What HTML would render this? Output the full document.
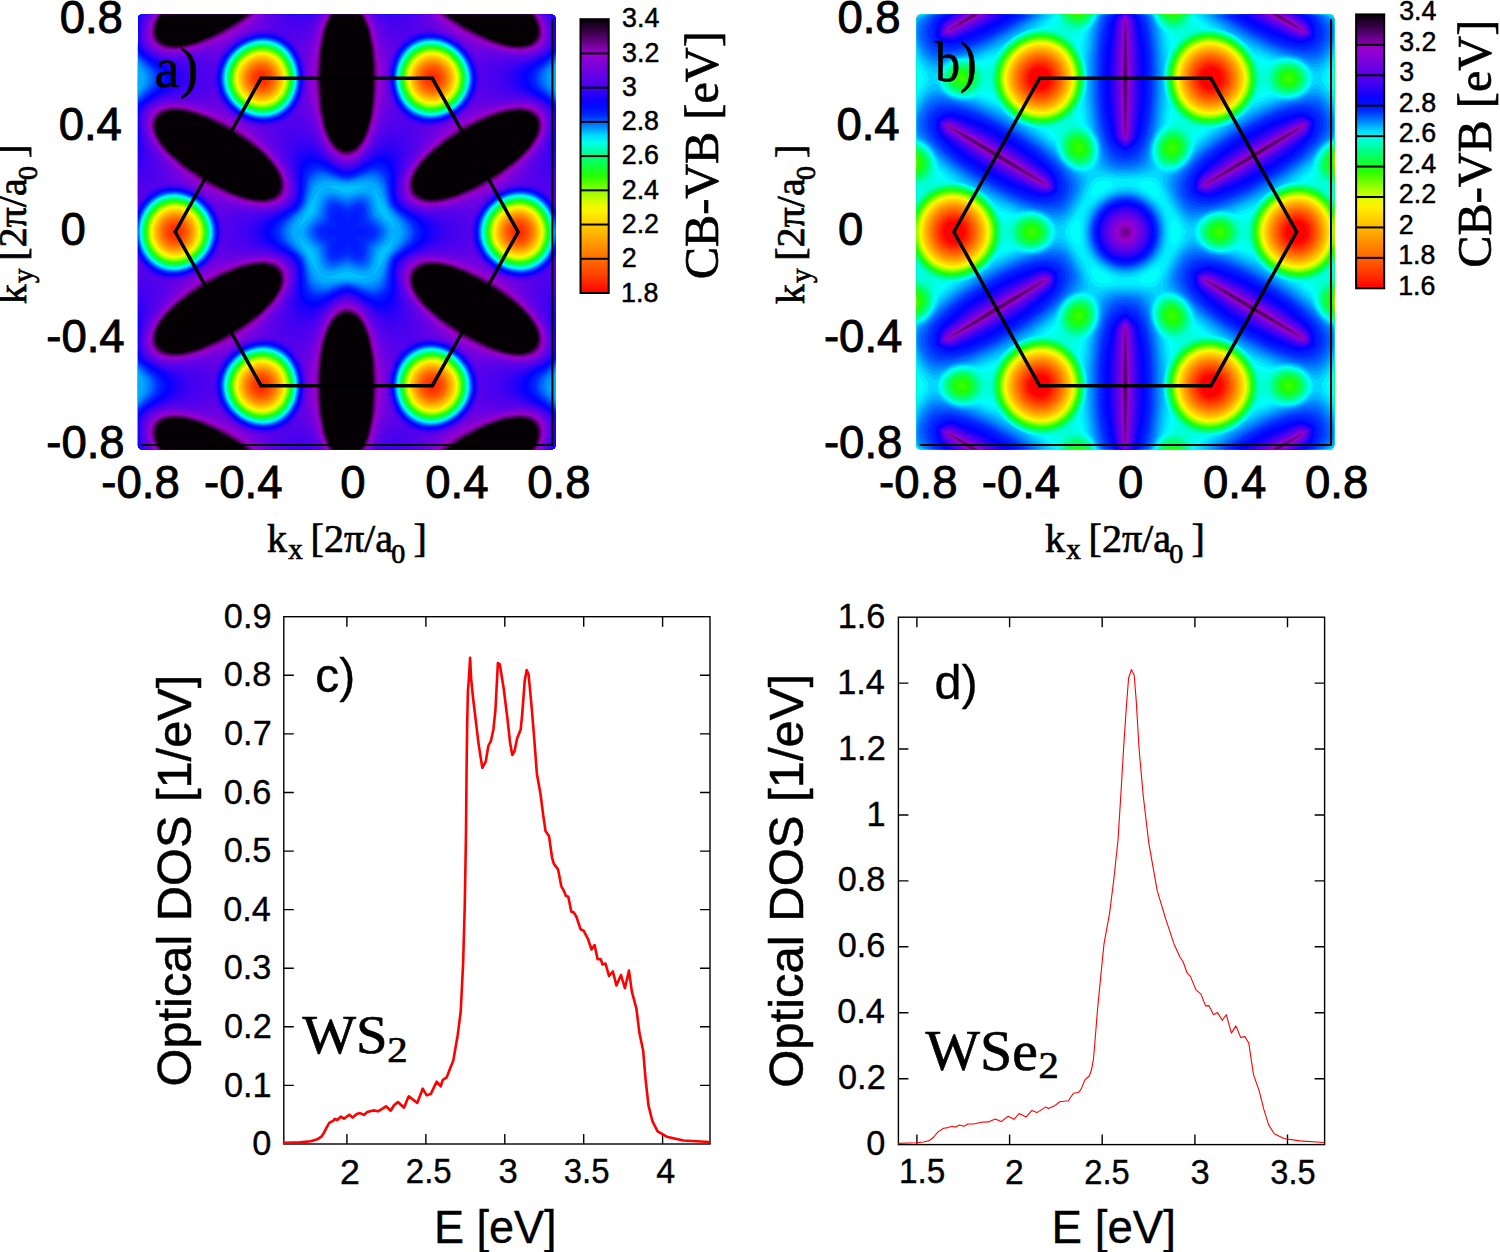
<!DOCTYPE html>
<html><head><meta charset="utf-8"><title>figure</title>
<style>
html,body{margin:0;padding:0;background:#fff;overflow:hidden}
svg{display:block}
.sa{font-family:"Liberation Sans", sans-serif;stroke:#000;stroke-width:0.9px}
.sb{font-family:"Liberation Sans", sans-serif;stroke:#000;stroke-width:0.35px}
.sc{font-family:"Liberation Sans", sans-serif;stroke:#000;stroke-width:0.5px}
.se{font-family:"Liberation Serif", serif;stroke:#000;stroke-width:0.7px}
</style></head><body>
<svg width="1500" height="1252" viewBox="0 0 1500 1252">
<rect width="1500" height="1252" fill="#fff"/>
<clipPath id="ca"><rect x="137.8" y="14.4" width="417.8" height="435.2" rx="4.5"/></clipPath>
<g clip-path="url(#ca)"><g transform="scale(0.5)" fill-rule="evenodd">
<rect x="276" y="29" width="836" height="870" fill="#ff0000"/>
<path fill="#ff0d00" d="M1112 900l-837-1 1-871 836 1 0 871z"/>
<path fill="#ff1600" d="M1112 900l-837-1 1-871 836 1 0 871z"/>
<path fill="#ff1f00" d="M1112 900l-837-1 1-871 836 1 0 871z"/>
<path fill="#ff2800" d="M1112 900l-837-1 1-871 836 1 0 871z"/>
<path fill="#ff3100" d="M1112 900l-837-1 1-871 836 1 0 871zM526 163l3-6-1-5-4-3-6 2-3 4 1 6 6 3 4-1zM869 163l3-4-1-6-3-3-6 0-4 5 1 6 5 3 5-1zM354 471l3-4 0-6-3-4-6 0-4 4 0 6 4 4 6 0zM1039 471l4-4 0-6-3-4-6 0-4 4-1 6 5 4 5 0zM524 779l4-4 1-6-3-4-6-1-4 4-1 5 3 4 6 2zM866 779l4-2 2-6-2-5-6-2-5 3-1 6 4 5 4 1z"/>
<path fill="#ff3a00" d="M1112 900l-837-1 1-871 836 1 0 871zM527 167l4-4 2-4-1-8-6-5-8 0-6 6 0 9 6 6 4 1 5-1zM870 167l6-7-2-9-6-6-8 1-6 7 0 6 1 4 7 5 8-1zM355 475l6-6 0-8-5-7-8-1-4 2-3 4-1 8 2 4 4 3 9 1zM1040 475l6-6 1-8-5-7-8-1-5 2-3 4-1 8 3 4 4 4 8 0zM524 783l8-6 1-8-5-8-8-1-7 5-2 4 0 6 5 6 8 2zM867 783l7-4 2-4 0-6-4-7-8-2-4 1-4 4-2 8 4 8 9 2z"/>
<path fill="#ff4100" d="M1112 900l-837-1 1-871 836 1 0 871zM525 171l5-2 4-4 2-6 0-6-6-9-10-2-6 3-4 4-2 10 2 4 4 5 6 3 5 0zM868 171l8-6 3-6-1-6-2-6-4-3-10-2-5 3-4 4-2 6 0 6 7 8 10 2zM357 477l7-8 0-11-4-5-4-3-6-1-5 2-5 4-3 4 0 6 1 6 8 7 6 1 5-2zM1043 477l4-4 3-5 0-5-2-6-3-4-5-3-10 1-7 8-1 6 2 6 8 7 6 0 5-1zM528 785l4-3 3-5 0-10-3-6-4-3-10 0-6 3-3 4-1 6 1 6 3 4 5 4 5 1 6-1zM870 785l6-4 2-4 1-6-1-6-4-4-4-3-10 0-5 3-3 6 0 10 4 5 4 3 6 1 4-1z"/>
<path fill="#ff4800" d="M1112 900l-837-1 1-871 836 1 0 871zM527 173l5-3 4-5 2-6 0-8-4-6-4-4-6-1-6 0-6 3-4 5-2 7 0 6 3 6 5 4 6 2 7 0zM870 173l6-4 4-5 1-7-1-6-3-6-5-4-6-1-6 0-6 4-4 5-1 6 1 8 3 6 5 3 6 2 6-1zM353 481l6-2 5-5 2-5 1-8-3-6-4-5-6-3-6 0-6 3-4 4-3 7-1 6 3 6 5 5 6 3 5 0zM1039 481l5-2 6-5 2-7 0-6-2-6-4-5-6-3-6 0-6 3-6 5-2 6 0 6 6 10 6 3 7 1zM529 787l5-4 4-6 0-6-1-6-3-6-6-4-6-1-6 2-5 3-4 6-1 8 1 6 3 4 6 4 6 1 7-1zM872 787l5-4 3-6 1-6-1-7-4-5-6-4-6-1-6 2-4 3-4 6-2 8 2 6 4 5 6 4 6 0 6-1z"/>
<path fill="#ff4f00" d="M1112 900l-837-1 1-871 836 1 0 871zM528 175l6-4 5-6 1-6 0-8-3-6-5-5-6-2-8 0-6 3-6 6-2 6 0 8 4 8 6 5 8 2 6-1zM870 175l7-4 5-6 1-6-1-8-3-6-5-5-6-2-8 0-6 3-5 6-3 8 1 8 4 6 5 4 8 3 6-1zM354 483l6-2 6-6 3-6 0-8-2-6-5-6-6-3-8-1-6 2-6 6-3 6-1 8 3 8 5 4 7 4 7 0zM1040 483l6-2 6-6 2-6 0-8-2-6-4-6-6-3-8-1-6 2-7 6-3 6 0 8 3 8 5 5 7 3 7 0zM530 789l5-4 4-6 1-6-1-8-3-7-6-4-6-2-8 2-6 3-5 6-2 8 2 8 5 7 6 3 8 2 6-2zM872 789l6-4 4-6 1-8-1-8-4-5-6-4-8-2-6 2-6 4-4 6-2 7 2 8 4 6 6 4 8 2 6-2z"/>
<path fill="#ff5600" d="M1112 900l-837-1 1-871 836 1 0 871zM528 177l7-4 5-6 2-8 0-8-4-8-5-4-7-3-8 0-7 3-6 6-3 8 0 8 3 8 7 6 8 2 8 0zM870 177l8-4 5-6 2-8-1-8-2-6-6-6-8-3-8 0-8 4-5 7-2 8 0 8 5 8 6 4 8 3 6-1zM354 485l8-3 5-5 3-8 1-8-3-8-6-6-6-3-8-1-8 3-5 5-4 8-1 8 3 8 5 6 8 4 8 0zM1040 485l8-3 4-5 4-8 0-8-3-8-5-6-6-3-8-1-8 3-6 5-4 8 0 8 3 8 5 6 8 4 8 0zM530 791l6-4 4-6 2-8-1-8-3-7-6-5-8-3-8 1-8 6-5 6-1 8 1 8 5 7 6 5 8 2 8-2zM873 791l7-5 4-7 1-8-1-8-4-6-6-5-8-2-8 2-6 3-6 8-2 8 2 8 4 7 7 5 9 2 7-2z"/>
<path fill="#ff5d00" d="M1112 900l-837-1 1-871 836 1 0 871zM528 179l8-4 5-6 3-8-1-10-3-8-6-6-8-3-8 0-8 4-6 6-4 9 0 8 3 8 7 6 8 4 10 0zM870 179l8-4 6-6 3-8-1-10-4-8-6-6-8-3-8 0-8 4-6 7-3 8 1 10 3 8 7 5 8 3 8 0zM352 487l8-2 7-6 5-8 1-8-2-8-5-8-8-5-8-1-8 2-8 6-4 8-1 8 1 8 6 8 8 5 8 1zM1038 487l8-2 7-6 4-8 1-8-2-10-5-6-7-5-8-1-8 2-8 6-5 8-1 8 2 8 6 8 8 5 8 1zM530 793l8-5 4-7 2-8-2-10-4-8-6-4-8-2-8 1-8 4-6 7-2 8 1 10 5 8 8 6 8 1 8-1zM873 793l7-5 5-7 2-8-1-9-4-7-8-6-8-2-8 1-8 5-5 6-2 8 1 10 4 8 8 5 8 2 9-1z"/>
<path fill="#ff6400" d="M1112 900l-837-1 1-871 836 1 0 871zM526 181l10-4 5-6 4-8 0-10-3-10-6-6-8-4-8-1-9 3-7 6-5 10 0 10 3 8 7 8 9 4 8 0zM868 181l10-4 6-6 4-8 0-10-2-8-7-8-8-4-9-1-8 3-8 7-4 9 0 10 3 10 6 6 9 4 8 0zM359 487l9-6 5-8 1-10-1-8-6-8-7-6-8-2-9 2-7 4-7 8-2 10 2 10 5 8 8 6 8 2 9-2zM1045 487l7-4 6-8 2-10-2-10-5-8-7-6-8-2-10 2-8 6-6 8-2 8 2 10 6 8 8 6 8 2 9-2zM530 795l8-5 5-7 2-8 0-10-4-8-7-7-8-3-10 1-8 4-6 7-4 10 1 10 5 8 8 6 8 3 10-1zM872 795l8-4 6-8 2-8 0-10-4-8-8-7-8-3-10 1-8 4-6 8-3 9 1 10 4 8 8 6 8 3 10-1z"/>
<path fill="#ff6b00" d="M1112 899l-837 0 1-871 836 1 0 870zM532 181l8-6 5-8 2-10-2-10-4-8-8-6-9-3-10 2-8 5-7 8-2 10 1 10 6 9 8 6 10 3 10-2zM874 181l9-6 5-8 2-10-2-10-5-8-8-6-9-3-10 2-8 5-6 9-2 11 2 10 5 8 8 6 9 2 10-2zM358 489l8-4 7-8 3-10-1-10-5-10-8-6-8-3-10 1-10 6-6 8-3 10 2 10 5 8 8 7 10 2 8-1zM1044 489l8-4 6-8 3-10-1-10-4-10-8-6-8-3-10 1-8 4-8 8-3 10 1 10 5 10 7 6 10 3 10-1zM528 797l10-5 6-7 3-10-1-10-4-10-6-6-8-3-10 0-10 4-7 7-4 10 0 10 5 10 6 6 10 4 10 0zM871 797l9-5 6-7 4-8 0-11-4-9-8-8-8-3-10 0-8 3-8 8-4 10 0 10 4 10 8 7 10 3 9 0z"/>
<path fill="#ff7100" d="M1112 899l-837 0 1-871 836 1 0 870zM531 183l9-6 6-8 2-10 0-10-4-9-8-7-10-4-10 1-10 5-7 8-4 10 1 12 6 9 8 7 10 3 11-1zM873 183l9-5 7-9 3-10-2-10-4-10-8-7-10-3-10 1-10 5-6 8-4 10 1 12 5 8 8 8 10 3 11-1zM357 491l9-4 7-8 4-10 0-10-4-10-7-8-10-4-10 0-10 4-8 8-3 10 0 12 4 10 9 7 10 3 9 0zM1043 491l9-4 7-8 3-10 0-10-4-10-6-8-10-4-10 0-10 4-8 8-4 10 0 10 4 10 8 8 10 4 11 0zM526 799l10-4 7-6 5-10 0-10-2-10-6-8-10-6-10-1-10 3-9 8-5 10-1 10 4 10 7 8 10 5 10 1zM868 799l10-3 8-7 5-10 0-10-2-10-7-9-10-5-10-1-10 3-8 8-5 10-1 10 3 10 7 8 10 5 10 1z"/>
<path fill="#ff7800" d="M1112 899l-837 0 1-871 836 1 0 870zM529 185l11-6 6-8 4-10-1-12-5-10-8-8-10-3-10 0-10 5-8 8-4 10 1 12 4 10 9 8 10 4 11 0zM871 185l9-4 8-8 4-10 0-12-4-10-7-8-9-5-12 0-10 4-8 8-5 11 1 12 4 10 8 8 10 4 11 0zM354 493l11-4 8-8 5-10 1-10-3-10-8-10-10-5-10-1-10 3-9 7-5 10-1 12 3 10 7 10 11 5 10 1zM1040 493l10-3 8-7 5-10 1-12-3-10-7-10-10-5-10-1-11 4-9 8-5 10-1 10 4 11 7 9 11 5 10 1zM532 799l9-6 7-10 2-10-2-12-6-10-8-6-10-3-10 2-10 6-7 9-3 10 1 12 6 10 9 6 12 3 10-1zM874 799l10-6 6-8 3-10-1-12-6-10-8-7-10-3-12 1-10 6-6 9-3 10 1 12 6 10 8 6 10 3 12-1z"/>
<path fill="#ff7f00" d="M1112 899l-837 0 1-871 836 1 0 870zM525 187l12-4 9-8 4-10 1-12-3-11-8-9-8-5-12-2-10 3-10 8-6 10-1 12 3 12 8 9 10 6 11 1zM867 187l12-4 9-7 5-11 1-12-4-12-7-8-9-5-12-2-10 3-10 8-5 10-1 12 3 12 7 9 10 6 11 1zM360 493l10-6 7-10 3-10-1-12-6-10-9-8-10-3-12 1-10 6-7 8-3 12 1 12 5 10 8 8 12 3 12-1zM1046 493l10-6 6-8 3-12-1-12-5-10-9-8-10-3-12 1-11 6-7 10-3 10 1 12 6 10 10 8 12 3 10-1zM530 801l10-5 7-9 4-12-1-12-5-10-9-8-10-4-10 1-10 4-9 9-4 12 0 12 5 10 10 9 10 3 12 0zM872 801l10-5 8-9 4-10 0-12-6-12-8-8-10-3-12 0-11 5-7 9-4 11 0 12 6 11 8 8 10 3 12 0z"/>
<path fill="#ff8600" d="M1112 899l-837 0 1-871 836 1 0 870zM532 187l10-6 7-10 3-12-1-12-5-11-9-7-11-4-12 1-10 5-9 10-4 12 1 12 6 11 10 8 12 4 12-1zM874 187l10-6 8-10 3-12-1-12-5-10-10-8-11-4-12 1-10 6-8 10-4 13 2 12 6 10 9 8 11 3 12-1zM357 495l11-5 9-9 4-12 0-12-5-11-10-9-10-4-12 0-10 4-9 10-4 12 0 12 5 11 8 9 12 4 11 0zM1044 495l10-5 8-9 4-12 0-12-5-12-9-8-10-4-12 0-12 6-7 8-5 12 0 12 6 12 8 8 12 4 12 0zM527 803l11-4 8-8 6-12 0-12-4-12-8-10-10-4-12-1-12 5-9 8-5 12 0 12 4 10 8 10 12 5 11 1zM869 803l11-4 10-9 5-11 0-12-3-11-8-9-12-6-12-1-12 5-8 8-5 12 0 12 4 12 7 8 12 5 11 1z"/>
<path fill="#ff8d00" d="M1112 899l-837 0 1-871 836 1 0 870zM529 189l11-5 9-9 4-12 0-14-5-12-9-8-11-5-12 0-12 6-9 9-4 12 0 12 5 12 10 10 12 4 11 0zM871 189l11-5 9-9 5-12 0-12-4-12-10-10-12-5-12 0-12 6-8 9-4 12 0 12 4 12 10 9 12 5 11 0zM353 497l13-4 9-8 6-12 1-12-3-12-8-10-11-6-12-2-12 4-10 8-6 12-1 12 3 12 8 10 10 6 13 2zM1040 497l12-4 9-8 6-12 1-12-4-12-7-10-11-7-12-1-12 4-10 8-6 12-2 12 4 12 8 10 12 7 12 1zM532 803l11-6 7-10 4-12-2-14-5-10-9-8-12-4-12 1-12 6-8 11-4 12 1 12 7 11 10 9 12 3 12-1zM874 803l11-6 8-10 4-12-1-12-6-12-10-8-12-4-12 1-10 5-9 10-4 12 1 14 6 12 10 8 12 3 12-1z"/>
<path fill="#ff9400" d="M1112 899l-837 0 1-871 836 1 0 870zM533 189l11-6 8-12 3-12-2-14-7-12-10-8-12-3-12 2-11 7-8 10-4 12 1 14 7 12 11 8 12 4 13-2zM875 189l11-6 8-10 4-12-1-14-7-12-9-8-13-4-12 1-12 6-8 11-4 12 1 14 7 12 10 8 12 4 13-2zM359 497l12-6 8-10 4-12 0-14-7-12-9-8-11-5-14 1-12 6-8 10-4 12 1 14 5 12 10 9 12 4 13-1zM1046 497l11-6 8-10 4-12-1-14-6-12-8-8-12-5-14 1-12 6-8 10-5 12 1 14 6 12 10 8 12 5 14-1zM530 805l12-6 8-10 4-12 0-14-6-12-8-9-12-4-12 0-12 5-10 10-5 12 1 14 6 13 9 9 13 4 12 0zM872 805l12-6 8-8 5-12 0-14-5-12-10-10-12-5-12 0-12 5-9 10-4 12 0 14 5 12 10 10 12 4 12 0z"/>
<path fill="#ff9b00" d="M1112 899l-837 0 1-871 836 1 0 870zM531 191l12-6 8-10 4-12 0-14-5-12-9-10-11-5-14 0-12 5-10 10-6 14 1 14 5 12 11 10 13 5 13-1zM873 191l12-6 9-10 5-12-1-14-5-12-9-10-12-5-14 0-12 5-10 10-5 14 1 14 6 13 9 9 13 5 13-1zM356 499l12-5 10-9 6-12 1-14-5-12-8-11-12-6-14-1-12 4-10 9-6 13-1 14 5 14 8 10 14 6 12 0zM1043 499l11-4 10-10 5-12 1-14-5-14-9-10-12-6-12 0-12 4-11 10-6 12-1 14 5 14 10 10 13 6 13 0zM534 805l12-8 7-10 3-14-2-14-6-11-10-8-12-4-14 2-12 7-8 10-4 14 2 14 7 12 11 8 14 4 12-2zM864 807l14-3 12-8 6-11 3-14-2-12-8-12-11-8-14-3-13 3-11 8-6 10-3 14 2 14 8 12 11 7 12 3z"/>
<path fill="#ffa100" d="M1112 899l-837 0 1-871 836 1 0 870zM527 193l13-5 10-9 6-12 1-14-3-13-9-11-11-7-14-2-14 4-11 9-7 14-1 14 4 14 9 10 14 7 13 1zM868 193l14-5 11-9 6-12 1-14-4-14-9-10-13-8-14-1-12 4-10 9-7 14-1 14 4 12 8 12 12 6 14 2zM361 499l11-6 10-12 4-12-1-14-6-12-10-10-13-5-14 1-13 6-9 12-4 14 1 14 7 13 10 8 14 4 13-1zM1047 499l13-7 7-11 4-14-1-14-6-12-10-9-12-4-14 1-13 6-9 11-5 13 1 14 7 14 11 9 14 4 13-1zM531 807l12-6 9-10 5-14-1-14-5-12-9-10-12-5-14 0-13 5-10 10-6 14 0 14 6 14 11 9 14 6 13-1zM873 807l12-6 10-10 5-12 0-14-6-14-10-10-12-5-14 0-13 5-9 10-6 14 0 14 6 13 10 10 14 6 13-1z"/>
<path fill="#ffa800" d="M1112 899l-837 0 1-871 836 1 0 870zM532 193l12-6 10-12 4-14-1-14-5-12-10-10-14-6-14 1-14 7-10 12-4 14 1 14 6 12 11 10 14 5 14-1zM874 193l14-7 9-11 4-14-1-14-6-13-10-9-14-6-14 1-12 6-10 11-5 14 1 16 6 12 10 10 14 5 14-1zM358 501l13-6 10-10 6-14-1-14-5-14-10-10-13-6-14 0-14 6-9 10-6 14 0 14 5 14 10 10 14 6 14 0zM1044 501l13-6 10-10 5-14 0-15-6-13-9-10-13-6-14 0-14 6-10 10-6 14 0 14 6 13 10 11 14 6 14 0zM527 809l13-4 11-10 6-14 1-14-4-14-8-10-12-7-14-2-14 4-11 9-7 12-2 16 4 14 10 12 12 6 15 2zM869 809l13-4 11-10 7-14 1-14-5-14-8-11-14-7-14-1-14 5-10 10-6 14-1 14 5 14 8 10 12 6 15 2z"/>
<path fill="#ffaf00" d="M1112 899l-837 0 1-871 836 1 0 870zM529 195l13-5 10-10 6-13 1-16-5-15-10-11-12-6-14-1-14 5-12 11-6 13-1 16 5 14 10 10 14 7 15 1zM870 195l14-5 11-11 7-14 0-14-5-14-9-11-14-7-14-1-14 5-11 10-6 14-1 16 6 15 10 11 12 5 14 1zM362 501l12-7 10-12 4-13-1-16-7-13-12-10-14-5-14 2-12 6-10 13-4 15 1 16 7 12 12 10 14 4 14-2zM1048 501l13-8 9-12 3-14-1-15-7-13-11-10-14-4-14 2-12 6-10 12-5 14 1 16 8 14 12 9 14 5 14-2zM532 809l14-7 8-11 5-14-1-16-6-13-10-10-14-5-14 1-14 7-10 11-5 15 1 14 6 14 12 10 14 5 14-1zM874 809l14-7 9-11 5-14-1-14-6-14-11-10-14-6-14 1-12 5-11 12-5 14 1 16 6 14 11 10 14 5 14-1z"/>
<path fill="#ffb600" d="M1112 899l-837 0 1-871 836 1 0 870zM533 195l13-7 9-11 5-14-1-16-6-14-11-11-14-5-14 1-15 7-10 12-5 14 1 16 7 14 12 10 14 5 15-1zM875 195l13-7 10-11 5-14-1-16-6-14-11-10-15-6-14 1-14 7-10 12-5 14 1 16 6 14 12 10 14 5 15-1zM358 503l14-6 11-12 6-14 0-14-6-14-11-12-14-6-14 0-14 5-11 11-6 16 0 16 6 14 11 11 14 5 14 0zM1045 503l15-7 9-11 5-14-1-16-5-14-10-10-14-6-14 0-14 6-11 10-6 14-1 16 6 14 12 12 14 6 15 0zM528 811l14-5 11-11 6-14 1-16-5-14-9-11-14-7-14-1-14 5-12 10-7 14-1 16 6 16 10 10 14 7 14 1zM870 811l14-5 12-11 6-14 1-14-4-14-10-12-13-8-16-1-14 5-11 10-7 14-1 16 5 14 10 12 14 7 14 1z"/>
<path fill="#ffbc00" d="M1112 899l-837 0 1-871 836 1 0 870zM530 197l14-6 10-10 6-14 1-16-5-16-10-11-14-7-14-1-16 6-12 11-7 14 0 16 6 16 11 11 14 6 16 1zM871 197l15-6 10-10 7-14 1-16-6-16-10-11-14-7-16-1-14 6-11 11-6 14-1 16 6 16 10 11 14 6 15 1zM352 505l15-4 13-10 8-12 2-16-4-16-8-12-14-9-16-3-14 4-13 10-8 14-2 16 5 16 8 12 14 8 14 2zM1039 505l15-4 12-10 7-12 2-16-3-16-8-13-12-8-16-3-15 4-13 9-9 13-2 16 3 16 10 13 14 8 15 3zM533 811l13-7 10-11 5-16-1-16-6-14-11-10-13-6-16 1-15 7-11 12-5 14 0 16 7 14 13 12 15 5 15-1zM875 811l13-7 10-11 6-14 0-16-6-14-12-12-14-6-16 1-14 6-11 13-5 16 1 16 7 14 12 10 14 5 15-1z"/>
<path fill="#ffc300" d="M1112 899l-837 0 1-871 836 1 0 870zM534 197l14-8 9-12 5-16-1-16-7-14-10-10-14-6-16 1-15 7-12 12-5 16 1 16 7 14 12 12 16 5 16-1zM875 197l15-8 10-12 5-16-1-16-7-14-13-11-14-5-16 1-14 7-10 13-5 17 1 16 8 14 12 11 14 4 15-1zM359 505l15-7 10-11 7-16-1-16-6-15-12-11-14-6-16 0-14 6-11 12-6 16 0 16 7 15 10 11 14 6 17 0zM1046 505l14-7 10-11 6-16-1-16-5-15-11-11-13-6-16 0-15 6-12 12-7 16 0 16 6 14 12 12 16 6 16 0zM529 813l15-6 10-10 7-16 1-16-6-16-10-12-14-6-14-1-16 6-12 11-7 14-1 16 5 16 11 12 16 7 15 1zM870 813l16-6 12-11 6-15 1-16-6-16-11-12-14-6-16-1-14 5-12 12-7 16 0 16 6 16 11 11 14 6 14 1z"/>
<path fill="#ffca00" d="M1112 899l-837 0 1-871 836 1 0 870zM530 199l15-6 11-12 6-16 0-16-5-16-11-12-14-6-16-1-16 7-12 12-7 14 0 16 6 16 11 12 16 7 16 1zM871 199l15-6 12-10 7-16 1-16-6-16-10-12-16-8-16-1-14 5-12 12-7 16-1 18 7 16 11 11 14 7 15 0zM352 507l16-4 14-11 8-15 2-16-4-16-10-13-14-8-16-3-16 5-12 9-8 15-2 17 4 16 10 14 13 8 15 2zM1040 507l16-5 12-10 8-15 1-16-4-16-9-13-14-9-14-2-16 4-14 10-9 16-2 16 4 16 11 14 14 8 16 2zM534 813l14-8 10-12 5-16-1-16-6-15-12-11-14-6-16 1-16 7-11 12-6 16 0 16 8 16 13 11 16 6 16-1zM875 813l15-8 10-10 6-16 0-16-6-15-12-12-16-7-16 0-16 8-10 12-6 16 1 18 7 14 12 12 16 5 15-1z"/>
<path fill="#ffd000" d="M1112 899l-837 0 1-871 836 1 0 870zM534 199l14-7 11-13 5-16-1-18-7-15-12-12-16-5-16 1-16 9-11 12-5 16 1 16 7 16 14 12 16 5 16-1zM875 199l16-8 11-13 5-15-1-18-8-16-12-10-16-6-16 1-14 7-12 14-5 16 1 18 8 15 12 11 16 5 15-1zM359 507l17-8 11-12 6-16-1-16-6-16-12-11-16-7-16 0-14 6-12 12-7 16 0 18 7 16 12 12 14 6 17 0zM1046 507l14-6 12-13 5-15 0-18-6-16-11-12-14-6-16 0-16 6-12 12-7 16-1 18 7 16 13 12 16 6 16 0zM529 815l15-5 12-12 7-15 1-18-6-16-10-13-14-7-16-1-16 5-14 12-7 16-1 16 6 17 11 13 17 7 15 1zM870 815l16-6 13-12 7-16 1-16-6-16-11-13-16-7-16-1-14 5-13 12-7 16-1 18 6 16 11 12 14 7 16 1z"/>
<path fill="#ffd700" d="M1112 899l-837 0 1-871 836 1 0 870zM530 201l16-6 11-12 7-16 0-18-5-16-11-13-16-7-16-1-16 7-13 12-8 16 0 16 5 16 13 14 17 7 16 1zM871 201l16-6 13-12 7-16 1-16-5-16-13-14-16-8-16-1-16 6-12 12-7 17 0 18 5 16 12 12 14 7 17 1zM352 509l16-4 14-10 10-16 2-16-4-18-10-14-14-9-18-3-16 4-14 12-8 15-2 17 4 16 10 15 14 8 16 3zM1039 509l16-4 13-10 8-14 3-18-4-18-9-14-14-9-16-3-16 4-15 10-9 15-3 17 4 18 10 14 15 9 17 3zM534 815l14-7 11-13 5-16 0-18-7-16-11-12-16-6-16 1-16 7-12 12-7 16 0 18 7 16 14 12 16 7 10 0 8-1zM875 815l15-7 12-13 6-16-1-18-7-16-14-12-16-6-16 1-15 7-11 13-6 17 1 18 7 16 13 12 17 5 15-1z"/>
<path fill="#ffde00" d="M1112 899l-837 0 1-871 836 1 0 870zM534 201l16-8 10-12 6-18-1-18-8-16-12-12-15-6-18 1-16 8-12 13-6 16 1 18 7 16 14 13 8 4 10 2 16-1zM875 201l17-8 11-14 6-16-1-18-8-16-12-11-16-7-18 1-16 8-11 13-6 18 1 18 8 16 13 12 17 5 15-1zM359 509l17-8 12-12 6-16 0-18-7-16-11-12-16-8-18 0-16 7-12 13-6 16-1 18 7 16 12 13 16 7 17 0zM1046 509l16-7 11-13 6-16 0-18-6-16-11-13-16-7-16 0-16 6-8 6-6 7-7 17 0 18 6 16 13 13 16 7 10 1 8-1zM529 817l16-6 13-12 7-16 0-18-5-18-11-12-15-8-16-1-16 5-14 12-9 16-1 18 6 17 12 14 16 8 17 1zM870 817l17-6 13-12 8-16 1-18-6-16-12-14-15-8-18-1-16 6-12 11-8 18-1 18 7 17 11 13 15 7 16 1z"/>
<path fill="#ffe400" d="M1112 899l-837 0 1-871 836 1 0 870zM530 203l16-6 12-12 7-16 1-18-5-18-11-14-16-8-16-1-18 6-14 13-8 16-1 18 6 18 13 13 16 8 18 1zM870 203l18-7 13-11 8-16 1-18-6-18-12-14-16-8-18-1-16 6-14 13-7 16-1 18 6 18 12 13 16 8 16 1zM363 509l15-8 12-14 6-18-2-18-8-16-14-12-16-5-18 1-15 8-12 14-5 18 2 18 8 17 12 11 8 3 10 3 17-2zM1050 509l15-8 11-14 5-18-2-18-7-16-12-11-16-6-18 1-17 8-12 14-6 18 2 18 8 16 15 12 18 6 16-2zM534 817l16-8 10-12 6-18 0-18-7-16-11-12-16-7-18 0-17 7-13 14-7 16 0 18 4 10 5 8 12 12 18 7 18-1zM875 817l16-8 13-14 6-16-1-18-7-16-14-13-16-7-18 1-16 8-12 13-6 18 1 18 7 16 6 7 8 6 16 6 17-1z"/>
<path fill="#ffeb00" d="M1112 899l-837 0 1-871 836 1 0 870zM534 203l16-8 12-14 5-18-1-18-6-16-12-13-16-6-18 0-17 7-7 6-7 8-7 18 1 18 7 16 6 8 8 6 18 7 18-1zM875 203l17-8 12-13 6-17 0-18-7-16-13-14-18-7-18 0-16 8-12 13-6 18 1 20 7 16 6 7 8 6 16 6 17-1zM358 511l18-7 13-13 4-8 3-10 0-18-6-16-14-14-16-8-18 0-16 7-13 13-7 18 0 18 6 16 12 14 16 8 10 1 8-1zM1046 511l16-7 12-13 7-18 0-18-6-16-12-14-15-7-18-1-18 7-13 13-5 8-3 10 0 18 7 17 12 13 18 8 18 0zM528 819l18-6 12-12 8-16 1-20-6-18-11-14-16-8-16-1-18 6-14 12-9 17-1 18 6 18 12 14 16 8 10 2 8 0zM869 819l18-6 14-12 8-16 2-18-6-18-11-14-16-9-18-2-17 5-14 12-8 16-2 20 6 18 11 14 16 8 17 2z"/>
<path fill="#fff200" d="M1112 899l-837 0 1-871 836 1 0 870zM529 205l17-6 13-12 8-16 1-20-5-18-11-15-16-8-18-2-18 6-15 13-5 8-4 10-1 18 6 18 13 14 16 8 10 2 9 0zM870 205l18-6 14-13 5-7 4-10 1-18-6-18-12-14-16-9-18-2-10 2-8 4-8 6-6 7-8 18-1 18 5 18 12 14 16 9 18 1zM362 511l16-8 13-14 6-18 0-18-8-16-13-14-18-7-18 0-10 4-8 5-12 14-5 18 1 20 8 17 14 13 16 5 18-1zM1050 511l16-9 11-13 5-18-1-20-7-17-6-7-8-6-16-5-18 1-17 8-7 7-6 8-7 17 0 10 2 10 9 17 14 12 18 6 18-1zM534 819l16-8 12-13 6-17-1-20-7-18-12-13-16-6-18 0-18 8-13 13-8 18 1 18 7 18 15 14 18 6 18 0zM874 819l18-8 12-12 7-18 0-18-7-18-12-13-8-5-10-3-18 0-10 3-8 4-12 14-7 18 0 20 8 18 13 12 16 6 18 0z"/>
<path fill="#fff900" d="M1112 899l-837 0 1-871 836 1 0 870zM534 205l16-8 13-14 6-18-1-20-8-18-12-13-16-6-18 0-18 8-8 7-6 7-5 9-3 10 1 18 8 18 7 8 8 6 18 6 18 0zM874 205l18-8 13-14 7-18 0-18-8-18-6-8-8-6-18-7-18 0-10 4-8 5-12 14-6 18 1 20 8 18 13 12 16 6 18 0zM358 513l18-7 13-13 9-18 0-18-6-18-6-8-8-7-18-8-18-1-10 3-8 5-12 12-8 18 0 20 6 18 13 14 17 7 18 1zM1045 513l17-7 7-5 6-8 8-18 0-20-7-18-12-14-16-7-18-1-18 7-14 13-9 18-1 18 7 18 13 14 8 5 10 4 10 1 9 0zM527 821l10-2 9-4 13-12 9-18 1-18-5-18-10-15-16-10-18-2-18 5-9 6-7 7-10 17-2 18 5 18 5 8 7 8 17 9 10 3 9 0zM867 821l19-5 8-6 8-7 5-8 4-10 2-18-6-18-11-15-16-9-10-3-10 0-10 2-8 4-14 12-9 17-1 19 5 19 11 14 16 10 17 2z"/>
<path fill="#f3fb00" d="M1112 899l-837 0 1-871 836 1 0 870zM527 207l10-2 9-4 14-12 8-16 2-20-5-20-11-15-16-10-18-2-10 2-10 4-16 13-8 16-3 10 0 10 5 18 6 8 7 8 17 9 10 3 9 0zM868 207l10-2 9-4 15-12 10-18 2-18-5-18-12-16-17-10-10-2-10-1-18 6-14 12-9 17-2 20 1 10 4 10 12 15 16 9 18 2zM362 513l17-8 13-14 7-18 1-10-2-10-8-18-14-14-18-7-18 1-10 3-8 5-12 14-5 10-2 10 1 20 8 18 14 13 8 4 10 2 18-1zM1050 513l16-8 12-14 4-10 2-10-1-20-8-18-13-13-8-3-10-3-18 1-17 8-14 14-7 18-1 10 1 10 8 18 7 8 9 6 18 7 10 0 10-1zM533 821l17-8 7-6 6-8 6-18 0-20-7-18-12-14-8-4-10-3-18 0-18 8-14 13-8 18-1 10 1 10 7 18 7 8 8 6 18 8 10 1 9-1zM874 821l18-8 14-14 7-18 0-18-7-18-13-14-17-8-10-2-10 1-10 3-8 4-13 14-7 18-1 20 7 18 6 8 8 7 8 4 10 3 18 0z"/>
<path fill="#e3fb00" d="M1112 899l-837 0 1-871 836 1 0 870zM533 207l9-3 9-5 12-14 5-10 3-10-1-20-8-18-12-14-8-4-10-3-18 0-18 8-9 7-7 8-7 18-1 10 1 10 8 18 6 8 9 6 18 8 10 1 9-1zM874 207l18-8 14-14 8-18 1-10-1-10-8-18-13-14-17-8-10-2-10 1-10 3-8 4-14 14-5 10-2 10 0 20 7 18 6 8 8 7 8 4 10 3 18 0zM356 515l18-6 8-6 8-8 8-16 2-10 0-10-5-18-5-8-8-9-9-5-9-4-10-2-10 0-18 6-14 13-5 9-4 10-1 20 6 18 12 16 8 5 10 4 18 1zM1044 515l18-6 8-7 6-7 8-18 1-20-2-10-5-10-12-14-16-9-18-1-18 6-9 6-8 8-9 18-2 10 1 10 2 10 5 9 13 15 9 5 10 4 18 1zM537 821l9-4 8-6 11-14 6-18-1-21-8-18-14-13-8-4-10-2-18 1-18 8-14 15-7 18-1 10 1 10 9 18 7 8 9 7 10 4 10 2 19-1zM877 821l10-4 9-6 12-14 6-18 1-10-2-10-9-18-14-13-18-7-10-1-10 2-16 7-8 8-6 8-4 10-2 10 1 20 8 18 7 7 8 6 18 6 10 1 9-2z"/>
<path fill="#d4fc00" d="M1112 899l-837 0 1-871 836 1 0 870zM537 207l17-9 12-15 6-20-2-20-8-18-6-8-8-6-18-6-18 1-18 8-15 15-5 10-2 10-1 10 2 10 3 10 6 8 6 8 10 7 10 4 10 2 19-1zM877 207l10-4 9-6 12-14 7-18 1-10-2-10-8-18-15-14-9-5-10-3-10-1-10 2-10 4-8 5-12 15-7 19 0 12 2 10 8 18 7 7 8 6 18 6 19-1zM361 515l11-4 8-5 14-15 7-18 0-10-1-10-8-18-14-15-18-7-10-1-10 1-10 3-8 5-13 14-5 10-3 10 1 20 3 10 5 10 6 7 8 7 8 4 10 3 19-1zM1049 515l17-8 12-14 5-10 2-10 0-20-7-19-6-8-8-6-8-5-10-3-18 1-10 3-9 5-9 8-6 7-8 19-1 10 2 10 7 18 7 8 9 7 10 5 10 3 19-1zM532 823l18-7 8-7 6-8 7-18 0-20-2-10-5-10-12-14-17-8-9-2-10 1-19 7-8 6-8 8-8 18-2 10 1 10 2 10 5 10 7 8 8 7 18 8 10 2 10-1zM872 823l10-3 10-5 14-14 8-18 2-10-1-10-7-19-14-15-18-8-10-2-10 1-10 3-8 4-14 14-5 10-3 10 0 20 2 10 5 10 13 14 8 4 10 4 18 0z"/>
<path fill="#c4fd00" d="M1112 899l-837 0 1-871 836 1 0 870zM532 209l10-3 9-5 13-14 8-19 0-21-3-10-4-10-13-14-17-8-19-1-19 7-8 6-8 8-6 10-3 10-1 20 3 10 5 10 7 8 8 7 18 8 10 2 10-1zM872 209l10-3 10-5 8-6 7-8 8-18 1-20-6-18-6-9-8-7-10-6-10-4-10-1-10 0-18 7-14 14-6 10-3 10-1 10 1 12 3 10 5 10 13 14 8 4 10 4 18 0zM354 517l20-6 16-13 9-17 3-10 0-10-1-10-4-10-5-9-8-8-18-10-10-3-10 0-10 2-10 4-14 12-10 18-2 10 0 12 5 20 5 8 8 8 8 6 9 4 9 2 10 0zM1043 517l9-2 9-4 15-13 9-17 2-10 0-12-6-20-11-16-16-9-10-3-10 0-10 2-10 4-16 13-7 9-4 10-2 20 2 10 4 10 13 16 18 9 10 3 11 0zM536 823l10-4 8-5 12-15 6-20-1-20-7-19-6-7-8-7-18-7-10-1-10 2-18 8-8 7-7 8-5 10-3 10 1 20 8 18 6 8 10 7 10 5 10 3 10 0 10-1zM876 823l11-4 9-6 13-14 4-10 3-10-1-20-9-18-14-14-10-5-10-3-10-1-10 2-10 4-8 5-12 14-5 10-2 10-1 12 2 10 8 18 14 14 18 7 10 0 10-1z"/>
<path fill="#b4fe00" d="M1112 899l-837 0 1-871 836 1 0 870zM536 209l10-4 8-5 12-15 7-20 0-12-1-10-8-19-14-14-18-7-10 0-10 1-10 3-10 6-8 8-7 8-4 10-3 10 1 20 3 10 6 9 8 8 8 6 10 5 10 3 10 0 10-1zM876 209l11-4 9-6 13-14 5-10 3-10-1-20-8-19-8-9-8-6-10-5-10-3-10 0-10 1-10 4-8 5-8 8-6 8-6 20-1 12 2 10 9 19 14 13 18 7 10 0 10-1zM360 517l19-8 15-15 5-9 3-10 0-20-3-10-5-10-14-15-10-6-10-3-10-1-10 1-10 3-8 5-8 7-6 7-8 20-1 10 1 12 3 10 5 10 6 8 8 6 8 5 10 3 10 1 10-1zM1048 517l10-3 8-5 8-7 6-8 7-19 1-12-1-10-7-19-6-8-8-7-8-5-10-3-10-1-10 1-10 3-10 6-8 6-7 9-6 10-3 10 1 20 3 10 6 10 14 14 10 5 10 3 10 1 10-1zM531 825l9-2 10-5 13-13 9-18 1-10 0-12-6-20-5-9-7-7-17-9-10-2-10 0-10 2-10 4-16 14-6 9-4 10-2 20 2 10 4 10 6 8 8 8 10 7 10 3 10 2 11 0zM871 825l19-7 16-13 6-10 4-10 1-20-2-10-5-10-6-9-8-7-18-9-20-2-10 2-10 5-14 13-9 19-2 10 1 12 6 20 6 8 7 8 9 5 10 4 19 1z"/>
<path fill="#a5fe00" d="M1112 899l-837 0 1-871 836 1 0 870zM531 211l9-2 10-5 14-13 5-10 4-10 1-22-6-20-6-9-7-7-17-9-10-2-10 0-10 2-10 5-10 6-7 8-10 18-2 10 0 12 2 10 5 10 6 8 8 8 10 7 10 3 10 2 11 0zM871 211l19-7 16-13 10-18 2-10 0-12-2-10-4-10-6-9-8-8-10-6-10-4-20-2-10 2-10 5-8 6-7 8-6 10-3 10-1 22 6 20 7 9 7 7 17 8 10 2 11 0zM363 517l11-4 9-6 14-16 4-10 3-10-2-20-8-19-7-7-9-7-10-5-10-3-20 1-10 3-8 5-8 8-6 8-5 10-2 12 1 22 4 10 5 10 15 13 10 4 10 2 19-1zM1052 517l10-4 8-6 7-8 5-8 6-20 0-12-1-10-4-10-5-9-14-13-18-7-20 1-10 3-10 6-14 15-6 10-2 10-1 12 1 10 4 10 6 9 8 9 8 6 10 5 10 2 12 1 10-2zM535 825l11-4 8-5 13-15 7-20-1-22-7-19-6-8-8-7-18-7-20 0-10 3-10 5-9 7-7 9-8 19-1 12 1 10 3 10 6 10 15 14 10 5 10 3 10 1 11-1zM875 825l19-8 8-7 7-9 6-10 2-10 0-20-3-10-6-10-14-15-10-5-10-3-20 0-18 7-8 7-7 9-8 20 0 22 3 10 5 10 7 8 8 7 18 7 10 1 11-1z"/>
<path fill="#95ff00" d="M1112 899l-837 0 1-871 836 1 0 870zM535 211l11-4 8-5 7-7 6-8 7-20 0-22-8-20-6-9-8-6-18-8-20 0-10 3-10 5-9 7-7 8-6 10-3 10-1 10 1 12 3 10 5 10 7 8 10 8 10 5 10 3 10 1 11-1zM875 211l19-8 9-8 7-8 5-10 3-10 0-20-3-10-5-10-6-8-10-8-18-9-12-1-10 1-18 7-8 7-7 9-5 10-4 12 1 22 3 10 5 10 7 8 8 7 18 7 10 1 11-1zM358 519l20-8 8-6 8-8 6-10 3-10 1-20-2-10-5-10-13-16-10-7-10-4-10-1-12 0-10 2-10 6-15 14-5 10-3 10-1 22 3 12 5 9 6 9 8 7 8 5 10 3 10 2 10-1zM1047 519l9-3 10-5 14-14 5-10 3-10 1-22-7-20-6-9-8-7-8-6-10-3-20-1-10 3-10 4-9 7-8 8-6 10-3 10-2 10 1 12 2 10 5 10 8 9 8 7 10 6 10 3 10 2 11-1zM529 827l10-2 9-4 8-6 8-8 9-18 2-22-5-21-6-9-7-8-8-6-9-5-10-2-10 0-20 5-10 7-8 7-11 18-3 10 0 12 1 10 5 11 6 9 8 9 10 6 10 5 10 2 11 0zM868 827l12-3 10-4 16-13 10-18 3-10 0-12-2-10-4-10-5-9-8-8-10-7-9-4-11-3-10 0-10 2-10 4-8 5-8 8-6 10-4 10-2 22 6 21 5 9 7 8 18 10 10 2 10 0z"/>
<path fill="#83ff00" d="M1112 899l-837 0 1-871 836 1 0 870zM528 213l11-2 9-4 9-6 7-8 6-10 4-10 2-22-2-12-4-10-12-16-8-6-10-4-20-3-12 3-10 4-10 6-8 8-6 9-4 10-3 11 0 10 2 12 5 10 6 9 8 8 10 6 10 5 10 2 10 0zM868 213l12-3 10-4 16-13 11-18 2-10 1-12-6-20-6-10-7-8-9-7-10-5-10-2-12-1-10 2-10 4-8 5-8 8-7 10-4 10-2 22 2 12 4 10 6 10 7 7 8 6 10 5 10 2 10 0zM362 519l12-4 9-6 9-8 5-8 5-10 3-10-1-20-3-10-5-10-7-8-9-8-10-5-10-3-12-1-10 1-18 8-8 7-7 9-5 10-3 12 1 22 8 20 8 9 8 6 10 5 10 3 10 0 10-1zM1051 519l10-4 9-6 8-8 5-8 7-20-1-22-3-10-6-10-6-9-8-6-10-5-10-3-20 1-10 3-10 6-9 7-7 10-5 10-3 10-1 12 2 10 3 10 6 10 8 8 10 8 10 4 10 3 10 0 11-1zM534 827l10-3 10-6 8-7 5-8 8-20 0-22-7-21-6-8-8-7-18-9-10-1-12 1-10 3-10 5-9 7-7 8-6 10-4 10-1 10 1 12 3 10 5 10 7 10 9 7 10 5 10 4 12 1 10-1zM874 827l20-8 9-8 7-8 5-10 4-10 1-10-1-12-3-10-6-10-6-9-9-7-19-9-12-1-10 1-10 3-10 5-8 8-6 8-5 9-3 12 0 22 7 20 7 8 8 7 10 6 10 3 20 0z"/>
<path fill="#71ff00" d="M1112 899l-837 0 1-871 836 1 0 870zM534 213l10-3 10-6 8-7 6-8 8-20 1-12-1-12-8-20-6-9-8-7-18-8-10-2-12 1-10 3-12 6-8 7-8 9-5 10-4 10-1 10 1 12 3 10 6 11 7 9 9 7 10 5 10 4 12 1 10-1zM874 213l20-8 10-8 6-8 6-10 3-10 2-10-1-12-3-10-5-11-8-9-8-7-10-6-10-3-12-2-10 1-10 3-10 6-8 7-7 9-5 10-3 12 0 22 8 20 7 9 8 7 10 5 9 3 11 1 10-1zM356 521l12-3 10-5 16-13 6-9 4-10 2-10 0-12-2-12-4-10-6-9-8-8-10-6-10-5-12-2-10 0-10 2-10 4-8 6-8 9-6 10-4 11-2 22 3 12 4 10 13 16 8 6 10 4 12 2 10 0zM1045 521l11-3 10-5 8-6 6-8 6-10 3-10 2-22-3-12-4-10-13-16-9-6-9-4-11-2-10 0-12 3-10 4-9 7-8 8-7 10-4 10-1 10 0 12 2 10 5 10 6 10 9 8 9 6 12 4 10 2 11 0zM538 827l10-4 8-5 8-8 6-9 4-10 2-12-1-22-3-10-6-10-6-8-8-7-10-5-10-2-20 0-10 4-10 5-8 7-9 10-5 10-3 12-1 12 2 10 4 10 6 10 8 9 9 7 11 5 10 2 12 1 10-2zM878 827l10-4 10-6 8-7 6-9 5-10 3-10 1-12-2-10-3-10-6-10-7-8-9-8-10-5-10-3-12-1-10 1-10 4-10 6-8 8-6 8-5 10-2 12-1 12 2 11 8 19 8 9 8 7 10 5 10 2 10 1 12-2z"/>
<path fill="#5fff00" d="M1112 899l-837 0 1-871 836 1 0 870zM538 213l10-4 9-6 13-16 4-10 3-12-1-22-3-10-5-11-8-9-8-6-18-8-10-1-12 2-10 3-11 6-9 8-7 8-5 10-4 12-1 12 2 10 4 12 6 10 7 8 10 7 10 5 12 3 12 1 10-2zM877 213l11-4 10-6 8-7 7-9 5-10 3-10 0-12-1-10-3-10-5-10-7-8-9-8-10-6-12-4-12-1-10 2-10 3-10 6-8 8-6 8-5 10-3 12-1 12 2 12 3 10 6 10 8 10 8 6 10 5 10 2 10 1 11-2zM361 521l11-4 10-5 8-7 8-9 5-11 3-10 1-12-1-10-3-10-5-11-8-9-8-7-10-5-10-4-12-1-10 1-10 3-10 5-8 7-8 9-5 10-3 12-1 12 1 12 8 20 8 9 8 7 10 5 10 3 10 1 11-1zM1050 521l10-4 10-6 8-7 6-9 7-20 1-12-2-12-8-20-6-9-8-7-10-5-10-3-20 0-12 4-10 5-9 7-7 9-6 11-3 10-1 10 1 12 3 10 6 11 7 9 9 7 10 5 12 4 12 1 10-1zM533 829l11-3 9-5 9-8 6-7 5-11 3-10 1-22-3-12-4-10-6-9-8-8-18-9-10-2-12 1-12 3-10 5-9 7-8 8-6 10-4 10-2 10 1 12 3 12 5 10 7 10 9 7 10 6 10 4 12 2 11-1zM872 829l12-3 10-5 10-8 7-8 5-10 4-10 1-10 0-12-3-10-4-10-8-10-8-8-10-6-10-4-12-2-10 1-10 2-10 5-8 6-8 10-9 20-2 12 1 12 3 12 4 10 7 8 8 8 10 6 10 3 10 2 10-1z"/>
<path fill="#4dff00" d="M1112 899l-837 0 1-871 836 1 0 870zM533 215l11-3 9-5 9-7 7-9 8-20 1-12 0-12-3-12-5-10-6-9-8-7-8-6-10-4-10-1-12 0-12 3-10 5-17 15-6 10-4 10-2 12 0 12 3 12 5 10 8 10 9 7 10 6 10 4 12 1 11 0zM872 215l12-3 10-5 10-8 7-8 6-10 3-10 2-10 0-12-3-12-5-10-14-16-10-7-12-4-12-2-10 0-10 3-10 4-8 6-8 9-6 11-4 10-1 12 0 12 3 12 4 10 6 8 8 9 10 6 10 4 12 2 10-1zM353 523l11-2 11-4 9-6 9-8 7-10 5-10 2-10 1-12-2-12-4-10-6-10-7-8-9-7-12-6-10-2-12-1-10 2-11 4-9 6-8 8-6 9-5 11-2 12-1 12 2 12 4 10 6 10 8 8 8 6 10 5 10 2 11 1zM1042 523l12-2 9-4 9-6 8-8 6-10 4-10 2-12 0-12-2-12-3-10-6-10-7-8-8-6-10-5-10-2-12-1-12 2-10 5-10 6-10 9-6 10-5 10-2 10 0 12 2 12 4 10 7 9 8 8 10 7 10 5 12 3 10 0zM537 829l11-4 8-5 8-8 6-9 5-10 3-12 0-12-1-12-3-10-6-11-8-9-8-6-18-8-10-1-12 2-10 3-11 6-9 8-7 8-6 10-4 12-1 12 2 10 4 12 5 10 7 8 10 8 10 5 12 3 12 1 11-1zM876 829l12-4 10-6 8-7 7-9 5-10 4-12 0-12-1-10-3-10-6-10-7-8-9-8-10-6-12-4-12-1-10 2-10 3-10 6-8 7-7 9-5 10-3 12-1 12 2 12 8 20 8 10 8 6 10 6 10 3 12 0 10-1z"/>
<path fill="#3cff00" d="M1112 899l-837 0 1-871 836 1 0 870zM537 215l11-4 8-5 8-7 7-10 4-10 3-12 1-12-1-12-4-12-6-10-6-9-8-6-10-5-10-3-10-1-12 1-12 4-10 6-9 7-8 10-5 10-3 12-1 12 1 10 4 12 6 10 7 8 10 8 10 5 12 3 12 1 11-1zM876 215l12-4 10-6 8-7 7-9 6-10 3-12 1-12-1-10-4-12-6-10-7-8-9-8-10-6-12-3-12-1-10 1-10 3-10 6-9 8-7 10-5 10-3 12 0 12 1 12 9 20 7 10 9 7 10 5 10 3 12 0 10-1zM359 523l11-3 10-5 10-8 8-9 6-10 3-11 2-10-1-12-3-12-5-10-8-10-8-7-10-6-12-4-12-2-10 1-10 3-10 5-8 6-8 10-6 10-3 12-1 12 0 12 4 12 4 10 8 10 8 7 10 5 10 4 10 1 11-1zM1048 523l10-3 10-5 9-8 7-9 5-9 3-12 1-12-1-12-3-12-5-10-6-9-8-7-8-5-10-4-10-2-12 1-12 3-10 5-10 7-8 9-6 10-4 11-2 11 1 12 3 12 5 10 8 10 9 8 10 5 12 4 12 2 10-1zM531 831l11-3 10-5 8-6 7-8 10-20 2-12 0-12-3-12-3-10-7-10-7-8-9-7-10-4-10-2-12 0-12 3-10 4-10 7-8 8-7 9-5 12-2 10 0 12 2 12 5 10 6 10 9 8 10 7 12 5 12 2 11 0zM870 831l12-3 10-4 10-7 8-8 6-10 4-10 3-12 0-12-3-12-5-10-7-10-8-8-10-7-10-4-10-2-12 0-12 3-10 4-8 6-8 9-6 10-4 11-2 12 0 12 3 12 4 10 6 10 8 8 9 6 10 4 10 2 12 0z"/>
<path fill="#2aff00" d="M1112 899l-837 0 1-871 836 1 0 870zM530 217l12-3 10-4 9-7 7-8 6-10 4-12 2-12-1-12-2-12-4-10-6-10-8-8-9-7-10-4-10-2-12 0-12 3-10 4-10 7-9 9-7 10-4 10-3 12 0 12 3 12 4 10 7 10 9 8 10 7 12 5 12 2 10 0zM869 217l13-3 10-4 10-7 8-8 7-10 4-10 3-12 0-12-3-12-4-10-7-10-8-9-10-7-11-4-11-3-12 0-12 3-10 4-8 6-8 9-6 9-5 12-2 12 0 12 2 12 5 11 6 10 8 8 9 7 11 4 10 2 11 0zM363 523l11-4 10-6 8-6 8-10 5-10 4-12 1-12-1-10-4-12-5-10-7-8-9-8-10-6-12-4-12-2-12 2-10 3-10 5-9 8-7 10-6 12-3 12 0 12 1 12 4 12 6 9 6 9 10 7 10 5 10 3 12 1 11-2zM1052 523l11-4 9-6 8-8 7-10 4-10 3-12 0-12-2-12-8-21-8-9-8-7-10-5-10-3-10-1-12 2-12 4-10 5-8 7-9 10-5 10-4 12-1 12 1 12 5 12 6 10 7 8 10 8 10 5 12 4 12 1 12-2zM536 831l10-3 10-6 8-7 7-10 5-10 3-12 1-12-1-12-4-12-5-10-6-9-8-7-10-6-10-3-10-1-12 1-12 3-10 5-10 8-8 10-6 10-4 11-1 12 1 12 4 12 5 10 7 8 10 8 10 6 12 4 12 1 12-1zM875 831l12-4 11-6 8-7 7-9 6-10 4-12 1-10-1-12-4-12-5-10-8-10-8-7-10-6-12-4-12-1-10 1-12 3-10 6-8 7-7 9-5 10-4 12-1 12 1 12 3 12 5 10 7 10 9 7 10 6 10 3 12 1 11-1z"/>
<path fill="#1dff06" d="M1112 899l-837 0 1-871 836 1 0 870zM535 217l11-3 10-6 8-7 7-10 5-10 4-12 1-12-1-12-4-12-4-10-8-10-8-8-10-5-10-4-10-1-12 1-12 4-10 5-10 7-8 9-6 11-4 11-2 12 1 12 3 12 6 10 8 10 10 8 10 6 12 4 12 1 11-1zM874 217l12-4 10-5 10-8 8-9 6-10 3-12 2-10-1-12-3-12-6-10-7-10-10-8-10-6-10-4-12-2-12 1-12 3-10 6-8 7-8 9-5 10-3 12-2 12 1 14 4 12 5 10 7 10 9 7 10 6 10 3 12 1 10-1zM357 525l11-3 12-5 10-8 8-8 6-10 4-10 2-12 0-12-3-12-4-10-7-10-8-8-10-7-12-5-12-2-12 0-12 3-10 5-8 6-8 9-6 11-4 12-2 12 1 12 2 12 4 10 7 10 8 8 10 6 10 4 12 2 11 0zM1046 525l12-3 10-5 8-6 8-10 5-10 4-12 2-12-1-12-3-12-4-10-6-10-8-8-9-6-10-4-10-2-12 0-12 3-12 5-10 7-8 9-7 10-4 10-3 12 1 12 2 12 6 12 7 10 9 8 11 6 12 5 12 1 10 0zM526 833l12-2 10-3 10-7 8-7 6-9 5-12 3-12 1-12-2-12-4-12-5-11-8-9-8-6-10-5-10-3-12-1-12 2-10 3-10 6-10 8-8 10-5 10-4 12-1 12 2 12 4 11 6 11 8 9 10 7 10 6 12 3 12 1zM865 833l13-2 10-4 11-6 9-8 8-10 5-10 3-12 1-12-2-12-4-10-5-10-9-10-11-8-10-5-10-3-12-1-12 2-10 3-10 6-8 8-7 10-5 10-3 12-1 12 1 12 4 12 5 10 8 9 8 7 10 6 12 3 11 1z"/>
<path fill="#19ff16" d="M1112 899l-837 0 1-871 836 1 0 870zM539 217l11-4 8-6 9-8 6-10 5-12 3-12 0-12-1-12-4-12-6-10-7-8-9-8-10-5-12-3-10-1-12 2-12 4-10 6-10 9-8 10-5 10-3 12-1 12 2 12 4 12 6 10 9 9 10 7 12 6 12 3 12 1 11-2zM878 217l12-5 10-6 8-7 8-10 5-10 4-12 1-12-2-12-4-12-6-10-8-9-10-8-10-5-12-4-12-1-12 2-10 3-10 6-9 8-7 11-5 11-3 12 0 14 1 12 4 12 6 10 7 8 10 8 10 4 12 3 12 1 10-2zM361 525l13-4 10-6 10-8 6-8 6-10 4-12 1-12-1-12-3-12-6-10-8-10-9-8-10-6-12-4-12-1-12 1-10 3-10 5-9 8-8 10-5 10-4 12-1 12 1 14 4 12 6 11 6 9 10 8 10 5 10 3 12 1 11-1zM1051 525l11-4 10-6 8-7 6-9 5-10 3-12 2-14-2-12-3-12-5-11-8-9-8-8-10-5-10-3-10-1-12 1-12 3-10 5-10 8-9 10-6 10-4 12-2 12 1 12 4 12 6 10 8 10 10 8 12 7 12 3 12 1 11-1zM534 833l12-4 10-5 8-7 8-10 5-10 3-12 1-12 0-12-3-12-5-10-7-10-8-8-10-6-10-4-10-2-12 1-12 3-12 6-10 7-8 9-6 10-5 12-2 12 1 12 3 12 5 10 8 10 10 9 10 6 12 4 12 2 12-1zM873 833l11-3 12-6 10-8 8-9 6-10 4-10 1-12 0-12-3-12-5-10-7-10-10-9-10-6-12-5-12-2-12 1-12 3-10 6-8 6-8 10-5 10-4 12-2 12 1 14 3 12 5 10 7 10 9 8 10 6 10 3 12 2 11-1z"/>
<path fill="#15ff27" d="M1112 899l-837 0 1-871 836 1 0 870zM534 219l10-3 10-5 10-8 7-8 5-10 4-12 2-12-1-14-6-22-7-10-8-9-10-6-10-4-12-2-12 0-12 3-12 6-10 7-8 9-7 10-4 12-2 12 0 12 3 12 6 12 7 10 9 8 12 7 12 4 12 2 12-1zM872 219l12-3 12-6 10-7 8-10 6-10 5-12 1-12 0-12-4-12-5-10-7-10-10-9-10-6-12-5-12-1-12 0-12 4-10 5-8 6-8 10-6 10-4 12-1 12 0 14 8 22 6 10 9 8 10 7 10 4 12 2 12-1zM354 527l12-2 12-5 10-7 8-8 8-10 5-12 3-12 0-12-2-12-5-12-7-10-8-9-10-7-12-5-12-3-12 0-12 3-10 4-10 7-8 8-6 10-5 12-2 12 0 12 1 12 5 12 7 12 7 8 11 7 10 4 10 3 12 0zM1043 527l13-3 10-4 10-7 7-8 6-10 5-12 2-12 0-12-2-12-4-12-6-11-8-9-10-7-10-4-10-3-12 0-12 2-12 5-11 7-9 9-8 11-4 10-3 12 0 12 2 12 5 12 7 10 9 9 10 7 12 5 12 3 11 0zM538 833l11-4 9-6 9-8 7-10 5-12 3-12 0-12-1-12-4-12-5-10-8-10-8-7-10-5-10-3-12-2-12 2-12 4-10 5-10 8-9 10-6 12-4 12-1 12 2 12 4 12 6 10 9 10 10 8 11 5 12 4 12 0 12-1zM877 833l11-4 12-7 8-7 8-10 6-10 3-12 1-12-1-12-4-12-6-10-7-10-10-8-10-5-12-4-12-2-12 1-12 4-10 6-9 8-7 10-6 12-2 11-1 13 1 12 3 12 7 12 8 10 8 6 10 5 12 4 12 0 11-1z"/>
<path fill="#11ff37" d="M1112 899l-837 0 1-870 836 0 0 870zM538 219l11-4 10-6 8-8 7-10 5-12 3-12 1-12-1-12-4-12-5-10-7-10-9-8-11-6-10-3-12-1-12 1-12 4-12 6-10 9-8 10-6 10-3 12-1 12 1 12 4 12 7 12 8 9 10 8 12 6 12 3 12 1 12-1zM876 219l12-4 12-7 9-7 8-10 5-10 4-12 1-12-1-12-4-12-5-10-8-10-9-8-12-7-12-4-12-1-12 1-12 4-10 5-9 8-7 10-6 12-3 12-1 14 1 12 4 12 5 10 8 10 9 8 11 5 10 3 12 1 12-1zM360 527l12-4 10-5 10-7 9-10 6-10 4-12 2-12-1-12-3-12-5-11-8-11-10-8-10-7-12-4-12-2-12 1-12 3-10 5-10 8-8 10-5 10-4 12-1 12 1 14 2 12 6 12 7 10 9 8 10 6 11 3 12 2 12-1zM1049 527l11-3 10-5 9-8 8-10 6-12 3-12 1-14-1-12-3-12-5-10-8-10-8-8-10-6-10-3-12-2-12 1-12 4-12 6-10 8-8 9-7 11-4 12-1 12 1 12 3 12 6 10 8 10 10 9 12 7 12 3 12 2 11-1zM532 835l12-3 10-5 10-8 7-8 6-10 4-12 2-12-1-14-2-12-5-12-7-10-7-8-9-6-12-5-10-2-12 0-12 2-12 6-11 7-9 9-7 11-5 12-2 12 0 12 3 12 5 11 8 11 8 8 12 7 12 5 12 2 12 0zM870 835l12-3 12-5 10-7 9-9 7-10 5-12 2-12 0-12-3-12-4-11-8-11-8-8-10-7-12-5-12-3-14 0-12 3-10 5-10 7-7 8-6 10-5 12-2 12 0 14 3 12 4 12 7 10 8 9 10 6 10 5 12 2 12 0z"/>
<path fill="#0dff48" d="M1112 899l-837 0 1-870 836 0 0 870zM531 221l13-3 10-5 10-7 7-9 6-10 4-12 2-12 0-14-2-12-5-12-6-11-8-8-10-7-10-4-12-3-12 0-12 3-12 5-11 7-9 9-7 11-6 12-2 12 0 12 3 12 5 12 7 10 10 10 10 6 12 5 12 3 13 0zM869 221l13-3 12-5 10-7 9-9 7-10 5-12 3-12 0-12-3-12-5-12-6-10-10-10-10-7-12-5-12-3-12 0-12 2-11 5-9 6-9 10-6 10-5 12-2 12-1 14 2 12 5 12 6 10 9 10 9 6 12 6 12 2 11 0zM363 527l12-4 11-6 10-9 8-10 5-11 4-12 1-12-2-12-4-12-6-12-8-9-10-8-12-6-12-4-12-1-12 2-12 4-10 6-9 8-7 10-5 12-3 12-1 14 1 12 4 12 6 12 8 9 10 8 10 5 12 3 12 1 11-2zM1053 527l11-4 10-6 8-8 7-10 5-12 3-12 1-14-2-12-3-12-6-10-7-10-10-8-10-6-10-3-12-1-12 2-12 4-12 6-10 8-8 10-6 12-4 12-1 12 1 12 4 12 7 12 9 9 10 8 12 6 12 4 12 1 13-2zM536 835l12-4 10-6 8-7 8-10 5-11 3-12 2-12-1-14-4-12-5-12-8-10-8-8-10-5-10-4-12-1-12 1-12 3-12 6-10 8-9 10-7 12-4 12-1 12 1 12 3 12 7 11 8 10 10 8 12 7 12 4 12 1 12-1zM875 835l13-4 11-6 9-8 9-10 5-10 4-12 2-12-1-12-3-12-7-12-8-10-9-8-12-7-12-4-12-1-12 1-12 4-10 5-9 8-8 10-6 12-3 12-1 14 1 12 4 12 6 12 8 10 8 7 10 5 12 4 12 1 11-1z"/>
<path fill="#0aff59" d="M1112 899l-837 0 1-870 836 0 0 870zM536 221l12-4 10-5 9-9 8-10 5-12 3-12 1-14-1-12-3-12-6-12-8-10-8-7-10-6-10-3-12-2-12 1-12 3-12 6-10 8-9 10-7 12-4 12-2 12 1 12 3 12 6 12 10 11 10 8 12 7 12 4 12 1 12-1zM875 221l13-4 11-6 10-8 8-10 7-12 4-12 1-12-1-12-4-12-6-12-8-10-10-8-12-7-12-3-12-2-12 1-12 4-10 5-9 8-8 10-6 12-3 12-2 12 1 14 3 12 6 12 7 10 9 8 10 6 12 4 12 1 13-1zM357 529l13-3 12-6 10-7 9-10 6-10 5-12 2-12 0-12-3-12-5-12-7-10-9-10-10-6-12-5-14-3-12 0-12 3-10 4-10 7-9 10-7 12-4 12-2 12 1 14 2 12 5 12 6 10 10 9 10 7 12 5 12 1 11 0zM1047 529l11-3 11-5 9-7 8-9 7-12 4-12 1-12 0-14-2-12-5-12-7-10-8-9-10-7-10-4-12-2-12 0-12 2-12 6-10 6-10 10-7 10-6 12-2 12 0 14 2 12 5 12 8 10 10 10 12 7 12 5 12 2 13 0zM527 837l13-2 10-4 10-6 8-8 7-10 6-12 3-12 0-14-1-14-4-12-6-10-8-10-9-8-10-5-12-3-12-1-12 2-12 4-12 7-10 9-9 11-5 12-3 12-1 12 2 12 4 12 6 10 10 10 10 8 12 6 12 3 13 1zM866 837l12-2 12-4 12-7 9-9 8-10 6-12 3-12 1-12-2-12-4-12-7-12-8-9-10-8-12-6-12-3-14-1-12 2-10 4-10 6-10 9-7 10-5 12-3 12-1 14 2 12 4 12 6 11 8 10 10 8 10 5 12 3 12 1z"/>
<path fill="#06ff69" d="M1112 899l-837 0 1-870 836 0 0 870zM540 221l12-5 10-6 8-9 7-10 5-12 3-14 0-14-2-12-4-12-6-10-7-10-10-8-10-5-12-3-12-1-12 2-12 4-12 7-10 9-8 10-6 11-4 12-1 14 2 12 4 12 7 12 9 10 11 8 12 6 12 3 14 1 12-2zM878 221l12-4 12-7 10-9 7-10 6-12 4-12 1-12-2-12-4-12-7-12-9-10-10-8-12-6-12-4-12-1-12 2-12 4-10 6-10 9-7 10-5 12-4 14 0 14 1 12 4 12 7 12 8 9 10 8 10 5 12 3 12 1 12-2zM362 529l12-4 11-6 10-8 9-10 6-12 4-12 1-12-1-12-3-12-6-12-8-10-10-8-11-7-12-4-14-2-12 1-12 3-10 6-10 8-8 11-6 12-3 12-2 12 2 14 3 12 5 12 8 10 9 8 10 6 12 4 12 1 14-1zM1052 529l12-4 10-6 8-8 8-10 5-12 3-12 1-14-1-12-3-12-6-12-7-10-8-8-10-6-12-4-12-1-12 1-12 3-12 6-12 9-8 10-7 12-4 12-2 12 1 12 4 12 6 12 10 12 10 8 12 6 12 4 14 1 12-1zM535 837l13-4 10-6 8-6 8-10 6-12 4-12 1-12-1-14-2-12-5-12-7-10-8-9-10-6-12-5-12-2-12 1-13 3-13 6-10 8-10 10-6 10-4 12-3 12 1 14 3 12 6 12 9 11 9 9 13 7 12 4 12 2 13-1zM873 837l11-3 12-5 10-8 10-10 6-10 5-12 2-12 0-14-3-12-6-12-7-10-11-10-10-7-12-4-14-3-12 1-12 3-10 5-10 8-8 9-7 12-3 12-2 14 1 14 2 12 6 12 7 10 10 9 10 6 12 4 12 2 11-1z"/>
<path fill="#02ff7a" d="M1112 899l-837 0 1-870 836 0 0 870zM534 223l12-3 12-6 8-7 8-10 6-12 4-12 2-12-1-14-2-12-5-13-8-11-8-8-10-7-12-5-12-1-12 0-12 3-13 6-11 8-10 10-6 10-5 12-2 12 0 14 3 12 6 12 8 11 10 9 12 8 12 4 14 3 12-1zM872 223l12-3 12-5 11-8 9-10 7-10 5-12 2-12 0-14-3-12-5-13-8-11-10-9-12-8-12-4-14-2-12 0-12 3-10 5-10 8-8 9-7 12-4 12-2 14 1 14 2 12 6 13 7 11 9 8 10 6 12 5 12 2 12-1zM354 531l14-3 12-5 10-7 10-9 7-10 6-12 3-12 0-14-2-12-5-12-8-12-9-10-10-7-12-5-12-3-14-1-12 2-12 5-10 7-8 9-8 11-4 12-3 12 0 14 2 14 4 12 7 11 8 9 10 8 12 5 12 3 12 0zM1044 531l12-2 12-5 10-8 8-8 7-11 4-12 3-12 0-14-2-14-5-12-5-10-9-10-9-7-12-6-12-3-12 0-14 3-12 5-10 6-11 10-7 10-6 12-3 12 0 14 3 14 5 12 7 10 9 10 11 7 12 5 14 4 12 0zM539 837l11-4 10-6 9-8 7-10 6-12 3-12 1-14-2-14-3-12-6-12-8-10-9-8-10-6-12-4-12-1-12 2-12 3-12 7-12 9-8 10-7 12-3 12-2 14 2 12 4 12 7 12 8 10 11 8 12 6 14 5 12 0 13-1zM877 837l13-5 12-6 10-9 8-10 6-12 3-12 1-12-1-12-4-12-6-12-9-10-10-9-12-6-12-4-14-2-12 2-12 4-10 6-10 9-8 10-5 12-3 14-1 14 1 12 4 12 6 12 8 10 10 8 10 5 12 4 12 0 13-1z"/>
<path fill="#00ff8b" d="M1112 899l-837 0 1-870 836 0 0 870zM538 223l12-4 12-7 9-9 6-10 6-12 3-14 1-14-2-12-4-12-6-12-8-10-9-8-10-6-12-3-12-1-12 1-12 4-12 6-12 9-8 10-7 12-4 12-1 12 1 14 4 14 7 11 9 11 10 8 13 6 12 4 14 1 12-1zM876 223l13-4 11-6 10-8 10-12 5-10 5-12 1-12-1-14-3-12-7-12-8-11-11-9-13-7-12-4-14-1-12 1-12 4-10 6-10 9-8 10-5 12-4 14-1 14 2 12 3 12 6 12 7 10 10 8 12 7 12 3 12 1 12-1zM359 531l13-4 12-5 11-9 9-10 7-12 4-12 2-12-1-14-3-12-7-12-8-11-10-9-12-7-12-4-14-2-12 1-12 3-12 7-9 8-8 10-6 12-4 12-1 14 1 14 3 12 5 12 7 10 10 9 10 6 12 4 12 2 13-1zM1050 531l12-4 10-5 10-8 8-10 6-12 3-13 2-12-1-14-3-14-5-11-8-11-8-8-10-7-12-4-12-2-12 1-14 3-12 6-12 9-8 9-7 11-5 12-2 12 0 14 4 14 6 12 8 10 11 10 13 7 12 4 14 2 12-1zM532 839l12-3 12-5 10-8 8-9 6-11 4-12 2-14 0-14-2-12-5-12-7-12-8-9-10-7-12-5-12-2-12 0-14 3-12 5-10 7-10 10-9 12-5 12-2 12 0 14 3 12 5 12 8 11 10 10 12 8 12 4 14 3 12 0zM870 839l14-3 12-6 10-7 10-9 7-11 5-12 3-12 0-14-3-12-5-12-7-12-10-10-12-7-12-5-14-3-12 0-12 3-12 5-10 8-8 9-7 12-5 12-2 12 1 14 2 14 5 12 8 12 8 8 10 7 12 5 12 2 12 0z"/>
<path fill="#00ff9e" d="M1112 899l-837 0 1-870 836 0 0 870zM532 225l12-3 12-5 10-8 8-9 6-11 5-12 2-14 0-14-3-14-4-12-6-10-10-10-10-8-11-4-11-3-14 0-14 3-12 6-10 6-10 10-9 12-5 12-3 12 0 14 3 14 5 12 7 10 10 10 12 8 14 5 14 3 12 0zM869 225l13-3 13-5 11-7 10-10 7-11 6-12 2-12 1-14-3-14-5-12-7-10-10-10-11-8-14-6-14-3-12 0-12 3-12 5-10 8-9 9-7 12-4 12-2 14 0 14 3 14 4 12 7 10 9 10 11 7 10 4 12 3 13 0zM363 531l13-4 12-7 10-9 8-10 7-12 3-12 2-14-2-12-3-12-7-13-10-11-10-8-12-6-12-4-14-2-12 2-12 3-12 7-10 10-7 10-6 12-3 14-1 14 2 14 4 12 6 12 8 10 10 8 11 5 12 4 12 1 13-2zM1054 531l12-5 10-6 9-9 7-10 6-12 3-14 0-14-1-12-3-12-6-12-8-10-9-9-10-5-12-4-12-2-14 2-14 4-12 7-11 9-8 10-7 12-4 12-1 12 1 14 5 14 7 11 9 11 11 8 12 7 14 4 14 1 12-2zM537 839l13-4 10-6 9-8 7-10 6-12 4-12 1-14-1-14-3-12-5-13-8-11-9-8-10-6-11-4-12-2-14 1-14 4-12 6-12 9-8 10-7 12-4 12-2 12 1 14 3 12 7 12 9 12 11 9 12 6 14 5 12 1 13-1zM875 839l13-4 12-6 10-8 9-10 7-12 4-12 2-12-1-14-3-12-6-12-8-11-11-9-11-7-14-5-14-2-12 1-12 3-11 6-10 8-8 10-6 12-4 14-2 14 2 14 3 12 6 13 8 10 9 9 11 6 12 4 12 1 13-1z"/>
<path fill="#00ffb1" d="M1112 899l-837 0 1-870 836 0 0 870zM537 225l13-4 10-6 10-9 8-10 6-13 3-12 1-14-1-14-3-12-6-12-7-10-9-10-10-6-12-4-12-2-14 1-14 4-12 6-12 9-9 10-7 12-4 12-2 12 1 14 4 14 6 12 9 11 10 9 12 6 14 5 14 2 13-1zM874 225l14-4 12-6 10-8 9-10 7-12 5-12 2-12-1-14-4-14-6-12-8-11-10-9-12-7-14-5-14-2-12 1-12 3-11 6-10 8-8 10-6 12-5 14-1 14 1 14 3 14 6 12 7 10 10 9 10 6 12 4 14 2 12-1zM357 533l13-3 12-6 11-7 10-10 8-12 5-12 2-12 0-14-3-14-6-12-7-11-10-10-12-8-12-4-14-3-14 0-12 3-12 6-10 8-8 9-7 12-5 14-1 14 0 14 3 14 6 12 6 10 10 9 10 7 12 4 12 2 13 0zM1048 533l12-3 12-6 10-8 7-9 7-12 4-12 2-14 0-14-3-14-5-12-6-10-10-10-10-7-12-5-12-2-12 0-14 3-12 5-12 8-10 10-8 12-5 12-2 12 0 14 3 14 5 12 9 12 10 9 12 8 14 5 14 2 12 0zM527 841l13-2 12-4 10-6 10-10 7-10 5-12 3-14 1-14-2-14-4-14-6-12-8-9-10-8-12-6-12-3-12-1-14 2-12 5-12 7-11 9-9 12-6 12-3 12-1 14 2 14 5 12 8 12 9 9 11 9 13 6 12 3 13 1zM865 841l13-2 14-5 12-7 10-9 8-11 6-12 4-12 1-14-2-14-5-12-7-12-9-10-12-9-12-6-12-3-14-1-12 2-12 4-11 7-9 8-8 12-5 12-4 14 0 14 2 14 3 12 7 12 8 10 9 8 12 6 12 3 13 1z"/>
<path fill="#00ffc3" d="M1112 899l-837 0 1-870 836 0 0 870zM541 225l13-5 10-7 8-8 8-12 5-12 3-14 1-14-2-14-5-14-6-12-8-9-10-8-10-5-12-4-12-1-14 2-12 4-13 7-11 9-9 11-6 12-5 14-1 14 2 12 5 14 7 12 9 10 12 9 12 6 14 4 14 1 13-2zM878 225l14-5 12-7 10-9 9-11 6-12 3-12 1-14-1-12-4-12-6-12-10-12-10-8-12-7-14-4-14-2-12 2-12 3-12 7-10 9-7 10-6 12-4 14-1 16 2 14 4 13 6 12 8 10 10 8 12 7 12 3 14 1 12-2zM361 533l15-5 12-6 10-9 9-10 7-12 4-12 1-12-1-14-4-14-6-12-8-11-12-9-12-7-14-5-14-1-12 1-12 4-12 6-10 10-8 10-5 12-4 14-1 14 1 14 4 14 6 12 8 10 9 8 12 6 12 4 12 1 13-1zM1052 533l12-4 12-7 10-9 7-10 5-12 4-14 1-14-1-14-4-12-5-12-8-10-9-9-10-6-12-5-12-1-14 1-14 4-12 6-11 8-9 10-8 12-5 14-1 12 0 14 4 14 7 12 9 11 10 9 12 7 14 4 14 2 14-1zM535 841l13-4 12-6 9-8 8-10 6-12 4-12 2-14-1-14-3-14-5-12-7-10-9-10-10-7-12-5-12-2-14 1-14 3-12 6-12 8-10 11-8 13-5 12-2 12 1 14 4 14 6 12 8 11 10 9 12 7 14 5 14 3 13-1zM873 841l13-4 12-5 12-9 9-10 8-12 4-12 2-12 0-14-4-14-5-12-8-11-10-9-12-8-14-5-14-3-12 1-12 3-12 5-10 8-9 11-7 12-4 14-2 14 1 14 3 14 5 12 7 10 10 9 10 7 12 5 14 2 13-1z"/>
<path fill="#00ffd6" d="M1112 899l-837 0 1-870 836 0 0 870zM535 227l13-4 12-6 9-8 8-10 7-12 4-14 2-14-1-14-4-14-5-12-7-10-9-10-10-7-12-4-12-2-14 0-14 4-12 5-12 9-10 10-8 13-5 12-2 12 0 14 3 14 6 12 9 12 11 10 12 7 14 5 14 2 13 0zM872 227l14-4 12-5 12-9 9-10 8-12 5-12 2-12 0-14-3-14-6-12-9-12-10-10-12-8-12-5-14-2-14 0-12 3-12 5-11 9-9 10-6 12-5 14-2 14 1 14 3 14 5 12 8 12 10 9 10 7 12 4 14 3 12-1zM353 535l13-2 14-6 13-8 10-10 8-12 6-12 3-12 0-14-3-14-5-12-8-12-9-10-12-8-13-6-12-3-14-1-12 2-12 5-11 7-10 10-7 11-6 13-2 14-1 14 2 14 5 14 7 12 9 10 10 7 12 6 12 3 13 0zM1044 535l14-3 12-5 10-7 8-9 8-12 5-12 2-14 1-14-3-14-4-14-7-12-8-9-10-8-12-6-12-2-14-1-14 3-13 5-12 8-11 10-8 12-6 12-3 12 0 14 2 14 5 12 8 12 10 10 12 8 14 7 14 3 12 0zM539 841l13-4 10-6 10-10 8-11 6-13 3-14 1-14-2-14-4-14-6-12-8-10-10-8-10-6-12-3-12-2-14 2-14 4-12 6-12 10-9 11-7 12-4 14-2 14 2 12 4 14 7 12 9 10 12 9 12 7 14 4 14 1 13-1zM877 841l13-4 12-7 11-9 9-10 6-12 5-14 1-12-1-14-4-14-7-12-8-10-12-10-12-7-14-4-14-2-12 2-12 3-12 7-10 9-8 10-6 12-3 14-2 16 2 14 4 14 6 12 9 11 10 8 12 6 12 4 12 0 13-1z"/>
<path fill="#00ffe8" d="M1112 899l-837 0 1-870 836 0 0 870zM539 227l13-4 10-6 10-9 8-11 5-12 4-14 1-16-1-14-4-14-6-12-8-10-9-9-12-6-12-4-12-1-14 1-14 4-12 7-12 9-9 11-7 12-5 14-1 12 1 14 4 14 7 12 10 12 10 8 14 8 14 4 14 1 13-1zM876 227l14-4 12-7 11-9 9-10 7-12 5-14 1-12-1-14-4-14-6-12-10-12-10-9-12-7-14-4-14-2-14 1-12 3-12 7-10 9-9 12-6 12-3 14-1 16 1 14 4 14 6 12 8 10 10 8 12 7 12 3 14 1 12-1zM359 535l14-4 13-6 10-8 10-10 7-12 5-12 3-14-1-14-3-14-6-12-9-12-10-10-12-7-14-5-14-3-14 1-12 3-12 6-10 8-9 11-7 12-4 14-2 14 1 16 4 14 5 12 8 11 10 9 12 7 12 4 12 2 13-1zM1051 535l11-3 12-6 10-9 8-10 7-12 4-14 1-14 0-14-3-14-5-12-8-12-10-10-10-6-12-5-12-2-14 1-14 3-12 6-12 8-11 11-7 12-5 12-3 14 0 14 4 14 6 12 8 12 12 10 12 7 14 6 14 2 15-1zM533 843l13-3 12-6 10-7 8-10 7-12 5-14 2-14 0-14-3-14-4-12-8-12-9-10-10-8-12-5-12-2-14 0-14 3-14 6-12 8-10 10-8 12-5 12-3 14 0 14 3 14 6 12 8 12 11 10 12 8 14 5 14 3 13 0zM870 843l14-3 12-5 12-8 10-10 8-12 6-12 3-14 0-14-3-14-5-12-9-12-10-10-11-8-13-6-14-3-14 0-12 2-12 5-11 8-10 10-7 12-5 14-2 14 0 14 2 14 5 12 7 12 9 10 10 7 12 6 14 3 14 0z"/>
<path fill="#00fffb" d="M1112 899l-837 0 1-870 836 0 0 870zM532 229l14-3 12-6 10-7 9-10 7-12 5-14 2-14 0-14-3-14-4-13-7-11-9-11-10-7-12-6-12-3-14 0-14 3-14 5-13 9-11 10-8 12-6 12-3 14 0 14 3 14 5 12 8 12 11 10 12 9 14 6 14 3 14 0zM869 229l13-3 14-5 12-8 10-10 9-12 5-12 3-14 1-14-3-14-5-12-8-12-10-11-12-8-14-7-14-3-14 0-14 3-12 6-11 8-9 10-7 12-5 14-2 14 0 14 3 14 5 13 6 11 10 10 10 8 12 5 14 3 13 0zM363 535l15-5 12-7 12-10 8-10 6-12 4-14 2-14-2-12-4-14-7-12-8-10-11-10-12-7-14-5-14-2-14 1-12 4-12 6-10 9-9 12-7 14-3 14-1 16 1 14 4 14 7 12 8 10 10 9 12 6 12 4 14 1 13-2zM1055 535l11-4 12-7 10-10 8-11 5-12 3-14 1-16-2-14-3-13-6-12-8-11-10-8-12-7-12-3-12-2-14 2-14 4-14 8-10 8-10 12-7 12-5 14-1 12 1 14 5 14 7 12 10 12 12 10 14 7 14 4 14 1 13-2zM538 843l12-4 12-6 10-9 8-11 6-12 4-14 1-14-1-16-4-14-6-12-7-10-9-9-12-7-12-5-12-1-14 1-14 4-12 5-12 9-10 11-8 12-5 14-2 14 1 14 4 14 6 12 10 12 11 10 13 7 14 4 14 2 14-1zM875 843l13-4 14-7 11-9 9-10 7-12 5-14 2-12-1-14-4-14-6-12-9-12-10-9-12-8-14-5-14-2-14 1-12 3-13 6-10 8-9 12-6 12-5 14-1 14 1 16 3 14 6 12 8 11 10 9 12 8 12 4 14 1 13-1z"/>
<path fill="#00eeff" d="M1112 899l-837 0 1-870 836 0 0 870zM538 229l12-4 12-6 10-9 8-11 6-12 4-14 2-14-1-16-4-14-5-12-8-12-10-9-12-7-12-4-12-2-14 1-14 4-14 7-12 9-10 11-7 12-5 12-2 14 1 14 4 14 7 14 9 12 11 9 14 8 14 4 14 2 14-1zM874 229l14-4 14-7 11-9 9-10 8-12 4-12 3-14-1-14-4-14-5-12-9-12-11-10-13-8-14-5-14-3-14 1-12 3-12 6-11 8-9 12-7 12-4 14-2 14 1 16 3 14 6 14 9 11 9 9 11 7 14 4 14 2 12-1zM357 537l13-3 14-6 12-9 10-10 8-12 5-12 3-14 0-14-3-14-6-14-9-12-10-10-12-8-14-5-14-3-14 0-14 3-12 6-10 8-10 11-6 12-5 14-2 14 0 16 4 14 5 12 7 12 10 10 11 7 12 5 14 2 13 0zM1048 537l12-3 12-5 10-8 10-11 6-11 5-14 3-14-1-16-2-14-5-14-7-10-9-11-12-8-12-5-12-2-14 0-14 3-14 6-12 8-11 11-8 12-5 12-3 14 0 14 3 14 6 14 8 12 11 10 13 8 14 6 14 2 14 0zM528 845l14-2 12-5 10-6 10-9 8-12 5-12 4-14 1-16-2-14-4-14-6-12-8-11-10-9-12-6-12-4-14-1-14 2-14 4-12 7-12 10-10 12-7 12-4 14-1 14 2 14 5 14 7 12 10 11 12 9 14 7 14 4 14 1zM864 845l14-2 14-5 13-7 11-10 10-12 6-12 4-14 1-14-2-14-5-12-7-12-10-12-11-9-14-7-14-4-14-1-14 2-12 4-12 8-9 9-9 12-5 12-3 14-1 16 2 14 4 14 6 12 9 10 10 9 12 6 12 4 14 1z"/>
<path fill="#00d7ff" d="M1112 899l-837 0 1-870 836 0 0 870zM541 229l13-5 12-7 10-10 6-10 6-14 4-14 0-16-1-14-5-14-6-12-8-11-10-9-12-6-12-4-14-1-14 2-14 5-12 6-12 10-10 12-7 12-4 14-2 14 2 14 4 14 9 14 10 11 11 9 15 7 14 4 14 1 13-2zM878 229l14-5 12-6 12-10 9-11 6-12 5-14 2-14-2-14-4-14-7-12-9-12-12-9-14-8-14-4-14-2-14 2-12 4-13 7-10 10-9 12-6 14-3 14-1 16 2 14 5 14 6 12 9 11 10 8 12 6 12 4 14 1 14-2zM361 537l15-5 12-6 12-9 10-11 7-13 4-12 2-14-1-14-3-14-6-12-10-12-11-10-14-9-14-4-14-2-14 1-12 3-13 7-10 8-9 12-7 14-4 14-1 14 1 16 4 14 7 13 8 11 10 9 12 7 12 4 14 1 13-1zM1053 537l13-4 12-7 10-9 8-11 6-13 3-14 2-16-2-14-3-14-6-13-8-11-10-9-12-7-12-4-12-1-14 1-14 4-14 7-12 9-10 10-7 12-5 14-2 14 0 14 4 14 7 14 10 12 11 9 14 8 14 4 14 2 15-1zM536 845l14-4 11-6 11-9 8-10 7-13 4-14 1-14 0-16-4-14-5-12-8-12-9-10-12-7-12-5-12-2-14 1-14 3-14 7-12 8-11 11-8 12-5 14-3 14 1 14 3 14 7 13 8 11 12 11 14 8 14 5 14 3 14-1zM872 845l14-4 14-6 12-9 10-10 8-12 5-13 2-14 0-14-3-14-7-14-9-12-10-10-14-8-14-5-14-3-14 1-14 4-12 6-10 8-9 11-6 12-5 14-2 14 1 16 3 14 6 14 8 11 10 10 12 7 12 5 14 2 12-1z"/>
<path fill="#00c1ff" d="M1112 899l-837 0 1-870 836 0 0 870zM536 231l12-3 12-6 11-9 9-10 7-14 4-14 2-14-1-16-3-14-6-14-7-12-10-10-12-7-12-5-12-1-14 0-14 4-14 6-12 8-11 11-8 12-6 14-2 14 0 14 3 14 7 14 9 12 12 11 14 8 14 5 14 2 14 0zM872 231l14-4 14-6 12-9 10-10 7-11 6-14 3-14 0-14-3-14-7-14-8-12-11-10-13-9-14-6-14-2-14 0-14 3-12 6-11 8-9 11-8 13-4 14-2 14 0 16 3 14 6 14 7 12 10 10 12 8 12 4 14 2 14 0zM353 539l15-3 14-6 12-7 11-10 9-12 6-14 4-14 0-14-3-14-5-14-8-12-10-11-12-8-14-7-14-3-16-1-14 3-12 5-11 8-10 10-7 12-6 14-2 14 0 16 2 14 5 14 7 12 10 11 10 8 12 5 14 4 13 0zM1045 539l15-3 12-5 11-8 9-10 7-12 5-12 3-14 0-16-2-14-4-14-7-13-10-11-10-9-12-5-12-3-14-1-14 2-14 5-14 9-12 10-9 12-6 14-4 14 0 14 2 14 6 14 8 12 11 11 12 9 14 6 14 3 15 1zM540 845l12-4 12-7 10-9 9-12 6-14 3-14 1-16-1-14-4-14-6-12-8-11-10-9-12-7-12-4-14-2-14 2-14 4-14 7-12 10-10 12-7 12-5 14-2 14 2 14 4 14 8 13 10 12 12 10 14 7 14 4 14 1 14-1zM877 845l13-4 14-8 12-9 9-11 7-12 5-14 1-14-1-14-4-14-6-12-10-12-11-10-14-8-14-5-14-2-14 1-14 5-12 6-10 9-9 12-7 14-3 14-1 16 1 14 4 14 6 14 9 11 10 9 12 6 12 4 14 1 15-1z"/>
<path fill="#00abff" d="M1112 899l-837 0 1-870 836 0 0 870zM540 231l14-5 12-7 10-10 7-10 6-14 4-14 1-16-1-14-4-14-7-14-8-11-10-9-12-7-12-4-14-1-14 1-14 4-14 7-12 10-10 11-8 13-5 14-1 14 1 14 4 14 7 14 10 12 12 9 14 8 14 5 16 1 14-1zM876 231l14-4 14-8 12-9 9-11 7-12 5-14 2-14-1-14-4-14-7-14-10-12-11-10-14-8-14-4-14-2-14 1-14 4-12 6-10 9-9 12-7 14-4 14-1 16 1 16 4 14 7 14 9 11 10 9 12 6 12 4 14 1 14-1zM726 557l9-2 11-6 8-8 6-9 11-23 15-24 4-11 0-17-2-9-32-58-8-9-9-6-5-2-16-2-24 1-28-1-18 4 16 1 22 8 8 1 8-1 24-9 10 0 6 2 9 12 5 28 4 9 22 21 7 10 0 12-2 6-6 8-17 14-6 8-5 28-4 10-9 9-8 1-10-1-18-7-10-2-10 2-20 7-8 1-8-1-6-4-6-9-6-28-3-8-24-24-4-6-1-6 0 9 5 13 29 50 11 12 9 4 10 2 64 0zM598 461l0-4 5-8 25-24 8-36 6-8 6-4-2-1-5 3-11 13-30 55-3 8 1 6zM359 539l15-4 12-6 14-10 9-10 8-12 5-14 3-14-1-14-3-14-7-14-9-12-10-10-13-8-14-6-16-3-14 1-14 3-12 6-11 9-9 12-8 14-4 14-1 14 1 16 3 14 6 14 8 12 11 10 12 7 12 4 14 2 13-1zM1052 539l12-4 12-6 12-10 8-10 7-14 4-14 1-14-1-16-3-14-6-14-8-12-9-8-11-8-12-4-14-3-14 1-14 3-15 7-13 10-10 10-9 14-5 14-2 14 1 14 3 14 7 14 10 12 11 10 14 8 14 5 16 2 14-1zM534 847l14-3 12-6 10-8 10-11 7-12 4-14 3-14 0-16-3-14-5-14-7-12-9-11-12-8-12-5-14-3-14 0-14 3-14 6-14 9-11 11-8 12-6 14-3 14 0 14 3 14 6 14 9 12 12 11 12 8 14 6 16 3 14 0zM869 847l15-3 14-6 12-8 11-11 9-12 6-14 3-14 0-14-3-14-6-14-8-12-12-12-12-8-14-6-16-3-14 0-14 3-12 6-11 8-9 10-8 14-5 14-2 14 0 16 3 14 5 14 8 12 9 10 12 8 12 5 14 3 13 0z"/>
<path fill="#0094ff" d="M1112 899l-837 0 1-100 9-14 4-14-3-13-10-15 0-558 10-15 3-13-3-13-10-15 0-100 836 0 0 99-10 15-4 14 4 13 10 15 0 558-10 15-4 13 3 14 11 15 0 99zM533 233l15-3 12-6 10-7 10-11 7-13 5-14 2-14 0-16-2-16-6-14-7-12-9-10-10-8-12-5-14-4-14 0-16 3-14 6-12 8-12 11-10 13-6 14-3 14 0 14 3 14 6 14 8 12 12 12 14 9 14 6 14 3 15 0zM869 233l15-3 14-6 13-9 10-10 9-12 6-14 4-14 0-14-3-14-6-14-7-12-12-12-12-9-14-6-16-4-14 0-14 3-12 5-12 8-10 11-7 12-6 14-3 16 0 16 3 16 6 14 7 12 10 10 12 8 12 5 14 3 13 0zM742 565l8-4 8-8 16-40 25-34 4-14-3-15-25-33-15-38-6-9-6-5-14-3-38 5-38-5-10 0-7 3-12 10-17 42-25 34-3 14 4 14 24 32 16 39 6 8 6 5 8 3 8 0 38-6 34 6 14-1zM730 543l-10 0-26-7-28 7-8 0-6-2-6-5-5-7-5-23-3-7-16-16-6-8-3-10 2-10 5-8 18-18 8-30 5-7 6-5 6-2 8 0 28 7 28-7 8 0 6 2 6 5 4 7 8 30 22 24 3 10-3 12-6 8-16 17-7 25-5 10-4 5-8 3zM363 539l15-5 14-8 11-9 10-12 7-12 4-14 2-14-1-14-5-14-7-14-9-11-12-10-14-8-14-5-16-2-14 2-14 4-12 7-10 9-9 12-6 14-4 14-1 16 1 16 4 14 7 14 10 12 10 8 12 7 14 4 14 1 13-2zM1056 539l14-5 11-7 10-10 8-12 6-14 3-14 1-16-2-14-4-14-7-14-8-11-10-9-12-7-12-3-14-2-14 2-14 4-14 7-12 9-10 12-9 14-4 14-2 14 1 14 4 14 8 14 10 12 12 10 14 7 16 5 16 2 14-2zM539 847l13-4 12-7 10-9 9-12 7-14 3-14 2-14-1-16-4-14-6-14-8-12-10-9-12-7-12-4-14-2-14 1-14 4-14 6-12 9-12 12-7 12-6 14-2 14 1 16 4 14 7 14 9 12 12 10 14 8 16 5 14 2 15-1zM875 847l15-5 14-7 12-9 9-11 8-12 5-14 2-14-1-14-3-14-7-14-10-12-11-11-14-8-14-5-16-2-14 1-14 4-12 6-10 9-10 12-7 14-3 14-2 16 1 16 4 14 7 14 8 11 10 9 12 7 12 4 14 2 15-1z"/>
<path fill="#007eff" d="M1112 899l-837 0 1-94 15-18 3-8 1-8-1-8-4-8-14-17 0-548 14-17 4-8 1-8-1-8-4-8-14-18 0-94 836 0 0 94-16 18-3 8-1 8 1 8 4 8 15 18 0 547-15 17-4 8-1 8 1 8 3 8 16 18 0 94zM539 233l13-4 12-7 11-9 9-12 6-14 4-14 1-16-1-16-4-14-6-14-8-12-10-9-12-7-12-4-14-2-14 1-16 5-14 7-12 9-11 12-8 12-5 14-2 14 1 16 4 14 7 14 10 12 12 10 14 8 14 5 16 2 15-1zM874 233l16-5 14-7 12-9 10-11 7-12 5-14 3-14-1-16-4-14-7-14-10-12-11-10-14-9-14-5-16-2-14 1-14 4-12 6-10 9-10 12-7 14-4 14-2 16 1 16 4 14 6 14 8 12 11 10 11 6 14 5 14 2 14-1zM744 571l9-4 7-7 6-12 7-25 4-10 23-26 6-10 3-12-3-14-7-10-22-26-14-40-5-10-8-6-8-2-10 0-38 8-38-8-10 0-8 2-8 6-6 9-10 31-5 12-22 24-6 10-4 12 4 14 6 10 23 26 14 41 5 9 7 5 8 3 10 0 40-8 36 8 14 0zM357 541l15-4 14-6 12-8 11-12 9-12 6-14 2-14 0-16-3-14-7-14-9-12-11-11-14-9-14-5-16-3-14 0-14 4-12 5-11 9-9 11-8 13-4 14-3 16 1 16 3 14 5 14 8 12 10 11 12 8 12 5 14 2 15 0zM1050 541l14-4 12-6 10-8 10-11 7-13 4-14 3-16-1-16-3-14-5-14-8-12-9-10-12-9-12-5-14-2-14 0-16 4-14 6-12 8-12 12-9 12-6 14-2 14 0 16 3 14 6 14 10 12 12 12 14 8 14 6 16 2 14 0zM732 537l-12 1-26-7-26 7-8 0-6-2-6-5-4-6-7-28-21-22-3-10 3-10 5-8 16-16 8-28 3-6 6-5 6-2 8 0 26 7 26-7 8 0 6 2 5 5 3 6 7 28 17 16 5 8 2 8-2 10-5 8-16 16-8 29-4 6-6 5zM530 849l14-2 12-5 12-8 10-10 7-11 6-14 4-16 0-16-2-16-4-14-7-13-10-11-10-9-12-6-14-3-14-1-16 3-14 5-14 9-12 10-9 12-7 14-3 14-1 14 3 16 5 14 8 12 11 12 13 9 14 6 16 4 14 1zM865 849l15-2 14-5 14-9 12-10 9-12 7-14 4-14 1-14-3-16-5-14-8-12-11-12-12-9-14-7-14-4-16-1-14 2-12 5-12 7-10 10-9 13-6 14-3 14-1 16 2 16 5 14 7 14 9 10 11 10 13 6 14 3 13 1z"/>
<path fill="#006aff" d="M1112 899l-837 0 1-90 18-20 5-10 1-8-1-8-4-8-19-21 0-540 19-21 4-8 1-8-1-8-4-8-19-22 0-90 836 0 0 90-21 22-3 8-2 8 2 8 4 8 20 21 0 540-20 21-4 8-2 8 2 8 4 10 20 20 0 90zM529 235l15-2 12-5 12-7 10-10 8-12 6-14 3-16 1-16-2-16-4-14-8-14-8-11-10-8-12-7-14-4-14-1-16 3-14 4-14 8-12 11-10 11-7 14-5 14-1 16 2 16 6 14 7 12 11 12 13 9 14 7 16 5 15 1zM864 235l16-3 14-4 14-9 12-10 9-12 8-14 4-14 1-14-3-16-5-14-8-14-10-11-14-10-14-7-14-4-16-1-14 2-14 6-11 7-10 10-8 12-6 14-4 16 0 16 2 16 4 14 8 14 9 11 10 8 12 6 14 4 14 1zM750 575l9-6 6-10 10-36 5-10 24-26 7-10 4-14-4-12-7-10-25-26-4-10-9-36-6-8-6-6-8-3-10 0-42 10-10-1-32-9-10 0-8 3-8 6-5 8-9 36-5 10-24 26-8 12-3 12 3 12 7 10 26 27 4 11 9 34 5 8 8 6 8 3 10 0 32-9 10-1 10 1 30 9 16-1zM361 541l15-4 14-8 12-9 10-11 8-12 5-14 2-14 0-16-4-14-7-14-10-13-12-11-14-8-14-5-16-2-14 1-14 3-12 7-10 8-10 12-7 14-5 16-2 16 2 16 4 16 6 14 9 12 11 9 12 7 14 4 14 1 13-1zM1055 541l13-4 12-7 10-9 8-12 7-14 4-14 1-16-1-16-3-14-7-14-8-12-11-10-12-8-12-4-14-1-14 1-16 4-14 7-12 9-11 12-9 14-5 14-2 14 1 16 5 14 7 14 10 12 14 11 14 8 14 4 16 2 15-1zM728 533l-10 1-24-8-26 8-6 0-6-2-4-4-4-7-7-26-17-16-4-6-2-8 1-8 6-8 16-16 6-26 4-6 5-5 6-2 6 0 26 8 24-8 12 2 6 4 3 7 7 26 20 22 3 8-2 10-5 7-16 15-7 28-5 7-6 3zM537 849l15-4 12-7 10-8 9-11 7-14 4-14 2-16-1-16-3-16-6-14-8-12-10-10-12-7-12-5-14-2-14 1-16 4-14 6-12 9-12 12-8 12-6 14-3 14 1 16 3 14 7 14 10 13 12 11 14 9 16 5 16 3 13-1zM873 849l15-4 14-7 12-8 10-11 8-12 6-14 3-14 0-16-3-14-6-14-9-12-12-12-13-9-16-6-16-3-14 1-14 3-12 6-12 9-9 11-7 13-5 15-2 16 0 16 4 16 6 14 7 12 10 10 12 7 14 6 14 2 15-1z"/>
<path fill="#0056ff" d="M1112 899l-836 0 0-87 23-23 5-9 1-9-1-8-6-10-22-22 0-534 22-22 6-10 1-8-1-9-5-9-23-23 0-87 836 0 0 87-24 23-4 8-2 10 2 9 5 9 23 22 0 534-23 22-5 9-2 9 1 10 5 8 24 23 0 87zM537 235l15-4 12-6 11-10 9-11 6-13 5-16 2-16-1-16-4-16-6-14-8-12-10-10-12-7-12-4-14-2-14 0-16 4-14 7-12 8-12 12-9 14-6 14-3 14 1 16 3 14 8 15 10 13 12 10 14 9 16 5 16 3 13-1zM872 235l16-4 14-7 13-9 11-12 9-14 5-14 2-14 0-14-4-14-6-14-9-12-13-12-14-9-14-6-16-2-14 0-14 3-14 7-11 9-9 11-8 15-4 14-2 16 1 16 3 16 6 14 8 12 10 10 12 7 14 6 14 2 14-1zM752 579l9-6 7-10 9-38 4-10 7-8 21-20 7-10 3-12-3-14-8-10-20-20-7-8-4-10-9-38-5-8-7-6-8-3-10 0-34 11-10 1-10-1-34-11-10 0-8 2-8 7-5 8-9 38-4 10-6 8-22 20-8 12-3 12 4 12 7 10 21 20 7 8 4 10 9 38 5 8 8 7 8 2 10 0 34-11 10-1 10 1 32 11 10 0 6-1zM353 543l17-3 14-6 13-9 11-10 9-12 7-14 4-14 0-16-3-16-6-14-8-12-12-12-13-10-14-6-16-4-16 0-14 3-12 5-12 9-10 11-8 13-5 15-3 16 0 16 3 16 5 14 8 12 10 11 12 9 12 5 14 3 13 0zM1047 543l15-3 12-5 12-9 10-11 8-14 4-14 3-14 0-16-3-16-5-14-7-14-10-10-10-8-14-7-14-3-14 0-16 3-14 6-14 9-12 11-9 13-7 14-3 14 0 16 3 14 5 14 10 14 11 10 13 10 15 6 16 4 15 0zM726 529l-10 0-22-7-24 7-6 1-6-3-5-4-3-6-5-24-15-14-6-8-1-8 1-6 4-6 17-16 6-26 4-6 5-3 11-1 23 7 22-7 6-1 6 2 4 3 4 6 6 26 16 15 5 7 1 6-1 8-5 7-16 15-6 27-4 6-6 3zM542 849l14-5 12-7 10-10 8-12 6-14 4-16 1-16-2-16-4-14-7-14-8-11-10-9-12-7-14-4-14-2-14 2-16 5-14 7-12 9-11 12-8 14-5 14-2 14 2 16 4 14 8 15 11 13 12 10 15 7 16 5 16 2 14-2zM877 849l15-5 14-7 12-10 10-12 8-14 5-14 2-14-2-14-4-14-7-14-9-12-13-11-14-8-16-6-16-2-14 2-14 4-12 7-12 10-9 12-6 14-4 16-1 16 1 16 4 14 7 14 9 12 11 9 12 7 14 4 14 2 15-2z"/>
<path fill="#0042ff" d="M1112 899l-836 0 0-84 27-26 5-8 1-10-2-10-5-8-26-25 0-252 3 15 5 14 8 12 9 10 11 8 12 5 14 3 14 1 14-2 14-5 14-8 12-10 9-12 8-14 5-14 1-14-1-14-4-14-7-14-10-12-11-10-14-9-14-5-16-3-14 1-14 3-12 5-11 8-9 10-8 12-5 14-3 15 0-252 26-25 5-8 2-10-1-10-5-8-27-26 0-84 836 0 0 84-28 26-5 8-2 10 2 10 5 8 28 25 0 256-3-15-5-14-8-14-8-10-12-9-12-6-14-3-14-1-16 3-14 5-14 9-12 10-10 12-7 14-4 14-1 14 1 14 5 14 7 14 10 12 13 10 14 8 14 5 16 2 14-1 14-4 12-6 10-8 9-10 7-14 5-14 3-15 0 256-27 25-5 8-3 10 2 10 5 8 28 26 0 84zM542 235l14-5 12-7 10-10 9-12 6-14 4-16 1-16-2-16-4-14-6-14-9-12-11-10-12-7-14-4-14-1-14 1-16 5-14 7-14 11-10 12-8 14-5 14-2 14 2 16 5 16 8 13 11 13 12 10 15 7 16 5 16 2 14-2zM877 235l15-5 14-7 12-10 11-12 8-14 5-14 1-14-1-16-4-14-8-14-9-12-13-11-14-8-16-5-16-2-14 1-14 4-12 7-12 10-9 12-6 14-5 16-1 18 2 16 4 14 7 14 8 12 12 10 12 6 14 4 14 2 15-2zM754 583l10-6 6-10 8-40 5-12 7-8 23-20 8-12 3-12-4-12-8-10-22-20-7-8-5-12-4-26-4-14-5-8-7-6-8-3-10 0-36 13-10 1-12-2-34-12-10 0-8 2-8 7-6 10-7 38-5 12-7 8-23 20-8 12-3 12 4 12 7 10 24 21 7 9 4 10 7 38 6 10 6 6 10 3 10 0 34-12 12-2 12 2 32 11 8 1 8-1zM722 525l-8-1-20-7-22 8-6 0-6-2-6-9-4-23-16-14-5-6-2-8 2-6 5-6 15-12 2-6 3-20 4-6 4-3 10-1 22 8 22-8 10 1 4 3 3 6 5 25 15 13 5 6 2 7-2 7-5 6-15 12-2 6-4 22-4 6-6 2zM536 851l14-4 13-6 11-8 9-12 8-14 4-14 3-16-1-16-3-16-6-14-7-12-9-10-12-9-12-5-14-3-16 0-16 4-14 6-14 9-12 12-9 12-6 14-3 14 0 16 3 16 7 14 8 12 13 12 13 8 16 7 16 3 16 0zM870 851l16-4 14-6 14-9 11-11 8-12 7-14 3-14 0-16-3-16-6-14-9-12-11-12-14-9-14-6-16-4-16 0-14 3-14 6-12 9-10 11-7 14-5 14-3 16 1 16 2 16 6 14 8 13 10 11 12 8 14 6 14 2 14 0z"/>
<path fill="#002eff" d="M1112 899l-836 0 0-82 30-26 6-10 2-10-3-10-5-8-30-27 0-245 3 14 6 14 9 12 10 9 12 8 12 4 12 3 14-1 16-3 14-5 12-8 12-10 8-11 8-14 5-14 1-14-1-14-4-14-7-14-10-12-11-10-13-9-14-5-14-3-14-1-14 3-12 4-12 8-10 9-8 12-7 14-3 14 0-245 31-27 4-8 3-10-2-10-7-10-29-26 0-82 836 0 0 81-30 27-7 10-2 10 2 10 5 8 32 28 0 246-4-14-6-14-8-12-9-10-11-8-12-5-14-3-14 0-16 4-14 5-14 9-11 10-10 12-7 14-4 14-1 14 1 14 5 14 7 14 10 11 12 10 12 8 14 5 16 3 14 1 14-3 12-5 11-8 10-10 7-12 6-14 4-14 0 246-31 28-5 8-3 10 2 10 6 10 31 27 0 81zM536 237l14-3 13-7 11-8 10-12 7-14 5-16 2-16 0-16-4-16-5-14-8-12-9-11-12-8-12-5-14-3-16 0-16 4-14 6-14 9-13 12-9 14-6 14-3 14 0 16 4 16 6 14 9 12 12 12 14 8 16 7 16 3 16 0zM870 237l16-4 14-6 14-9 12-12 9-13 6-14 3-14 0-16-4-16-6-14-9-12-11-12-14-9-14-6-16-4-16 0-14 3-14 6-12 9-10 11-8 14-5 14-2 16 0 18 3 16 5 14 9 13 10 11 12 8 12 5 14 3 16 0zM756 587l9-6 7-10 3-12 5-30 4-12 8-9 25-21 7-10 4-12-3-12-9-12-24-21-8-9-5-12-7-40-5-10-7-6-8-3-10 1-36 13-12 2-12-2-36-13-10-1-8 3-8 6-5 10-8 40-4 12-7 9-25 21-9 12-3 12 3 12 8 10 26 21 7 9 4 12 7 40 6 10 6 6 10 3 10-1 36-13 12-2 12 2 34 13 8 1 8-1zM722 520l-10-1-18-8-20 9-10-1-4-3-3-5-3-24-16-12-4-6-1-6 2-6 19-16 3-24 7-8 10-1 20 9 20-9 10 1 6 8 3 24 15 12 5 6 1 6-2 7-19 15-3 24-4 6-4 3zM541 851l15-5 12-7 10-10 9-12 6-14 4-16 2-16-2-16-4-16-7-14-8-12-10-9-12-7-14-5-14-1-14 1-16 4-14 7-14 10-11 12-9 14-5 14-2 14 0 16 5 16 7 14 11 13 13 11 15 8 16 5 16 2 15-1zM875 851l17-5 14-8 12-9 11-12 8-14 5-14 2-14-1-16-4-14-7-14-10-13-13-11-13-8-16-6-16-2-16 1-14 4-13 7-11 10-9 12-7 14-4 16-2 18 2 16 4 14 6 14 8 12 12 10 12 7 14 5 14 1 15-1z"/>
<path fill="#0022ff" d="M1112 899l-836 0 0-79 34-29 6-10 2-10-3-10-5-8-34-30 0-238 4 14 6 12 8 11 10 9 12 8 12 4 14 3 14-1 16-4 14-6 13-8 11-10 9-12 6-12 4-14 2-14-1-14-4-14-7-14-9-12-12-10-12-8-14-6-14-4-14-1-14 2-12 4-12 7-10 9-9 11-7 14-4 14 0-238 33-28 7-10 2-10-2-10-7-10-33-29 0-79 836 0 0 79-34 29-7 10-2 10 2 10 7 10 34 28 0 240-4-14-6-13-8-11-10-10-12-8-12-4-14-3-14 1-16 3-14 6-13 9-11 10-10 12-7 14-4 14-1 14 1 14 5 14 6 12 10 12 12 11 12 8 14 6 16 3 14 1 14-3 12-4 12-8 10-10 7-10 7-14 4-14 0 240-35 30-6 8-2 10 2 10 6 10 35 29 0 79zM541 237l15-5 12-7 11-10 8-12 7-14 4-16 1-16-1-16-4-16-6-14-9-12-10-10-11-7-14-5-14-2-16 1-16 4-16 8-14 11-10 11-9 15-5 14-2 14 1 16 4 16 8 14 11 13 13 11 15 8 16 5 16 2 15-1zM875 237l17-5 14-7 12-10 11-12 9-14 5-14 2-14-1-16-4-16-8-14-9-12-13-12-14-8-16-6-16-2-16 1-14 4-13 7-11 10-10 12-6 14-5 16-1 16 1 18 4 16 7 14 8 12 12 10 12 7 14 5 14 1 15-1zM757 591l10-6 7-10 3-14 4-32 5-12 8-9 26-21 8-10 4-12-3-12-9-12-26-21-8-10-5-11-7-44-5-10-7-6-10-3-10 2-36 14-12 3-12-3-38-15-10 0-8 2-8 6-5 10-7 44-5 12-7 8-27 22-10 12-2 12 3 12 8 10 28 22 8 9 4 13 7 42 5 10 7 6 9 2 10 0 38-15 12-3 12 3 34 14 10 2 7-1zM720 513l-9 0-17-10-18 10-9 0-3-3-3-5 1-18-2-4-14-9-5-5-2-6 3-6 18-12 2-22 2-5 4-3 8 0 18 10 18-10 8 0 4 4 1 4 1 22 16 9 4 5 2 6-3 6-16 10-3 4-1 20-1 4-4 4zM534 853l14-3 14-6 12-9 9-10 8-14 5-14 3-16 0-18-3-16-5-14-7-14-10-11-12-9-12-6-14-3-16 0-16 3-14 6-14 8-13 12-11 14-6 14-4 14 0 16 3 16 6 14 9 14 12 12 14 9 16 7 16 4 16 0zM867 853l15-3 16-6 14-9 13-12 10-14 6-14 4-14 0-16-3-16-7-14-9-14-12-12-14-9-14-6-16-4-16 0-14 3-14 6-12 9-10 11-8 14-5 14-3 16 0 16 2 16 6 16 8 13 10 11 12 9 12 6 14 3 15 0z"/>
<path fill="#0019ff" d="M1112 899l-836 0 0-77 38-31 6-10 2-10-2-10-8-10-36-30 0-233 5 15 6 12 9 10 10 9 12 7 12 4 14 2 14-1 14-4 14-6 14-9 11-10 9-12 6-12 4-14 2-14-1-14-4-14-7-14-10-12-11-10-13-9-14-6-14-4-14-1-14 2-12 4-12 7-10 9-9 10-6 12-5 15 0-233 37-30 7-10 2-10-2-10-7-10-37-31 0-77 836 0 0 76-38 32-7 10-2 10 2 10 7 10 38 31 0 233-5-14-6-12-9-12-10-9-12-7-12-4-14-2-14 1-14 4-14 6-14 9-11 10-10 12-7 14-4 14-1 14 1 14 5 14 6 12 9 12 12 10 14 9 14 6 14 4 14 1 14-2 12-4 12-7 10-9 9-12 6-12 5-14 0 233-38 31-7 10-2 10 2 10 6 10 39 32 0 76zM534 239l14-3 14-6 12-9 9-10 8-14 6-14 3-16 0-18-3-16-5-16-8-14-9-10-11-9-14-6-14-3-14-1-16 3-16 6-16 10-12 11-11 15-6 14-4 16 0 14 3 16 6 14 10 14 12 12 14 9 16 7 16 4 16 0zM867 239l15-3 16-6 14-9 13-12 11-14 6-14 3-14 1-16-3-16-6-14-10-14-11-12-14-10-16-7-16-3-16-1-14 3-14 6-12 8-10 11-8 14-6 15-3 16 0 18 3 16 5 16 9 14 9 10 11 8 14 7 14 3 15 0zM757 595l11-5 8-12 3-13 4-34 4-12 9-10 28-22 9-10 3-12-3-12-9-12-28-22-9-10-5-12-5-44-5-11-8-7-10-2-10 1-38 16-12 3-14-3-36-16-10-1-10 2-8 7-6 11-5 42-4 12-7 10-29 22-9 10-5 12 0 8 2 6 9 12 29 22 9 10 5 14 5 42 5 10 7 7 10 3 10-1 40-16 12-3 12 3 36 15 15 2zM716 501l-4 2-4-2-14-14-14 14-6 2-3-2-2-8 5-14 0-4-17-4-6-6 1-4 6-4 16-4-5-18 3-9 4-1 4 2 14 14 14-14 4-2 4 2 1 8-4 18 17 4 5 4 1 4-6 6-17 4-1 2 5 16-1 8zM540 853l14-4 12-7 11-9 9-12 7-14 5-16 2-16-1-18-4-16-6-14-8-12-11-12-12-7-12-5-14-2-16 1-16 4-16 7-14 10-12 12-9 14-6 16-2 14 1 16 4 16 7 14 11 14 14 11 14 8 16 6 16 2 16-1zM874 853l16-5 14-6 14-11 11-12 9-14 5-14 3-16-1-14-4-16-7-14-10-14-12-10-14-9-16-6-16-3-16 1-14 3-14 7-12 10-10 13-7 14-4 16-2 16 1 18 4 16 6 14 8 12 12 11 12 7 14 5 14 2 16-1z"/>
<path fill="#0010ff" d="M1112 899l-836 0 0-74 8-8 34-26 6-10 2-10-2-10-8-10-32-24-8-9 0-227 5 14 7 12 10 12 10 8 12 6 12 3 14 1 14-1 14-4 14-6 13-9 11-10 9-12 6-12 4-14 2-14-1-14-4-14-7-14-9-12-11-10-13-9-14-6-14-4-14-1-14 1-12 3-12 6-10 8-10 12-7 12-5 14 0-227 8-8 33-25 7-10 2-10-2-10-7-10-33-26-8-8 0-74 836 0 0 74-8 8-34 26-7 10-2 10 2 10 7 10 34 25 8 9 0 227-6-15-7-12-9-11-10-8-12-7-12-3-14-1-14 1-14 3-14 7-14 9-11 10-9 12-7 14-4 14-1 14 1 14 5 14 6 12 9 12 11 10 14 9 14 7 14 3 14 1 14-1 12-3 12-7 10-8 9-11 7-12 6-15 0 227-10 10-32 24-7 10-2 10 2 10 6 10 34 26 9 8 0 74zM540 239l16-5 12-7 11-10 9-12 7-14 4-16 2-16-1-18-4-16-6-14-10-14-10-10-12-7-12-5-14-2-16 1-16 4-16 7-14 10-12 12-9 14-6 14-3 16 0 16 5 16 6 14 11 14 14 12 16 9 16 6 16 2 16-1zM873 239l17-5 15-7 13-10 12-12 9-14 5-14 3-14-1-16-4-16-6-14-10-14-12-11-16-10-16-6-16-3-16 1-14 3-14 7-11 9-10 12-8 14-5 16-2 18 1 18 4 16 5 14 10 14 10 10 12 7 14 6 16 2 15-1zM758 599l12-5 8-12 3-13 3-36 4-12 8-10 30-22 9-10 5-12 0-8-2-6-10-12-30-22-9-10-5-14-5-46-5-11-8-7-10-2-10 1-38 18-14 3-14-3-38-17-10-2-10 2-8 7-6 11-5 46-4 12-8 10-30 22-9 10-5 12 0 8 2 6 10 12 31 23 9 11 4 14 5 44 5 10 7 7 10 3 10-1 40-18 14-3 14 3 36 17 14 2zM531 855l15-2 14-6 12-8 10-10 9-14 5-14 4-16 1-18-2-16-5-16-7-14-10-12-11-10-12-6-14-4-16-1-16 2-16 6-16 9-12 11-11 13-8 16-4 14-1 16 2 16 6 14 8 14 12 12 14 11 16 7 16 5 17 1zM863 855l17-3 16-5 14-8 14-12 11-14 7-14 4-16 1-14-2-16-6-14-8-14-11-13-14-10-16-8-16-5-16-1-14 2-14 5-14 8-10 10-9 14-6 14-4 16-1 18 2 16 4 16 8 14 10 13 12 10 12 6 14 4 15 1z"/>
<path fill="#0007ff" d="M1112 899l-836 0 0-71 10-11 36-26 7-10 2-10-3-10-7-10-35-25-10-11 0-221 5 13 7 12 10 11 10 8 12 6 12 3 14 1 14-1 14-4 14-6 14-9 11-11 9-12 6-12 4-14 2-14-1-14-4-14-6-12-9-13-12-11-12-9-14-7-14-4-14-1-14 1-14 3-12 6-10 8-10 11-7 12-5 13 0-221 10-11 35-25 7-10 3-10-3-10-7-10-35-26-10-11 0-71 836 0 0 70-10 11-37 27-7 10-2 10 3 10 7 10 36 26 10 11 0 221-6-14-7-12-9-11-10-7-12-7-14-3-14-1-14 1-14 4-14 7-13 9-11 11-9 11-7 14-4 14-1 14 2 14 4 14 6 12 9 12 12 11 12 8 14 7 16 4 14 1 14-1 12-3 12-7 10-7 9-11 7-12 6-14 0 221-10 11-29 20-9 8-5 8-3 10 2 10 7 10 37 27 10 11 0 70zM531 241l15-2 14-6 13-8 11-12 8-13 6-15 3-16 0-18-2-16-5-16-7-14-10-12-11-10-12-6-14-4-16-1-16 3-16 5-16 9-14 12-11 14-7 14-4 16-1 16 3 16 6 16 10 14 11 12 15 10 16 7 16 4 15 1zM864 241l16-3 16-5 16-10 12-10 11-14 7-14 5-16 1-16-3-16-6-16-9-14-12-12-14-10-16-8-16-4-16-1-14 2-14 6-12 7-12 12-8 13-6 15-4 16-1 18 3 18 5 16 7 14 10 11 12 10 12 6 14 4 16 1zM759 603l7-2 6-3 8-12 3-13 2-38 5-14 9-10 28-20 11-10 4-6 3-8-1-8-2-6-10-12-32-23-11-11-4-14-4-46-4-10-7-8-10-4-10 1-12 5-30 15-14 3-14-3-40-19-10-2-10 2-8 7-6 11-2 14-2 32-4 14-9 12-32 22-10 10-5 12 0 8 3 6 9 12 34 23 9 11 5 14 4 48 4 10 8 7 10 3 10-1 42-20 14-3 14 3 36 18 15 3zM540 855l14-4 14-8 10-8 10-13 7-15 5-16 2-16-1-18-4-16-6-14-9-14-10-11-12-7-14-6-14-2-16 1-16 4-16 7-14 10-12 12-10 14-6 14-3 16 0 16 4 16 7 14 10 14 14 12 16 10 16 6 18 3 16-1zM872 855l16-4 16-8 14-9 12-13 9-14 6-14 3-16-1-16-4-16-7-14-10-14-12-11-16-10-16-6-16-3-16 1-14 3-14 7-12 10-10 11-8 16-5 16-2 16 1 18 3 16 7 16 9 14 11 10 12 7 14 6 14 2 16-1z"/>
<path fill="#0200ff" d="M1112 899l-836 0 0-67 10-13 40-28 7-10 2-10-2-10-6-8-10-8-30-20-6-6-5-8 0-214 6 14 8 12 9 10 11 7 12 6 12 2 14 1 14-1 14-5 14-6 14-10 10-10 9-12 6-12 4-14 2-14-1-14-4-14-7-14-9-12-12-12-12-8-14-6-14-5-14-1-14 1-12 2-12 6-10 7-10 10-8 12-6 14 0-214 5-8 7-6 37-26 8-10 2-10-2-10-7-10-38-27-8-7-4-6 0-68 836 0-1 68-4 6-7 7-39 27-7 10-2 10 2 10 5 8 10 8 33 22 10 13 0 214-6-13-8-12-9-10-11-9-12-5-12-3-14-1-14 1-14 4-14 7-14 10-11 10-9 12-7 14-4 14-1 14 2 14 4 14 6 12 9 12 11 10 14 10 14 7 14 4 14 1 14-1 12-3 12-5 10-7 10-11 8-12 6-14 0 214-10 13-33 22-9 8-6 8-2 10 2 10 7 10 39 27 11 13 1 68zM540 241l14-4 14-7 12-11 9-12 8-16 4-16 1-16-1-18-4-16-7-16-8-12-10-11-12-7-14-6-14-2-16 1-16 4-16 7-14 10-14 14-9 14-6 14-3 16 1 16 4 16 8 16 11 14 12 10 16 10 16 6 18 3 16-1zM872 241l16-4 16-8 14-9 12-13 10-14 6-16 3-14-1-16-4-16-8-16-10-14-12-11-16-10-16-6-16-2-16 0-14 3-14 7-12 9-11 14-8 16-5 16-2 16 1 18 4 16 7 16 9 14 10 10 13 8 14 5 14 2 16-1zM763 607l7-2 5-4 7-12 3-14 1-38 4-14 11-12 30-20 12-10 4-6 2-8 0-8-2-6-11-12-33-22-12-12-5-16-3-48-3-10-8-9-10-3-12 2-40 20-16 5-16-4-30-17-12-5-10-1-10 3-8 7-4 11-3 47-4 16-11 12-30 20-12 10-4 6-2 8 0 8 2 6 10 12 34 22 12 13 4 15 4 49 4 11 8 7 10 3 10-1 12-5 30-17 16-4 16 5 38 20 15 2zM544 855l16-6 12-7 10-10 9-13 7-16 3-16 1-18-2-18-4-16-7-14-9-12-12-10-12-7-14-5-14-1-16 2-16 5-16 8-14 10-12 14-9 14-5 14-2 16 1 16 5 16 9 16 11 13 14 11 16 9 18 5 16 2 16-2zM877 855l15-5 16-8 14-11 11-12 8-14 6-16 2-14-1-16-5-16-7-14-11-14-13-11-16-10-16-5-18-3-16 1-14 4-14 8-12 11-9 13-7 16-4 16-2 18 2 18 5 16 6 14 9 12 12 11 14 7 14 4 16 2 15-2z"/>
<path fill="#0d00fc" d="M1112 899l-836 0 0-63 2-5 4-6 8-7 41-27 7-10 2-10-2-10-6-8-10-8-35-22-7-8-4-8 0-207 6 13 8 11 10 10 10 7 12 6 14 3 14 0 14-2 14-4 14-7 12-9 11-11 9-12 6-12 4-14 2-14-1-14-4-14-6-12-9-13-11-11-13-10-14-7-14-4-14-2-14 0-14 3-12 6-10 7-10 10-8 11-6 13 0-207 4-8 8-8 34-22 10-8 6-8 2-10-2-10-7-10-41-27-12-13-2-5 0-63 836 0 0 62-3 6-11 13-42 27-7 10-2 10 2 10 6 8 9 8 36 22 7 8 5 10 0 207-6-14-8-12-10-10-10-7-12-5-14-4-14 0-14 2-14 4-14 7-14 10-10 10-9 12-7 14-4 14-1 14 2 14 4 14 7 14 9 12 11 10 14 9 14 7 14 4 14 1 14-1 12-3 12-5 10-7 10-10 8-12 6-14 0 207-5 10-7 8-35 22-10 8-6 8-2 10 2 10 7 10 42 27 11 13 3 6 0 62zM545 241l15-5 12-8 11-11 9-14 7-16 3-16 1-18-2-18-5-16-7-14-9-12-10-10-12-6-14-5-16-2-16 2-16 5-16 8-14 10-13 14-8 14-6 16-2 16 1 16 5 16 9 16 12 13 14 11 16 9 18 5 18 2 15-2zM877 241l17-6 15-8 15-12 10-12 9-14 5-16 2-16-1-14-5-16-8-14-11-14-13-11-16-9-16-6-18-3-16 2-14 4-14 7-12 11-10 13-7 16-4 16-1 18 1 18 4 16 8 16 9 12 12 11 14 8 14 4 16 1 15-2zM768 611l10-6 7-12 2-14 1-38 4-17 5-7 7-6 32-20 12-10 4-6 2-8 0-8-2-6-11-12-37-24-12-12-4-16-2-51-5-11-7-8-10-2-12 2-42 23-16 4-16-4-44-24-10-1-10 2-8 8-5 12-2 48-3 16-6 8-6 6-35 22-9 8-5 6-2 8 0 8 2 6 11 12 36 23 12 13 5 16 2 52 5 10 8 8 10 2 10-1 44-24 16-4 16 4 40 23 10 2 8 0zM539 857l15-4 14-7 11-9 9-12 8-14 5-16 2-18-1-18-3-16-6-16-9-14-10-12-12-8-14-5-14-3-16 1-16 3-16 7-16 11-13 12-10 14-7 16-3 16 0 16 4 16 8 16 11 14 13 12 17 10 16 6 18 3 15-1zM871 857l17-4 16-8 15-10 12-12 9-14 6-14 4-16-1-16-3-16-8-16-10-14-12-11-16-11-16-6-18-3-16 0-16 4-14 7-12 10-10 12-7 14-5 16-2 18 0 18 4 16 6 16 9 14 11 11 12 8 14 5 16 3 15-1z"/>
<path fill="#1700fa" d="M1112 899l-836 0 0-56 4-12 12-12 33-20 11-8 8-10 2-10-3-10-6-8-10-8-37-22-10-10-4-10 0-201 6 13 8 12 10 9 12 8 12 4 12 3 14 0 14-2 14-4 14-7 14-11 10-10 9-12 6-12 4-14 2-14-1-12-4-14-6-14-8-12-12-12-12-9-14-8-14-4-14-3-14 0-14 3-12 4-12 8-9 9-9 12-6 13 0-201 5-10 7-8 39-24 10-8 6-8 3-10-3-10-7-10-42-26-8-7-6-7-4-12 0-56 836 0 0 53-5 15-5 7-8 7-43 26-8 10-2 10 3 10 5 8 11 8 38 23 8 9 4 10 2 6 0 196-6-13-8-11-10-10-10-7-12-6-14-3-14 0-14 2-14 4-14 7-14 10-11 11-9 12-7 14-4 14-1 14 1 12 4 14 7 14 9 12 11 11 14 10 14 7 14 4 14 2 14 0 14-3 12-6 10-7 10-10 7-10 7-14-1 202-4 10-9 9-38 23-10 8-6 8-3 10 2 10 8 10 44 28 7 6 6 7 4 14 0 53zM540 243l14-4 14-7 12-10 10-13 7-14 5-16 2-18-1-18-4-18-6-16-9-14-10-10-12-8-14-5-14-2-16 0-18 4-16 8-16 11-13 12-9 14-7 16-3 16 0 16 5 16 8 16 10 14 14 12 15 9 18 7 18 3 16-1zM871 243l17-4 16-8 15-10 12-12 10-14 7-16 3-16-1-16-4-16-7-16-11-14-12-11-16-10-16-7-18-3-16 0-16 4-14 7-12 9-10 13-8 14-5 18-2 18 1 18 3 16 7 16 8 14 12 11 12 8 14 5 16 3 15-1zM774 615l9-8 5-12 1-52 4-18 5-7 8-7 34-20 13-10 4-6 3-8-1-8-2-6-11-12-38-23-8-6-6-7-3-8-2-10-1-54-4-12-8-7-10-2-10 1-12 6-32 20-10 4-8 1-8-1-10-4-44-25-10-2-10 2-8 7-5 12-2 12 1 40-4 18-6 8-7 6-37 22-10 8-4 6-3 8 0 8 3 6 10 12 40 23 12 13 4 8 2 10 1 54 3 10 8 8 10 3 12-2 44-25 10-4 8-1 8 1 10 4 42 25 10 2 10-1zM545 857l15-5 12-8 10-9 10-14 7-16 4-16 1-18-2-18-4-16-6-15-10-13-10-10-12-8-14-5-16-2-16 2-18 5-16 8-14 10-13 14-9 14-6 16-2 16 1 16 5 16 9 16 11 14 16 12 16 8 18 6 16 2 17-2zM876 857l18-6 15-8 15-12 11-12 8-14 6-16 2-14-1-16-5-16-8-16-12-14-13-11-16-9-16-6-18-3-16 1-14 4-14 8-12 10-10 14-7 16-5 18-1 18 2 18 4 16 7 16 10 12 12 11 14 8 14 4 14 1 16-2z"/>
<path fill="#2200f8" d="M1108 899l-830 0-2-46 2-12 4-10 5-6 9-7 35-19 11-8 8-10 2-10-3-10-6-8-11-8-40-23-10-9-4-10-2-18 2-38-2-17 0-126 6 13 8 11 10 9 10 7 12 5 14 3 14 0 14-2 14-5 14-6 12-9 12-11 9-12 7-14 4-14 2-14-1-14-4-14-7-14-8-12-11-10-13-10-14-8-14-4-14-3-14 0-14 3-12 4-10 6-11 10-9 12-6 13 0-126 2-15-2-40 2-18 5-10 9-9 41-23 10-8 6-8 3-10-2-10-8-10-12-8-34-19-8-6-6-7-4-8-2-12 2-48 831 0 2 46-2 12-3 9-6 7-8 7-47 27-8 10-2 10 2 10 6 8 11 8 42 23 8 9 5 10 2 18-2 42 3 14 0 125-6-12-8-11-10-10-12-8-12-4-14-3-14 0-14 3-14 4-14 7-12 9-12 12-9 12-7 14-4 14-1 14 1 14 5 14 7 14 9 12 11 10 14 10 14 7 14 4 14 2 14 0 14-3 12-5 10-7 10-10 7-10 7-13 0 125-3 14 2 42-2 18-5 10-8 9-41 23-11 8-6 8-3 10 2 10 8 10 11 8 36 19 8 7 6 7 3 9 2 14-2 44-1 0zM546 243l14-5 14-9 10-10 9-14 7-16 4-18 1-18-2-18-5-16-8-16-9-12-11-10-12-7-14-4-16-2-16 2-18 6-16 8-14 11-13 14-8 14-6 16-2 16 1 16 5 16 9 16 12 14 15 12 17 8 18 6 18 2 16-2zM876 243l18-6 15-8 15-11 11-13 9-14 6-16 2-16-1-16-5-16-9-16-11-14-14-11-16-9-18-6-18-3-16 2-14 4-14 8-12 11-10 14-7 16-4 18-1 18 2 18 4 16 8 16 8 12 12 10 14 8 14 4 16 2 16-2zM775 621l11-7 5-13 1-14-2-42 2-12 3-8 7-8 7-6 37-20 13-10 4-6 3-8-1-8-2-6-11-12-42-23-9-7-5-7-4-9-2-12 1-54-4-12-7-8-10-3-12 3-44 27-10 5-10 1-10-1-10-5-44-27-12-3-10 3-8 8-5 12 1 54-1 12-3 8-6 8-8 6-40 22-10 8-4 6-3 8 0 8 2 6 7 8 8 6 42 23 12 13 3 8 1 12 0 55 4 11 8 8 10 3 12-3 44-27 10-5 10-1 10 1 10 5 42 27 10 3 9-1zM540 859l16-4 14-8 11-10 9-12 8-16 5-16 2-18-1-18-4-16-6-16-8-14-10-11-12-8-14-6-16-3-16 1-18 4-16 7-16 11-13 13-10 14-7 16-3 16 0 16 4 16 8 16 10 14 15 13 16 10 18 6 18 3 16 0zM870 859l18-5 16-7 15-10 12-12 10-14 7-16 4-16 0-16-4-16-8-16-10-14-13-12-15-10-16-7-18-4-18 0-16 3-14 7-12 10-10 12-8 15-6 18-2 18 1 18 4 18 6 16 9 13 10 11 12 8 14 6 16 2 16 0z"/>
<path fill="#2c00f6" d="M1106 899l-825 0-3-44 1-12 4-10 6-8 11-8 37-18 12-8 8-10 2-10-3-10-6-8-12-8-28-14-15-8-11-10-4-10-2-20 3-46-1-12-4-9 0-109 7 14 8 10 11 9 10 6 12 5 14 2 14 0 14-3 14-4 14-8 13-9 12-12 8-12 7-14 4-14 1-12-1-14-4-14-7-14-9-12-12-12-12-9-14-8-14-4-14-3-14 0-14 2-12 5-10 6-11 9-9 12-6 12 0-109 4-9 1-10-3-48 2-20 6-11 10-9 52-28 9-10 2-10-2-10-8-10-13-8-36-18-10-7-6-7-5-10-1-12 3-46 825 0 3 44-1 14-4 9-6 7-10 8-41 20-9 6-8 10-2 10 2 10 9 10 53 28 10 9 5 11 2 20-3 48 2 11 4 8 0 110-7-13-8-10-9-9-12-8-12-5-14-2-14 0-14 3-14 4-14 7-13 10-13 12-8 12-7 14-4 14-1 14 1 12 4 14 7 14 8 12 12 11 12 9 14 8 16 5 14 3 14 0 14-3 12-4 10-6 10-9 9-12 7-13 0 110-5 9-1 12 3 46-2 20-5 11-10 9-14 8-29 14-12 8-7 8-2 10 2 10 8 10 12 8 38 18 10 8 6 8 4 10 1 12-3 44zM541 245l15-4 14-7 12-11 9-12 8-16 5-18 2-18-1-18-4-16-6-16-9-14-10-11-12-8-14-6-16-3-16 1-18 4-16 8-16 10-13 13-10 14-8 18-3 16 0 16 4 16 8 16 11 14 15 13 16 10 18 6 18 4 17-1zM870 245l18-4 18-9 14-10 13-13 10-14 7-16 3-16 0-16-4-16-8-16-11-14-14-13-16-10-16-7-18-3-18 0-14 3-14 7-12 9-11 14-9 16-5 18-2 18 1 18 4 18 6 16 9 14 11 10 12 9 16 6 16 2 14-1zM780 627l10-7 5-13 0-14-3-44 1-12 3-10 6-8 10-8 44-22 10-8 5-6 2-8 0-8-3-6-4-6-8-6-48-25-13-13-4-10-1-12 3-58-4-12-7-8-10-3-12 2-12 7-34 24-12 6-10 2-10-2-12-6-36-25-10-6-12-2-10 3-8 8-4 12 3 56-1 12-3 10-6 8-10 8-43 22-11 8-4 6-3 8 0 8 2 6 5 6 7 6 46 23 9 7 7 8 4 10 1 12-3 58 4 12 8 8 10 3 12-2 10-6 36-25 12-6 10-2 10 2 11 6 45 30 10 3 10-1zM546 859l14-5 14-8 11-11 9-14 7-16 4-18 1-18-2-18-5-18-7-14-8-12-12-11-12-7-14-5-16-2-16 2-18 5-16 8-14 10-14 14-9 14-7 16-2 16 1 18 5 18 8 14 12 14 16 13 16 8 18 6 18 3 18-2zM875 859l17-5 16-8 15-11 13-14 8-14 7-16 2-16-1-16-4-16-9-16-11-14-16-13-16-9-18-6-18-3-16 2-14 4-14 7-12 11-9 13-8 16-4 18-2 20 2 18 4 16 7 16 10 13 12 11 14 8 14 4 16 2 15-2z"/>
<path fill="#3600f3" d="M1102 899l-818 0-5-42 2-14 4-10 7-8 12-9 51-23 10-10 3-12-3-10-9-10-10-6-30-13-16-8-12-9-6-12-3-10 0-14 6-52-3-14-6-9 0-95 7 14 8 10 11 9 10 6 12 4 14 2 14 0 14-3 14-4 14-8 14-10 10-10 9-12 7-14 5-14 1-14-1-14-4-14-7-14-8-12-12-12-12-9-14-8-14-5-14-3-14 0-14 2-12 4-12 6-10 9-10 12-6 12 0-95 7-9 2-14-6-52 0-14 2-10 7-11 12-10 16-8 31-13 10-6 8-10 3-10-4-12-10-10-50-23-11-7-7-8-5-10-2-14 1-18 4-26 819 0 4 26 1 18-2 14-4 9-8 9-10 6-52 24-10 10-3 12 3 10 8 10 10 6 32 13 16 8 12 10 5 11 2 10 1 14-6 52 2 14 8 10 0 95-7-13-9-12-10-8-12-7-12-4-14-2-14 0-14 3-14 5-14 8-13 9-12 12-8 12-7 14-4 14-1 14 1 14 4 14 8 14 9 12 11 11 14 10 14 7 14 4 14 3 14 0 14-2 12-5 10-6 10-8 9-12 7-13 0 95-8 10-2 14 6 52-1 14-2 10-5 11-12 10-57 27-9 10-3 10 3 12 10 10 52 24 11 8 7 8 5 12 1 14-5 40-1 0zM547 245l15-5 12-8 11-11 10-14 6-16 4-18 1-20-2-18-4-16-7-16-9-13-12-11-12-7-14-4-16-2-16 2-18 5-18 9-15 11-13 14-10 16-5 16-3 16 2 16 5 16 9 16 12 14 16 13 18 9 18 6 18 2 17-2zM876 245l18-6 16-8 14-11 12-13 10-16 6-16 2-16-1-16-5-16-9-16-11-14-16-13-18-10-18-6-18-2-16 2-14 4-14 8-12 12-10 15-7 16-4 18-1 20 2 18 5 16 7 16 10 12 12 11 14 8 14 4 16 1 16-2zM784 635l6-3 4-5 5-14 0-12-6-50 1-14 4-10 6-8 12-9 44-19 13-8 5-6 3-8 1-8-3-8-7-8-9-6-35-15-14-8-10-7-6-8-4-10-1-14 6-48 0-14-4-12-7-8-12-3-12 4-46 34-12 6-12 3-12-3-12-6-36-28-12-7-12-3-10 3-8 8-4 12 0 14 6 48-2 14-3 10-6 8-11 8-44 20-13 8-6 6-4 8 0 8 3 8 6 8 9 6 35 14 16 9 9 7 6 8 3 10 2 14-6 50 0 12 4 12 8 8 10 3 12-3 12-7 36-28 12-6 12-3 12 3 12 6 46 34 10 4 10-1zM542 861l14-4 14-7 12-10 10-13 7-14 5-18 2-18 0-20-4-18-7-16-8-14-11-12-12-8-14-5-14-3-16 1-18 4-18 7-16 11-14 13-10 14-7 16-4 18 0 16 4 16 8 16 12 16 15 13 16 9 18 7 18 3 18 0zM869 861l19-5 16-7 16-11 14-13 9-14 8-16 3-16 0-16-4-16-7-16-11-15-14-13-16-10-18-8-18-3-18 0-16 3-14 8-12 10-10 12-7 14-6 18-3 18 1 20 4 18 6 16 9 14 10 12 14 9 14 5 16 3 15-1z"/>
<path fill="#4100f1" d="M1100 899l-309 0-7-2-10 2-106 0-55 0-9-2-8 2-310 0-4-24-1-18 1-14 6-11 9-9 13-8 44-16 12-6 9-10 4-12-3-10-9-10-11-6-36-13-16-7-13-10-7-11-3-11 0-16 8-48 1-14-1-8-3-8-4-5-6-3 0-79 7 13 9 10 10 8 12 7 12 4 14 1 14 0 14-3 16-6 14-8 12-9 11-12 10-14 6-12 3-14 2-12-2-14-4-14-5-12-10-14-11-12-12-9-14-8-16-6-14-3-14 0-14 1-12 4-12 7-10 8-10 12-6 11 0-79 6-3 4-5 3-8 1-8-1-14-8-48 0-16 3-11 7-11 13-10 16-7 37-13 10-6 9-10 3-10-4-12-10-10-12-6-43-16-14-8-8-9-6-11-1-14 1-18 4-24 309 0 9 2 10-2 56 0 103 0 11 2 8-2 308 0 5 24 1 18-1 14-6 12-8 8-13 8-44 16-12 6-10 10-4 12 3 10 8 10 11 6 36 12 18 9 12 9 8 12 2 12 0 14-9 48-1 14 2 8 3 8 5 5 6 3 0 80-7-12-9-12-10-8-12-7-12-4-14-1-14 0-14 3-16 6-14 8-12 9-12 12-9 12-7 14-4 14-1 14 2 14 4 14 7 14 9 12 13 12 12 8 14 8 14 5 14 3 14 0 14-1 12-4 12-7 10-8 9-12 7-12 0 80-6 3-5 5-3 8-2 8 1 14 9 48 0 16-3 12-7 10-14 10-18 9-33 11-11 6-9 10-3 10 3 12 10 10 12 6 45 16 12 8 10 9 5 11 1 16-2 22-4 18zM544 247l16-5 12-6 12-11 10-14 7-16 5-18 1-18-1-20-4-18-7-16-9-14-10-10-12-8-14-5-16-3-16 1-18 5-18 8-16 11-14 13-11 16-7 16-3 16 1 16 5 18 8 16 11 14 16 13 18 11 18 6 18 3 18-1zM870 247l18-5 18-8 16-11 12-12 11-16 7-16 4-16-1-16-5-18-8-16-11-14-15-14-16-9-18-7-18-4-18 1-16 4-14 7-12 11-10 13-8 16-5 18-1 18 1 20 4 18 6 16 9 14 12 12 12 8 14 5 16 2 16-1zM789 645l7-4 4-4 4-14 0-14-9-52 0-16 4-12 8-10 13-9 18-8 32-11 13-8 6-6 3-8 1-8-3-8-7-8-10-6-37-14-18-8-12-8-6-8-4-12-1-16 2-18 7-34 1-14-4-14-8-8-11-3-12 4-12 8-38 33-14 8-12 2-12-2-14-8-40-35-10-6-12-4-12 3-8 9-4 13 1 14 9 50-1 16-3 13-7 9-13 9-18 8-32 11-14 8-6 6-3 8-1 8 3 8 6 8 10 6 41 15 16 7 10 8 7 8 4 12 1 16-2 18-7 34-1 14 4 13 8 9 12 3 12-4 10-6 40-35 14-8 12-2 12 2 14 8 48 40 12 5 9-1zM548 861l14-5 14-9 12-12 8-14 7-16 3-18 1-20-2-18-4-16-8-16-8-12-11-11-14-8-14-4-16-2-16 2-18 5-18 9-15 11-13 14-9 14-7 16-3 18 1 16 6 18 9 16 13 14 16 13 18 9 18 6 18 2 18-2zM875 861l17-5 18-9 14-11 13-13 9-14 7-16 3-18-1-16-6-18-9-16-12-14-14-12-18-10-18-6-18-3-18 1-14 5-14 8-12 11-10 14-7 18-4 18-2 20 2 18 5 18 7 14 9 14 12 10 14 8 14 4 16 2 17-2z"/>
<path fill="#4900ef" d="M1098 899l-289 0-7-10-6-3-6-1-14 3-14 11-137 0-13-10-14-4-12 4-8 10-289 0-6-24-1-18 2-14 6-12 10-8 16-9 46-13 15-6 11-10 3-6 1-8-4-12-10-10-14-6-34-9-20-8-15-9-9-12-4-14 1-18 3-18 10-36 1-16-2-10-4-8-7-6-8-1 0-64 7 13 9 10 10 8 12 7 14 3 12 2 14-1 16-4 16-6 14-8 12-10 10-11 9-12 7-14 4-14 1-12-1-12-3-14-7-14-10-14-12-12-12-10-14-8-14-5-16-4-14-1-14 2-12 3-10 5-12 10-9 10-7 13 0-64 8-1 7-6 4-8 2-10-1-16-10-34-3-20-1-18 4-14 10-12 14-9 20-8 35-9 13-6 11-10 3-12-1-8-4-6-11-10-12-5-48-14-16-9-10-8-6-12-2-14 2-20 5-22 289 0 8 10 12 4 14-4 13-10 136 0 15 11 14 3 6-1 6-3 7-10 289 0 5 22 2 20-2 14-6 12-9 8-16 9-48 14-13 5-12 10-3 6-1 8 3 12 10 10 13 6 35 9 20 7 15 10 10 12 3 14 0 18-3 18-10 36-2 16 2 10 5 8 7 6 9 1 0 65-7-12-9-12-10-8-10-6-12-4-16-2-14 1-16 4-16 6-14 8-12 10-11 11-9 12-7 14-4 14-1 14 1 12 4 14 6 12 9 14 12 11 12 10 14 8 16 6 16 4 14 1 12-2 14-4 12-6 10-8 8-10 8-14 0 65-8 1-8 6-5 8-2 10 2 16 10 36 3 18 0 18-3 14-9 12-16 10-18 7-35 9-14 6-10 10-4 12 1 8 3 6 11 10 15 6 47 13 14 8 10 9 7 12 2 14-2 20-5 22zM538 249l16-3 14-6 12-9 10-12 9-16 5-16 4-20 0-18-3-20-5-16-8-16-10-13-12-10-14-6-14-3-16-1-18 3-18 7-18 10-16 13-11 14-10 18-5 16 0 16 2 16 8 18 11 16 15 14 16 10 20 9 18 4 18 1zM863 249l19-4 18-7 18-11 14-12 12-16 8-16 5-16 0-16-3-16-7-16-11-16-14-14-16-11-18-8-18-5-20-1-16 3-14 6-12 9-12 13-7 14-7 18-3 18 0 20 2 18 6 18 8 16 11 12 12 10 14 6 14 4 17 0zM796 657l7-4 5-6 4-16-2-14-10-36-3-20 0-18 4-14 9-11 16-9 18-7 36-10 15-7 7-8 4-8 0-8-3-8-6-8-11-7-44-12-20-9-12-7-8-10-5-13 0-18 3-20 10-38 2-14-4-14-3-6-5-4-12-3-14 5-12 9-26 27-13 12-15 9-14 3-14-3-16-9-14-12-26-28-10-8-14-5-12 2-6 5-4 6-3 14 2 14 9 36 4 20 0 18-4 14-8 10-16 10-18 7-38 10-13 7-8 8-4 8 0 8 2 8 7 8 12 7 44 13 20 8 12 8 8 9 4 15 0 18-4 20-9 36-2 14 4 16 9 9 12 2 14-5 10-8 25-26 16-14 15-9 14-3 14 3 16 10 14 13 24 25 10 8 12 5 12 0zM545 863l17-5 12-7 10-10 10-14 8-18 5-18 1-18-1-20-4-18-7-16-9-14-11-11-12-8-14-5-16-2-16 1-20 5-18 9-16 11-14 14-11 16-6 16-3 16 0 16 5 16 10 18 11 14 16 13 18 10 18 7 20 3 17-1zM870 863l18-5 18-8 16-11 14-14 11-16 7-16 3-16 0-16-5-16-9-18-12-14-15-14-18-10-18-7-18-3-18 1-16 4-12 6-12 11-11 14-7 16-5 18-2 20 1 20 4 18 6 16 10 14 12 13 12 7 14 5 16 2 16-1z"/>
<path fill="#4f00ed" d="M1094 899l-274 0-2-12-4-8-8-7-10-1-10 2-10 5-8 7-12 14-125 0-11-14-10-8-10-5-10-1-9 2-7 5-5 9-3 12-275 0-6-22-1-20 2-14 7-12 11-9 18-8 20-6 32-5 16-6 8-5 6-7 3-6 1-8-2-8-3-6-6-6-7-6-13-4-39-7-20-6-20-11-10-12-4-16 1-20 5-22 14-38 2-18-2-12-7-10-9-5-12 0 0-47 7 12 9 10 10 8 12 6 12 4 14 1 16-1 14-4 14-5 14-8 12-9 12-12 9-12 8-14 4-14 2-14-1-12-4-14-7-14-9-14-12-12-12-10-14-8-14-6-14-3-16-2-16 1-12 4-12 6-10 8-9 10-7 12 0-47 12 0 9-5 7-10 2-12-2-18-14-38-5-22-1-20 4-16 10-12 20-11 20-6 38-6 14-5 8-6 5-6 3-6 2-8-1-8-3-6-6-6-8-6-14-5-36-7-18-5-16-7-12-9-8-11-2-16 1-20 6-22 275 0 3 12 5 9 8 6 8 1 10-1 10-5 10-8 11-14 125 0 10 12 10 9 10 5 10 2 10-2 8-6 4-8 2-12 275 0 6 22 2 20-3 16-6 11-12 9-16 7-20 6-34 5-15 6-9 6-5 6-3 6-1 8 1 8 4 6 5 6 9 6 12 4 40 7 20 6 19 11 10 12 4 16-1 20-6 22-13 38-2 18 3 13 6 9 10 5 12 0 0 48-8-13-8-10-8-7-12-7-12-3-16-2-16 1-14 4-16 6-14 8-13 10-12 12-8 12-8 16-4 14-1 12 1 12 5 16 6 12 11 14 12 12 13 9 14 8 14 5 14 4 16 1 14-1 12-4 12-6 10-8 8-10 8-13 0 48-12 0-10 5-6 9-3 13 2 18 14 40 5 20 1 20-4 16-10 12-19 11-20 6-40 7-14 5-12 11-4 6-1 8 1 8 4 7 6 7 8 5 15 5 33 5 20 6 16 7 12 10 7 12 2 16-3 24-4 16-2 0zM549 249l15-5 12-7 11-12 9-14 7-16 5-20 1-20-2-20-4-18-6-14-11-16-10-11-14-8-14-4-16-1-16 1-18 5-18 9-16 11-14 14-12 16-7 18-3 16 1 16 6 18 9 16 14 16 16 13 18 10 20 6 20 2 17-1zM872 249l18-5 18-9 16-11 13-13 10-14 8-16 4-18-1-16-4-16-9-18-13-16-16-14-18-10-20-7-20-3-18 1-14 4-14 8-12 12-10 15-7 18-4 18-1 20 1 18 5 18 6 16 10 14 12 12 12 7 16 5 16 1 16-1zM805 671l6-4 5-6 4-10 0-10-2-16-13-36-6-22-1-20 4-16 10-12 18-11 22-6 39-7 17-7 8-7 5-10 1-10-3-8-8-10-13-8-50-10-22-7-15-9-8-10-5-16 1-20 5-22 14-38 2-16-2-16-4-7-6-5-6-3-8 0-16 6-12 10-25 31-15 16-16 10-16 4-16-4-16-10-16-16-24-30-12-11-16-6-8 0-6 2-6 5-4 7-4 17 3 16 14 38 5 22 1 20-5 16-11 12-17 9-20 6-40 7-16 7-8 7-6 10-1 10 2 8 8 10 14 8 49 9 24 8 13 9 9 10 5 16-1 20-5 22-14 38-3 16 4 17 4 7 6 5 6 2 8 0 16-6 12-11 24-30 16-16 16-10 16-4 16 4 16 10 15 16 25 31 10 9 14 6 8 1 7-1zM541 865l15-3 14-6 12-10 10-13 9-16 5-18 3-20 0-20-4-20-6-16-9-16-10-12-12-9-14-6-14-2-16 0-20 4-18 7-16 10-16 14-11 14-10 18-4 16-1 18 5 18 8 16 12 16 15 13 18 12 18 7 18 4 19 0zM864 865l18-4 18-7 18-11 14-12 13-16 9-18 4-16 1-16-4-18-8-16-12-16-15-14-18-11-18-8-20-4-18 0-16 3-14 7-12 10-10 13-8 16-6 18-2 18 0 20 4 20 6 18 9 16 11 11 10 8 14 6 16 3 16 0z"/>
<path fill="#5500ea" d="M424 149l-4-8-6-6-16-10-14-4-36-3-18-3-20-7-14-9-8-12-3-16 2-20 7-22 264 0 0 20 2 8 5 8-25-4-20 1-22 6-20 10-18 13-15 16-10 16-9 25-2 1zM700 331l-8 1-10-3-10-5-10-7-17-18-27-40-12-11-14-7-17 0 16-18 10-18 7-24 2-24-2-24-7-24-11-20-14-16 18-2 14-7 12-13 15-22 117 0 16 23 12 12 14 7 16 2-13 16-11 20-7 22-2 24 2 24 6 22 10 20 14 18-1 2-8 0-8 2-14 8-10 10-23 34-13 16-16 13-16 7zM962 150l-7-21-10-18-16-18-19-15-20-10-22-6-20-1-26 4 5-8 2-8 0-20 264 0 7 24 2 20-4 16-8 10-14 10-20 6-52 6-15 4-17 10-10 15zM448 458l-6-19-11-20-15-18-20-15-20-10-24-6-22-1-23 4 5-7 3-9 0-20-5-16-18-42-7-28 0-14 4-12 5-8 10-8 14-7 16-5 50-5 14-4 16-9 7-8 3-7 2 1 3 12 6 14 10 16 15 16 18 12 20 10 20 5 20 2 24-4 3 1-5 8-3 8 1 20 4 14 19 44 6 28 0 14-3 11-6 9-10 8-14 6-16 5-49 5-16 4-15 10-10 15zM940 456l-2 0-4-7-7-8-15-9-14-3-48-5-16-5-15-6-9-8-6-8-4-12-1-14 7-28 19-44 5-16-1-18-2-8-5-8 4-1 22 4 20-1 20-5 22-11 19-14 16-18 10-18 7-21 11 15 17 10 14 3 50 5 16 5 13 7 10 8 5 8 3 12 0 14-6 28-19 44-4 14 0 20 3 10 5 6-24-4-20 1-20 4-22 10-20 15-15 16-12 20-7 21zM810 241l-2 0 3 0-1 0zM566 248l0-1 0 1zM822 248l-1-1 1 1zM276 408l0-31 10 3 10 0 0 1-10 11-10 16zM1112 409l-9-14-12-14 1-2 10 1 10-3 0 32zM424 764l-4-7-6-8-16-9-14-4-50-5-16-5-14-7-10-8-5-8-4-12 0-14 7-28 18-40 5-16 1-18-3-10-5-8 2-2 22 4 22-1 22-6 20-10 18-13 16-18 10-18 8-23 9 15 8 6 9 4 14 4 52 6 16 5 14 7 9 8 5 8 3 12 0 14-6 28-19 42-4 14-1 18 3 10 4 8 0 2-22-5-22 1-22 6-20 10-19 14-15 16-11 18-7 22-2 1zM962 764l-7-21-11-18-16-18-18-14-20-10-20-5-20-2-26 4-2-1 5-8 2-8 0-18-4-14-20-46-6-28 1-14 3-10 7-10 10-8 14-6 16-5 48-5 14-3 15-9 7-7 4-8 2 0 8 25 12 18 15 16 19 13 22 10 20 4 20 1 24-4-4 6-4 10 0 20 4 14 19 44 6 28 0 14-3 12-6 9-10 8-14 7-16 4-48 5-14 3-17 10-11 15zM280 549l-4 2 0-31 9 15 11 12 0 1-16 1zM1112 551l-10-3-10 0-1-1 11-12 10-16 0 32zM298 549l-2 0 2 0zM1090 549l1 0-1 0zM308 556l-1-1 2 0-1 1zM752 899l-118 0-14-22-12-13-14-7-17-2 13-16 11-20 7-22 2-24-2-24-6-22-9-18-16-20 1-2 8 1 8-2 16-9 10-11 21-31 13-16 16-14 16-8 8-1 8 1 18 10 20 20 26 37 10 12 16 9 8 2 10 0 0 2-15 18-10 20-6 22-2 24 2 24 7 22 11 20 13 16 0 1-8-1-8 2-14 7-12 12-16 23zM566 681l-2 0 2 0zM822 681l-1 0 1-1 1 1-1 0zM576 687l1 0-1 0zM812 687l-2 0 2 0zM1092 899l-263 0 0-20-3-10-5-6 25 4 20-1 22-6 22-10 18-13 16-18 10-18 8-23 10 15 16 10 16 4 36 3 18 3 18 6 14 10 8 12 4 16-3 24-6 18-1 0zM556 899l-262 0-8-28 0-22 2-8 5-8 7-6 10-7 26-8 46-5 17-4 16-10 5-6 4-8 2 1 8 25 11 16 14 16 19 13 20 10 22 6 22 0 24-3-8 14-1 10 0 12-1 0z"/>
<path fill="#5b00e8" d="M428 130l-12-8-14-4-50-2-20-2-18-6-13-7-10-12-4-16 1-20 8-24 254 0-3 14-1 16-20 1-16 3-16 6-16 8-15 10-13 12-22 31zM702 329l-10 1-10-2-10-5-10-8-18-20-30-51-10-9-12-8 8-18 6-16 4-18 1-18-1-18-4-18-5-16-9-18 14-10 8-8 24-40 111 0 23 38 8 8 15 12-14 34-4 18-1 18 1 18 4 18 14 34-13 9-10 10-27 45-14 18-15 13-14 7zM960 129l-25-32-13-12-14-9-16-8-14-5-16-3-22-1 0-16-3-14 254 0 8 24 1 20-4 16-10 12-14 8-16 5-20 2-50 2-14 4-12 7zM448 435l-4 1-13-19-14-16-23-18-28-12-16-3-20-1-4-2 0-14-3-14-27-52-6-16-3-14 0-16 3-12 6-10 10-8 16-7 18-4 64-3 12-4 12-7 23 31 13 12 14 9 16 9 16 5 37 5-1 14 4 14 25 50 8 22 3 24-1 10-4 8-11 13-22 10-24 4-50 1-15 4-11 6zM944 435l-2 2-14-8-14-4-50-1-24-4-22-10-8-7-5-6-3-8-1-10 2-22 10-26 23-46 4-16 0-14 38-5 16-6 16-8 14-10 12-11 10-12 12-18 2-1 11 7 13 4 64 3 18 4 14 7 10 8 7 10 3 12 0 14-3 16-6 16-27 54-3 14 0 12-3 2-20 1-16 3-14 5-16 8-15 11-13 12-11 14-9 14zM276 404l0-14 4 3-4 11zM1112 405l-6-12 6-3 0 15zM428 744l-13-7-15-4-50-2-24-4-22-10-12-12-4-8-1-10 2-22 8-24 26-50 3-14 0-14 38-6 16-5 16-8 14-10 12-11 11-14 11-17 2 0 12 7 12 3 64 3 18 5 15 7 10 8 6 10 3 12-1 16-3 14-6 16-26 52-3 14 0 14-37 5-16 5-16 9-14 9-13 12-23 31zM960 744l-2-1-12-18-10-12-12-11-14-10-16-8-16-6-38-5 0-14-3-14-27-54-6-16-3-14 0-14 3-12 6-10 10-8 16-7 18-5 64-3 12-4 12-7 23 32 13 11 14 10 16 8 16 5 37 6 0 14 3 14 25 48 9 26 2 22-1 10-4 8-5 7-8 6-20 9-24 4-52 2-14 4-12 7zM1112 538l-6-3 6-12 0 15zM276 538l0-14 5 11-5 3zM748 899l-110 0-24-40-10-10-12-6 15-38 3-18 1-16-1-16-3-18-6-16-9-20 14-9 10-11 25-42 15-20 16-14 16-6 10-1 10 3 10 6 9 8 18 22 27 45 10 10 13 9-10 22-5 14-3 16-1 18 1 18 3 18 15 36-11 6-10 10-25 40-1 0zM550 899l-254 0-8-26-1-22 3-10 7-10 9-7 12-6 28-6 56-2 14-4 12-8 22 31 13 12 15 10 16 8 14 5 16 4 22 1 1 16 3 14zM1090 899l-253 0 3-12 0-16 2-2 20-1 16-3 16-6 16-8 14-10 11-10 25-32 12 7 14 4 50 2 20 2 16 5 14 8 6 6 5 8 3 16-3 24-6 18-1 0z"/>
<path fill="#6100e6" d="M432 118l-12-4-14-1-46 1-20-1-18-3-16-8-12-11-6-16 2-22 8-24 246 0-5 12-4 16-31 7-26 11-24 18-22 25zM702 327l-10 1-12-3-11-6-11-10-18-24-24-48-16-18 9-34 3-28-3-30-10-32 11-11 8-11 22-44 107 0 23 45 8 11 10 10-10 32-3 30 3 30 9 32-9 9-8 11-24 46-12 18-16 16-16 8zM958 117l-2 1-2-1-14-16-12-12-20-14-24-11-32-7-4-16-5-12 246 0 8 22 2 22-5 16-4 6-8 7-16 7-18 4-20 1-46-1-12 1-12 3zM442 426l-24-26-22-17-24-11-32-7-3-2-6-22-31-52-7-16-4-14-1-16 2-12 6-11 10-9 16-7 18-4 20-1 46 1 13-1 13-4 23 26 23 17 26 11 31 8 3 12 4 12 29 48 9 22 4 14 1 12-2 10-3 10-6 7-8 6-12 6-12 3-24 3-52-2-12 2-12 4zM946 426l-12-4-12-2-52 2-24-2-12-4-12-5-8-6-7-8-4-10-1-10 1-12 3-14 11-24 27-46 5-12 3-12 32-8 26-12 22-16 24-26 12 4 14 2 46-2 20 1 18 4 14 6 10 9 6 10 3 14-2 16-4 16-6 14-31 52-6 22-3 2-31 7-26 12-22 17-22 25zM432 733l-12-4-12-1-54 1-24-2-14-5-10-5-8-6-6-8-3-10-1-10 1-12 4-14 9-22 28-46 5-12 2-12 35-9 24-11 21-16 25-27 12 4 14 2 46-2 20 1 18 4 14 7 10 8 6 11 3 14-2 16-4 14-7 16-30 52-7 22-33 8-24 11-23 17-23 26zM956 733l-25-26-21-16-24-12-35-8-6-22-30-52-7-14-4-16-2-16 3-14 7-12 10-8 14-6 18-4 20-1 46 2 14-2 12-4 22 25 22 17 26 12 34 9 2 12 5 12 27 46 10 22 4 14 1 12-1 10-4 10-5 8-8 6-9 5-14 4-26 3-52-1-12 1-12 4zM746 899l-106 0-22-44-8-11-11-11 10-32 3-30-3-28-9-34 16-18 25-48 12-18 17-16 10-6 8-3 10 0 12 4 10 7 11 10 15 22 24 46 17 22-9 30-3 30 3 30 10 32-16 18-25 48-1 0zM544 899l-246 0-9-26 0-22 3-10 7-10 11-7 14-6 28-4 56 1 24-5 22 25 22 16 26 13 32 7 1 2 3 12 6 14zM1088 899l-245 0 5-12 3-14 3-2 30-7 26-12 23-17 23-25 12 4 12 1 48-1 20 1 18 4 16 7 12 13 5 16 0 12-3 12-6 18-2 2z"/>
<path fill="#6700e4" d="M378 111l-26 2-22-3-18-6-13-9-7-12-3-16 3-18 8-20 239 0-13 26-30 10-20 10-19 14-21 20-24-1-34 3zM704 325l-12 2-12-3-12-8-12-11-13-20-23-51-15-23 6-30 2-24-2-24-6-30 15-24 22-50 102 0 24 51 14 23-7 32-1 22 1 22 7 32-12 18-22 48-11 20-16 18-17 10zM1054 111l-26 1-56-4-20 1-22-20-18-13-20-10-31-11-13-26 239 0 6 14 4 16 0 14-3 12-6 10-8 6-12 6-14 4zM536 419l-24 1-52-5-22 2-24-22-18-13-20-10-29-9-12-24-31-46-10-22-4-16 0-14 2-12 6-9 8-7 10-6 24-6 24 0 50 4 22-1 22 21 18 13 20 10 28 9 13 24 35 54 8 18 3 18-2 18-8 14-15 10-22 6zM886 419l-30 0-14-2-12-4-10-5-8-7-5-8-3-10 1-20 8-24 10-18 27-40 12-23 30-10 20-11 17-12 23-21 22 1 50-4 22 0 24 6 16 10 8 10 3 12 0 14-4 16-10 24-31 46-12 24-28 9-20 10-19 13-23 22-24-2-40 4zM366 727l-30-1-12-2-12-5-8-5-7-7-5-8-2-10 1-20 7-22 10-18 29-42 10-22 29-9 20-10 18-13 24-22 22 2 50-5 22 1 24 5 16 11 8 10 3 12 0 14-4 16-10 22-32 48-12 24-27 8-22 11-18 13-22 21-24-1-46 4zM1046 727l-22 0-50-4-22 1-23-21-19-14-20-9-28-9-12-24-31-46-11-22-4-16 0-14 2-12 6-10 8-7 10-5 24-6 22-1 52 5 22-2 23 22 19 13 20 10 28 9 10 22 37 56 8 20 2 18-2 18-9 13-8 5-10 5-22 5zM744 899l-102 0-22-50-15-24 6-28 2-24-2-24-6-32 13-19 21-47 11-20 10-12 9-8 9-6 10-3 10 0 12 4 12 8 10 11 13 20 23 50 14 24-6 28-2 24 1 22 7 32-12 19-21 47-5 8zM538 899l-238 0-9-26-2-12 1-10 5-12 7-8 12-8 16-5 24-3 58 5 24-1 22 21 20 14 20 9 28 10 13 26-1 0zM1086 899l-238 0 13-26 29-10 20-9 18-13 24-22 24 1 58-5 20 2 16 5 13 7 9 10 5 12 0 16-5 20-5 12-1 0z"/>
<path fill="#6d00e1" d="M352 111l-18-2-16-4-12-6-10-10-4-12-1-14 3-16 7-18 234 0-17 26-42 19-36 28-22 1-46 6-20 2zM696 325l-10-1-12-5-10-8-11-12-13-22-20-53-11-21 5-46-5-46 35-82 99 0 25 61 10 21-4 26-1 20 5 46-10 20-20 50-12 22-9 12-11 10-10 6-10 2zM1038 111l-20-1-46-7-26-2-19-16-15-11-43-19-17-26 233 0 7 16 4 16 0 14-4 12-9 10-11 7-16 5-18 2zM538 417l-28 1-52-7-24-2-36-27-16-9-27-10-12-20-33-45-14-25-4-16-1-14 2-12 6-10 9-8 10-5 12-4 14-1 24 0 50 7 22 1 22 19 16 10 16 8 22 9 51 72 10 20 4 18 1 10-2 10-7 14-15 10-20 6zM886 417l-32 1-14-3-12-4-10-6-6-7-5-9-2-10 2-20 9-24 10-16 45-62 23-9 16-8 38-29 22-1 50-7 22-1 14 2 12 3 10 5 8 7 7 10 3 12-1 16-4 16-14 26-33 44-13 20-25 10-16 9-36 27-24 2-44 6zM366 725l-30 0-12-3-12-5-10-6-6-8-4-8-1-10 2-20 10-24 12-18 30-40 11-18 24-10 16-8 38-28 24-2 50-7 20 0 14 2 12 3 10 5 8 7 7 10 3 12-1 16-5 16-14 26-33 44-12 20-23 9-16 8-16 11-22 18-24 1-50 7zM1050 725l-26 0-54-7-22-1-38-29-16-8-24-9-13-20-32-44-14-26-5-16-1-14 2-12 6-10 9-8 10-5 12-4 14-2 22 0 50 7 24 2 24 19 14 10 16 8 23 9 13 20 39 54 8 18 5 18 0 10-2 10-8 14-14 10-22 6zM742 899l-98 0-35-82 5-44-4-49 10-20 19-49 12-22 9-12 9-8 9-6 10-3 12 0 12 4 11 9 10 12 14 24 21 52 10 20-5 46 5 47-10 20-19 49-6 12-1 0zM534 899l-233 0-9-26-1-12 1-10 5-12 9-10 12-6 16-4 28-1 54 7 24 1 36 28 16 8 25 11 17 26zM1084 899l-231 0 16-26 27-11 16-8 15-11 19-16 90-10 18 2 16 4 13 8 8 10 4 12 1 16-6 20-4 10-2 0z"/>
<path fill="#7300df" d="M360 109l-20 0-18-4-14-7-10-9-5-12-1-14 3-16 8-18 228 0-23 28-30 15-32 22-86 15zM700 323l-12 0-12-5-13-9-11-14-14-28-25-72 2-38-2-40 23-66 10-22 95 0 10 22 23 68-2 38 2 38-21 62-12 28-12 18-15 14-14 6zM1046 109l-30-1-74-14-32-22-31-15-23-28 228 0 7 16 3 14 0 14-3 12-7 10-10 7-12 4-16 3zM542 415l-16 2-20-1-78-14-32-23-31-14-47-59-18-27-6-16-2-16 2-14 6-11 12-10 18-6 22-2 26 2 68 13 30 21 33 17 54 68 10 18 6 18 1 20-2 8-4 8-12 11-20 7zM888 415l-32 1-14-2-12-4-10-6-7-7-5-10-2-10 3-22 11-24 14-20 44-54 32-16 34-23 68-12 26-2 26 3 12 6 8 6 7 10 4 14-2 16-5 16-7 14-11 16-46 58-34 17-30 22-72 13zM368 723l-30 1-12-3-12-4-9-6-7-8-5-10-1-10 4-22 11-24 15-21 41-51 35-18 32-21 66-12 28-3 14 1 14 4 10 4 8 7 7 10 3 14-1 16-5 16-17 28-48 60-33 17-30 21-78 14zM1054 723l-16 1-18-1-78-14-30-21-34-17-47-58-11-16-7-14-5-16-2-14 3-14 6-10 13-10 18-6 22-2 26 3 66 12 30 22 33 17 54 68 11 20 6 18 0 18-2 8-4 8-6 6-8 5-20 7zM740 899l-94 0-10-22-23-66 2-40-2-38 21-62 12-28 12-18 14-13 16-7 12 0 12 5 12 9 10 14 15 28 25 72-2 38 2 40-25 70-8 18-1 0zM530 899l-227 0-9-24-2-12 1-10 4-12 9-10 14-7 16-4 16-1 18 1 74 13 32 22 31 16 23 28zM1084 899l-228 0 23-28 31-15 32-22 68-13 28-2 16 1 16 5 12 7 8 9 4 12 0 14-3 16-7 16z"/>
<path fill="#7900dc" d="M366 107l-20 1-18-2-16-7-10-8-7-12-2-14 4-18 8-18 222 0-28 30-23 12-24 16-56 14-30 6zM702 321l-14 0-12-4-12-10-12-14-7-14-8-20-21-72 1-30-1-31 19-65 13-32 91 0 13 32 19 66-1 30 1 30-22 76-10 22-11 17-12 12-14 7zM1052 107l-18 1-22-3-74-17-26-17-24-12-28-30 222 0 7 14 4 14 0 12-2 12-5 9-8 8-12 6-14 3zM534 415l-18 0-22-3-70-16-52-31-48-54-21-30-7-16-3-16 2-14 6-12 13-10 16-6 20-2 24 2 76 18 26 17 24 13 38 41 20 25 13 22 7 20 0 20-2 8-5 8-7 6-8 4-22 6zM874 415l-28-1-12-4-11-5-7-7-6-9-2-10 0-10 5-20 13-24 20-25 41-45 25-13 26-17 72-17 24-3 20 1 18 6 12 9 6 10 3 14-1 16-7 18-8 14-13 18-49 54-27 15-24 15-58 15-32 5zM372 721l-32 1-14-2-12-5-9-6-7-8-4-10-1-10 5-22 12-24 20-25 42-47 28-15 22-15 74-18 24-2 20 1 18 6 12 8 6 11 3 14-2 16-6 18-9 14-12 17-50 55-24 13-26 17-78 18zM1056 721l-18 2-22-2-76-17-53-31-49-54-14-18-8-14-6-16-2-16 1-12 6-12 12-10 17-6 20-2 26 2 74 18 26 16 25 14 39 42 17 22 13 20 7 18 2 20-2 10-3 7-12 12-20 7zM738 899l-91 0-13-32-18-65 1-31-1-30 22-76 10-22 12-18 14-13 14-5 12 0 12 4 12 10 10 14 9 16 8 20 20 70 0 62-21 70-10 24-1 2-1 0zM526 899l-222 0-9-24-2-12 1-10 4-10 6-8 8-6 12-5 26-4 34 4 68 17 22 15 27 15 26 28-1 0zM1082 899l-222 0 26-28 28-16 22-14 68-17 34-4 18 2 14 4 11 7 8 10 4 12 0 14-4 16-7 14z"/>
<path fill="#7f00d9" d="M370 105l-22 2-18-2-16-6-11-8-7-12-1-14 3-18 8-18 218 0-34 32-32 19-48 16-40 9zM704 319l-14 1-12-4-13-9-11-14-10-18-8-22-17-68-1-10 0-36 2-14 15-60 14-36 89 0 14 38 15 58 2 12 0 42-8 36-11 38-9 26-11 18-12 14-14 8zM1056 105l-20 2-26-3-40-10-38-13-36-20-33-32 218 0 6 12 4 14 1 12-2 12-5 10-7 7-10 6-12 3zM540 413l-16 1-20-2-52-12-36-12-36-21-48-49-15-17-12-18-7-16-3-16 1-14 6-12 11-10 15-6 20-2 22 1 34 8 46 14 8 3 33 20 31 29 28 30 14 21 11 22 3 20-1 10-4 8-5 7-8 6-20 7zM880 413l-28 0-12-2-12-5-8-6-6-7-4-10-1-10 4-22 13-24 22-27 36-36 15-13 33-19 30-10 40-11 26-4 22 0 18 5 14 9 7 10 3 14-2 16-5 16-8 14-14 18-45 48-14 12-34 20-48 15-42 9zM360 721l-28-1-12-3-10-6-7-6-5-8-3-10 0-10 6-22 13-24 24-28 36-36 10-8 34-20 34-11 40-10 26-4 20 1 18 5 12 9 7 10 3 14-2 16-7 18-10 16-13 17-46 48-11 9-37 21-54 16-38 7zM1050 721l-16 0-18-1-56-14-30-11-35-20-21-20-28-30-16-18-11-18-7-16-3-16 1-14 7-12 11-9 16-6 20-2 22 2 34 8 46 14 40 23 32 30 28 31 15 23 9 20 2 12 0 10-2 8-4 8-6 6-8 6-10 3-12 3zM738 899l-89 0-15-38-15-64 0-50 10-44 12-40 10-22 11-16 12-11 14-6 14 1 12 5 11 11 10 14 10 20 7 22 16 66 1 44-2 14-16 62-13 32zM524 899l-218 0-10-24-1-12 1-10 3-10 7-8 8-6 10-4 12-3 14-1 32 4 48 13 30 11 30 18 34 32zM1080 899l-217 0 34-32 33-20 28-9 36-10 24-5 20-2 18 2 14 4 10 7 8 9 4 12 0 14-5 18-6 12-1 0z"/>
<path fill="#8500d7" d="M360 105l-20 0-16-3-12-6-10-9-5-12-1-14 4-16 7-16 214 0-33 29-28 18-24 9-32 11-24 6-20 3zM698 319l-12-1-12-5-11-10-10-14-9-18-7-22-14-60-3-34 4-36 12-54 14-36 86 0 14 36 13 56 3 28-1 30-7 38-11 42-10 24-11 18-14 13-14 5zM1048 105l-22 0-24-5-32-8-32-12-18-8-16-10-38-33 213 0 7 14 4 14 1 12-3 12-6 10-8 6-12 5-14 3zM526 413l-18-1-20-4-52-16-32-14-28-20-44-42-15-17-11-18-7-16-3-16 2-14 6-11 12-9 18-6 20-1 26 3 38 11 38 14 22 12 22 16 32 31 23 26 14 22 7 22 1 10-2 10-3 8-6 7-8 6-10 4-22 3zM864 413l-24-3-10-4-8-6-7-7-3-8-2-10 1-10 7-22 14-21 22-26 32-30 24-19 22-11 36-14 38-10 26-4 20 1 18 5 12 9 6 10 3 14-2 16-7 16-9 16-15 18-44 43-25 19-31 15-56 17-22 5-16 1zM366 719l-28 1-12-3-10-4-8-5-7-7-3-8-2-10 3-20 11-24 20-25 30-30 26-22 22-14 28-12 44-14 30-6 24 0 20 4 14 10 6 11 3 12-2 14-4 14-9 16-12 16-36 38-30 25-26 15-46 17-46 11zM1054 719l-14 1-18-1-48-11-48-18-30-19-22-20-24-23-17-19-12-18-8-18-3-16 2-14 6-11 12-10 16-5 20-2 22 3 34 8 40 14 24 11 20 14 30 27 27 29 16 22 9 20 3 20-2 10-3 8-12 11-20 7zM736 899l-86 0-14-36-13-60-3-28 2-28 8-44 11-36 10-24 10-16 13-12 14-6 12 0 12 5 10 9 11 14 8 16 8 22 14 60 3 38-3 36-14 60-8 22-5 8zM520 899l-213 0-10-24-1-10 0-10 3-8 5-8 8-7 10-5 12-3 12-1 32 3 50 14 36 14 28 19 29 26-1 0zM1078 899l-212 0 36-31 16-11 16-7 26-10 34-10 26-6 20-1 16 1 14 5 10 6 7 10 4 12-1 14-5 18-5 10-2 0z"/>
<path fill="#8c00d4" d="M366 103l-20 1-18-2-14-6-10-9-6-12-1-14 4-16 8-16 210 0-33 27-30 18-46 18-44 11zM700 317l-12 0-12-5-10-8-11-13-8-16-8-22-12-54-4-40 3-40 12-56 14-34 83 0 13 34 11 48 4 32 0 30-5 34-9 42-10 28-11 20-14 14-14 6zM1054 103l-20 1-22-3-30-7-34-12-22-10-16-10-20-14-22-19 210 0 7 14 4 12 1 12-2 10-5 10-7 7-10 6-12 3zM536 411l-16 1-18-2-24-6-26-8-42-18-34-23-22-19-22-22-15-17-10-16-7-16-3-16 2-14 6-10 13-10 16-5 20-1 24 3 34 10 38 14 26 14 22 16 30 27 22 24 15 22 9 20 1 20-2 8-4 8-13 10-20 6zM876 411l-26 0-20-7-8-5-5-6-4-8-2-10 3-20 11-22 19-24 28-28 28-23 26-16 32-14 36-12 28-6 24-1 20 4 14 10 7 10 3 12-1 14-5 14-8 14-11 16-33 35-32 26-30 18-52 20-42 9zM356 719l-24-1-12-4-8-4-6-6-5-7-3-8-1-10 4-20 12-22 19-23 28-27 26-22 24-15 32-14 38-13 28-5 24-1 20 4 8 4 7 6 6 10 3 12-2 14-5 16-8 14-12 16-37 37-32 26-30 16-50 18-24 6-20 3zM1046 719l-18 0-18-3-48-14-40-18-32-22-42-39-16-18-11-16-7-16-3-16 2-14 5-10 13-10 17-6 20-1 24 4 36 10 36 13 24 13 24 17 30 27 24 26 15 23 7 20 2 10-1 10-3 8-4 7-14 10-22 5zM734 899l-83 0-13-34-11-54-4-32 1-30 7-40 10-38 9-24 12-19 14-12 14-6 12 1 10 5 10 9 10 14 8 16 8 22 12 56 4 38-4 40-5 30-8 30-9 22-3 6-1 0zM518 899l-209 0-10-24-2-10 1-10 2-8 6-8 8-7 10-5 24-3 30 3 44 13 38 16 30 18 28 25zM1078 899l-210 0 36-29 16-10 20-10 26-10 32-10 22-5 20-1 16 1 12 4 10 6 8 10 3 12 0 14-5 16-6 12z"/>
<path fill="#9200d1" d="M356 103l-18 0-14-4-12-6-8-8-5-12 0-14 3-14 8-16 206 0-34 27-34 20-50 18-22 6-20 3zM702 315l-12 1-10-3-12-8-10-12-9-16-7-18-12-50-4-44 2-44 11-54 6-20 8-18 81 0 13 32 9 44 5 34 0 32-4 36-8 38-9 26-11 22-13 15-14 7zM1046 103l-20-1-22-4-28-8-26-10-22-10-18-11-40-30 207 0 7 14 4 14 0 12-2 10-6 10-8 7-12 5-14 2zM542 409l-16 2-18-2-20-4-24-7-48-20-18-10-20-14-42-38-16-17-11-16-7-16-4-16 1-12 6-12 12-10 17-6 20-1 24 4 30 8 36 14 24 12 26 17 28 24 24 24 16 22 9 20 3 20-1 8-3 8-10 11-18 7zM882 409l-26 1-12-1-10-4-8-5-6-5-5-8-2-8 0-10 1-10 9-20 15-22 26-26 30-26 26-17 28-14 38-14 32-8 26-2 20 4 8 4 8 6 6 9 2 10 0 12-4 14-6 14-10 14-30 33-36 30-32 19-46 19-42 11zM364 717l-26 0-20-5-8-5-6-6-4-8-2-8 3-20 10-22 17-23 24-24 28-24 28-18 30-15 38-13 30-7 26-1 20 4 14 10 6 9 2 12-1 12-4 14-7 14-10 14-30 32-36 30-32 19-46 18-26 8-18 3zM1054 717l-16 1-18-2-22-4-24-8-26-10-22-10-36-24-42-38-15-17-10-16-8-16-3-16 2-12 6-12 12-9 18-6 20 0 24 3 30 9 36 14 26 14 26 18 28 24 23 25 16 22 7 18 3 18-2 8-3 8-5 6-7 5-18 7zM734 899l-81 0-8-18-6-18-10-48-3-32 0-32 6-42 8-34 10-26 11-18 15-14 14-5 12 1 10 4 10 9 9 13 8 16 7 20 11 48 4 44-2 42-11 52-7 24-7 14zM516 899l-206 0-10-22-2-12 1-10 3-8 5-8 8-6 9-4 12-3 12-1 28 3 40 11 40 17 30 18 30 25zM1076 899l-205 0 37-29 38-20 52-19 24-5 18-1 14 1 14 4 10 7 7 10 3 12 0 12-6 18-5 10-1 0z"/>
<path fill="#9800ce" d="M364 101l-20 1-16-2-14-7-9-8-4-10-2-14 4-16 8-16 203 0-32 25-34 20-46 18-38 9zM698 315l-12-1-10-4-10-9-10-12-8-16-5-16-11-48-4-46 2-46 10-52 7-20 7-16 79 0 12 30 10 46 4 36 0 34-4 36-9 38-9 28-11 18-13 14-15 6zM1054 101l-18 1-20-2-24-6-30-11-26-11-22-13-20-13-21-17 203 0 6 12 4 12 2 12-2 10-4 10-6 6-10 6-12 4zM536 409l-16 0-18-2-22-5-24-8-24-10-24-12-38-26-38-35-14-16-10-16-7-16-2-14 2-12 5-10 12-10 18-5 22-1 24 5 32 9 34 15 26 14 28 20 26 22 21 23 14 20 8 20 2 18-2 8-4 8-6 6-7 5-18 5zM874 409l-24 0-19-6-7-6-6-6-3-8-1-8 3-20 9-20 17-22 23-23 30-24 28-18 32-16 34-12 30-7 24-2 20 4 8 4 7 6 6 10 2 10 0 12-4 14-8 14-10 14-31 33-36 28-34 20-50 20-22 6-18 3zM354 717l-22-2-18-7-6-5-6-8-3-16 4-18 11-22 18-22 26-25 26-20 28-18 34-16 34-12 28-6 24-1 20 4 13 10 6 10 2 10-1 14-5 14-8 14-11 16-34 33-36 28-38 20-48 18-20 5-18 2zM1044 717l-16-1-18-3-22-5-28-11-40-19-40-28-37-35-13-16-9-16-6-14-1-14 2-12 6-10 12-9 18-5 22 0 26 5 36 12 32 14 28 16 26 20 26 24 19 21 14 22 6 18-1 18-7 14-7 6-8 4-20 4zM732 899l-78 0-13-34-10-48-3-34 0-34 5-36 8-36 9-26 12-19 14-14 14-5 12 1 10 5 10 8 8 12 8 16 7 18 10 48 4 46-3 46-5 32-6 24-8 22-4 8-1 0zM514 899l-203 0-6-12-4-12-2-10 1-10 3-8 5-7 8-6 8-4 12-3 12-1 28 3 38 11 40 17 30 18 30 24zM1076 899l-203 0 39-29 38-20 50-18 20-4 20-2 16 2 12 4 10 6 6 9 3 12 0 12-4 14-7 14z"/>
<path fill="#9600c5" d="M356 101l-16 0-14-3-12-6-9-9-4-12 0-12 3-14 8-16 200 0-36 27-36 20-48 18-36 7zM702 313l-12 1-10-3-10-7-10-11-8-14-7-18-10-44-6-50 2-46 10-54 6-20 8-18 77 0 12 32 9 38 4 36 0 36-3 34-7 38-8 26-11 22-12 14-14 8zM1046 101l-18 0-18-3-26-8-26-10-44-23-39-28 199 0 8 14 4 14 0 12-2 10-6 9-8 6-10 4-14 3zM542 407l-16 2-18-2-18-3-26-8-48-22-24-14-20-15-38-34-14-16-11-16-6-14-3-14 2-14 6-10 12-9 16-5 20-1 24 4 32 10 32 13 30 17 26 18 26 22 20 21 15 20 8 18 3 18-1 8-3 8-10 11-16 7zM882 407l-26 1-20-4-8-5-6-6-7-14 1-18 8-20 15-22 23-23 28-24 30-20 32-16 36-14 30-8 24-2 22 4 14 9 6 10 2 10 0 12-4 12-5 12-10 14-27 30-36 29-36 22-46 20-40 11zM364 715l-24 1-20-6-8-5-6-6-5-14 1-18 8-20 16-22 24-24 28-23 30-20 32-16 36-14 28-7 26-1 20 4 14 9 6 9 2 11-1 12-3 12-6 12-9 14-29 31-38 30-36 22-44 18-24 7-18 4zM1052 715l-16 1-18-2-20-5-24-8-44-19-20-12-22-16-22-18-18-18-14-15-10-16-7-16-2-14 1-12 6-10 12-10 16-5 20 0 26 4 32 10 32 14 28 15 26 18 26 22 22 23 14 21 8 18 2 18-1 8-4 8-11 10-18 6zM732 899l-77 0-13-32-9-46-4-38 1-34 5-38 7-34 9-24 11-20 14-13 14-6 10 1 10 4 10 8 9 12 7 14 7 18 10 46 4 48-2 48-10 52-7 20-6 14zM512 899l-200 0-6-12-4-12-2-10 1-10 3-8 6-7 8-6 8-4 22-3 26 3 36 10 38 16 34 20 30 23zM1074 899l-199 0 37-27 42-22 24-10 26-8 20-4 16-1 16 2 12 4 10 7 5 9 3 12-1 12-5 16-6 10z"/>
<path fill="#8b00b6" d="M364 99l-18 1-16-2-13-5-9-9-6-11 0-14 3-14 8-16 197 0-34 25-36 20-40 16-36 9zM696 313l-10-1-10-5-10-8-8-12-8-14-6-18-10-46-3-48 2-46 9-50 7-20 7-16 75 0 12 30 9 46 4 38-1 36-4 38-7 32-9 28-11 18-14 13-14 5zM1054 99l-16 1-20-2-24-6-24-8-26-12-24-13-24-15-20-15 197 0 7 12 4 12 1 12-1 10-4 8-6 7-10 6-10 3zM536 407l-16 1-18-3-22-5-22-8-46-22-42-28-37-33-14-16-9-14-6-14-3-14 2-12 5-10 12-10 16-5 22-1 24 5 32 10 32 14 28 16 28 19 26 22 20 22 14 20 7 18 2 18-5 14-12 10-18 6zM874 407l-22 0-18-5-7-5-6-6-4-8-1-8 2-18 9-20 15-20 24-23 30-24 28-19 32-16 36-14 30-7 22-1 20 4 14 10 5 10 2 10-1 12-4 12-7 14-10 14-29 30-38 29-38 22-44 18-22 6-18 3zM354 715l-22-2-16-6-6-5-5-7-3-8 0-10 4-18 11-20 17-21 24-22 28-22 30-19 32-15 34-12 28-7 22 0 18 4 8 4 6 6 5 10 2 10-1 12-5 14-8 14-10 14-29 29-40 30-40 22-46 18-20 5-18 2zM1046 715l-18-1-18-3-20-5-26-10-44-22-40-28-36-33-13-16-8-14-6-14-1-12 1-12 6-10 13-10 16-4 22 0 26 5 30 10 34 15 28 17 30 21 26 23 18 21 12 20 7 18 0 16-3 8-4 6-6 5-8 5-18 4zM730 899l-74 0-13-32-8-42-4-38 0-34 4-36 8-38 8-24 11-20 14-14 14-6 10 1 10 4 10 8 9 13 7 14 7 18 9 46 4 50-3 50-10 50-8 22-4 8-1 0zM510 899l-197 0-10-22-1-10 0-10 3-8 5-8 14-9 22-4 26 2 34 10 38 16 34 19 32 24zM1074 899l-197 0 41-29 40-21 44-16 20-4 18-1 14 1 12 4 10 7 6 9 3 10 0 12-4 14-7 14z"/>
<path fill="#8000a7" d="M358 99l-18 0-14-3-12-7-7-8-4-12 0-12 4-14 7-14 195 0-35 25-40 21-42 17-34 7zM700 311l-12 0-10-4-10-8-8-10-8-14-6-16-10-44-4-50 3-52 8-48 6-18 8-18 73 0 6 14 6 18 8 38 4 36 0 36-3 38-6 34-8 26-10 20-13 15-14 7zM1048 99l-16 0-20-3-44-14-26-12-22-12-42-29 194 0 7 12 4 12 1 12-1 10-4 8-8 8-11 5-12 3zM542 405l-14 2-18-1-20-4-24-8-48-22-44-28-38-33-14-16-10-14-6-14-3-14 1-14 5-10 13-10 16-5 20 0 22 4 30 10 32 13 30 17 28 19 24 20 21 22 13 18 9 18 3 18-3 14-9 11-16 7zM882 405l-24 2-20-5-14-9-4-6-3-8 1-18 8-20 14-20 22-22 30-25 30-20 32-17 34-13 30-8 24-2 20 4 8 3 6 6 5 8 3 10 0 12-4 12-6 12-9 14-25 27-34 27-40 25-44 20-40 11zM364 713l-24 1-19-5-12-10-5-8-1-8 2-18 8-18 15-21 22-22 30-24 30-20 32-16 36-14 28-7 24-2 20 5 12 9 5 8 3 10-1 12-3 12-7 14-9 12-26 28-36 28-40 24-46 20-38 10zM1052 713l-16 1-18-2-20-5-22-7-48-23-44-29-37-33-12-14-10-16-6-14-2-12 1-12 5-10 12-10 17-5 20 0 24 4 30 10 32 14 32 18 28 20 24 20 20 21 13 20 8 18 1 16-5 14-5 6-6 5-16 5zM730 899l-73 0-12-30-9-40-3-36-1-38 4-40 6-32 9-26 11-20 14-15 14-6 10 1 10 4 10 8 8 12 7 14 6 16 10 44 4 50-3 50-9 50-6 20-7 14zM508 899l-194 0-10-22-1-10 0-10 7-14 7-6 9-5 22-3 26 3 34 10 36 15 36 21 28 21zM1072 899l-193 0 39-27 42-22 44-16 20-4 16-1 14 1 12 4 9 7 6 8 3 12-1 12-5 16-6 10z"/>
<path fill="#750098" d="M366 97l-18 1-16-1-14-6-9-8-4-10-1-14 3-14 8-16 192 0-35 25-36 19-36 15-34 9zM702 309l-10 2-10-3-10-6-10-11-7-12-7-16-10-42-5-52 2-52 4-26 5-26 7-20 7-16 71 0 11 28 9 38 4 36 0 38-2 36-6 34-8 28-10 20-11 14-14 8zM1054 97l-16 1-18-1-20-5-24-8-24-11-26-13-22-14-24-17 191 0 7 12 4 12 1 10-1 10-3 8-7 8-8 5-10 3zM536 405l-16 1-18-3-22-5-22-8-46-23-44-29-35-31-13-16-9-14-6-14-2-12 2-12 5-10 12-9 18-5 20 0 24 5 30 10 34 16 30 17 28 20 24 21 19 21 12 18 7 18 1 16-6 14-11 9-16 5zM876 405l-22 0-18-5-12-10-4-7-2-8 2-18 8-18 16-21 22-22 28-22 32-21 34-17 32-13 28-7 24-1 18 4 8 4 6 5 5 9 2 10-1 12-3 12-7 12-10 14-26 27-38 29-42 25-42 18-20 6-18 3zM358 713l-22-1-16-5-11-10-4-8-1-8 2-18 9-18 15-20 24-23 28-22 32-20 32-17 34-13 26-6 24-2 18 4 8 4 6 6 5 9 2 10-1 12-4 12-8 14-8 12-28 28-38 29-42 24-44 18-20 6-18 3zM1046 713l-16 0-18-3-22-6-22-8-46-24-44-30-34-31-11-14-8-14-6-14-1-12 1-10 5-10 12-9 18-5 22 0 24 5 30 10 34 16 30 18 28 20 24 21 18 20 11 18 7 18 1 16-6 14-13 10-18 4zM728 899l-70 0-7-14-6-18-8-42-3-36 0-38 3-34 6-34 10-28 9-18 14-14 14-5 10 0 10 4 10 9 8 12 13 30 9 46 3 50-2 52-5 26-5 24-8 20-4 8-1 0zM506 899l-191 0-10-22-1-10 0-10 3-8 4-6 7-6 8-4 20-3 26 2 34 10 36 16 36 20 28 21zM1072 899l-192 0 40-27 42-22 40-15 18-4 18-1 14 1 12 3 10 7 6 8 3 10 0 12-4 14-7 14z"/>
<path fill="#6a0089" d="M360 97l-18 0-14-3-11-5-8-8-4-12 0-12 4-14 7-14 189 0-35 24-38 21-40 16-32 7zM700 309l-10 0-10-3-10-7-8-11-8-13-6-16-9-42-5-52 3-54 8-46 6-20 8-16 69 0 12 30 9 40 3 38 0 36-3 38-6 32-8 26-10 20-11 13-14 7zM1048 97l-14 0-18-2-20-5-22-8-46-22-47-31 189 0 7 12 4 12 1 12-1 10-5 8-6 6-10 5-12 3zM530 405l-16-1-18-3-20-5-24-10-48-25-42-29-31-29-12-14-8-14-5-14-2-12 2-10 6-10 12-9 18-4 20 0 26 6 32 12 30 14 30 18 30 22 22 19 17 20 12 18 6 18 0 16-3 8-4 6-12 8-18 4zM868 405l-20-1-16-7-6-6-4-6-3-14 3-18 10-18 16-20 22-21 28-22 32-20 32-16 32-12 26-7 24-1 18 4 13 9 6 10 1 10-1 12-4 12-7 12-10 14-28 27-40 30-42 24-46 18-18 5-18 2zM366 711l-24 1-18-4-13-9-3-6-3-8 1-18 7-18 15-20 22-23 28-22 34-22 32-17 34-13 30-8 22-1 18 4 8 5 5 5 5 8 2 10-1 12-4 12-15 24-26 27-36 28-40 24-44 19-36 10zM1054 711l-14 1-16-1-18-3-24-8-48-22-46-30-36-31-13-14-10-14-7-14-3-14 1-12 4-10 12-10 16-5 20-1 24 5 30 10 30 13 30 17 28 19 26 22 18 18 13 18 9 18 2 18-4 14-9 10-15 6zM728 899l-69 0-13-30-8-40-3-38 0-38 3-38 6-32 9-26 11-20 12-12 14-6 10 0 10 4 10 9 7 11 7 14 7 18 8 40 3 50-2 52-4 26-5 24-6 18-7 14zM504 899l-188 0-10-22-2-10 1-10 3-8 5-6 7-6 8-3 20-4 26 3 30 9 36 16 38 22 27 19-1 0zM1070 899l-188 0 40-27 42-22 40-14 18-4 16-2 14 2 12 3 10 7 6 9 2 12-1 12-5 14-6 10z"/>
<path fill="#5f007a" d="M368 95l-18 2-16-2-12-4-10-9-6-11 0-12 3-14 8-16 187 0-34 23-36 20-34 14-32 9zM702 307l-10 1-10-2-10-7-8-9-7-11-7-16-10-42-4-56 2-56 8-46 6-18 8-16 67 0 12 28 8 36 4 36 0 38-2 36-5 32-7 28-10 22-12 14-13 8zM1054 95l-14 2-18-2-18-3-24-8-26-12-24-12-47-31 186 0 11 22 1 10 0 10-3 8-6 7-8 6-10 3zM538 403l-16 1-18-2-20-5-22-8-48-23-46-31-34-30-12-14-9-14-6-14-2-12 2-10 4-10 13-10 16-4 20 0 24 5 30 10 30 14 30 17 30 21 24 20 17 19 13 18 7 16 2 16-4 14-10 10-15 6zM880 403l-22 1-18-4-13-9-4-6-3-8 1-16 8-20 14-20 21-21 28-22 34-22 34-18 30-12 28-8 24-2 18 4 14 9 5 8 2 10 0 10-3 12-15 24-25 27-36 28-42 25-42 19-38 11zM360 711l-22 0-16-5-7-5-5-6-5-14 3-18 9-18 15-20 20-19 28-22 34-22 32-17 34-13 26-7 24-1 18 4 12 9 5 8 2 10 0 10-4 12-6 12-10 14-25 26-38 29-44 26-42 18-20 6-18 3zM1048 711l-14 1-18-3-20-5-22-8-48-24-46-31-32-29-12-13-9-14-5-14-2-12 1-12 5-9 12-9 16-5 20 0 26 6 30 10 32 16 34 20 26 19 24 20 17 20 12 18 5 16 1 16-5 12-12 10-16 4zM726 899l-66 0-7-14-6-18-8-40-3-36 0-40 3-34 6-34 8-24 10-20 13-13 14-6 10 0 10 5 9 8 7 10 8 16 6 18 8 42 3 54-3 52-9 46-8 20-4 8-1 0zM502 899l-185 0-10-22-2-10 1-10 3-8 5-6 14-9 20-3 26 3 32 10 32 14 38 22 27 19-1 0zM1070 899l-187 0 41-27 42-22 40-14 32-5 14 1 12 4 9 7 5 8 3 10 0 12-5 14-6 12z"/>
<path fill="#54006b" d="M364 95l-18 1-14-2-12-5-8-8-5-12 0-12 4-14 7-14 184 0-36 25-38 20-34 14-30 7zM698 307l-10 0-10-4-8-7-9-11-7-14-6-16-8-40-4-52 3-56 8-44 6-18 8-16 65 0 7 14 6 16 8 40 3 36 0 38-3 38-5 30-8 26-10 20-12 14-14 6zM1050 95l-14 1-18-2-18-4-22-8-46-22-48-31 185 0 6 12 4 12 2 10-2 10-4 8-5 6-8 5-12 3zM532 403l-16 0-18-3-42-14-48-25-44-30-31-28-12-14-8-14-5-12-2-12 2-10 5-10 13-10 16-4 20 1 26 6 28 10 32 15 34 21 28 20 22 19 17 20 11 18 6 16-1 16-5 11-12 9-16 4zM874 403l-22 0-16-6-11-10-4-14 2-18 9-18 14-18 22-21 28-22 32-20 34-18 32-13 28-7 22-1 18 5 12 8 5 9 2 10-1 10-4 12-15 24-27 28-40 29-44 26-40 16-18 6-18 3zM352 711l-20-2-14-7-9-11-3-16 4-16 10-18 16-19 22-20 30-23 32-19 32-16 30-12 26-6 22-1 18 4 12 9 5 9 1 10-1 12-4 12-9 14-9 12-27 26-40 29-46 26-42 16-20 5-16 2zM1040 711l-16-1-20-4-42-16-48-26-40-29-30-28-11-14-7-12-4-12-2-12 2-10 5-8 11-9 18-5 22 1 26 6 32 12 32 16 32 20 28 20 22 20 15 19 11 18 4 16-1 16-7 11-14 8-18 3zM726 899l-65 0-7-12-6-18-8-40-3-36 0-40 3-38 5-30 8-26 11-20 12-12 14-6 10 0 10 5 8 7 8 10 7 14 5 16 9 42 3 54-3 56-8 44-7 18-6 12zM502 899l-184 0-10-20-2-10 1-10 2-8 4-6 7-6 8-4 20-3 24 2 32 10 32 14 36 20 30 21zM1068 899l-183 0 41-27 42-22 40-14 30-4 14 1 12 4 9 8 5 8 2 10-1 12-5 14-5 10-1 0z"/>
<path fill="#49005c" d="M358 95l-14 0-14-3-11-5-8-8-3-10 0-12 4-14 7-14 182 0-37 25-38 20-36 14-32 7zM702 305l-10 1-10-2-10-7-8-10-7-12-7-16-9-42-4-56 3-56 8-44 7-18 7-14 63 0 12 26 8 38 4 36 0 38-2 38-4 30-8 28-9 20-11 14-13 8zM1046 95l-14 0-18-3-38-12-46-23-44-28 182 0 6 12 5 12 1 10-2 10-4 8-6 6-10 5-12 3zM538 401l-14 2-18-2-20-5-20-7-48-23-46-30-34-29-13-14-9-14-6-14-3-12 1-10 4-10 12-10 16-4 20-1 24 5 30 11 30 14 30 18 30 20 22 19 17 18 13 18 7 16 2 16-3 12-10 11-14 5zM882 401l-22 2-18-4-13-8-4-6-3-8 0-16 8-20 15-20 19-19 28-22 34-22 34-18 30-12 28-8 24-2 18 4 13 9 5 8 1 8 0 10-3 12-14 24-24 25-36 28-42 25-40 19-38 11zM364 709l-22 1-16-4-12-9-4-6-2-8 1-16 7-18 14-20 20-19 28-23 30-19 34-19 32-13 28-8 24-3 18 3 14 9 5 8 2 8 0 10-3 12-5 12-8 12-25 26-40 31-44 26-40 18-36 9zM1050 709l-14 1-18-2-18-4-22-8-46-23-48-31-34-29-12-14-9-14-6-14-2-12 2-10 5-10 12-9 16-4 20 0 24 5 28 10 30 15 32 18 28 20 22 18 18 19 13 18 7 16 2 16-5 14-11 9-14 5zM724 899l-63 0-7-14-5-16-9-42-2-38 0-40 3-34 5-32 8-24 10-18 12-13 14-6 10 0 10 5 8 7 8 11 7 14 5 16 8 42 4 56-4 54-4 24-5 22-8 20-4 6-1 0zM500 899l-181 0-10-22-2-10 1-8 3-8 4-6 7-6 8-3 20-3 24 3 28 8 32 14 36 20 30 21zM1068 899l-182 0 42-27 42-22 36-13 18-3 14-1 14 1 12 4 8 7 5 8 3 10-1 12-4 12-7 12z"/>
<path fill="#3e004e" d="M368 93l-18 1-14-1-12-4-10-8-5-10-1-14 4-14 8-14 180 0-34 22-38 21-32 13-28 8zM698 305l-10 0-10-5-8-6-8-11-7-14-6-18-8-40-3-54 3-54 8-42 6-18 8-14 61 0 13 28 8 42 3 36 0 40-2 34-5 32-8 26-9 18-12 14-14 6zM1052 93l-14 1-16-1-18-4-22-7-46-22-49-31 180 0 10 22 2 10-1 10-4 8-5 6-7 5-10 3zM536 401l-14 1-18-2-18-4-22-8-48-24-46-30-32-28-12-13-9-14-7-14-2-12 1-10 5-10 10-9 16-5 20 0 24 5 28 10 30 14 34 20 28 19 22 18 17 18 12 18 8 16 1 16-3 12-10 10-15 6zM878 401l-22 1-16-5-11-8-4-6-2-8 1-16 7-18 15-20 20-19 28-22 34-22 34-18 30-12 26-7 22-2 18 3 8 4 6 5 5 8 2 8-1 10-3 12-6 12-8 12-25 26-38 29-44 26-40 17-36 10zM360 709l-20 0-16-5-7-5-5-6-4-14 2-16 9-18 15-19 20-19 28-21 34-22 34-18 30-12 26-6 22-2 18 4 12 9 5 8 2 10-1 10-4 12-15 24-25 25-40 30-46 26-42 18-32 7zM1046 709l-14 0-18-2-40-14-50-25-44-30-31-27-10-12-9-14-5-12-3-12 1-10 5-10 12-10 16-5 20 1 24 5 28 10 32 16 34 20 26 18 22 19 17 18 12 18 6 16 1 16-5 12-11 10-16 4zM724 899l-62 0-7-14-6-18-8-42-3-36 1-40 2-32 6-32 8-26 10-18 11-12 14-6 10 0 8 4 10 8 7 10 12 28 8 40 4 54-3 56-3 24-6 24-7 18-6 10zM498 899l-178 0-11-22-1-10 1-8 3-8 4-6 6-5 8-3 18-3 24 2 28 8 32 14 40 22 27 19-1 0zM1066 899l-178 0 42-27 42-22 36-12 30-5 14 2 10 3 9 7 5 8 3 10-1 12-6 16-5 8-1 0z"/>
<path fill="#340041" d="M362 93l-16 1-14-3-10-4-8-8-4-10-1-12 4-14 8-14 177 0-34 23-38 20-34 14-30 7zM702 303l-10 2-10-3-8-6-9-9-8-14-6-16-8-38-4-54 2-58 8-44 6-18 8-16 60 0 8 14 6 16 7 38 3 34 1 40-3 36-4 30-7 24-8 20-12 15-12 7zM1048 93l-14 1-16-2-38-12-46-22-46-29 178 0 10 22 2 10-1 10-4 8-5 6-8 5-12 3zM530 401l-14 0-18-3-20-6-22-8-46-24-44-30-30-27-12-14-8-12-5-12-2-12 1-10 5-10 11-9 18-4 20 0 24 6 26 9 30 15 34 20 30 21 22 19 15 17 12 18 6 16 0 16-6 12-11 8-16 4zM872 401l-20-1-15-5-10-10-4-14 3-16 9-18 14-18 21-20 28-21 32-20 34-18 30-12 26-7 22-2 18 4 12 9 4 9 2 10-1 10-4 12-16 24-25 24-38 28-46 27-42 18-34 7zM368 707l-22 2-18-4-12-9-7-13 1-16 6-16 14-20 20-20 28-22 34-22 36-19 30-12 26-7 22-2 18 3 13 9 5 8 2 8-1 10-3 12-13 22-23 24-34 27-46 28-42 19-34 10zM1052 707l-14 2-16-2-18-4-22-7-46-22-50-32-34-29-20-26-6-14-3-12 1-10 5-10 11-9 16-5 20 1 22 4 28 10 28 13 32 19 30 20 22 18 17 17 13 18 8 16 2 16-3 12-9 10-14 6zM724 899l-61 0-7-14-6-16-8-40-3-36 0-40 3-36 5-30 8-26 9-18 12-13 14-6 10 0 8 4 8 7 8 10 7 14 6 16 8 40 3 56-3 56-8 42-6 16-7 14zM498 899l-178 0-10-22-1-10 1-8 6-12 6-6 8-4 20-3 24 3 28 9 32 14 36 20 28 19zM1066 899l-177 0 39-25 42-22 38-14 30-4 14 2 10 3 8 6 5 8 3 10-1 12-5 14-6 10z"/>
<path fill="#290033" d="M356 93l-14 0-12-3-9-5-8-8-3-10 0-12 4-12 8-14 175 0-39 25-38 20-36 14-28 5zM700 303l-10 0-10-3-8-7-8-10-7-12-6-16-8-40-3-54 2-58 9-44 6-16 7-14 59 0 6 12 6 16 9 42 3 34 0 40-2 34-5 30-7 26-9 20-12 14-12 6zM1042 93l-14 0-16-3-36-12-44-22-42-27 175 0 7 12 4 12 1 10-2 10-5 8-7 6-9 4-12 2zM538 399l-14 2-16-2-18-4-22-7-46-22-52-34-32-28-12-13-9-14-5-12-2-12 1-10 5-10 12-9 16-4 20 1 22 5 26 9 30 15 34 20 26 17 22 18 17 18 12 16 7 16 3 16-3 12-9 10-13 6zM882 399l-22 1-18-4-12-9-6-12 1-16 8-18 13-18 20-20 28-22 34-21 34-19 32-13 26-6 22-2 18 4 11 9 4 8 2 8-1 10-3 12-14 22-23 24-38 29-44 26-40 18-32 9zM364 707l-22 0-16-4-12-10-4-12 1-14 7-18 14-19 20-19 26-21 34-22 34-18 32-14 26-7 22-1 18 3 12 8 5 8 2 8-1 10-3 12-6 12-9 12-24 25-34 26-48 28-40 18-34 9zM1048 707l-14 1-18-2-38-12-48-25-48-31-32-29-11-12-9-14-4-12-2-12 1-10 5-8 12-9 16-4 20 0 24 6 26 10 30 14 34 20 28 20 22 18 17 19 11 16 6 16 1 14-4 12-11 10-14 4zM722 899l-58 0-7-14-6-16-9-44-2-36 0-42 3-34 5-30 8-24 10-18 12-11 14-6 10 2 8 4 8 7 8 12 11 28 8 42 2 56-3 54-4 22-5 22-8 18-5 8zM496 899l-175 0-10-22-1-10 0-8 4-8 4-5 14-8 18-3 24 3 28 8 30 14 36 20 29 19-1 0zM1064 899l-174 0 42-27 40-20 36-13 30-4 12 1 12 4 8 7 5 8 2 10-1 12-7 16-3 6-2 0z"/>
<path fill="#1e0026" d="M368 91l-18 1-14-1-12-5-8-7-5-10 0-12 4-14 7-14 174 0-32 21-36 20-32 13-28 8zM702 301l-10 2-10-3-8-6-9-9-6-12-7-16-8-38-4-54 3-60 8-44 6-18 8-14 57 0 6 12 7 16 8 38 3 36 0 38-1 34-5 32-7 26-8 18-11 15-12 7zM1050 91l-14 1-16-1-20-5-18-6-42-21-49-30 174 0 10 22 1 10 0 8-4 8-5 6-7 5-10 3zM534 399l-14 1-16-2-18-4-22-8-48-25-48-31-31-27-10-12-9-14-5-12-2-12 1-10 4-8 10-9 16-5 20 0 22 5 28 10 28 14 34 19 30 21 22 18 16 17 11 16 7 16 2 16-4 12-10 9-14 5zM878 399l-20 1-16-5-12-8-3-6-2-8 2-16 8-18 14-18 19-19 26-20 36-23 32-17 30-12 26-7 22-2 18 3 12 9 4 8 2 8 0 10-4 12-15 24-23 23-34 26-48 28-40 18-34 9zM358 707l-20-1-14-5-10-10-4-14 3-16 10-18 13-16 20-19 26-20 36-22 34-18 30-12 24-6 22-2 16 4 12 9 4 8 2 10-1 10-4 12-17 24-24 24-38 27-48 28-40 16-32 7zM1044 707l-14 0-18-3-40-14-50-26-44-30-30-27-17-24-5-12-1-12 1-10 5-8 13-9 16-4 20 1 24 6 28 11 28 14 36 22 26 18 20 17 16 18 12 18 6 16 0 14-6 12-11 8-15 4zM722 899l-57 0-8-14-6-18-8-44-2-36 0-40 3-36 5-28 8-24 10-18 13-12 12-4 10 2 8 4 8 8 8 12 11 30 7 40 2 56-3 54-8 40-6 16-7 12zM494 899l-172 0-10-22-2-10 1-8 7-12 14-9 18-2 24 2 26 8 32 14 32 18 32 21-2 0zM1064 899l-173 0 43-27 40-20 34-12 28-4 12 0 12 4 9 7 5 8 2 10-1 12-6 14-5 8z"/>
<path fill="#140018" d="M362 91l-16 1-12-3-11-4-7-8-4-10 0-12 3-12 8-14 172 0-35 23-38 20-34 13-26 6zM700 301l-10 1-8-3-9-6-8-10-7-12-6-16-8-40-3-58 3-58 9-42 6-16 7-12 55 0 8 14 6 16 8 40 2 36 0 42-2 34-4 28-7 22-9 20-11 14-12 6zM1046 91l-14 1-16-2-36-12-42-20-46-29 172 0 7 12 3 10 2 10-2 10-4 8-6 6-8 4-10 2zM528 399l-16 0-16-3-38-14-46-24-46-31-30-26-17-24-6-12-2-12 2-10 4-8 11-9 16-4 20 0 24 6 26 10 32 16 34 20 28 20 20 17 16 18 11 16 5 16 1 14-6 12-11 8-16 4zM872 399l-20-1-14-6-9-9-4-14 4-16 8-16 14-18 21-19 30-22 32-20 30-16 30-12 24-7 22-2 18 4 12 9 4 7 1 10-1 10-4 12-16 24-24 24-38 27-48 28-40 16-32 7zM368 705l-22 1-16-3-12-9-4-5-2-8 1-16 7-16 13-18 19-19 26-20 34-22 34-19 32-13 26-7 22-2 18 4 11 8 5 8 1 8 0 10-4 12-14 22-23 23-34 26-46 28-40 18-32 9zM1052 705l-12 2-16-1-18-4-20-7-46-21-50-32-34-28-12-13-10-14-6-12-2-12 0-10 4-10 12-10 14-4 20 0 22 5 26 9 26 13 32 18 30 19 22 18 18 18 12 16 9 16 3 16-3 12-8 10-13 6zM720 899l-54 0-9-16-6-18-8-44-2-38 1-42 3-32 5-28 9-24 9-16 12-11 12-4 10 2 8 4 8 7 7 12 12 30 6 38 3 58-4 54-4 24-5 20-8 18-4 6-1 0zM494 899l-171 0-10-20-2-10 1-8 3-8 4-6 13-8 18-3 22 3 26 7 32 14 36 20 28 19zM1064 899l-172 0 44-27 38-20 34-12 28-4 14 2 10 3 8 6 5 8 2 10 0 10-4 12-7 12z"/>
<path fill="#040004" d="M358 91l-14 0-12-3-10-5-7-8-3-10 1-10 3-12 8-14 170 0-40 25-38 20-32 12-26 5zM696 301l-10-1-8-4-8-8-7-9-11-26-7-40-3-58 3-56 8-40 6-16 8-14 53 0 8 14 7 18 8 44 2 34 0 44-3 32-5 30-8 24-9 16-12 12-12 4zM1042 91l-13 0-17-3-32-10-40-20-47-29 170 0 7 12 4 11 1 9-2 10-4 8-7 6-9 4-11 2zM536 397l-14 1-16-1-16-4-22-7-48-24-50-32-31-27-12-14-8-12-5-12-2-12 1-10 5-8 10-8 16-5 18 1 24 5 26 9 26 13 34 20 30 20 20 16 16 17 12 16 8 16 2 16-3 12-9 9-12 5zM882 397l-22 1-16-3-11-8-6-12 0-14 7-18 13-18 19-19 28-22 32-21 32-17 32-14 26-8 22-2 18 3 12 8 5 8 2 8-1 10-4 12-13 22-22 22-35 27-46 28-40 18-32 9zM364 705l-20 1-16-5-11-8-3-6-2-8 2-16 8-16 14-18 18-18 28-21 32-21 32-17 32-14 24-6 22-3 18 4 12 8 5 8 1 8 0 10-3 10-6 12-9 12-22 23-38 28-48 28-40 18-30 7zM1048 705l-14 1-18-2-38-12-50-26-46-31-30-26-18-24-6-12-2-12 1-10 4-8 11-9 16-4 20 0 24 6 26 10 28 13 34 20 28 20 20 16 17 18 11 16 7 16 2 14-4 12-9 9-14 5zM720 899l-54 0-7-14-6-16-9-42-2-40 0-44 3-30 4-26 8-24 9-18 12-13 6-3 8-2 10 1 8 5 8 7 7 11 11 30 7 38 2 58-3 52-4 24-5 20-7 16-6 10zM492 899l-168 0-10-21-1-17 5-12 6-5 8-4 18-3 24 3 28 8 30 14 32 18 29 19-1 0zM1062 899l-168 0 42-27 40-20 34-12 26-3 12 1 12 4 8 6 4 7 3 10-1 11-6 15-5 8-1 0z"/>
</g></g>
<polygon points="518.1,232.0 432.4,78.3 261.0,78.3 175.3,232.0 261.0,385.7 432.4,385.7" fill="none" stroke="#000" stroke-width="3.4" stroke-linejoin="miter"/>
<path d="M552.4 19.0V445.0H141.0" fill="none" stroke="#000" stroke-width="2"/>
<clipPath id="cb"><rect x="916.4" y="14.4" width="417.8" height="435.2" rx="4.5"/></clipPath>
<g clip-path="url(#cb)"><g transform="scale(0.5)" fill-rule="evenodd">
<rect x="1833" y="29" width="836" height="870" fill="#ff0000"/>
<path fill="#ff0d00" d="M2669 900l-837-1 1-871 837 1-1 871zM2088 177l7-5 4-7 1-8-1-9-5-7-7-5-8-1-8 1-7 5-5 8-1 8 1 8 6 8 6 4 8 2 9-2zM2430 177l7-5 5-7 1-8-1-8-5-8-6-4-8-2-8 1-8 5-4 6-2 10 1 8 5 7 6 5 8 2 9-2zM1915 485l6-4 6-7 2-9-1-8-5-8-6-5-8-2-8 1-7 4-5 7-2 9 1 8 4 8 7 5 8 2 8-1zM2601 485l6-4 6-8 2-8-2-8-4-8-6-5-8-2-8 1-8 5-5 7-2 8 1 8 5 8 7 5 8 2 8-1zM2085 793l7-4 5-6 3-8 0-8-3-8-6-6-8-3-8 0-8 4-6 6-3 9 1 8 3 8 7 6 8 2 8 0zM2427 793l8-4 5-6 3-8 0-8-4-8-6-6-8-3-8 0-8 4-6 7-2 8 0 8 4 8 6 5 8 3 8 0z"/>
<path fill="#ff1600" d="M2669 899l-837 0 1-871 836 1 0 870zM2083 181l10-4 6-6 3-8 1-10-4-10-6-6-7-4-9-1-9 3-7 6-5 10 0 10 3 8 7 8 9 4 8 0zM2426 181l9-4 6-6 4-8 1-10-3-8-7-8-8-4-9-1-8 3-8 7-4 9 0 10 4 10 5 6 9 4 9 0zM1916 487l9-6 5-8 2-10-2-8-5-8-8-6-8-2-9 2-7 4-6 8-3 10 2 10 5 8 8 6 8 2 9-2zM2603 487l6-4 6-8 2-10-2-10-5-8-7-6-8-2-10 2-8 6-6 8-1 8 1 10 6 8 8 6 8 2 10-2zM2087 795l8-5 5-7 3-8-1-10-4-8-7-7-8-3-10 1-8 4-6 7-4 10 1 10 5 8 8 6 8 3 10-1zM2429 795l8-4 6-8 3-8-1-10-4-9-8-6-8-3-10 1-8 4-6 8-3 9 1 10 4 8 8 6 8 3 10-1z"/>
<path fill="#ff1f00" d="M2669 899l-837 0 1-871 836 1 0 870zM2085 183l10-5 6-7 4-10 0-10-4-10-6-6-10-5-10 0-10 4-8 9-4 10 1 10 4 10 7 6 10 4 10 0zM2428 183l9-4 7-8 4-10 0-10-5-10-6-6-10-5-10 0-10 5-6 6-4 10 0 12 4 10 8 7 8 3 11 0zM1910 491l11-4 7-6 5-10 1-10-4-10-6-8-9-5-10-1-10 3-7 7-5 10-1 10 3 10 6 8 10 5 9 1zM2597 491l10-4 7-6 4-10 1-10-3-10-6-8-9-5-10-1-10 4-8 6-5 10-1 10 3 10 7 8 10 5 10 1zM2088 797l9-6 6-8 2-10-1-10-5-9-8-7-10-2-10 1-10 7-6 8-2 10 2 10 6 9 8 6 10 2 9-1zM2430 797l10-6 6-8 2-10-1-10-5-8-7-7-10-3-10 0-10 6-6 8-3 10 1 10 4 8 8 8 10 3 11-1z"/>
<path fill="#ff2800" d="M2669 899l-837 0 1-871 836 1 0 870zM2086 185l11-6 7-8 3-10-1-12-4-10-9-8-10-3-10 0-10 5-7 8-4 10 0 12 4 10 9 8 10 4 11 0zM2428 185l11-5 8-9 3-10-1-12-5-10-9-8-10-3-10 0-9 5-8 8-3 10 0 12 4 10 8 8 10 4 11 0zM1912 493l10-4 9-8 4-10 1-10-3-10-8-10-10-5-10-1-10 3-8 7-6 10-1 12 3 10 7 10 11 5 11 1zM2598 493l9-3 8-7 5-10 1-12-4-12-6-8-10-5-10-1-11 4-9 8-5 10-1 10 4 11 7 9 11 5 11 1zM2089 799l9-6 7-10 2-10-2-12-6-10-8-6-10-3-10 2-10 6-7 9-3 10 1 12 6 10 9 6 12 4 10-2zM2431 799l10-6 6-8 3-10-1-12-5-10-9-7-10-3-12 1-10 6-6 9-3 10 1 12 6 10 8 6 12 4 10-2z"/>
<path fill="#ff3100" d="M2669 899l-837 0 1-871 836 1 0 870zM2087 187l10-5 8-9 4-12-1-12-5-12-8-7-10-4-12 0-10 5-10 10-4 10 1 12 5 12 8 8 12 4 12 0zM2429 187l10-5 9-9 4-12-1-12-4-10-10-9-10-4-12 0-10 5-9 10-4 12 1 12 6 12 8 7 10 3 12 0zM1912 495l11-4 9-8 5-12 1-12-5-12-8-8-10-5-12-1-10 4-9 8-5 12-1 12 4 12 7 8 12 5 11 1zM2598 495l11-4 8-8 6-12 0-12-4-12-8-8-10-5-10-1-12 4-9 8-5 10-2 12 4 12 8 9 12 6 11 1zM2090 801l9-6 7-10 3-12-2-12-5-10-9-8-10-3-12 2-10 5-8 10-4 12 1 12 7 11 10 8 12 3 11-2zM2432 801l10-6 7-10 3-12-1-11-6-11-10-8-10-3-12 2-10 5-8 10-3 12 1 12 6 10 10 9 12 3 11-2z"/>
<path fill="#ff3a00" d="M2669 899l-837 0 1-871 836 1 0 870zM2087 189l12-6 8-10 4-12-1-12-5-12-8-8-12-5-12 0-12 6-9 9-4 12 0 12 5 12 10 10 12 4 12 0zM2429 189l12-6 8-9 5-11-1-14-5-12-9-8-12-5-12 0-12 6-8 9-4 12 0 14 6 12 8 8 12 4 12 0zM1911 497l12-4 10-9 6-11 1-12-4-12-8-10-11-7-12-1-12 4-10 8-6 12-1 12 3 12 8 10 12 7 12 1zM2598 497l11-4 9-8 6-12 1-12-3-12-8-10-11-7-12-1-12 4-10 8-6 11-2 13 4 12 8 10 12 7 13 1zM2090 803l10-6 7-10 4-12-2-14-5-10-9-9-12-3-12 1-12 6-8 10-4 13 1 12 7 12 10 8 12 3 13-1zM2432 803l11-7 7-9 4-12-1-12-6-12-9-8-13-4-12 1-10 5-9 10-3 12 1 14 6 12 9 8 12 3 13-1z"/>
<path fill="#ff4100" d="M2669 899l-837 0 1-871 836 1 0 870zM2086 191l11-4 10-10 5-12 0-14-5-14-8-9-12-6-12 0-13 5-11 10-5 12 0 14 5 12 10 11 12 5 13 0zM2428 191l13-6 8-8 6-12 0-14-4-13-10-10-12-5-14-1-12 6-9 9-5 12 0 14 4 12 10 10 12 6 13 0zM1910 499l13-4 10-8 7-12 2-14-5-14-8-10-12-6-12-2-12 4-11 8-6 12-2 14 4 14 8 10 11 6 13 2zM2597 499l12-4 10-8 6-11 2-13-3-14-7-10-12-8-12-2-14 4-11 8-7 12-1 14 4 14 8 10 11 6 14 2zM2090 805l11-7 8-10 4-13-2-14-6-12-9-8-13-4-12 1-12 6-9 11-4 12 1 14 6 12 10 9 14 4 13-1zM2431 805l12-6 8-10 4-12 0-14-6-12-10-10-12-4-14 1-12 6-8 10-4 13 1 14 5 12 10 9 12 4 14-1z"/>
<path fill="#ff4800" d="M2669 899l-837 0 1-871 836 1 0 870zM2085 193l12-4 10-10 6-14 1-14-5-14-8-10-12-6-14-1-13 5-11 10-6 12-1 14 5 14 8 10 14 7 14 1zM2427 193l14-6 10-9 6-13 0-14-4-12-10-12-12-6-14-1-12 4-10 9-7 14-1 14 4 14 10 11 12 6 14 1zM1918 499l13-7 8-11 4-14-1-14-7-12-12-10-12-3-14 1-12 7-8 11-4 14 1 14 7 13 10 8 14 5 13-2zM2605 499l12-7 8-11 3-14-1-14-6-12-10-9-12-4-14 1-13 6-10 12-4 14 1 14 8 13 11 9 13 3 14-1zM2431 807l12-6 10-12 4-12 0-14-6-13-10-9-14-6-14 1-12 6-9 11-5 14 1 14 5 12 10 10 14 5 14-1zM2089 807l12-6 9-12 4-14-1-14-6-13-10-9-12-4-14 1-12 6-10 11-5 14 1 14 6 12 10 10 14 5 14-1z"/>
<path fill="#ff4f00" d="M2669 899l-837 0 1-871 836 1 0 870zM2082 195l14-4 11-9 7-13 2-14-3-14-8-12-12-8-14-3-14 4-13 9-7 12-3 16 4 14 9 12 13 8 14 2zM2423 195l14-4 12-8 8-13 2-15-3-14-9-13-12-7-16-3-14 4-11 9-7 14-2 14 4 14 8 12 12 8 14 2zM1917 501l14-7 9-11 5-14-1-14-7-14-10-10-14-5-14 1-13 6-10 12-5 14 1 16 7 13 10 9 14 5 14-1zM2604 501l13-7 9-11 4-14-1-16-6-12-11-10-13-5-14 1-14 7-10 11-4 14 0 14 7 14 11 10 14 5 15-1zM2088 809l13-6 10-12 5-14-1-14-6-14-10-10-12-5-14 0-14 6-11 11-5 14 0 14 6 14 10 10 14 6 15 0zM2429 809l14-6 10-10 6-14 0-14-6-14-10-11-14-6-14 0-13 5-10 10-6 14 0 16 5 14 10 10 14 6 14 0z"/>
<path fill="#ff5600" d="M2669 899l-837 0 1-871 836 1 0 870zM2091 195l12-7 10-12 4-15-1-16-7-14-10-9-14-5-14 1-15 7-10 12-5 14 1 16 7 14 12 10 14 5 16-1zM2432 195l13-7 10-11 5-14 0-16-7-14-12-11-14-5-16 1-13 7-9 12-5 16 1 16 8 14 10 8 14 5 15-1zM1916 503l13-6 12-12 5-14 0-16-7-14-10-10-14-6-16 0-14 7-10 11-5 14 0 16 6 14 11 11 14 5 15 0zM2603 503l14-7 9-11 5-14 0-16-6-14-10-11-14-5-14 0-15 6-11 12-6 14 1 16 6 14 11 10 14 6 16 0zM2086 811l15-6 10-10 5-14 1-16-5-14-9-11-13-7-15-1-14 5-12 10-7 14-1 16 6 16 10 11 14 6 15 1zM2428 811l15-6 10-10 7-14 0-16-5-14-11-12-13-6-16-1-14 6-11 11-5 14-1 16 5 14 11 12 13 5 15 1z"/>
<path fill="#ff5d00" d="M2669 899l-837 0 1-871 836 1 0 870zM2090 197l13-7 10-11 6-16-1-16-6-14-11-12-14-5-16 0-15 7-11 12-6 16 1 16 7 14 12 11 16 6 15-1zM2431 197l16-8 10-12 5-14-1-16-6-14-12-12-14-5-16 0-14 6-11 13-5 16 0 16 6 14 12 11 14 6 16-1zM1914 505l15-6 12-12 6-14 0-16-5-14-11-13-14-6-16-1-14 5-11 11-7 16 0 16 5 16 11 11 14 7 15 0zM2601 505l15-6 11-12 5-14 1-16-6-16-10-11-14-7-14 0-16 6-12 11-7 15 0 16 6 16 11 11 14 6 16 1zM2083 813l14-4 12-10 8-14 2-16-4-16-10-14-14-7-14-2-16 5-12 10-8 14-2 16 5 16 9 12 14 8 16 2zM2424 813l15-4 13-10 8-14 2-16-4-16-9-12-14-9-16-2-16 5-12 10-7 14-2 16 5 16 8 12 14 8 15 2z"/>
<path fill="#ff6400" d="M2669 899l-837 0 1-871 836 1 0 870zM2088 199l15-7 11-11 6-16 0-16-6-16-11-12-14-6-16-1-16 7-12 12-7 16 0 16 7 15 12 12 15 7 16 0zM2429 199l15-6 12-12 7-16 0-16-7-16-11-12-14-6-16-1-14 5-12 12-7 16 0 18 6 16 11 12 14 6 16 0zM1911 507l16-5 12-10 9-15 1-16-4-17-11-13-15-8-16-2-16 6-11 10-7 14-2 18 5 16 9 12 14 8 16 2zM2598 507l15-5 12-10 8-15 1-16-4-16-9-14-14-8-16-2-16 5-14 11-7 14-2 16 4 16 11 14 14 8 17 2zM2091 813l14-7 10-13 5-16-1-16-6-15-12-12-14-5-16 1-16 7-11 12-6 16 0 16 8 16 13 11 16 6 16-1zM2432 813l15-7 11-13 5-16-1-16-7-16-12-10-16-6-16 1-14 7-10 12-6 16 1 18 7 14 12 12 16 5 15-1z"/>
<path fill="#ff6b00" d="M2669 899l-837 0 1-871 836 1 0 870zM2084 201l17-6 12-10 7-16 2-16-5-18-10-13-14-8-16-2-16 5-14 11-9 15-2 18 5 16 11 14 15 8 17 2zM2425 201l16-5 14-11 8-14 2-18-5-16-11-15-16-8-16-2-16 6-12 10-8 15-1 18 5 18 10 12 14 8 16 2zM1918 507l16-8 11-13 6-15-1-18-8-16-13-11-16-6-16 1-16 8-10 13-6 17 2 17 8 17 12 10 16 5 15-1zM2606 507l15-8 9-12 6-16-1-18-6-14-12-13-16-6-16 1-16 7-12 13-6 16 1 18 7 16 14 12 16 5 17-1zM2089 815l16-7 11-13 5-16 0-18-7-16-11-11-16-6-16 0-16 7-12 13-6 15 0 18 7 16 13 12 16 6 16 0zM2430 815l17-8 11-12 7-16-1-16-6-16-12-12-17-7-16 0-16 7-11 12-6 16 0 18 7 16 12 12 16 6 15 0z"/>
<path fill="#ff7100" d="M2669 899l-837 0 1-871 836 1 0 870zM2092 201l15-8 10-12 6-18-1-18-7-16-13-12-15-6-18 1-16 8-12 14-6 17 1 18 9 16 14 12 16 5 17-1zM2433 201l16-8 12-14 5-16-1-18-8-16-12-11-16-7-18 1-16 8-11 13-6 18 2 18 7 16 13 12 17 5 16-1zM1916 509l17-8 12-12 7-16-1-18-6-16-12-12-16-8-18 0-16 7-12 13-6 16 0 18 6 16 12 13 16 7 17 0zM2604 509l15-7 12-13 6-16-1-18-6-16-11-13-16-7-16 0-16 6-8 6-6 7-7 17 0 18 7 17 13 13 17 6 17 0zM2087 817l16-6 12-12 7-16 1-18-6-18-11-12-15-8-16-1-16 5-14 12-9 16-1 18 6 17 12 14 16 8 18 1zM2427 817l17-6 13-12 8-16 1-18-5-16-13-14-15-8-18-1-16 6-12 11-8 18 0 18 6 17 11 13 15 7 16 1z"/>
<path fill="#ff7800" d="M2669 899l-837 0 1-871 836 1 0 870zM2090 203l15-7 12-13 7-18 0-18-7-17-12-13-16-7-18 0-16 7-14 14-7 16 0 18 3 9 4 9 14 13 16 7 10 1 9-1zM2430 203l17-7 13-13 7-16 0-18-6-17-12-13-8-5-10-4-18 0-16 7-7 6-6 8-7 18 1 18 7 17 12 12 16 7 17 0zM1913 511l17-6 14-12 8-16 1-18-5-18-13-14-16-9-18-1-16 6-13 12-8 16-1 20 6 18 12 14 16 7 16 1zM2601 511l16-6 13-12 7-16 1-20-6-18-11-13-14-7-18-2-17 6-14 12-9 16-1 18 5 18 12 14 8 5 10 4 18 1zM2093 817l15-8 11-14 5-18-1-18-7-16-13-12-16-6-18 1-16 7-13 14-6 18 1 18 8 17 14 12 18 6 18-1zM2434 817l15-8 13-14 5-16 0-18-8-17-14-13-16-6-18 0-16 8-12 14-6 18 1 20 8 16 13 12 9 4 9 1 17-1z"/>
<path fill="#ff7f00" d="M2669 899l-837 0 1-871 836 1 0 870zM2086 205l17-6 13-12 8-18 1-18-5-18-11-15-16-8-18-2-18 6-15 13-5 8-4 10-1 18 7 18 12 14 16 8 10 2 9 0zM2427 205l18-6 14-13 9-17 1-18-6-18-12-14-16-9-18-2-10 2-8 4-8 6-6 7-8 18-1 18 5 18 12 14 16 9 18 1zM1919 511l16-8 13-14 7-18-1-18-4-10-5-8-14-13-18-6-18 1-16 8-11 14-6 18 1 20 8 17 14 13 16 5 18-1zM2607 511l16-9 11-13 6-18-2-20-7-17-6-7-8-6-16-5-18 1-17 8-13 14-6 18 0 18 4 10 5 8 7 7 8 6 18 6 18-1zM2091 819l16-8 12-13 6-17 0-20-8-18-12-13-16-6-18 0-18 8-13 13-7 18 0 18 8 18 14 13 18 7 18 0zM2431 819l18-8 12-12 7-18 1-18-8-18-12-13-8-5-10-3-18 0-10 3-7 4-13 14-7 18 0 18 7 18 6 8 8 6 16 6 18 0z"/>
<path fill="#ff8600" d="M2669 899l-837 0 1-871 836 1 0 870zM2093 205l16-9 12-14 6-19-2-20-8-18-14-12-16-6-18 1-18 9-13 14-7 18 0 10 1 10 9 17 14 13 18 7 10 0 10-1zM2433 205l17-8 13-14 7-18 1-10-2-10-8-18-14-13-18-7-18 1-10 3-8 5-12 15-6 18 1 20 7 18 14 13 8 4 10 2 18-1zM1917 513l18-8 13-14 8-18 0-18-8-18-13-14-18-8-18 0-16 6-8 6-6 8-8 18 0 20 2 10 5 10 13 13 8 4 10 3 18 0zM2605 513l8-3 9-5 12-14 6-18 0-20-7-18-12-13-8-4-10-3-18 0-18 8-14 14-7 18 0 18 7 18 14 14 18 8 10 1 10-1zM2088 821l17-7 13-13 8-18 1-18-6-19-12-14-16-9-18-1-18 6-8 5-8 8-8 16-2 10 0 10 6 18 6 9 7 7 9 5 10 4 19 1zM2428 821l9-2 10-5 14-13 8-18 1-18-6-18-13-15-8-5-10-4-18-1-10 2-8 4-13 13-8 18-1 20 6 18 12 15 16 8 10 1 9 0z"/>
<path fill="#ff8d00" d="M2669 899l-837 0 1-871 836 1 0 870zM2090 207l9-3 9-5 13-14 6-18 0-20-6-18-6-8-8-7-8-5-10-3-18 0-18 8-9 7-6 8-8 18-1 10 1 10 8 18 7 8 8 6 18 8 19 0zM2430 207l19-8 14-14 8-18 0-18-6-18-6-8-8-8-18-8-10-2-10 1-10 3-8 4-13 14-5 10-3 10 0 20 7 18 6 8 8 7 16 7 19 0zM1913 515l18-6 9-6 7-8 8-16 2-10 0-10-5-18-5-8-8-8-9-6-9-4-10-2-10 0-18 6-14 13-9 19-1 20 6 18 6 9 6 7 8 5 10 4 18 1zM2601 515l18-7 14-13 8-18 1-20-2-10-5-10-12-14-16-9-18-1-18 6-9 6-8 8-9 18-1 10 0 10 2 10 5 9 13 15 17 8 10 2 10 0zM2094 821l9-4 8-6 11-14 6-18-1-20-8-18-14-14-8-4-10-2-18 1-18 8-14 15-7 18-1 10 2 10 8 18 7 8 9 6 10 5 10 2 19-1zM2434 821l17-8 8-8 6-8 6-18 1-10-2-10-9-18-14-13-18-7-10-1-10 2-16 8-8 7-5 8-5 10-2 10 2 20 8 18 14 13 8 4 10 2 19-1z"/>
<path fill="#ff9400" d="M2669 899l-837 0 1-871 836 1 0 870zM2086 209l9-2 9-4 8-6 7-7 5-9 4-10 1-20-5-18-11-16-16-10-10-3-10 0-10 2-10 4-16 13-6 8-4 10-3 10 0 10 2 10 4 10 13 16 18 10 10 2 11 0zM2426 209l19-6 16-13 9-17 3-10 0-10-2-10-4-10-12-16-8-6-10-4-10-3-10 0-18 5-8 6-8 8-9 18-2 20 5 20 12 16 8 6 9 4 9 2 11 0zM1919 515l18-8 8-8 6-8 7-18 1-10-1-10-8-18-7-8-8-7-10-5-10-3-10 0-10 1-10 4-8 5-13 15-6 20 1 20 8 18 6 8 8 6 8 4 10 3 10 0 10-1zM2607 515l10-4 8-5 12-15 6-20-1-20-8-18-6-8-8-6-17-7-10 0-10 1-18 8-8 7-7 9-5 10-2 10-1 10 2 10 9 18 7 8 9 6 10 5 10 2 18-1zM2091 823l10-4 8-4 12-14 5-10 3-10-1-20-2-10-5-10-6-7-8-7-8-4-10-3-18 0-10 3-10 5-14 15-8 18 0 20 3 10 5 9 14 15 10 5 10 3 10 1 10-1zM2431 823l10-3 10-6 14-15 7-18 1-10-1-10-8-18-6-8-9-8-18-7-10-1-10 1-10 3-8 5-8 7-6 8-4 10-3 10 1 20 3 10 5 9 6 8 8 6 8 4 10 3 18 0z"/>
<path fill="#ff9b00" d="M2669 899l-837 0 1-871 836 1 0 870zM2093 209l10-4 8-5 12-15 7-20 1-12-2-10-8-19-14-14-18-7-10 0-10 1-10 4-9 5-9 8-6 8-5 10-3 10 1 20 9 18 8 9 8 6 10 5 10 3 10 0 10-1zM2433 209l18-8 8-7 7-9 7-18 0-20-3-10-5-10-14-15-10-5-10-3-10-1-10 1-10 3-8 5-8 7-6 8-5 10-3 10 0 12 1 10 3 10 5 10 7 8 8 6 8 4 10 3 10 0 10-1zM1916 517l11-3 9-5 7-6 8-9 5-9 3-10 0-20-6-18-6-8-9-8-9-6-10-3-20-1-10 3-10 5-14 14-5 10-3 10 0 20 7 20 7 9 7 7 9 5 10 3 19 0zM2604 517l11-4 8-4 13-14 5-10 3-10 0-20-7-20-12-14-8-6-10-3-10-2-10 1-10 3-10 4-9 7-7 8-5 10-4 10 0 20 3 10 5 10 7 9 8 6 10 6 10 3 19 0zM2087 825l18-6 8-6 7-8 9-19 1-21-6-20-5-9-7-7-17-9-10-2-10 0-10 2-10 5-16 13-6 9-4 10-2 20 2 10 4 10 14 16 18 10 12 2 10 0zM2427 825l10-2 10-5 8-5 8-9 6-9 4-10 1-20-2-10-5-10-6-9-8-7-18-9-20-2-10 2-10 5-8 6-6 7-9 19-1 10 0 12 6 20 6 8 8 8 16 8 10 2 10 0z"/>
<path fill="#ffa100" d="M2669 899l-837 0 1-871 836 1 0 870zM2089 211l10-3 10-5 13-14 6-10 3-10 0-22-7-20-13-15-8-5-10-4-20-1-10 3-10 4-8 6-8 9-6 9-4 10-1 10 0 12 3 10 5 10 7 9 8 7 10 6 10 3 10 1 10 0zM2429 211l20-8 9-6 7-8 6-10 3-10 1-20-2-10-5-10-7-9-8-7-18-9-12-2-10 0-18 7-8 6-7 8-6 10-3 10-1 22 2 10 5 10 6 9 8 8 8 5 10 3 10 2 10-1zM1911 519l10-2 10-4 16-12 6-8 5-10 3-10 0-12-1-10-4-10-6-10-7-8-18-11-10-2-12-1-10 2-10 4-9 6-7 8-9 18-2 10-1 12 6 20 12 17 8 6 10 5 20 2zM2599 519l10-2 10-4 8-6 8-8 9-18 2-10 0-12-6-20-11-17-8-6-10-4-10-3-10 0-10 2-10 4-10 6-8 8-10 18-3 10 0 12 2 10 4 10 13 16 10 7 10 4 10 3 10 0zM2093 825l18-9 8-7 5-8 7-20-1-22-3-10-5-10-14-14-9-5-10-3-20 1-10 3-10 6-8 7-7 9-5 10-3 10 1 20 3 10 6 10 15 14 10 6 10 2 12 1 10-1zM2433 825l10-3 10-6 14-15 5-10 3-10 1-12-2-10-3-10-6-10-16-14-10-5-10-3-20 1-10 3-8 5-8 8-6 9-7 20 1 22 3 10 6 10 6 8 8 6 9 4 10 3 10 0 10-1z"/>
<path fill="#ffa800" d="M2669 899l-837 0 1-871 836 1 0 870zM2095 211l10-4 8-6 8-8 5-8 4-10 3-12-2-22-4-10-6-10-14-13-10-5-10-2-20 1-10 4-10 6-8 8-7 9-5 10-2 10 0 12 1 10 4 10 6 10 8 8 9 6 10 5 10 2 12 1 10-2zM2435 211l10-4 10-6 14-16 5-10 2-10-1-20-3-10-5-10-7-8-9-7-10-6-10-3-12-1-10 2-10 3-9 6-7 6-7 10-5 10-2 12 1 22 3 10 6 10 7 8 9 7 10 4 10 2 20-1zM1918 519l19-8 10-8 6-8 5-10 3-10 2-12-2-10-3-10-5-10-7-8-9-8-10-5-10-3-20 0-10 3-10 5-8 7-6 8-8 21 0 22 3 10 5 11 6 8 8 7 10 5 10 3 10 1 11-1zM2607 519l18-9 8-7 6-8 7-20 0-22-7-20-6-8-8-7-8-5-10-4-10-1-12 1-10 3-10 5-10 8-7 8-5 10-3 10-1 10 1 12 3 10 6 11 8 9 8 6 10 5 10 3 12 1 10-1zM2090 827l9-3 10-5 14-14 5-10 3-10 1-22-6-20-5-8-8-8-8-6-10-4-10-2-12 1-10 2-10 5-10 7-8 9-6 10-3 10-1 20 3 12 5 9 6 9 9 8 10 6 11 3 10 2 11-1zM2430 827l11-3 10-6 9-7 7-8 5-10 4-10 0-20-3-10-4-10-6-8-9-8-9-6-10-4-12-2-10 1-10 2-9 5-8 6-7 8-6 10-3 12-1 22 3 12 5 10 6 8 8 7 8 5 10 3 10 2 11-1z"/>
<path fill="#ffaf00" d="M2669 899l-837 0 1-871 836 1 0 870zM2092 213l9-3 10-6 8-7 6-8 8-20 1-12-1-12-8-20-6-9-8-7-18-8-10-2-12 1-10 3-12 6-8 7-8 9-5 10-3 10-2 10 1 12 3 10 6 11 7 9 9 7 10 5 10 4 12 1 11-1zM2431 213l20-8 10-8 7-8 5-10 4-10 1-10-1-12-3-10-5-11-8-9-8-7-10-6-10-3-12-2-10 1-10 3-10 5-8 7-7 10-5 10-3 12 0 22 8 20 7 9 8 7 10 5 10 3 20 0zM1914 521l11-3 10-5 9-6 8-8 6-10 4-10 2-10-1-12-3-12-5-10-6-9-8-7-10-7-10-3-11-2-11 0-10 3-10 4-8 7-7 8-6 10-3 10-2 12 1 12 2 12 5 9 6 9 8 8 8 5 10 4 10 1 11 0zM2603 521l10-3 10-5 8-6 7-8 5-10 4-10 1-22-3-12-4-10-13-16-8-6-10-4-11-2-10 0-12 3-10 4-9 7-8 8-6 10-4 10-2 10 0 12 3 12 5 10 7 10 8 7 10 6 10 3 10 2 12 0zM2082 829l11-2 10-3 16-12 7-9 4-10 4-22-1-12-3-10-11-18-8-7-10-6-10-3-10-1-12 1-10 4-10 5-8 7-8 9-6 11-3 10-1 12 2 12 3 10 6 10 7 8 10 7 10 5 10 3 11 1zM2421 829l12-2 10-3 10-6 9-7 12-18 3-10 1-12-2-12-3-10-6-10-6-8-10-8-10-5-10-3-12-1-10 1-10 4-8 4-9 8-7 10-4 9-3 11-1 12 2 12 3 10 5 10 6 8 8 7 10 5 10 3 10 1z"/>
<path fill="#ffb600" d="M2669 899l-837 0 1-871 836 1 0 870zM2087 215l10-2 10-5 8-5 8-9 6-9 4-11 2-11 0-12-2-12-4-10-6-10-8-8-8-6-10-5-10-2-12 0-12 3-10 4-10 7-8 9-7 10-4 10-2 10 0 12 3 12 5 10 7 10 8 7 10 7 10 4 10 2 12 0zM2426 215l11-2 12-6 9-6 8-8 7-10 4-10 2-10 0-12-3-12-4-10-7-10-8-8-10-6-10-5-10-2-12 0-10 2-10 5-9 6-8 8-6 10-4 10-2 12 0 12 3 12 4 10 6 10 7 8 9 6 10 4 10 2 11 0zM1920 521l11-4 10-6 15-16 5-10 3-10 1-12-1-10-3-10-6-11-8-9-8-7-10-6-12-4-12-1-10 2-10 3-10 6-8 7-7 10-5 10-3 12 0 12 2 12 3 10 6 11 8 9 8 6 10 5 10 2 10 0 11-1zM2609 521l10-4 9-6 14-16 4-10 3-12 0-12-1-12-9-20-8-10-8-6-10-5-10-2-20 1-12 4-10 6-8 7-7 9-6 10-3 12-1 12 2 10 3 10 6 10 8 9 10 8 10 5 12 3 12 0 10-1zM2092 829l11-4 10-6 8-7 6-9 5-10 3-12-1-22-4-12-5-10-14-15-18-8-10-1-12 1-12 3-10 6-8 6-8 9-6 11-3 10-2 10 1 12 3 10 5 11 7 9 9 8 10 6 12 4 12 1 11-1zM2432 829l11-4 10-5 8-7 8-9 6-11 3-10 1-10-1-12-4-12-5-10-7-8-9-8-10-5-10-4-12-1-10 1-10 3-10 5-8 7-8 10-5 10-3 12 0 22 3 12 5 10 8 9 8 7 10 5 10 3 10 1 11-1z"/>
<path fill="#ffbc00" d="M2669 899l-837 0 1-871 836 1 0 870zM2094 215l9-3 10-6 8-8 7-9 4-10 3-12 1-12-1-12-4-12-5-10-7-8-8-7-10-5-10-3-10-1-12 1-12 4-10 6-8 7-9 10-5 10-3 12-1 12 1 10 4 12 6 10 7 8 10 8 10 5 12 3 12 1 11-1zM2433 215l12-4 10-6 8-7 7-9 6-10 3-12 1-12-1-10-4-12-6-10-6-8-10-8-10-6-12-3-12-1-10 1-10 3-10 6-9 8-7 10-4 10-3 12-1 12 1 12 9 20 8 10 8 6 10 6 10 2 12 1 10-1zM1916 523l11-3 10-5 10-8 8-9 6-10 4-11 1-10-1-12-3-12-5-10-8-10-8-7-10-6-12-4-12-2-10 1-10 3-10 5-10 8-6 8-5 10-4 12-1 12 1 12 3 12 5 10 7 10 8 7 10 5 10 4 10 1 11-1zM2605 523l10-3 10-5 8-7 7-9 9-20 1-12 0-12-3-12-4-10-6-9-8-8-10-6-10-4-10-2-12 1-12 3-10 5-10 7-8 9-6 10-4 11-2 11 1 12 3 12 5 10 8 10 9 8 10 5 12 4 12 2 10-1zM2087 831l12-3 10-5 8-6 7-8 10-20 2-12 0-12-2-12-4-10-6-10-8-8-9-7-10-4-10-2-12 0-12 3-10 4-10 7-8 8-6 9-6 12-2 10 0 12 3 12 4 10 7 10 8 8 10 7 12 5 12 2 10 0zM2426 831l11-2 12-5 10-7 8-8 6-10 5-10 2-10 0-12-2-12-4-10-7-10-8-9-10-7-10-4-12-3-12 0-12 3-9 4-9 6-8 9-6 10-4 11-2 12 0 12 3 12 4 10 6 10 8 8 9 6 10 4 10 2 11 0z"/>
<path fill="#ffc300" d="M2669 899l-837 0 1-871 836 1 0 870zM2089 217l12-3 10-5 8-7 8-9 5-10 4-12 1-12 0-12-3-12-5-10-6-10-8-8-10-6-10-4-10-1-12 0-12 3-12 6-8 6-9 10-6 10-5 12-1 10 0 12 3 12 5 10 8 10 9 8 10 6 12 5 12 1 10 0zM2428 217l13-3 10-5 10-7 8-9 6-10 4-10 2-12 0-12-3-12-5-10-7-10-9-8-9-6-11-5-12-2-12 0-10 2-10 5-10 8-7 8-6 10-4 12-2 12 0 12 3 12 5 12 7 9 8 8 10 6 10 4 10 1 11 0zM1908 525l11-2 12-4 11-6 9-8 7-10 5-10 3-10 1-12-1-12-4-10-5-10-8-10-10-8-10-5-12-4-12-1-12 2-10 3-8 5-9 8-7 9-5 11-3 12-1 12 1 12 3 12 5 10 8 9 8 7 10 6 12 3 11 1zM2597 525l12-2 10-3 10-7 8-7 6-9 5-12 3-12 0-12-4-22-6-11-8-9-8-7-10-5-10-3-12-1-12 2-11 4-10 6-9 8-8 10-5 10-3 12-1 12 2 12 4 10 5 10 9 10 11 7 10 5 12 3 10 1zM2094 831l11-4 10-6 8-8 6-9 5-11 3-12 0-12-1-12-4-12-5-10-7-8-9-8-10-5-10-3-10 0-12 1-12 4-10 5-9 8-8 10-6 10-3 12-1 12 1 10 4 12 6 11 8 9 10 8 10 5 12 3 12 1 11-1zM2433 831l12-4 10-6 8-6 8-10 5-10 4-12 1-10-1-12-3-12-6-10-8-10-8-7-10-6-12-4-12-1-12 1-10 3-11 6-8 8-7 9-5 11-3 12-1 12 1 12 4 12 5 10 7 8 8 8 10 5 12 3 12 1 10-1z"/>
<path fill="#ffca00" d="M2669 899l-837 0 1-871 836 1 0 870zM2095 217l11-4 9-6 8-8 7-10 5-10 3-12 0-12-1-13-9-21-7-10-8-7-10-5-10-3-12-1-12 1-12 4-10 5-10 8-8 10-5 10-4 12-1 12 1 12 4 12 6 10 8 10 10 8 11 5 12 4 12 1 12-2zM2434 217l12-4 10-6 9-8 8-10 5-10 4-12 0-12-1-10-3-12-6-10-8-10-9-8-10-5-12-4-12-1-12 1-10 3-11 6-9 8-7 10-6 12-3 12 0 12 1 12 4 12 5 10 8 9 8 7 10 5 12 4 12 0 11-1zM1918 525l11-4 10-5 10-8 8-9 6-10 4-12 1-10 0-12-4-12-5-10-7-10-9-9-10-6-12-4-12-2-12 1-10 2-11 6-9 7-7 9-6 10-4 12-1 12 0 14 3 12 5 10 7 10 9 8 10 6 11 4 13 1 11-1zM2607 525l10-3 10-6 8-7 8-10 6-12 3-12 1-12-2-12-3-12-5-10-8-10-8-7-10-6-10-3-10-1-12 1-12 3-10 5-10 8-9 10-5 10-5 12-1 12 1 12 3 12 6 10 8 10 10 8 10 6 12 4 12 1 12-1zM2089 833l12-3 10-5 8-6 8-10 6-10 4-12 1-12 0-12-3-12-5-12-7-10-8-8-10-6-10-4-10-1-12 0-12 3-12 6-10 7-8 9-6 10-4 11-2 11 0 12 3 12 5 10 6 10 10 9 10 6 12 5 12 2 12 0zM2429 833l12-3 10-5 10-7 8-9 7-10 4-12 2-10 0-12-3-12-4-11-7-9-9-10-10-6-12-5-12-2-12 0-12 3-10 5-9 7-7 8-6 10-4 12-2 12 0 14 3 12 4 10 7 10 8 8 10 6 10 4 12 2 12 0z"/>
<path fill="#ffd000" d="M2669 899l-837 0 1-871 836 1 0 870zM2091 219l12-4 10-5 8-7 8-10 5-10 4-12 1-12 0-12-3-12-5-12-6-9-8-8-10-6-10-4-12-2-12 0-12 3-12 6-10 7-8 9-7 10-4 12-2 12 0 12 3 12 6 12 8 10 8 8 12 7 12 4 12 2 12-1zM2430 219l13-4 10-5 10-7 9-10 6-10 4-12 2-12-1-12-4-12-4-10-8-11-10-8-10-6-12-5-12-1-12 0-12 4-10 5-8 6-8 10-6 10-3 12-2 12 0 14 3 12 6 12 7 10 9 8 10 6 10 3 12 2 11-1zM1912 527l11-2 12-5 10-7 10-9 7-11 4-10 3-12 0-12-2-12-5-12-7-10-8-9-10-7-12-5-12-3-12 0-12 2-10 5-10 7-8 8-6 10-5 12-2 12 0 14 2 12 5 12 6 10 8 8 10 7 10 5 12 2 11 0zM2601 527l12-3 10-4 10-7 7-8 6-10 5-12 2-12 0-12-1-12-5-12-6-11-8-9-10-7-10-4-10-3-12 0-12 2-12 5-10 6-9 9-8 10-5 12-3 12 0 12 2 12 5 12 7 10 9 9 10 7 12 5 12 3 12 0zM2095 833l11-4 10-6 8-8 7-10 5-12 3-12 0-12-1-12-4-12-5-10-8-10-8-7-10-5-10-3-12-2-12 2-12 3-10 6-10 8-9 10-6 12-3 12-1 12 1 12 4 12 6 10 9 10 10 8 11 5 12 4 12 0 12-1zM2434 833l12-4 11-7 9-7 8-10 5-10 3-12 2-12-2-12-4-12-5-10-8-10-10-8-10-5-12-4-12-2-12 1-12 4-10 6-9 8-7 10-5 10-3 12-1 14 1 12 3 12 7 12 8 10 8 6 10 5 12 4 12 0 11-1z"/>
<path fill="#ffd700" d="M2669 899l-837 0 1-871 836 1 0 870zM2096 219l11-4 10-7 9-9 7-10 5-12 2-12 0-12-1-12-4-12-5-10-9-10-8-7-10-6-12-3-12-1-12 2-12 4-11 7-10 8-7 10-6 12-4 12 0 12 1 12 4 12 7 11 8 9 10 8 12 6 12 3 12 1 13-2zM2435 219l12-4 10-6 10-9 8-10 5-11 4-12 1-12-2-12-4-12-6-11-8-9-10-8-12-6-12-4-12-1-12 2-12 4-10 6-9 9-7 10-5 12-3 12 0 14 2 12 4 12 5 10 8 10 9 7 10 5 12 3 12 1 12-2zM1919 527l12-4 11-6 10-8 8-10 5-10 4-12 1-12-1-12-3-12-5-10-8-10-10-9-12-7-12-4-12-1-12 1-12 4-10 5-8 7-8 10-6 12-3 12-2 12 2 14 3 12 6 12 8 10 8 7 10 5 12 4 12 1 12-1zM2608 527l11-4 10-5 8-7 8-11 5-11 4-12 1-14-2-12-3-12-5-11-7-9-9-9-10-5-10-4-12-1-12 1-12 3-12 6-10 8-8 9-7 12-4 12-1 12 1 12 3 12 6 12 9 10 9 8 12 6 12 4 12 1 13-1zM2091 835l12-3 10-6 9-7 8-10 5-10 4-12 1-12 0-14-3-12-6-12-6-10-8-7-10-7-10-4-12-2-12 1-12 3-12 5-10 8-9 9-6 10-5 12-2 12 0 14 3 12 6 12 8 10 9 8 12 7 12 4 12 2 12-1zM2430 835l11-3 12-6 10-7 9-10 6-10 5-12 2-12-1-12-3-12-6-12-7-10-9-8-12-8-12-4-12-2-12 1-12 3-10 5-8 7-9 10-6 12-4 12-1 12 1 14 7 22 7 10 9 9 10 6 12 4 12 2 11-1z"/>
<path fill="#ffde00" d="M2669 899l-837 0 1-871 836 1 0 870zM2092 221l13-4 10-6 8-7 8-10 6-11 3-12 2-12-1-14-3-12-6-12-7-10-9-8-10-6-11-4-12-2-12 1-12 3-12 6-10 8-9 10-7 12-4 12-2 12 1 12 4 12 6 12 7 10 10 8 12 7 12 4 12 2 13-1zM2431 221l12-3 12-7 10-7 8-9 7-12 4-12 2-12-1-12-3-12-6-12-8-10-9-9-12-7-12-4-12-2-12 1-12 3-11 6-9 7-8 10-6 12-4 13-1 12 1 14 3 12 5 12 8 10 9 8 10 6 11 3 12 2 12-1zM1913 529l12-3 12-5 10-7 10-9 6-10 6-13 2-13 0-12-3-12-5-12-7-10-9-9-10-7-12-5-14-3-12 0-12 3-10 4-10 8-8 9-7 12-4 12-2 12 0 14 2 12 5 12 7 10 9 9 10 7 10 4 12 2 12 0zM2603 529l12-3 10-5 10-7 8-9 6-10 4-12 2-12 0-14-2-12-4-12-6-10-9-10-11-8-10-4-12-2-12 0-12 3-12 5-10 6-10 10-7 10-5 12-3 12 0 14 3 12 5 12 7 10 10 10 12 7 11 5 13 2 12 0zM2096 835l11-4 10-6 10-10 6-10 5-12 3-12 0-14-1-12-4-12-6-10-8-10-9-8-10-5-12-3-12-1-12 2-12 4-12 7-9 8-8 10-6 12-4 12-1 12 2 12 4 12 7 12 9 10 10 8 12 6 12 3 12 1 13-2zM2435 835l12-4 10-6 10-8 8-10 6-12 4-12 1-12-2-12-3-12-7-12-9-10-10-8-12-7-12-3-12-1-12 2-12 4-10 6-10 9-6 9-6 13-3 12 0 14 1 12 4 12 6 12 8 9 10 8 10 5 12 3 12 1 12-2z"/>
<path fill="#ffe400" d="M2669 899l-837 0 1-871 836 1 0 870zM2085 223l12-2 12-5 10-6 8-8 7-11 5-12 3-12 0-14-1-12-4-13-6-11-8-10-10-8-10-5-12-3-12-1-14 2-12 5-10 6-10 9-8 10-6 11-4 14-1 12 3 14 4 11 6 11 10 10 10 8 12 6 14 3 12 1zM2423 223l14-2 12-5 11-7 9-8 8-10 6-12 3-12 1-14-2-12-5-12-7-12-8-9-10-8-12-6-12-3-14-1-12 2-12 5-10 6-8 8-8 12-5 12-3 12 0 14 2 13 4 12 6 11 8 10 10 7 10 5 12 3 12 1zM1920 529l12-4 11-6 10-9 8-9 7-12 3-12 2-12-1-12-4-12-6-12-8-10-9-8-12-7-12-5-14-1-12 1-12 3-12 7-9 8-7 10-6 12-4 14-1 14 2 12 3 12 7 12 8 10 9 8 10 5 12 3 12 1 13-1zM2609 529l12-4 10-6 9-8 7-10 5-12 4-14 1-14-2-12-3-12-7-12-8-10-8-7-10-6-12-3-12-1-12 1-12 4-12 6-10 8-8 10-7 12-4 12-1 12 1 14 4 12 6 12 9 10 10 8 12 6 12 4 14 1 12-1zM2092 837l13-4 10-5 10-9 7-10 6-12 3-12 2-12-2-14-3-12-5-12-8-10-8-8-10-6-12-4-12-2-12 1-12 3-12 6-11 8-9 10-6 10-4 12-2 12 0 14 3 12 6 12 9 11 10 9 12 7 12 4 12 2 13-1zM2431 837l12-3 12-6 10-8 8-9 8-12 4-12 2-12-1-12-3-12-5-12-7-10-11-10-11-7-12-5-14-2-12 1-12 3-10 5-10 8-8 9-7 12-3 12-2 14 1 14 2 12 6 12 7 10 10 9 10 6 12 4 12 2 12-1z"/>
<path fill="#ffeb00" d="M2669 899l-837 0 1-871 836 1 0 870zM2094 223l11-4 11-6 9-8 8-10 6-12 3-12 2-12-1-14-3-12-6-12-7-11-10-9-10-6-12-4-12-2-12 1-12 3-12 6-11 8-9 10-7 12-5 12-2 12 1 14 4 14 6 12 9 10 10 9 12 6 12 4 14 2 13-1zM2432 223l13-4 12-6 10-8 8-10 7-12 4-12 2-12-1-14-4-12-6-12-8-11-10-8-12-7-12-4-14-2-12 1-12 4-10 5-10 8-8 10-6 12-4 14-1 12 1 14 3 14 6 12 8 10 9 8 10 6 12 4 12 1 13-1zM1914 531l13-3 12-6 11-7 9-10 7-10 5-12 2-12 0-14-2-12-5-12-7-10-10-10-12-8-12-5-14-3-12 0-12 2-12 6-10 7-8 10-7 11-4 12-2 14 0 14 2 12 5 12 8 12 8 8 10 7 12 5 12 2 13 0zM2604 531l13-3 10-5 10-8 8-9 6-11 4-12 3-14-1-14-3-14-5-12-7-10-9-10-10-6-12-5-12-1-12 0-12 3-12 5-11 8-10 10-7 12-5 12-2 12 0 14 3 12 6 12 8 11 10 9 12 8 12 4 12 2 13 0zM2084 839l13-2 11-4 10-6 9-9 8-11 5-12 3-12 1-14-2-14-4-12-7-12-8-10-10-8-10-5-12-3-12-1-14 2-12 5-12 7-10 9-8 10-6 12-3 12-1 14 2 12 4 12 8 12 9 10 11 8 12 6 12 3 13 1zM2422 839l13-2 12-4 12-7 11-9 7-10 6-12 4-12 1-14-2-14-5-12-7-12-9-9-10-8-12-6-12-3-14-1-12 2-12 4-10 7-9 8-7 11-6 13-3 12 0 14 1 12 4 12 6 12 8 10 9 8 11 5 12 4 13 1z"/>
<path fill="#fff200" d="M2669 899l-837 0 1-871 836 1 0 870zM2087 225l12-2 12-5 10-7 9-10 7-11 5-13 2-12 0-14-2-14-4-12-7-12-8-9-10-7-12-6-12-3-12 0-14 3-12 5-12 7-10 10-7 10-6 12-3 12-1 14 3 14 5 12 8 12 9 9 12 8 12 6 14 3 12 0zM2425 225l14-3 12-5 12-7 9-9 8-12 6-12 2-12 1-14-3-14-5-12-7-10-10-10-11-8-12-5-12-3-14-1-12 2-12 5-10 7-9 9-7 11-5 13-3 14 0 14 2 14 5 12 7 11 8 9 10 8 12 5 12 3 12 0zM1920 531l13-4 12-7 10-9 8-10 7-12 3-12 2-14-2-12-3-12-7-13-10-11-10-8-12-6-12-4-14-1-12 1-12 4-11 6-9 8-8 11-6 13-3 12-2 14 2 14 3 12 6 12 8 10 10 9 12 6 12 4 12 0 13-1zM2610 531l13-5 10-6 9-9 7-10 6-12 3-14 1-14-2-12-3-12-6-12-8-10-9-8-10-6-12-4-12-1-14 1-12 3-13 7-11 9-9 11-6 12-4 12-2 12 2 14 4 14 7 11 9 11 11 8 12 7 14 4 12 0 13-1zM2093 839l13-4 11-6 9-8 8-10 5-12 4-12 2-14-1-14-4-12-5-13-8-11-9-8-10-6-11-4-12-2-14 1-14 4-12 6-12 9-8 10-7 12-4 12-2 12 1 14 4 12 6 12 9 12 11 9 12 6 12 4 14 2 12-1zM2432 839l13-4 12-6 10-8 9-10 7-12 4-12 2-12-1-14-3-12-6-12-8-11-10-9-12-7-14-5-12-2-14 1-12 3-12 7-10 9-8 10-6 12-3 12-1 14 1 14 3 12 6 12 8 11 9 9 11 6 12 4 12 1 13-1z"/>
<path fill="#fff900" d="M2669 899l-837 0 1-871 836 1 0 870zM2094 225l13-4 10-6 10-9 8-10 6-13 3-12 2-14-2-14-3-13-6-13-8-10-9-8-11-7-12-4-12-1-14 1-14 5-12 6-12 10-8 10-7 12-3 12-2 12 1 14 5 14 6 11 9 11 11 9 12 7 14 4 12 1 13-1zM2433 225l12-4 12-6 12-9 9-11 7-12 3-12 2-12-1-14-3-12-7-12-8-11-10-9-12-7-14-5-14-2-12 1-12 3-12 7-10 8-8 11-6 12-4 14-1 14 1 14 4 13 6 12 8 11 9 8 11 6 12 4 12 1 14-1zM1915 533l14-4 12-5 12-9 9-10 7-12 5-12 2-12-1-14-3-14-6-12-9-12-10-8-12-8-12-4-14-2-12 0-12 3-12 6-10 7-8 10-7 12-5 14-1 14 0 14 4 14 5 12 7 10 9 9 10 7 12 4 12 2 14 0zM2606 533l11-3 12-6 10-8 8-9 6-12 5-14 2-14-1-14-3-12-5-13-8-11-8-9-10-6-12-5-12-2-14 0-14 4-12 5-12 9-9 10-8 12-4 12-2 12 0 14 4 14 5 12 8 10 10 10 12 7 14 5 14 2 13 0zM2086 841l13-2 12-5 10-7 10-10 7-12 5-12 2-12 0-14-2-14-4-12-6-12-9-10-10-8-11-5-12-3-14-1-14 3-12 4-12 8-11 10-8 12-5 12-3 12-1 14 3 14 5 12 8 11 10 10 12 9 12 5 12 2 13 1zM2424 841l13-2 14-6 12-7 9-9 9-12 5-12 3-12 1-14-3-14-5-12-7-12-10-10-12-8-12-6-12-2-14-1-12 2-12 5-12 8-8 9-7 11-5 13-3 13 0 14 2 14 4 12 7 12 9 10 11 8 10 4 12 3 13 1z"/>
<path fill="#f3fb00" d="M2669 899l-837 0 1-871 836 1 0 870zM2088 227l13-3 12-5 11-8 9-10 7-12 4-12 2-14 0-14-3-14-4-12-7-12-9-10-10-7-12-5-12-3-14 0-14 3-12 5-12 8-10 10-8 12-6 13-2 12-1 14 3 14 5 12 9 12 10 10 12 8 12 5 14 3 13 0zM2426 227l13-3 14-5 11-8 11-10 8-12 5-12 3-12 0-14-3-14-5-12-8-12-10-10-12-8-12-6-14-3-14 0-12 3-12 5-10 7-10 11-7 11-5 14-2 14 0 14 3 14 5 12 7 12 9 9 10 7 12 5 12 3 13 0zM1921 533l12-4 12-7 11-9 9-11 6-11 5-14 1-14-2-12-4-14-6-11-9-11-11-9-12-7-14-4-14-2-12 2-12 3-12 7-10 9-8 11-6 12-3 14-2 14 2 14 4 14 6 12 9 11 10 8 12 7 12 3 12 1 14-2zM2611 533l12-4 10-6 10-10 7-10 6-12 4-14 1-14-2-14-4-14-6-12-8-10-9-8-11-7-12-3-12-2-14 2-14 4-12 6-12 10-8 10-7 12-4 14-2 12 2 14 4 14 7 12 8 10 12 10 12 6 14 4 14 2 14-2zM2094 841l13-4 10-6 10-8 8-10 6-12 4-14 2-14-1-14-4-14-6-12-7-11-10-9-10-6-12-4-12-2-14 1-14 4-12 6-12 9-9 10-7 12-5 14-2 12 1 14 4 14 7 12 9 11 10 9 12 7 14 4 14 2 13-1zM2432 841l13-4 12-6 12-9 9-11 7-12 4-12 2-12-1-14-4-14-6-12-9-12-10-9-12-7-14-4-12-2-14 1-12 3-12 6-10 9-9 11-6 12-4 14-1 14 1 14 4 14 5 12 8 10 10 9 12 7 12 4 12 1 13-1z"/>
<path fill="#e3fb00" d="M2669 899l-837 0 1-870 836 0 0 870zM2095 227l13-4 11-7 10-9 8-11 6-13 4-14 0-14-1-14-3-12-6-12-8-11-10-9-12-7-12-4-12-1-14 1-14 4-12 7-12 9-9 11-7 12-4 14-2 12 1 14 4 14 7 12 10 12 10 8 12 7 14 4 14 2 14-1zM2433 227l14-4 12-7 11-9 9-10 7-12 5-14 1-12-1-14-4-14-6-12-10-12-10-9-12-7-14-4-14-2-14 1-12 4-12 6-10 9-8 11-6 13-4 14-1 14 1 14 4 14 6 12 8 11 10 9 12 6 12 4 12 1 14-1zM1916 535l13-4 14-6 10-8 10-10 7-12 5-12 3-14-1-14-3-14-6-12-9-12-10-10-12-7-14-5-12-2-14 0-12 3-12 5-10 8-10 11-7 13-5 14-1 14 0 14 3 14 6 12 8 12 10 10 10 6 12 5 14 2 13-1zM2606 535l13-3 12-7 10-8 8-10 7-12 4-14 2-14-1-14-3-14-6-12-7-12-10-9-10-7-12-4-12-2-14 0-14 3-12 6-12 8-10 11-8 12-5 12-2 14 0 14 3 14 6 12 9 12 11 10 12 7 14 5 14 3 13-1zM2088 843l13-3 12-5 10-7 9-9 7-12 6-14 2-14 0-14-2-14-4-12-7-12-9-10-10-8-12-6-12-3-14 0-14 3-12 4-13 8-11 10-8 12-6 12-3 14-1 14 3 14 5 12 8 12 10 10 12 9 12 5 14 3 15 1zM2425 843l14-3 14-5 12-8 10-10 8-12 6-12 2-12 1-14-3-14-4-12-8-12-10-11-12-9-12-5-14-4-14 0-12 2-12 4-10 7-10 10-8 12-6 14-3 14 0 14 2 14 5 14 7 12 9 10 10 7 12 6 12 3 14 0z"/>
<path fill="#d4fc00" d="M2669 899l-836 0 0-870 836 0 0 870zM2089 229l14-3 12-6 10-7 9-10 7-12 5-14 2-14 0-14-2-14-5-13-7-11-9-11-10-7-14-6-12-3-14 0-14 3-14 6-11 8-11 10-8 12-5 12-3 14-1 14 3 14 6 14 9 12 10 10 12 8 13 5 14 3 14 0zM2427 229l14-3 12-5 12-8 10-10 9-12 5-12 4-14 0-14-3-14-5-13-8-12-10-10-12-9-14-6-14-3-14 0-14 3-12 6-11 8-9 10-7 12-5 14-2 14 0 14 3 14 5 13 6 11 10 10 10 8 12 5 14 3 14 0zM1921 535l14-5 12-7 10-8 10-12 6-12 5-14 1-14-1-12-5-14-6-12-10-12-12-10-12-6-14-4-14-2-14 2-12 4-12 7-10 9-8 12-6 12-3 14-1 16 1 14 5 14 6 12 8 10 10 9 12 6 12 4 14 1 14-2zM2612 535l11-4 12-7 10-10 8-11 6-14 3-14 1-14-2-14-5-14-6-12-9-12-10-8-12-6-12-3-12-1-14 2-14 5-12 6-10 9-10 12-7 12-4 14-2 14 2 14 5 14 7 12 9 10 12 10 12 6 14 4 14 2 15-2zM2095 843l12-4 12-6 10-9 8-11 6-12 4-14 1-14-1-16-4-14-5-12-8-10-9-9-12-7-12-5-12-1-14 1-14 3-12 6-12 9-10 11-8 12-5 14-2 14 1 14 4 14 6 12 10 12 11 10 13 7 14 4 14 2 14-1zM2432 843l15-5 12-6 12-9 8-10 7-12 5-14 2-12-1-14-4-14-6-12-9-12-10-10-12-7-14-5-14-2-14 1-12 3-12 6-10 8-10 12-6 12-5 14-1 14 1 16 3 14 6 12 8 11 10 9 12 8 12 4 14 1 13-1z"/>
<path fill="#c4fd00" d="M2669 899l-836 0 0-870 836 0 0 870zM2096 229l13-4 12-7 10-10 8-11 5-12 4-14 1-16-1-14-4-14-6-12-9-12-9-8-11-6-12-4-14-2-14 1-14 4-13 7-11 9-10 11-7 12-5 14-2 14 1 14 4 14 7 12 9 12 12 10 13 7 14 5 14 1 15-1zM2433 229l14-4 14-8 10-8 10-11 7-13 4-12 2-14-1-14-4-14-6-12-9-12-12-10-13-8-14-4-14-2-14 1-14 4-12 7-10 9-8 11-6 12-4 14-1 14 1 16 4 14 6 13 8 11 10 9 12 7 12 4 14 1 14-1zM1916 537l15-4 12-6 12-9 10-11 8-12 4-12 3-14-1-14-3-14-7-14-9-12-11-10-12-7-14-5-14-3-14 1-14 4-12 6-9 8-9 10-7 14-5 14-1 14 1 16 3 14 5 12 8 11 10 10 12 7 12 5 14 2 13-1zM2607 537l14-4 11-6 11-9 8-10 6-11 4-14 2-14 0-16-3-14-6-14-7-10-10-11-12-7-12-5-12-2-14 1-14 3-14 7-12 8-10 11-8 13-5 12-3 14 1 14 3 14 7 14 9 12 11 10 13 7 14 5 14 3 14-1zM2089 845l14-3 11-5 11-8 9-10 7-12 6-14 2-14 0-14-2-14-5-14-7-12-9-10-11-9-12-5-12-3-14 0-14 2-14 6-14 9-10 10-9 12-5 12-3 14-1 14 3 14 6 14 8 12 10 10 11 8 14 6 14 3 16 1zM2426 845l13-3 14-5 12-8 12-11 8-12 6-13 3-14 0-14-3-14-6-14-8-12-10-10-12-8-14-6-14-3-14 0-14 3-12 5-12 9-8 9-8 13-4 12-3 16 0 14 3 14 5 14 7 12 9 10 11 8 12 5 14 3 13 0z"/>
<path fill="#b4fe00" d="M2669 899l-836 0 0-870 836 0 0 870zM2090 231l13-3 12-5 11-8 9-10 7-12 5-14 3-14 0-16-2-14-6-14-7-13-10-11-10-7-13-5-13-3-14 0-14 3-14 6-12 8-11 10-8 12-6 14-4 14 0 14 3 14 6 14 8 12 12 11 12 8 14 6 14 3 15 0zM2427 231l14-3 14-6 12-8 10-10 8-11 6-14 4-14 0-14-3-14-5-14-8-12-10-10-12-9-14-6-14-3-16-1-14 3-12 5-12 9-9 10-7 12-5 14-3 14 0 16 3 14 5 14 8 12 10 11 12 8 12 5 12 2 14 0zM1921 537l14-5 12-6 12-10 9-11 7-12 4-14 2-14-1-14-5-14-6-13-10-12-12-10-14-7-14-4-14-2-14 2-12 4-12 6-11 10-8 12-7 14-3 14-1 16 1 14 5 15 7 13 9 11 10 8 12 6 12 4 14 1 14-2zM2612 537l13-5 12-7 10-10 7-10 6-14 4-14 0-16-1-14-4-14-7-12-9-12-10-9-12-6-12-4-14-1-14 2-14 5-13 7-12 10-9 11-7 13-4 14-2 14 2 14 5 14 8 14 10 11 11 9 13 6 14 4 14 2 15-2zM2096 845l13-4 12-7 10-9 8-11 6-13 4-14 1-14-1-16-4-14-6-14-8-11-10-9-12-7-12-4-14-1-14 1-14 4-13 7-11 8-11 12-7 12-5 14-2 14 1 14 4 14 7 14 10 12 11 9 14 8 14 4 14 2 15-1zM2433 845l14-4 14-8 12-10 9-10 7-12 4-14 2-14-1-14-4-14-7-13-9-11-12-10-13-8-14-4-14-2-14 1-14 4-12 7-10 9-8 11-7 14-4 14-1 16 1 14 4 14 7 13 8 11 10 9 12 7 12 4 14 1 14-1z"/>
<path fill="#a5fe00" d="M2669 899l-836 0 0-870 836 0 0 870zM2096 231l13-4 12-7 10-9 9-12 7-14 3-14 1-16-1-14-4-14-7-14-8-11-10-9-12-7-12-4-14-1-14 1-14 4-14 7-12 10-10 11-7 13-5 14-2 14 1 14 4 14 8 14 9 12 12 9 14 8 14 5 16 1 13-1zM2433 231l14-4 14-8 12-9 9-11 7-12 5-14 2-14-1-14-4-14-7-14-10-12-11-10-14-8-14-4-14-2-14 1-14 4-12 7-10 8-9 12-7 14-4 14-1 14 1 16 4 14 6 14 9 12 11 9 12 7 12 4 14 1 14-1zM1916 539l15-4 13-6 13-10 9-10 8-12 5-14 3-14-1-14-3-14-7-14-8-12-12-11-12-7-15-6-15-3-14 1-14 4-12 6-10 8-10 12-7 14-5 14-1 14 1 16 3 14 6 14 9 12 10 10 12 7 12 4 14 2 13-1zM2608 539l13-4 12-6 10-8 10-12 6-12 4-14 2-14 0-16-3-14-6-14-8-12-10-10-11-8-12-4-14-3-14 1-14 3-14 7-12 8-12 12-7 12-6 14-3 14 1 14 3 14 7 14 9 12 12 11 14 9 14 5 14 2 15-1zM2089 847l14-3 12-5 11-8 9-10 8-12 5-14 3-14 0-16-2-14-5-14-7-13-10-11-10-8-12-5-14-4-14 0-14 2-14 6-14 9-11 10-9 12-6 14-3 14-1 14 3 14 5 14 8 12 12 12 12 8 14 6 16 4 14 0zM2426 847l15-3 14-6 12-8 11-11 9-12 6-14 3-14 0-14-3-14-6-14-8-12-10-11-12-8-14-6-14-4-16 0-14 3-12 5-12 8-10 11-7 12-5 14-3 14 0 16 3 14 5 14 7 12 10 11 11 9 13 5 14 3 13 0z"/>
<path fill="#95ff00" d="M2669 899l-836 0 0-870 836 0 0 870zM2091 233l14-3 12-6 12-9 8-10 8-13 5-15 2-14 0-16-3-14-5-14-8-12-9-10-12-9-12-5-14-3-14 0-14 3-14 6-13 8-11 11-9 13-7 14-3 14 0 14 3 14 6 14 8 12 12 12 14 9 14 6 14 3 16 0zM2427 233l14-3 14-6 14-9 10-10 8-12 7-14 3-14 0-16-3-14-6-14-9-13-12-11-12-8-14-6-16-3-14 0-14 3-12 6-12 9-9 11-8 14-5 14-2 14 1 16 2 14 6 14 7 12 10 10 12 8 12 5 14 3 14 0zM1921 539l14-5 14-7 11-10 10-12 7-12 4-14 2-14-1-14-4-14-8-14-10-12-11-10-14-7-14-5-16-2-14 2-14 4-12 7-10 9-9 12-6 14-4 14-1 16 1 16 4 14 7 14 10 12 10 8 12 7 14 4 14 1 14-2zM2613 539l14-5 11-7 10-10 8-12 6-14 4-16 0-16-2-14-4-14-6-12-9-11-11-9-11-7-14-4-14-1-14 2-14 4-14 8-12 10-10 12-7 14-5 14-1 14 2 14 4 14 8 14 11 12 12 9 14 7 14 4 16 2 14-2zM2096 847l13-4 12-7 11-9 9-12 6-14 4-14 1-16-1-15-4-15-6-12-9-12-11-10-12-7-12-4-14-1-14 1-14 4-14 7-13 10-10 12-8 14-4 14-2 14 1 14 5 14 7 14 10 12 12 9 14 8 14 4 14 2 15-1zM2433 847l14-4 14-7 12-10 10-11 8-14 4-14 2-14-1-14-4-14-7-14-10-12-12-10-14-8-14-4-14-2-14 1-14 4-12 6-10 9-10 12-6 13-4 15-2 16 1 16 4 14 7 14 8 11 10 9 12 7 14 5 14 1 14-1z"/>
<path fill="#83ff00" d="M2669 899l-836 0 0-870 836 0 0 870zM2097 233l14-5 12-7 10-9 8-11 7-14 4-14 1-16-1-16-4-14-7-14-8-12-10-9-12-7-14-5-14-1-14 1-14 4-14 7-13 10-10 12-9 14-4 14-2 14 1 14 5 16 8 14 10 12 12 10 14 7 14 5 16 1 14-1zM2433 233l14-4 14-7 12-9 10-12 9-14 4-14 2-14-1-14-4-14-7-14-9-12-12-11-14-8-14-5-16-2-14 1-14 4-12 6-10 9-10 12-7 14-4 14-2 16 1 16 4 14 6 14 8 12 12 11 12 6 14 5 14 1 14-1zM1916 541l15-4 13-6 13-9 10-11 8-12 6-14 3-14-1-16-3-14-6-14-9-13-12-11-14-9-14-5-16-3-14 1-14 3-12 6-12 10-9 11-7 13-5 15-2 16 1 16 4 16 6 13 8 12 10 10 12 7 12 4 14 3 15-1zM2608 541l13-4 13-6 11-9 9-11 7-14 4-14 2-14 0-16-4-16-6-14-8-12-10-10-12-8-12-4-14-3-14 1-14 3-15 7-13 9-11 11-8 12-6 14-2 14 0 16 3 14 6 14 10 13 12 11 14 9 14 5 16 3 15-1zM2090 849l13-3 13-5 11-8 10-11 8-13 5-14 3-14 0-16-3-16-5-14-7-12-9-11-12-9-12-6-14-3-14 0-16 3-14 6-13 8-11 10-9 12-7 14-3 14-1 16 3 16 6 14 9 12 11 12 13 8 14 6 16 4 15 0zM2426 849l15-3 14-6 14-9 10-10 9-12 6-14 4-14 0-16-3-14-6-14-8-13-11-11-13-9-14-6-14-4-16 0-14 3-14 6-11 8-10 10-7 12-6 16-3 14 0 16 3 16 5 14 7 12 10 10 12 9 12 6 14 3 15 0z"/>
<path fill="#71ff00" d="M2669 899l-836 0 0-870 836 0 0 870zM2091 235l14-3 14-7 11-8 9-11 7-13 5-14 3-16 0-16-4-16-5-14-8-13-10-10-12-8-12-5-14-3-14 0-16 4-14 6-14 9-10 10-10 14-6 14-3 14 0 16 4 14 6 14 9 13 12 12 14 8 14 6 16 3 14 0zM2427 235l16-4 14-6 12-8 12-12 9-12 6-14 3-14 0-16-4-16-6-14-9-12-11-11-14-9-14-6-16-3-14 0-14 3-13 6-11 8-10 12-8 13-5 15-3 16 1 16 3 16 6 14 7 12 10 10 11 8 14 6 14 2 14 0zM1921 541l14-5 14-7 12-10 10-12 8-14 4-14 2-14-1-14-4-14-8-14-9-12-12-11-14-8-16-5-16-2-14 2-14 4-12 7-11 9-9 13-6 13-5 16-1 16 2 16 3 14 7 14 9 12 11 10 12 6 14 4 16 2 14-2zM2613 541l14-5 12-7 10-10 8-12 7-14 3-16 1-16-2-16-4-14-7-14-10-12-10-8-12-7-14-4-14-1-14 2-14 4-14 8-13 10-10 12-8 14-4 14-2 14 2 16 4 14 8 14 10 12 13 10 14 8 16 4 16 2 14-2zM2097 849l14-5 12-7 11-10 9-12 6-14 4-14 1-16-1-16-4-14-7-14-9-12-10-10-12-6-14-5-14-1-14 1-14 4-14 7-13 10-11 12-8 14-5 14-2 14 1 16 4 14 8 14 10 12 12 10 14 8 16 5 16 2 14-1zM2433 849l16-5 13-7 13-10 10-12 7-12 5-14 2-14-1-16-4-14-7-14-10-13-12-10-14-8-14-5-16-2-14 1-14 4-12 6-11 9-10 12-7 14-4 16-2 16 1 16 5 16 6 12 8 12 12 11 12 6 14 5 14 1 14-1z"/>
<path fill="#5fff00" d="M2669 899l-836 0 0-423 3 15 6 14 7 12 10 10 10 7 12 6 14 3 14 1 14-3 14-4 14-8 12-10 9-12 8-14 4-14 2-14-1-14-4-14-7-14-10-12-11-10-13-8-15-6-14-2-14 0-14 3-12 5-12 8-9 10-8 12-6 14-3 15 0-423 836 0 0 427-3-15-5-14-8-14-9-10-11-9-12-6-14-3-14-1-16 3-14 5-14 8-12 11-9 12-8 14-4 14-1 14 2 14 4 14 8 14 10 12 12 10 14 8 14 5 14 2 14-1 14-3 12-6 12-9 10-12 6-12 5-14 3-15 0 427zM2097 235l14-4 12-7 10-9 10-13 6-13 5-16 1-16-1-16-5-16-6-14-10-12-10-10-12-6-14-5-14-1-14 1-14 4-14 7-13 10-11 12-9 14-5 14-2 14 1 16 5 16 7 14 10 12 13 11 14 7 16 6 16 1 14-1zM2433 235l16-5 14-7 12-10 10-11 8-13 5-14 2-14-1-16-3-14-7-14-10-13-13-11-13-8-16-6-16-2-14 1-14 4-14 7-11 10-9 12-7 14-4 16-2 16 2 16 4 16 7 13 9 13 11 9 12 7 14 4 14 1 14-1zM2090 851l15-3 12-6 12-8 10-11 8-14 5-14 3-14 0-16-3-16-5-14-6-12-10-12-12-9-12-6-14-4-16 0-16 3-14 5-14 9-12 12-9 12-7 14-3 14-1 16 3 16 6 14 10 14 11 11 14 9 14 6 16 4 15 0zM2426 851l15-3 14-6 14-9 12-11 9-13 6-14 4-14 0-16-3-16-6-14-9-12-11-12-14-9-14-6-14-4-16 0-14 2-14 6-12 9-10 10-8 14-5 14-3 16 0 16 2 16 6 15 8 13 10 11 12 9 12 5 14 3 15 0z"/>
<path fill="#4dff00" d="M2669 899l-836 0 0-417 4 14 6 13 8 11 10 10 12 8 12 4 14 3 14-1 14-3 14-5 12-8 12-10 9-11 7-14 5-14 1-14-1-14-4-14-7-14-10-12-11-10-13-9-14-5-14-3-14-1-14 3-12 4-12 8-10 10-8 11-6 13-4 14 0-417 836 0 0 419-4-15-6-13-8-12-10-10-12-7-12-5-14-3-14 1-14 3-14 5-14 9-11 10-9 12-8 14-4 14-1 14 2 14 4 14 8 14 9 11 12 11 12 7 14 5 16 3 14 0 14-3 12-5 11-7 10-10 8-12 6-14 3-13 0 419zM2091 237l14-3 14-6 12-9 10-12 8-14 4-14 3-16-1-16-3-16-5-14-8-13-10-11-12-9-12-5-14-3-16 0-16 4-14 6-14 9-12 12-10 14-6 14-3 14 0 16 4 16 7 14 8 12 12 12 14 9 16 6 16 3 14 0zM2427 237l16-4 14-6 14-9 11-11 10-14 6-14 3-14 0-16-4-16-6-14-8-12-13-12-13-9-14-6-16-4-16 0-14 3-14 6-12 9-9 11-9 14-5 14-2 16 0 16 3 16 6 16 8 13 10 11 11 8 13 5 14 3 16 0zM2097 851l14-4 13-8 11-10 9-12 6-14 5-16 1-16-2-16-3-14-7-14-8-12-11-11-12-7-14-5-14-1-16 1-16 5-14 7-14 11-10 12-8 14-5 14-2 14 1 16 5 16 8 14 10 12 13 11 14 7 16 5 16 2 14-1zM2433 851l14-4 14-7 12-9 12-13 8-13 6-14 2-14-1-16-4-16-7-14-10-14-12-10-14-8-16-6-16-2-14 1-14 3-14 8-12 10-8 11-7 13-5 16-2 16 2 18 4 16 6 14 9 12 11 10 12 7 14 5 14 1 16-1z"/>
<path fill="#3cff00" d="M2669 899l-836 0 0-413 5 15 6 12 9 11 10 9 12 7 12 4 14 2 14-1 14-3 14-6 13-9 11-10 9-12 6-12 5-14 1-14-1-14-4-14-7-14-9-12-11-10-13-9-14-6-14-3-14-1-14 2-12 4-12 7-10 9-9 11-6 12-5 15 0-413 836 0 0 415-4-14-7-13-9-12-10-9-12-7-12-5-14-2-14 1-14 3-14 6-14 9-10 10-10 12-7 14-4 14-1 14 2 14 4 14 6 12 10 12 12 11 12 8 14 6 14 3 14 1 14-2 12-5 12-7 10-8 8-11 7-14 5-15 0 415zM2098 237l15-5 12-7 11-10 8-12 7-14 4-16 2-18-2-16-4-14-6-14-9-12-11-11-12-7-14-4-14-2-16 1-16 5-14 7-14 11-10 11-9 15-5 14-2 14 1 16 5 16 7 14 11 13 12 11 14 8 16 5 16 2 17-1zM2433 237l16-5 14-7 13-10 11-12 8-14 5-14 2-14-1-16-4-16-7-14-11-14-12-10-14-8-16-6-16-2-16 1-14 4-13 7-11 10-9 12-7 14-5 16-2 16 2 18 4 16 7 14 8 12 12 10 12 7 14 5 14 1 16-1zM2090 853l15-3 14-6 12-9 9-10 8-14 5-14 3-16 0-18-2-16-6-14-7-13-10-12-12-9-12-5-14-4-16 0-16 3-15 6-13 8-13 12-10 14-7 14-3 14-1 16 3 16 6 14 9 14 12 12 14 9 16 7 16 4 15 0zM2425 853l16-3 16-7 14-9 11-11 10-14 6-14 4-14 0-16-3-16-6-14-10-14-12-12-14-9-14-6-16-4-16 0-14 3-14 6-12 9-10 11-8 14-6 16-2 16 0 16 3 16 5 14 8 13 10 11 12 9 12 5 14 4 16 0z"/>
<path fill="#2aff00" d="M2669 899l-836 0 0-289 4-7-2-4-2-2 0-107 5 13 7 13 9 11 11 8 12 7 12 3 14 2 14-1 14-4 14-6 12-8 11-11 9-12 6-12 5-14 1-14-1-14-4-14-7-14-8-11-12-11-12-9-14-6-14-4-14-1-14 2-12 3-12 7-10 8-10 11-7 13-5 13 0-107 3-2 1-4-4-7 0-289 836 0 0 289-4 7 1 4 3 2 0 109-6-15-6-12-10-12-10-8-12-6-12-4-14-2-14 1-14 4-14 6-13 9-11 10-9 12-7 14-4 14-1 14 2 14 4 14 6 12 9 12 10 10 14 9 14 6 14 4 14 1 14-2 12-4 12-6 10-8 10-12 7-12 5-15 0 109-3 2-1 4 1 4 3 3 0 289zM2092 239l15-4 14-6 12-10 9-10 8-14 5-16 3-16-1-16-3-16-6-16-9-14-9-10-12-8-13-6-14-3-16 0-16 4-16 6-14 10-11 11-10 14-6 14-4 16 0 16 4 16 6 14 10 14 13 12 14 9 16 6 16 3 15 0zM2426 239l17-4 14-6 14-9 12-11 10-14 6-14 4-16 0-16-4-16-6-14-10-14-12-12-14-9-14-6-16-4-16 0-14 3-14 6-12 8-11 12-8 14-5 15-3 17 0 16 3 16 5 16 9 14 10 11 12 8 14 6 14 3 15 0zM1926 163l4-4 0-4-3-4-6 0-4 4 0 4 4 4 5 0zM2580 163l4-4 0-4-3-4-6 0-4 4 0 4 4 4 5 0zM2160 303l3-4 0-5-4-5-4 0-4 4 0 6 4 4 5 0zM2346 303l3-2 2-6-2-4-4-2-5 2-2 6 3 6 5 0zM2068 469l2-6-2-4-5-1-6 3-1 4 3 4 4 1 5-1zM2443 469l2-6-3-4-5-1-5 3-1 4 2 4 6 1 4-1zM2158 639l5-4 0-4-2-5-4-1-4 2-3 6 3 5 5 1zM2347 639l3-4 1-4-4-5-4-1-4 2-1 6 3 5 6 1zM2098 853l15-5 12-7 11-10 9-12 7-14 4-16 2-16-1-16-4-16-6-14-9-12-11-12-12-7-14-5-14-2-16 1-16 4-15 7-13 10-12 12-9 14-5 14-3 16 1 16 4 16 8 15 10 13 14 12 14 8 16 5 16 2 17-1zM2432 853l17-5 14-7 13-10 11-12 8-14 6-16 2-14-1-16-4-16-8-14-11-14-12-10-14-8-16-6-16-2-16 1-14 4-13 7-11 9-10 13-7 14-5 16-1 16 1 18 4 16 6 14 8 12 12 11 12 7 14 5 16 2 15-1zM1928 777l3-4-2-6-6-2-4 2-2 4 2 5 4 2 5-1zM2582 777l3-4-2-6-6-2-4 2-2 4 2 5 4 2 5-1z"/>
<path fill="#1dff06" d="M2669 899l-836 0 0-285 6-5 2-6-2-7-6-4 0-99 5 14 8 12 9 10 10 8 12 6 14 4 14 1 14-2 14-4 14-6 12-9 11-10 8-12 6-12 5-14 1-14-1-14-4-14-7-14-9-12-10-10-12-9-14-6-14-4-14-2-14 1-14 4-11 6-11 8-9 10-7 12-6 14 0-99 6-4 2-7-2-6-6-5 0-285 836 0 0 284-6 5-2 7 2 8 6 3 0 100-5-13-7-12-10-11-10-8-12-7-14-4-14-1-14 2-14 4-14 6-12 8-11 11-9 12-7 14-4 14-1 14 2 14 4 14 7 14 9 11 11 11 13 8 14 6 14 4 14 1 14-2 12-3 12-7 10-8 10-11 7-12 5-13 0 100-6 3-3 8 3 7 6 5 0 284zM2098 239l15-5 12-7 12-10 9-12 7-15 4-17 2-18-2-16-4-16-7-14-9-13-11-9-13-8-14-5-14-1-16 1-16 5-14 7-14 10-12 13-8 14-5 14-3 16 1 16 4 16 9 16 10 12 14 12 16 9 16 5 16 1 15-1zM2433 239l16-5 14-7 13-10 11-12 9-14 6-14 2-16-1-16-4-16-7-14-11-14-12-11-16-9-16-6-16-2-16 1-14 4-14 7-11 10-9 12-8 15-5 17-1 16 1 18 4 16 7 14 9 14 11 9 14 8 14 5 14 1 16-1zM1927 167l4-2 3-4 1-8-7-6-9 0-6 6 0 8 6 5 8 1zM2581 167l4-2 3-4 0-8-6-6-9 0-6 6 0 8 6 5 8 1zM2162 307l5-6 0-8-6-7-8-1-6 6 0 8 6 7 4 2 5-1zM2347 307l6-6 2-8-4-7-8-1-4 2-4 4-1 8 1 4 4 4 8 0zM2070 473l4-4 1-4-3-8-9-4-8 4-3 6 2 8 7 3 9-1zM2445 473l3-4 1-4-2-8-8-4-6 1-4 3-3 6 3 8 8 4 8-2zM2160 643l6-6 1-8-3-6-7-3-8 5-3 10 5 7 4 2 5-1zM2349 643l5-6 1-5-2-5-6-6-8 0-5 6 1 10 6 6 8 0zM2091 855l14-3 14-6 12-8 10-11 8-14 6-16 3-16 0-18-3-16-5-16-7-12-11-12-11-9-14-7-14-3-16 0-16 3-16 6-14 9-12 11-10 14-7 14-4 16-1 16 3 16 7 16 9 14 12 12 15 10 16 6 16 4 16 0zM2425 855l16-3 16-7 14-9 12-11 10-14 7-14 4-16 0-16-3-16-6-14-9-14-13-13-14-9-16-7-16-4-16 0-14 3-14 6-12 8-11 12-8 14-6 14-3 16 0 18 2 16 6 16 8 14 10 11 12 9 14 7 14 3 16 0zM2583 781l6-7 0-5-2-4-8-4-8 2-5 6 1 8 8 5 8-1zM1929 781l5-4 1-4-2-8-8-4-8 2-5 6 2 8 7 5 8-1z"/>
<path fill="#19ff16" d="M2669 899l-315 0-9-3-8 3-32 0-141 0-9-3-7 3-315 0 0-281 8-7 3-10-3-8-8-5 0-92 6 14 8 12 10 10 10 7 12 6 12 3 14 1 14-2 14-4 14-6 12-9 12-11 8-12 6-12 5-14 1-14-1-14-4-14-7-14-8-12-10-10-12-9-14-7-14-4-14-2-14 1-14 3-12 6-11 8-10 10-7 12-6 13 0-92 8-5 3-8-3-10-8-7 0-281 314 0 8 3 9-3 173 0 8 3 6-1 3-2 315 0 0 281-9 7-3 10 4 9 8 4 0 93-6-14-8-12-10-10-10-8-12-6-14-3-14-1-14 2-14 4-14 7-12 9-10 10-9 12-7 14-4 14-1 14 2 14 4 14 6 12 9 12 12 12 12 8 14 6 14 4 14 2 14-1 12-3 12-6 11-8 9-10 8-12 6-14 0 93-8 4-4 9 3 10 9 7 0 281zM2092 241l15-3 14-7 12-9 10-11 8-14 6-16 2-16 0-18-3-16-5-15-8-14-10-11-12-9-14-7-14-3-16 0-16 3-16 6-15 10-13 12-10 14-7 14-3 16-1 16 3 16 7 16 10 14 12 12 15 10 16 6 16 4 17 0zM2426 241l15-3 16-6 14-9 13-12 10-14 7-14 4-16 0-16-3-16-7-16-9-14-12-12-13-9-16-8-18-4-16 0-14 3-14 5-12 9-12 12-8 14-6 16-3 16 0 18 3 16 5 16 8 14 11 12 12 9 14 6 16 3 15 0zM1931 169l4-3 3-5 1-6-3-6-5-4-4-2-6 0-6 3-4 4-2 5 2 8 8 6 6 1 6-1zM2584 169l5-4 3-4 0-6-1-5-4-4-6-3-6 0-6 2-4 4-2 5 0 5 2 5 8 6 11-1zM2161 311l4-2 4-4 1-6 0-6-3-6-4-4-6-2-4 0-4 2-4 5-2 5 1 6 3 6 4 4 10 2zM2345 311l5-2 4-4 4-10-3-10-8-4-6 1-5 3-4 6-1 6 1 6 3 5 4 2 6 1zM2068 477l7-4 2-4 1-6-1-4-3-4-5-4-6-1-6 2-8 7 0 10 3 4 5 3 6 2 5-1zM2443 477l6-4 3-4 0-10-3-4-6-4-6-1-6 2-7 7-1 4 1 6 3 4 6 4 10 0zM2158 647l9-6 3-10-3-10-8-4-6 1-4 3-4 6-2 6 1 6 3 4 6 4 5 0zM2348 647l5-2 3-4 2-6-1-6-3-6-5-4-4-2-6 1-4 2-3 5-1 10 3 6 4 4 5 2 5 0zM2098 855l15-5 12-6 12-11 9-12 8-16 4-16 2-16-2-18-4-16-7-16-9-12-11-10-12-8-14-4-14-2-16 1-16 4-16 8-14 10-12 13-9 14-6 16-2 14 1 16 4 16 8 16 11 14 13 10 16 10 16 5 16 2 17-1zM2432 855l17-5 14-7 14-10 12-14 9-14 5-14 2-16-1-16-4-16-7-14-11-14-13-11-16-10-16-5-16-2-16 1-14 4-14 7-12 10-9 12-8 16-5 16-1 16 1 18 4 16 7 16 9 12 12 11 12 8 14 4 16 2 15-1zM1927 785l6-3 4-4 2-5-1-6-7-8-6-1-6 1-8 6-2 4 0 6 7 8 5 2 6 0zM2580 785l6-2 4-4 2-4 0-6-3-6-4-3-6-2-6 0-5 3-4 4-1 4 0 6 6 8 6 2 5 0z"/>
<path fill="#15ff27" d="M2669 899l-312 0-4-4-6-2-8 2-5 4-166 0-5-4-8-2-6 1-5 5-311 0 0-279 6-3 4-4 3-12-3-10-4-4-6-1 0-87 6 13 8 11 9 10 11 7 12 6 14 3 14 1 14-2 14-4 14-7 12-9 11-11 9-12 6-12 4-14 1-14-1-14-4-14-7-14-8-12-11-11-12-9-14-7-14-4-14-2-14 1-14 3-12 6-10 7-10 10-8 11-6 13 0-86 6-2 4-4 3-10-4-12-9-7 0-279 310 0 6 5 6 1 8-2 5-4 165 0 6 4 8 2 6-2 5-4 311 0 0 278-6 4-4 4-4 12 1 6 3 5 4 3 6 2 0 87-6-13-8-12-10-10-10-7-12-6-14-3-14-1-14 2-14 4-14 7-12 9-11 11-9 12-7 14-4 14-1 14 1 14 5 14 6 12 8 12 12 11 12 9 14 7 14 4 14 2 14-1 14-3 12-6 10-7 10-10 8-12 6-13 0 87-6 2-4 3-4 11 3 12 5 4 6 4 0 278zM2099 241l14-4 14-8 12-11 9-13 7-16 4-16 1-18-1-16-4-16-8-16-9-12-11-11-14-7-14-5-14-1-16 1-16 5-16 8-14 11-12 13-8 14-6 16-2 16 1 16 5 16 9 16 11 13 13 11 17 9 16 4 16 2 16-1zM2433 241l16-5 16-8 14-11 11-12 8-14 6-16 2-14-1-16-4-16-8-16-11-14-13-11-16-9-16-6-16-2-16 1-14 4-14 7-12 10-10 13-8 15-4 16-2 18 1 18 4 16 7 16 10 13 12 11 12 7 14 5 16 1 16-1zM1932 171l6-4 3-6 0-6-2-7-6-5-6-2-8 0-6 3-5 5-2 6 3 10 4 4 6 3 6 1 7-2zM2585 171l6-4 4-6 0-6-2-6-6-6-6-2-8 0-6 2-4 4-3 6 0 6 2 6 5 5 6 2 6 1 6-2zM2164 313l5-4 3-4 1-6-1-8-4-6-5-5-6-2-6 1-6 4-3 4-1 6 1 8 3 6 6 4 6 3 7-1zM2347 313l6-3 4-5 4-12-2-7-4-5-4-2-6-1-6 2-6 5-3 6-2 8 3 8 4 4 6 3 6-1zM2070 479l6-4 4-6 1-6-2-6-6-6-6-3-8 0-6 3-4 4-3 6 0 6 2 6 9 6 6 1 7-1zM2445 479l6-4 4-6 0-8-2-6-5-4-7-3-6 0-7 3-4 4-3 6 0 6 2 5 4 4 6 3 6 1 6-1zM2161 649l9-8 2-6 1-7-2-7-4-4-4-2-6-1-7 3-5 5-4 7 0 8 2 6 6 5 6 2 6-1zM2352 649l5-4 3-6 1-6-2-7-4-6-6-4-6-2-6 1-5 4-3 6-1 8 2 6 4 6 5 3 6 2 7-1zM2091 857l16-3 14-7 12-8 10-12 8-14 6-16 3-16 0-18-3-16-5-16-8-14-11-13-12-9-14-6-14-3-16 0-16 3-16 6-16 10-12 12-11 14-7 16-4 16 0 16 4 16 7 16 9 14 13 12 15 10 16 6 16 4 16 0zM2425 857l16-3 16-7 14-8 14-13 10-14 7-15 4-16 0-16-3-16-7-16-10-14-12-12-13-9-16-8-18-4-16 0-16 3-13 6-13 9-10 11-9 14-6 16-3 16 0 18 3 18 6 16 8 14 11 12 12 9 14 6 14 3 16 0zM1929 787l6-3 5-5 1-6-1-8-3-5-6-3-6-2-8 2-6 4-3 4-2 6 1 6 4 5 6 4 6 2 6-1zM2583 787l6-3 4-5 2-6-1-8-5-6-6-3-6-1-7 2-5 3-4 5-1 6 1 6 4 6 4 3 6 1 8 0z"/>
<path fill="#11ff37" d="M2669 899l-309 0-5-6-8-3-8 2-8 7-161 0-7-7-8-2-8 3-6 6-308 0 0-276 6-3 5-5 3-6 2-8-1-6-3-6-6-5-6-1 0-82 7 14 8 12 11 9 10 7 12 5 14 2 14 1 14-3 14-4 14-8 12-8 10-11 9-12 6-12 4-14 1-14-1-14-4-14-7-14-8-12-10-11-12-8-14-8-14-4-14-3-14 1-14 2-12 5-12 8-10 10-8 11-6 13 0-82 6-1 6-5 3-6 1-6-2-8-3-6-5-5-6-3 0-276 308 0 6 6 8 3 8-2 8-7 159 0 7 6 10 3 8-3 6-6 308 0 0 276-6 3-5 5-4 6-1 8 0 6 4 6 6 5 6 1 0 83-6-13-9-12-9-9-12-8-12-5-14-3-14-1-14 3-14 4-14 7-12 9-11 11-8 12-7 14-4 14-1 14 1 14 5 14 7 14 9 12 11 11 12 8 14 7 14 4 14 2 14-1 14-3 12-6 10-7 10-10 8-11 6-13 0 83-6 1-6 5-4 6 0 6 1 8 3 6 6 5 6 3 0 276zM2093 243l16-4 14-6 12-10 10-12 8-14 5-16 3-16 0-18-3-16-6-16-8-14-11-13-12-9-14-6-14-3-16 0-16 3-16 6-16 10-13 12-10 14-8 16-4 16 0 16 3 16 7 16 9 14 14 13 16 11 16 6 18 4 16 0zM2426 243l17-4 16-6 15-10 12-12 10-14 7-16 4-16 0-16-3-16-7-16-10-14-13-12-15-11-16-6-18-4-16 0-16 4-14 6-12 9-10 12-8 14-6 16-3 18 0 18 3 16 6 16 8 14 12 12 12 9 14 6 16 3 15 0zM1926 175l8-2 5-4 4-6 1-8-2-6-5-7-8-3-8-1-7 3-6 4-3 6-1 8 2 6 5 6 8 3 7 1zM2579 175l8-2 7-6 3-6 0-8-3-6-5-5-8-3-8 0-6 2-6 5-4 7 0 6 2 6 5 6 7 3 8 1zM2165 315l6-4 3-6 1-8-2-8-4-7-6-5-8-2-6 2-6 4-4 6-1 8 2 8 5 6 6 5 8 2 6-1zM2349 315l6-4 5-6 2-6 1-8-2-6-4-6-6-3-6-1-8 3-6 6-4 8-1 9 3 8 6 5 6 2 8-1zM2071 481l8-6 4-6 0-8-2-6-6-6-8-3-8 0-7 3-5 4-3 6-1 8 2 6 6 6 6 3 8 0 6-1zM2447 481l6-4 4-6 1-8-2-8-6-6-7-3-8 0-8 3-5 4-3 6-1 8 2 6 5 5 6 3 8 1 8-1zM2163 651l5-4 4-6 3-7 0-7-2-7-4-5-6-3-6 0-8 3-6 6-4 8-1 8 3 8 6 5 8 3 8-2zM2354 651l5-4 3-6 1-8-2-8-6-8-6-4-8-1-6 2-6 5-2 6-1 8 3 8 4 6 6 4 8 2 7-2zM2099 857l14-4 14-8 12-11 9-13 8-16 4-16 1-16-1-18-4-16-7-16-9-12-11-11-12-8-14-5-16-2-16 1-16 4-16 7-14 10-13 14-9 14-6 16-3 16 1 16 4 16 8 16 11 14 14 12 15 9 18 6 18 2 16-1zM2432 857l17-5 16-8 14-11 11-12 9-14 6-16 2-16-1-16-4-16-7-14-11-14-13-12-16-10-16-5-18-3-16 1-14 3-14 7-12 10-10 13-8 16-5 16-2 18 1 18 4 16 7 16 9 14 12 11 14 8 14 4 16 2 15-1zM1931 789l7-4 5-6 1-8-1-6-4-6-8-5-8-1-8 2-6 4-4 6-1 8 1 6 5 6 7 4 8 1 6-1zM2583 789l8-4 5-6 2-6-2-8-4-6-7-4-8-2-9 2-6 4-4 6-1 8 2 6 4 5 6 4 8 2 6-1z"/>
<path fill="#0dff48" d="M2669 899l-306 0-6-8-10-3-10 3-9 8-155 0-8-8-10-3-10 3-7 8-305 0 0-274 6-3 6-5 4-8 2-8-2-8-3-6-5-4-8-3 0-76 6 12 8 11 10 9 12 8 12 5 14 2 14 1 14-3 14-4 14-7 12-9 10-10 9-12 7-14 4-14 1-14-1-14-4-14-6-14-8-11-10-11-12-9-14-8-14-5-16-3-14 1-14 2-12 5-12 8-10 9-8 11-6 12 0-76 8-3 5-4 4-6 1-8-2-8-4-8-6-5-6-3 0-274 305 0 7 8 10 3 10-3 8-8 155 0 9 8 10 3 10-3 6-8 306 0 0 274-6 2-6 6-5 8-2 8 2 8 3 6 6 5 8 2 0 77-6-12-9-12-9-9-12-8-12-5-14-2-14-1-14 3-14 4-14 7-12 9-12 12-8 12-7 14-4 14-1 14 1 14 5 14 7 14 8 12 11 10 12 9 14 7 14 4 14 3 14-1 14-2 12-5 12-8 9-9 9-12 6-12 0 77-8 2-6 5-3 6-2 8 2 8 4 8 7 6 6 2 0 274zM2100 243l15-5 12-7 12-10 10-14 7-16 5-16 1-18-1-18-4-16-8-16-8-12-12-12-14-8-14-4-16-2-16 1-16 5-16 8-14 10-13 14-9 14-6 16-2 16 1 18 5 16 9 16 11 14 14 11 16 9 16 5 18 2 17-1zM2433 243l16-5 16-8 14-10 12-13 10-16 5-16 2-16-1-16-4-16-9-16-12-14-13-12-16-8-16-6-18-2-16 1-14 4-14 8-12 10-10 13-8 16-5 18-1 18 2 18 4 16 7 16 9 12 12 11 14 8 14 5 16 1 16-1zM1927 177l8-2 7-6 4-8 0-8-3-8-6-5-8-3-8-1-8 3-7 6-4 6 0 8 3 8 6 6 8 3 8 1zM2579 177l10-3 6-5 4-8 0-8-2-6-6-7-8-3-10 0-8 2-6 6-3 6-1 8 3 8 5 5 8 4 8 1zM2167 317l6-5 3-7 1-10-3-8-5-8-6-4-8-2-8 2-6 5-4 7-1 8 3 9 4 7 8 5 8 2 8-1zM2349 317l7-4 5-6 3-8 1-8-2-8-4-5-6-4-8-1-8 3-8 7-4 8-1 10 3 8 6 7 8 2 8-1zM2071 483l8-5 5-7 2-8-3-8-6-7-8-4-10 0-8 3-6 5-4 7 0 8 2 6 4 6 8 4 8 1 8-1zM2447 483l8-5 5-7 1-8-3-8-5-7-8-4-10 0-9 3-7 6-3 6 0 8 2 6 5 6 8 4 8 1 8-1zM2157 655l8-3 6-5 4-8 2-8-1-8-3-7-6-5-6-1-8 1-8 5-6 8-3 9 1 8 4 8 8 5 8 1zM2349 655l8-3 6-7 2-8-1-8-3-8-8-8-8-3-8 0-6 4-5 7-2 8 1 8 4 8 6 6 8 4 6 0zM2092 859l15-3 14-6 13-9 10-12 9-14 6-16 3-18 0-18-3-18-6-16-8-14-11-12-11-9-14-6-16-4-16 0-18 4-16 6-14 9-14 13-11 15-7 16-4 16 0 16 3 16 7 16 10 14 14 13 16 11 16 6 16 4 17 0zM2425 859l18-4 16-6 15-10 13-12 10-14 7-16 4-16 0-16-3-16-7-16-11-16-12-12-14-10-16-7-18-4-16 0-16 3-14 6-12 8-11 12-9 14-6 16-3 18-1 18 3 18 6 16 7 14 12 13 12 9 14 6 16 4 16 0zM1931 791l8-4 6-8 2-8-2-8-5-6-7-4-8-2-10 2-8 5-4 7-2 6 2 8 4 6 8 5 8 2 8-1zM2584 791l8-4 5-6 3-8-1-8-6-8-8-5-10-1-8 2-6 4-5 8-1 8 1 6 4 6 7 5 8 2 9-1z"/>
<path fill="#0aff59" d="M2669 899l-304 0-7-10-11-3-12 3-9 10-151 0-8-9-12-4-6 0-6 3-7 10-303 0 0-272 8-4 6-6 4-8 2-8-1-8-5-8-6-5-8-2 0-72 7 13 9 11 10 9 12 7 12 4 14 3 14-1 14-2 14-5 14-8 12-9 10-10 9-13 6-12 4-14 1-14-1-14-4-14-6-14-9-12-10-11-12-9-14-8-14-5-14-2-14-1-14 3-12 4-12 7-10 9-9 11-7 13 0-72 8-2 6-4 4-7 2-8-2-10-4-8-6-6-8-4 0-272 303 0 7 10 6 3 6 0 12-4 8-9 151 0 9 10 12 3 11-3 8-10 303 0 0 272-8 4-7 6-4 8-2 10 2 8 5 7 6 4 8 2 0 73-8-14-8-11-10-9-12-7-12-4-14-3-14 1-14 2-14 5-14 7-12 9-11 12-9 12-6 14-4 14-1 14 1 14 4 14 7 14 9 11 10 11 12 9 14 7 14 5 14 2 14 1 14-3 12-4 12-7 10-9 9-11 7-14 0 73-8 2-7 5-5 8-1 8 3 10 4 7 6 5 8 4 0 272zM2094 245l15-3 14-7 12-9 11-13 8-14 6-16 3-18 0-18-4-18-5-16-9-14-10-12-12-9-14-6-16-4-16 0-18 4-16 6-16 10-13 13-10 14-8 16-4 16 0 18 4 16 7 16 10 14 14 14 16 10 16 6 18 4 17 0zM2426 245l17-4 16-6 15-10 13-12 10-14 8-16 4-18 0-16-3-16-7-16-10-15-14-13-16-11-16-6-18-4-16 0-16 3-14 7-12 9-11 12-9 16-6 16-3 18 1 18 3 18 6 16 8 14 11 12 12 8 14 7 16 3 17 0zM1925 179l10-2 8-6 5-8 1-8-3-8-5-7-8-4-10-2-8 2-8 5-6 8-2 8 2 8 6 7 8 5 10 2zM2577 179l10-2 9-6 5-8 1-8-3-8-6-7-8-4-10-2-10 3-6 4-5 8-2 8 2 8 6 8 7 4 10 2zM2167 319l6-4 5-8 1-10-3-10-5-9-8-5-8-2-8 1-7 5-5 8-1 10 3 9 6 9 8 5 8 2 8-1zM2349 319l8-5 6-7 3-8 1-8-2-8-4-6-8-5-8-1-10 3-7 7-5 10-1 10 3 9 6 7 8 3 10-1zM2071 485l8-4 7-8 2-10-3-8-6-8-9-4-11-1-9 3-7 6-4 8-1 8 3 7 5 7 8 4 9 1 8-1zM2448 485l9-6 5-8 1-10-3-8-6-6-9-5-10 0-10 4-6 5-5 8 0 8 3 8 6 6 8 4 8 1 9-1zM2159 657l8-4 6-6 4-7 2-9-1-8-4-8-5-5-8-2-10 2-8 5-7 10-2 10 2 10 5 7 8 5 10 0zM2351 657l8-4 6-7 2-9-1-10-5-9-8-7-10-3-8 1-6 4-5 8-2 8 2 10 4 8 7 7 8 3 8 0zM2100 859l15-5 13-7 11-10 10-14 8-16 4-16 2-18-1-18-4-16-7-16-9-14-11-11-14-8-14-5-16-2-16 1-18 5-16 7-14 11-12 12-10 16-7 16-2 16 0 16 5 16 8 16 12 15 14 13 16 9 18 6 18 2 17-1zM2432 859l17-5 16-8 14-10 12-13 10-16 6-16 2-16 0-16-5-16-8-16-11-14-14-12-16-10-16-5-18-3-16 1-16 4-14 7-12 10-10 13-8 15-5 18-2 18 1 18 4 18 8 16 9 14 11 10 14 8 14 5 16 2 17-1zM1932 793l9-5 6-7 2-8-2-10-6-8-7-4-9-2-10 2-8 5-6 7-2 8 2 8 4 6 8 6 10 3 9-1zM2583 793l9-4 7-7 3-9-1-8-5-8-9-6-10-2-10 2-8 5-5 7-2 8 2 8 5 8 6 4 10 3 8-1z"/>
<path fill="#06ff69" d="M2669 899l-301 0-3-6-6-6-12-4-12 4-6 5-5 7-147 0-10-12-12-4-6 1-7 3-5 5-4 7-300 0 0-270 9-4 7-8 4-8 2-10-2-8-4-8-8-6-8-1 0-67 7 12 9 11 10 8 12 7 12 4 14 3 14-1 14-2 14-5 14-7 12-10 10-10 9-12 7-14 4-14 1-14-1-14-3-14-7-14-8-12-10-11-12-9-14-8-14-5-16-3-14-1-14 3-12 4-12 7-10 8-9 11-7 12 0-67 8-1 8-6 4-8 2-8-2-10-4-8-8-8-8-4 0-270 300 0 4 7 5 5 7 3 6 1 12-4 6-6 4-6 147 0 5 7 6 5 12 4 6-1 6-3 6-6 3-6 301 0 0 270-9 4-7 7-5 9-2 10 2 10 5 6 8 6 8 1 0 68-8-13-8-10-10-9-12-7-12-4-14-3-14 1-16 3-14 5-14 8-12 9-10 11-9 12-6 14-4 14-1 14 1 14 4 14 7 14 9 12 11 11 12 9 14 7 14 5 14 2 14 1 14-3 12-4 12-7 10-9 8-10 8-13 0 68-8 1-8 6-5 8-2 8 2 10 5 9 7 7 9 4 0 270zM2101 245l14-5 14-7 12-11 10-15 7-16 5-18 1-18-2-18-4-16-8-16-9-14-12-10-14-8-14-5-16-1-16 1-18 6-16 8-15 11-12 14-10 16-5 16-2 16 1 16 6 18 9 16 12 14 14 11 16 9 18 5 18 2 16-1zM2433 245l16-5 16-8 14-10 13-13 10-16 6-16 3-16-1-16-4-16-9-17-12-15-14-12-16-10-16-5-18-3-18 1-16 4-14 8-12 11-10 14-8 16-4 18-2 18 2 18 4 16 7 16 10 14 11 10 14 9 14 4 16 2 18-1zM1935 179l9-6 6-8 1-10-3-10-7-8-10-4-12 0-10 4-7 6-4 8-1 8 4 9 6 7 8 4 10 2 10-2zM2587 179l10-6 5-8 2-10-3-9-8-9-10-4-12 0-10 4-6 6-4 8-1 10 4 8 5 6 8 4 10 2 10-2zM2168 321l7-5 5-9 1-10-4-12-6-9-8-6-10-2-8 3-8 6-4 8-1 10 3 10 6 8 8 6 10 3 9-1zM2349 321l10-6 6-8 3-8 1-10-3-8-5-8-8-4-8 0-10 3-8 8-5 9-1 12 2 10 7 8 9 3 10-1zM2071 487l10-5 6-7 3-10-2-10-7-9-10-5-10-1-11 3-8 6-5 8-1 10 3 8 6 7 8 5 8 1 10-1zM2448 487l9-5 7-9 1-10-3-10-7-8-8-4-12-1-10 4-7 5-5 8-1 10 3 8 6 7 8 4 10 2 9-1zM2160 659l8-4 7-7 4-9 2-10-2-10-4-7-6-4-8-2-10 2-10 7-7 10-2 10 3 12 6 8 8 4 11 0zM2353 659l8-4 6-8 2-10-2-10-5-10-7-7-10-4-10 1-7 4-6 8-1 10 2 12 4 8 8 7 8 3 10 0zM2093 861l16-3 14-7 14-10 10-12 9-16 5-16 3-18 0-18-4-18-6-16-8-14-11-13-12-9-14-6-16-3-16 0-18 4-16 6-16 10-14 13-10 14-8 16-4 16 0 18 3 16 7 16 11 16 13 12 16 11 16 7 18 4 18 0zM2425 861l18-4 16-6 15-10 13-12 11-14 8-16 4-16 0-18-3-16-6-16-11-16-13-13-16-11-16-7-18-4-18 0-16 3-14 6-13 10-11 12-8 14-6 18-4 18 1 18 3 18 6 17 9 15 11 12 12 9 14 6 16 3 16 0zM1931 795l10-4 7-8 3-10-2-10-5-8-9-6-10-2-10 2-8 4-7 8-3 8 2 10 5 8 7 5 10 3 10 0zM2583 795l10-4 8-8 3-8-1-10-5-8-9-7-10-2-12 1-8 4-6 8-3 8 1 10 5 8 7 5 10 3 10 0z"/>
<path fill="#02ff7a" d="M2669 899l-299 0-4-8-5-6-6-3-8-1-8 2-6 3-6 6-5 7-143 0-5-8-7-6-6-3-8-1-8 2-6 4-5 6-3 6-298 0 0-268 10-5 7-7 5-10 2-10-2-10-5-8-7-5-10-2 0-63 7 12 9 10 10 9 12 7 12 4 14 2 14-1 16-3 14-5 14-8 12-9 10-10 8-12 7-14 4-14 2-14-2-14-3-14-7-14-8-12-11-12-12-9-14-8-14-5-16-3-14-1-14 2-12 4-12 7-10 9-9 10-7 12 0-63 10-2 7-5 5-8 2-10-2-10-5-10-9-8-8-4 0-268 298 0 3 6 5 6 6 4 8 2 8-1 8-4 6-6 4-7 143 0 5 7 6 6 6 3 8 2 8-1 6-3 5-6 4-8 299 0 0 268-10 5-7 7-6 10-1 10 1 10 5 8 8 5 10 2 0 64-8-13-8-10-10-9-12-6-12-5-14-2-14 1-16 3-14 5-14 7-12 10-12 12-8 12-6 14-4 14-1 14 1 14 4 14 7 14 9 12 10 10 12 10 14 7 14 5 16 3 14 1 14-2 12-5 12-6 10-9 8-10 8-13 0 64-10 2-8 5-5 8-1 10 1 10 5 10 8 7 10 5 0 268zM2095 247l16-4 14-6 12-10 11-12 8-16 6-16 3-18-1-20-3-18-6-16-9-14-11-13-12-9-14-6-16-3-16 0-18 4-16 6-16 10-14 13-12 16-7 16-4 16 0 18 4 18 8 16 11 15 14 13 15 10 17 6 18 4 18 0zM2426 247l17-4 18-7 16-11 13-12 10-14 7-16 4-18 0-16-4-18-7-16-11-16-14-12-15-10-17-7-18-4-18 0-16 4-14 6-12 9-12 14-8 15-6 17-2 18 0 20 4 18 6 16 8 14 12 13 12 8 14 6 16 3 17 0zM1935 181l10-6 6-8 2-12-3-10-7-8-10-5-12-1-12 4-8 7-5 9 0 10 3 7 6 7 10 6 10 1 10-1zM2586 181l11-6 6-8 3-10-3-12-8-8-10-5-12-1-12 4-8 7-5 9 0 10 3 8 6 7 9 5 11 1 9-1zM2168 323l8-6 5-8 1-12-3-12-6-10-8-6-10-3-10 2-8 6-5 9-2 10 3 12 7 10 9 6 10 3 9-1zM2349 323l8-4 8-9 4-9 2-10-2-10-6-8-6-5-10-2-10 3-10 8-7 12-1 12 3 12 7 8 10 3 10-1zM2070 489l11-5 8-9 3-10-2-10-7-9-10-6-12-2-12 3-8 6-6 8-1 8 1 10 5 8 9 6 10 3 11-1zM2447 489l10-5 8-9 3-10-2-10-5-8-10-7-12-2-12 3-10 6-5 8-2 8 1 10 6 8 9 6 11 3 10-1zM2160 661l9-5 7-7 5-10 1-10-1-10-5-8-7-6-8-1-12 3-10 8-6 10-3 12 3 11 7 9 9 4 11 0zM2354 661l9-5 6-9 2-10-2-12-6-10-10-8-10-3-10 1-8 6-4 8-2 10 2 12 6 10 8 7 10 4 9-1zM2101 861l16-5 14-9 11-10 10-14 7-16 5-18 1-18-2-18-4-16-7-16-9-14-12-12-14-8-14-5-16-1-16 1-18 5-16 7-15 11-13 14-11 16-6 16-2 16 1 18 5 18 9 16 11 14 15 12 16 9 18 6 18 2 18-1zM2432 861l19-6 16-8 14-10 13-14 9-16 6-16 3-16-1-16-5-16-8-16-11-15-16-13-16-10-16-5-18-3-18 1-16 4-14 8-12 10-10 14-8 15-5 18-2 18 2 20 4 18 7 16 10 13 12 12 14 8 14 4 16 2 17-1zM1930 797l11-4 8-8 4-10-1-10-5-10-8-6-10-3-12 1-10 4-8 8-3 8 0 10 5 9 8 7 10 4 11 0zM2581 797l12-4 8-7 4-9 0-10-4-10-8-7-12-4-12 1-10 4-6 6-5 10 0 10 5 9 7 7 11 4 10 0z"/>
<path fill="#00ff8b" d="M2669 899l-297 0-3-8-5-6-7-4-8-2-8 1-8 4-8 7-4 8-140 0-5-8-7-7-8-4-8-1-8 1-8 5-5 6-3 8-296 0 0-266 10-5 8-8 5-9 2-12-1-11-6-9-8-6-10-2 0-58 7 12 9 10 10 8 12 7 12 4 14 2 14-1 16-3 14-5 14-8 12-9 11-11 8-12 7-14 4-14 2-14-1-14-4-14-7-14-8-12-10-11-12-10-14-8-14-6-14-3-14-1-14 1-14 4-12 6-10 8-10 11-8 13 0-58 10-2 8-6 5-8 2-10-1-12-5-10-9-9-10-5 0-266 296 0 3 8 5 6 8 5 8 1 8-1 8-4 7-7 5-8 139 0 5 8 8 7 8 4 8 1 8-2 7-4 5-6 3-8 297 0 0 266-10 5-9 9-5 10-2 12 2 10 6 9 8 5 10 2 0 59-8-13-9-10-11-9-12-7-12-3-14-2-16 1-14 3-14 6-14 8-12 9-11 12-8 12-7 14-3 14-2 14 2 14 4 14 7 14 8 12 12 12 12 9 14 7 14 5 16 3 14 1 14-2 12-4 12-7 10-8 8-10 8-13 0 59-10 2-9 6-5 8-2 12 2 12 6 10 8 7 10 5 0 266zM2102 247l15-5 14-8 12-11 10-14 7-16 4-18 2-20-2-18-5-18-7-16-9-13-12-11-12-7-16-6-16-1-18 1-18 5-16 8-15 12-13 14-10 16-6 16-3 18 2 16 5 18 9 16 12 14 15 12 16 9 18 6 18 2 19-1zM2433 247l18-6 16-8 14-10 13-14 10-16 6-16 3-18-1-16-6-18-9-16-11-14-15-13-16-9-18-6-18-2-18 1-16 5-14 8-12 11-10 14-8 17-4 18-2 20 2 18 5 18 8 16 9 12 12 11 14 8 14 5 16 1 18-1zM1934 183l11-5 8-10 3-11-3-12-8-10-10-5-12-1-13 4-9 6-5 8-3 10 3 10 6 8 9 6 12 3 11-1zM2585 183l12-6 7-8 4-10-2-12-8-10-11-6-14-2-12 4-8 6-6 8-1 10 2 10 5 8 10 6 10 3 12-1zM2169 325l8-6 6-10 1-12-3-12-6-10-10-8-10-3-10 1-9 6-6 10-1 10 2 12 6 11 10 8 12 4 10-1zM2349 325l10-6 7-8 5-10 2-12-3-10-5-8-8-5-10-2-11 3-10 8-7 12-2 14 3 12 7 9 10 4 12-1zM2068 491l11-4 10-9 4-11-1-10-6-10-9-7-12-3-14 1-10 6-7 9-3 10 2 10 6 9 8 6 10 3 11 0zM2446 491l13-6 7-8 4-10-2-12-7-10-9-6-13-2-12 2-10 6-6 8-3 10 1 10 6 8 10 7 10 3 11 0zM2161 663l8-4 8-8 5-10 2-12-1-10-6-10-8-6-8-1-12 3-10 7-7 11-3 14 2 12 7 10 11 5 12-1zM2356 663l9-6 6-9 2-11-3-12-5-10-10-9-12-4-10 1-9 6-5 10-2 12 3 12 6 10 9 7 10 4 11-1zM2095 863l16-4 14-6 12-9 11-13 9-16 5-16 3-18 0-20-3-18-6-16-9-16-10-12-12-9-14-6-16-4-18 0-18 4-16 6-16 10-15 13-11 16-8 16-4 16 0 18 4 18 7 16 11 16 14 13 16 10 18 7 18 4 18 0zM2425 863l18-4 18-7 16-11 13-12 11-16 8-16 3-16 0-18-4-18-7-16-12-16-13-12-15-10-18-7-18-4-18 0-16 3-14 7-12 9-12 14-9 16-5 16-3 18 0 20 3 18 6 16 10 16 10 12 14 9 14 6 16 3 16 0zM1927 799l12-3 10-7 6-10 1-10-4-10-7-9-10-5-12-1-11 3-10 6-7 10-2 10 3 10 9 9 10 5 12 2zM2577 799l14-3 9-7 7-10 1-10-4-10-7-8-12-6-12-1-11 3-9 6-6 10-1 10 2 10 7 8 10 6 12 2z"/>
<path fill="#00ff9e" d="M2669 899l-295 0-3-9-6-7-8-5-8-1-10 1-8 5-8 8-4 8-137 0-5-10-7-6-9-5-8-1-8 1-9 5-5 6-4 10-294 0 0-264 10-5 9-9 7-12 1-12-1-10-7-10-9-6-10-2 0-54 8 13 10 11 10 7 12 6 14 4 14 1 14-1 14-3 14-6 14-8 12-9 10-11 9-12 6-14 4-14 2-14-1-14-4-14-7-14-8-12-11-12-12-10-14-8-14-6-14-3-14-1-14 1-14 4-12 6-10 7-10 11-8 13 0-54 10-2 10-6 6-10 1-10-2-12-6-12-9-9-10-5 0-264 294 0 3 8 6 8 7 4 10 2 10-2 8-4 6-6 5-10 137 0 6 10 6 6 8 5 10 1 8-1 8-5 6-7 3-9 295 0 0 264-10 5-10 9-6 12-2 12 2 12 6 8 10 7 10 1 0 54-8-12-10-11-10-8-12-6-12-3-14-2-14 1-16 3-14 6-15 8-12 10-11 12-8 12-7 14-4 14-1 14 2 14 4 14 7 14 8 12 11 11 12 10 14 7 14 6 14 3 14 1 14-1 14-4 12-6 10-8 10-11 8-12 0 54-10 1-10 7-6 9-2 11 2 12 6 12 10 9 10 5 0 264zM2097 249l16-4 14-7 12-9 11-14 9-16 5-18 3-18-1-20-4-18-7-18-9-14-11-12-14-10-14-5-16-2-16 0-18 4-18 8-16 11-13 12-11 16-8 16-3 16 0 18 4 18 7 16 12 16 14 13 16 10 18 7 20 4 18 0zM2427 249l18-4 18-8 16-11 13-13 11-16 7-16 4-16 0-18-4-16-9-18-12-16-13-12-17-11-18-7-18-3-18 0-16 4-14 7-13 10-11 14-9 16-5 18-2 18 0 20 4 18 7 18 9 14 12 12 14 9 14 5 16 2 16 0zM1933 185l12-5 9-9 4-12-2-12-6-10-11-7-14-2-14 3-10 6-7 10-2 10 2 10 7 9 10 7 12 2 10 0zM2583 185l14-6 8-8 4-10-1-12-6-10-11-8-14-3-14 2-10 6-7 9-3 10 2 12 6 8 10 8 10 2 12 0zM2169 327l9-6 6-10 2-12-3-14-8-12-10-8-12-3-10 2-10 7-5 10-1 12 3 12 7 11 10 8 12 4 10-1zM2348 327l11-6 8-8 5-10 3-12-2-10-5-10-9-7-10-2-12 2-11 9-7 12-3 14 2 14 7 9 10 5 13 0zM2065 493l14-4 10-8 5-10 1-12-5-10-9-9-12-4-14 0-12 4-8 7-5 10-1 12 4 10 8 8 12 5 12 1zM2444 493l13-4 9-8 5-10 1-12-4-10-9-9-12-4-14 0-12 4-10 9-5 10 0 10 5 10 8 8 12 5 13 1zM2161 665l10-5 8-9 4-10 3-12-2-12-5-9-8-6-10-2-12 3-12 9-8 13-2 14 2 12 8 10 12 5 12-1zM2357 665l10-7 6-9 2-12-4-14-8-12-10-8-12-3-10 2-9 7-5 10-1 12 3 13 7 11 9 8 12 3 10-1zM2102 863l15-5 14-8 12-11 10-14 7-16 5-18 2-18-2-20-4-18-7-16-10-14-11-11-14-9-14-4-16-2-18 1-18 5-18 8-16 12-13 14-10 16-6 16-3 16 1 18 6 18 8 16 13 15 15 13 17 9 18 6 20 2 17-1zM2432 863l19-6 16-8 14-10 13-14 11-16 6-16 3-16-1-18-5-18-9-16-12-16-14-12-16-9-18-6-20-3-18 1-16 4-14 8-12 11-10 14-8 18-5 18-2 20 2 18 5 18 7 16 10 14 11 10 14 9 14 4 18 2 17-1zM1937 799l12-7 7-11 2-12-4-12-9-9-12-5-14 0-12 4-9 8-6 10 0 10 3 10 8 8 10 5 12 2 12-1zM2587 799l12-7 8-9 3-12-3-11-8-10-12-6-14-1-14 3-8 7-6 10-2 12 4 10 6 8 10 5 12 2 12-1z"/>
<path fill="#00ffb1" d="M2669 899l-293 0-3-10-6-8-8-5-10-2-10 2-8 5-8 8-6 10-133 0-6-10-7-8-8-5-10-2-10 2-8 4-7 9-3 10-292 0 0-263 12-6 9-9 6-12 2-12-2-12-6-10-9-6-12-2 0-49 8 12 10 10 10 8 12 5 12 4 14 1 14-1 16-3 14-6 14-8 12-9 11-12 9-12 7-14 4-14 1-14-1-14-4-14-6-14-8-12-11-12-12-10-14-8-14-6-14-4-16-1-14 1-14 4-12 5-10 8-10 10-8 12 0-49 12-2 9-6 6-10 2-12-2-12-6-12-9-9-12-6 0-263 292 0 3 10 7 9 8 4 10 2 10-2 8-5 8-8 5-10 133 0 6 10 8 8 8 5 10 2 10-2 8-5 6-8 3-10 293 0 0 263-12 5-10 10-6 12-2 12 2 12 6 10 10 7 12 1 0 50-8-12-10-11-10-7-12-6-14-4-14-1-16 1-14 4-14 5-14 9-13 10-10 12-9 12-6 14-4 14-1 14 1 14 5 14 6 14 9 12 11 12 13 10 14 8 14 5 16 3 14 1 14-1 12-4 12-6 10-7 10-11 8-12 0 50-12 1-10 7-6 10-2 12 3 14 6 12 9 8 12 5 0 263zM2104 249l15-5 14-8 12-12 10-15 7-18 5-18 1-20-2-18-5-18-8-16-10-14-12-11-14-8-14-4-16-2-18 2-18 5-18 9-16 13-13 14-10 16-6 16-2 18 1 16 5 16 10 18 13 15 16 13 18 10 18 6 20 2 17-2zM2433 249l18-5 18-10 15-11 13-14 10-16 6-16 2-18-1-16-5-16-9-18-13-16-15-12-17-10-18-6-20-2-18 1-16 5-14 8-12 12-10 14-8 18-4 18-1 20 1 18 5 18 7 16 10 13 12 12 14 8 16 5 16 2 18-2zM1931 187l14-5 10-9 5-12 0-12-7-12-10-7-14-4-14 1-12 6-8 8-5 10 0 12 5 10 10 8 12 5 14 1zM2581 187l14-5 10-8 6-11 0-12-6-12-10-8-14-5-16 1-12 6-8 8-4 12 1 12 5 10 10 8 12 4 12 0zM2169 329l10-6 6-10 2-14-3-14-7-13-10-9-12-4-12 2-9 6-7 10-2 12 2 14 7 12 11 10 12 4 12 0zM2347 329l12-6 8-8 7-12 2-12-1-12-5-10-9-7-10-3-14 3-12 9-8 14-3 14 2 14 7 10 6 4 6 2 12 0zM2073 493l14-8 8-10 2-12-3-12-10-10-13-6-16-1-14 5-9 8-5 10 0 12 4 10 7 8 11 6 12 2 12-2zM2452 493l13-7 8-11 2-14-5-12-10-10-13-5-14 0-14 5-9 8-5 10-1 12 5 10 7 8 11 5 12 3 13-2zM2162 667l11-7 8-9 5-12 1-12-2-12-6-10-8-5-10-2-14 4-11 9-9 14-2 14 3 14 9 11 12 5 13-2zM2359 667l10-7 6-11 1-14-3-13-8-12-12-9-12-3-12 3-8 6-6 12-1 14 4 14 9 12 10 7 12 3 10-2zM2098 865l17-4 14-8 12-10 10-12 8-16 6-18 2-18 0-20-3-18-7-18-9-14-11-13-14-10-14-6-16-2-16 0-18 4-18 7-16 10-15 14-12 16-7 16-5 18 0 16 4 18 9 18 11 16 15 13 18 11 18 7 18 3 19 0zM2426 865l19-4 18-8 16-11 13-13 12-16 7-16 4-18 0-16-4-16-8-18-12-16-14-14-16-10-18-7-20-4-18 0-16 3-14 7-14 11-10 13-9 17-6 18-2 18 0 20 4 18 7 18 8 14 12 13 14 9 14 6 16 2 17 0zM1936 801l13-6 8-10 4-12-3-14-9-10-12-7-16-1-14 5-10 7-6 10-1 10 2 10 8 10 11 6 12 3 13-1zM2585 801l13-6 10-10 4-12-3-12-8-11-13-7-15-2-14 3-10 7-6 10-2 12 2 10 7 10 10 6 13 3 12-1z"/>
<path fill="#00ffc3" d="M2669 899l-291 0-3-12-6-8-8-5-10-3-10 2-10 5-9 9-6 12-130 0-7-12-8-8-10-6-10-2-10 2-9 6-6 8-3 12-290 0 0-261 12-6 10-9 7-14 2-14-2-12-7-11-10-7-12-1 0-44 8 12 10 10 12 8 12 5 14 4 14 0 14-1 14-4 14-6 14-8 12-9 11-12 9-14 7-14 3-14 2-12-2-14-3-14-7-14-10-14-10-12-12-9-14-8-14-6-16-4-14-1-14 1-14 3-10 5-12 8-10 10-8 12 0-44 12-1 10-7 6-9 3-14-2-14-7-14-10-9-12-6 0-261 290 0 3 12 6 8 9 6 10 2 10-2 10-6 8-8 7-12 130 0 6 12 9 9 10 5 10 2 10-3 8-5 7-10 2-10 291 0 0 261-12 5-10 10-8 14-2 14 3 14 7 10 10 6 12 1 0 45-8-12-10-11-10-7-12-6-14-3-14-1-14 1-16 4-14 5-14 9-12 9-11 12-10 14-6 14-4 14-1 14 1 14 4 14 7 14 8 12 12 12 12 9 14 9 14 5 14 4 16 1 14-1 14-3 12-6 10-7 10-11 8-12 0 45-12 1-10 6-7 10-3 14 2 14 8 14 10 10 12 5 0 261zM2100 251l15-4 14-7 13-11 11-14 9-18 5-18 2-18-1-20-4-18-8-18-9-15-12-13-12-8-16-5-16-3-16 1-18 4-18 8-17 11-14 14-12 16-8 18-3 18 0 16 5 18 9 18 13 16 15 13 18 10 18 7 20 3 17-1zM2427 251l20-5 16-7 16-11 14-13 12-16 7-16 4-18 0-18-4-18-8-16-12-16-16-14-17-11-18-7-20-3-18 0-16 4-16 8-12 11-10 13-9 17-5 18-2 20 1 20 4 18 7 18 10 15 12 12 12 8 16 6 16 2 16-1zM1939 187l14-8 9-12 1-14-4-12-10-10-16-6-16 0-14 6-9 8-5 10-1 12 4 10 9 9 12 7 14 2 12-2zM2588 187l13-7 9-11 3-14-3-12-11-11-14-6-16-1-16 6-9 8-6 12 0 12 5 10 8 8 12 6 12 2 13-2zM2169 331l10-6 8-12 2-14-4-16-8-14-10-8-14-4-12 1-10 8-6 11-2 14 3 14 8 12 11 10 12 4 12 0zM2346 331l11-5 11-9 7-12 3-14-1-14-6-10-8-7-10-3-14 2-12 8-10 14-4 16 2 16 7 12 11 6 13 0zM2072 495l15-8 9-10 3-14-3-12-11-12-14-6-16-1-14 5-10 8-6 10-1 12 3 10 7 10 11 6 14 3 13-1zM2451 495l14-7 10-11 3-14-4-12-9-11-14-7-16-1-15 5-10 8-6 10-2 12 3 10 9 10 11 6 14 3 12-1zM2156 671l11-4 10-8 7-12 4-14 0-14-5-12-8-7-10-4-14 2-13 9-10 12-5 16 1 16 7 12 12 7 13 1zM2356 671l11-5 8-11 3-14-2-14-7-14-12-11-14-5-12 1-10 6-6 11-2 14 2 14 8 14 10 9 12 5 11 0zM2105 865l16-5 12-8 12-11 11-16 7-18 4-18 2-20-3-20-5-18-7-16-11-15-12-11-14-7-14-4-16-2-18 2-18 5-18 9-16 12-13 15-10 16-7 16-3 18 2 16 5 18 10 18 14 16 15 12 17 9 20 6 20 3 18-2zM2433 865l18-6 18-9 15-11 13-14 10-16 7-16 3-16-1-18-6-18-8-16-13-16-16-14-18-10-18-6-20-3-18 2-16 4-14 8-12 12-11 15-8 18-4 18-1 20 2 20 4 18 8 16 10 14 12 12 14 8 16 4 16 2 18-2zM1935 803l14-6 10-10 4-12-2-14-8-12-12-7-16-3-16 4-12 8-7 10-2 12 2 10 8 10 11 7 12 3 14 0zM2583 803l15-6 11-10 4-12-2-14-9-12-13-7-16-3-14 3-11 7-7 10-3 12 2 12 7 10 10 7 12 3 14 0z"/>
<path fill="#00ffd6" d="M2669 899l-289 0-2-12-6-10-9-7-10-2-12 3-10 5-10 10-7 13-127 0-6-12-10-11-12-6-10-2-10 2-10 7-6 10-2 12-288 0 0-259 12-6 11-11 8-14 2-16-3-14-6-11-10-6-14-1 0-39 8 12 10 10 10 7 10 5 14 3 14 1 16-1 16-4 14-5 14-9 13-10 11-12 8-12 7-14 4-12 2-16-1-12-3-14-7-14-9-14-10-12-13-11-14-9-14-6-14-3-16-2-16 0-14 4-10 4-12 8-10 10-8 12 0-39 14-1 10-6 7-11 2-14-2-16-7-13-11-11-13-7 0-259 288 0 2 12 6 10 10 7 10 2 12-3 10-5 10-11 6-12 127 0 6 12 9 9 12 8 12 2 10-2 9-7 6-10 2-12 289 0 0 259-14 7-10 10-7 14-3 16 3 14 7 11 10 6 14 1 0 39-8-11-10-11-12-8-10-4-14-4-16 0-16 2-14 3-14 6-14 9-12 10-11 11-8 12-8 16-4 14-1 14 1 12 4 14 7 14 9 14 11 12 13 10 15 9 14 5 16 4 16 1 14-1 14-3 12-6 8-6 10-11 8-11 0 39-14 1-10 6-7 11-3 14 3 16 7 14 10 10 14 7 0 259zM2094 253l17-3 16-7 12-9 10-11 9-16 7-18 4-18 0-20-2-20-6-18-8-16-10-14-12-11-12-6-16-5-20-1-20 3-18 7-18 10-15 13-12 14-10 18-6 18-1 18 3 18 8 18 11 16 16 15 16 11 18 8 20 5 19 1zM2419 253l20-3 18-7 16-9 16-13 13-16 10-18 5-18 1-16-2-16-9-20-10-16-14-14-18-13-18-8-18-5-20-1-16 2-16 6-14 10-10 12-10 15-7 18-4 20 0 20 2 20 6 18 8 16 11 14 12 10 14 7 16 4 18 1zM1939 189l14-7 10-11 4-14-3-14-11-12-16-7-18-1-16 6-10 9-6 11-1 12 4 10 9 10 12 7 14 2 14-1zM2586 189l15-7 10-11 4-14-3-14-11-12-16-7-18-1-15 6-10 8-6 10-2 12 4 12 9 10 12 7 14 2 13-1zM2169 333l12-7 7-11 2-16-3-16-8-14-12-10-14-5-14 1-10 8-7 12-1 14 4 16 7 12 11 10 14 6 12 0zM2345 333l12-5 11-9 8-12 4-14 0-14-5-12-8-9-10-4-8 0-8 2-14 8-11 15-5 16 1 16 7 14 6 5 6 3 14 0zM2070 497l15-6 12-12 4-12-2-14-9-12-15-8-18-3-16 5-12 8-7 10-2 10 2 12 7 10 12 8 14 4 15 0zM2450 497l15-6 12-12 4-14-3-14-10-12-15-7-16-2-16 5-12 8-7 10-2 10 2 12 7 10 12 8 14 4 15 0zM2159 673l12-6 9-10 7-12 3-14-1-14-6-12-8-8-10-3-16 4-14 9-9 14-5 18 2 16 8 13 12 6 8 0 8-1zM2362 673l11-8 6-12 1-16-4-16-10-14-13-9-14-4-12 3-10 9-5 13 0 16 4 14 9 13 12 9 12 3 13-1zM2102 867l17-5 12-6 12-11 11-14 8-18 5-18 3-20-2-20-4-18-7-18-8-14-12-13-12-8-16-7-16-2-18 1-18 4-18 8-17 11-15 14-12 16-7 16-5 18 0 18 5 18 9 18 13 16 15 14 18 10 20 8 20 3 19-1zM2427 867l20-5 18-8 16-11 14-14 11-16 8-16 4-18 0-18-6-20-9-16-13-16-15-14-18-10-18-7-20-3-18 1-16 4-16 8-12 12-10 13-8 16-5 20-2 20 1 20 5 20 6 16 9 14 12 12 12 9 16 6 16 2 18-1zM1933 805l14-4 13-10 7-14-1-14-8-12-13-10-16-3-16 2-12 6-10 9-5 12 1 12 6 12 12 9 14 5 14 0zM2580 805l17-5 12-10 6-13-1-14-7-12-14-10-16-3-16 2-12 6-10 9-5 12 1 12 7 12 9 8 14 5 15 1z"/>
<path fill="#00ffe8" d="M2669 899l-286 0-4-22 8-10 22 2 20-1 20-6 18-8 18-13 15-16 10-16 9-21 12-3 16 14 14 6 12 2 12-1 14-6 11-9 7-12 0-12-4-10-8-10-12-7-12-3-14 0-12 3-12 7-12 10-12-2-8-18-11-18-14-16-17-13-18-9-20-6-20-1-24 2-8-9 3-16 0-12-2-12-5-11-7-9-10-8-11-5-10-2-12 4-8 7-6 12-1 16 4 16 8 14 15 12 19 8 3 10-1 4-12 18-8 18-6 20-1 18 1 22 6 22 8 18 13 18-3 12-1 2-16 5-10 7-10 11-6 13-124 0-5-10-7-10-12-9-18-7-5-12 13-20 8-18 6-20 2-22-3-22-5-20-9-18-12-18 3-12 20-8 14-12 9-14 4-16-2-16-6-12-9-8-12-3-10 2-10 5-10 8-7 10-5 12-2 12 3 26-7 8-26-1-18 1-20 6-18 9-16 12-15 15-12 20-7 18-12 3-14-12-10-6-12-3-14 0-14 3-11 7-8 10-4 10 1 12 6 12 12 9 14 6 14 1 14-3 13-7 13-12 12 3 7 19 11 18 15 16 17 12 20 10 20 5 18 1 23-2 8 10-3 22-286 0 0-257 10-5 8-6 7-8 6-10 4-20-3-24 8-9 24 2 20-2 20-6 20-10 16-13 13-14 10-16 9-20 12-3 12 11 12 7 14 3 14 0 14-5 10-7 7-10 3-12-2-12-7-10-11-9-14-5-14 0-14 3-12 7-12 11-12-3-9-20-10-16-15-16-16-12-20-10-20-5-20-2-22 3-7-8-1-2 3-24-4-20-6-10-7-8-8-6-10-5 0-257 286 0 3 22-8 10-23-2-18 1-20 5-20 10-16 12-15 16-12 18-7 19-12 3-14-12-12-7-14-3-14 1-14 6-12 9-6 12-1 12 4 10 8 10 11 7 14 3 14 0 12-3 9-5 15-13 12 3 8 20 11 18 15 15 16 12 18 9 20 6 18 1 26-1 7 8-3 18 0 10 2 12 5 10 7 10 10 8 10 5 10 2 12-3 10-8 5-12 1-16-4-16-8-14-14-12-20-8-3-10 1-4 13-18 8-18 5-20 2-20-2-22-6-20-7-16-14-22 3-10 20-9 12-9 7-10 5-10 123 0 7 13 10 11 10 7 17 7 3 12-13 18-8 18-6 22-1 22 2 20 5 20 8 16 13 20 0 2-3 10-21 9-13 11-8 14-4 16 1 16 5 12 9 7 12 4 10-2 10-4 9-7 8-10 6-12 2-12 0-12-2-16 7-8 26 1 18-1 20-6 18-9 16-12 14-15 11-16 9-22 12-2 14 12 10 5 12 3 14 0 14-4 10-6 9-10 3-10-1-12-6-12-11-9-14-6-12-1-12 2-14 6-16 14-12-3-9-21-10-16-16-16-17-13-18-8-20-6-18-1-24 2-8-10 4-22 286 0 0 257-10 4-8 6-8 9-6 10-4 20 3 24-1 2-7 8-23-3-20 2-20 6-20 10-16 12-14 15-11 18-7 18-12 3-13-11-11-7-14-3-14 0-14 5-12 9-7 10-2 12 3 12 8 10 10 7 14 5 14 0 14-3 12-7 12-11 12 3 7 18 11 18 15 16 17 12 18 9 20 6 20 2 22-3 8 8 1 4-3 12 0 12 5 20 6 10 7 7 8 6 10 4 0 257zM1833 403l0-33 8 3 4 12-12 18zM2669 404l-13-19 4-12 9-3 0 34zM1835 557l-2 1 0-33 12 18-4 12-6 2zM2669 558l-9-3-4-12 13-19 0 34z"/>
<path fill="#00fffb" d="M2669 899l-284 0 2-12 16-16 22-1 18-4 18-8 16-9 21-20 17-25 20-6 22 8 12 2 16-1 14-5 10-7 6-8 4-10 0-10-3-10-7-9-10-7-12-5-12-1-12 1-26 9-22-6-20-28-12-12-14-10-14-7-16-6-38-5-14-15-5-27-4-10-7-10-7-8-9-6-8-3-10-2-12 3-9 8-6 12-2 16 2 12 5 12 10 14 19 16 4 20-14 36-3 16-1 16 1 16 3 18 6 16 8 18-5 22-20 17-8 11-4 10-121 0-4-10-7-10-21-18-5-22 8-18 7-18 3-18 0-18-1-16-4-16-13-31 5-21 19-17 9-13 5-12 2-14-2-14-6-13-8-7-12-3-10 2-8 3-9 6-8 8-7 10-4 10-4 26-15 16-37 5-16 6-14 7-14 10-13 12-10 12-9 16-22 6-16-7-12-3-12 0-12 2-12 5-9 7-7 8-3 10 0 10 3 8 6 8 10 8 12 5 14 2 18-2 20-9 20 6 2 1 18 27 20 18 16 10 18 7 18 4 21 1 16 16 2 12-283 0 0-255 16-9 12-14 8-18 4-24 16-15 22-2 14-3 16-5 16-9 12-9 12-11 20-29 20-6 30 10 12 1 12-2 12-6 10-8 6-10 3-10-2-10-4-8-7-8-10-7-14-4-14-1-14 3-20 8-20-6-11-17-10-12-11-11-12-9-16-9-18-6-16-3-18 0-16-16-4-24-8-18-12-14-16-9 0-255 283 0-1 12-16 16-22 1-18 4-18 7-16 10-20 18-20 28-20 6-20-9-18-2-14 2-12 5-10 8-6 8-3 8 0 10 3 10 6 8 10 7 12 5 12 2 12 0 12-3 16-7 20 5 2 1 9 16 11 14 12 10 14 10 14 7 16 6 36 5 16 16 4 26 4 10 6 10 16 13 10 4 10 2 12-3 8-7 6-11 2-16-2-14-5-12-11-15-16-13-6-22 13-32 4-16 1-16 0-18-3-18-6-16-9-20 5-22 21-18 7-10 4-10 121 0 4 10 8 11 20 17 5 22-14 34-3 18-1 16 1 16 3 16 14 36-4 20-17 14-10 12-6 14-3 14 2 16 5 12 10 8 12 3 10-2 8-3 9-6 8-8 6-10 4-10 5-27 15-15 37-5 16-6 14-7 14-10 13-12 19-28 22-6 26 9 12 1 12-1 12-5 10-7 7-9 4-10-1-10-4-10-7-8-9-7-14-5-16-1-12 2-22 8-20-6-17-25-21-20-16-9-18-8-18-4-23-1-15-16-2-12 284 0 0 255-16 9-13 14-8 18-3 24-16 16-20 1-18 3-16 6-16 9-22 19-11 14-9 14-2 1-20 6-18-8-14-3-14 1-14 4-10 7-8 8-4 8-1 10 2 10 6 10 11 9 12 5 12 2 12-1 12-3 16-7 22 7 8 14 11 14 13 12 12 8 16 9 16 5 36 5 15 15 4 24 8 18 13 14 16 9 0 255zM2669 401l-2-4 2-8 0 12zM1833 400l0-10 1 7-1 3zM1833 538l0-10 1 5-1 5zM2669 539l-2-8 2-4 0 12z"/>
<path fill="#00eeff" d="M2663 899l-275 0 3-6 23-20 33-8 14-5 14-9 17-14 19-22 30-11 20 5 14 1 14-2 12-5 10-8 7-8 4-10 0-10-3-8-5-8-7-7-10-6-12-4-12-1-12 1-20 5-24-9-6-2-20-23-22-17-26-12-30-7-23-20-9-28-12-17-16-12-8-3-10-1-12 3-9 8-6 12-2 16 2 14 6 14 7 10 14 16 5 26 1 8-10 34-2 24 3 26 9 32-5 30-17 20-10 18-117 0-9-18-17-20-6-30 10-34 2-30-3-24-9-30 5-30 16-18 7-12 5-14 2-14-2-14-6-13-8-7-12-3-10 1-8 3-16 11-13 18-9 28-24 21-28 6-26 12-23 17-19 23-10 4-20 7-20-5-12-1-12 1-12 4-10 6-8 7-5 8-3 8 0 10 4 10 8 9 10 7 12 5 14 2 12-1 22-5 30 11 18 22 18 15 14 8 14 6 32 7 24 21 2 5-276 0-4-2 0-100 11-12 4-8 0-6-5-14-10-12 0-100 14-6 10-10 10-16 9-26 25-22 28-6 24-10 22-17 22-25 10-3 20-7 30 6 14-2 12-4 10-6 8-8 5-8 2-10-1-10-6-10-8-8-10-6-12-4-12-2-12 2-20 4-22-7-8-3-21-24-23-18-26-11-27-5-24-22-9-26-10-16-12-11-12-5 0-100 6-6 6-8 3-12-1-6-3-8-11-12 0-100 5-2 275 0-3 6-22 20-33 7-14 6-14 8-20 17-16 20-30 11-20-5-14-1-14 2-12 5-10 7-7 9-5 10 0 10 3 8 5 8 8 7 10 6 12 4 12 1 12-1 20-5 24 9 6 2 23 27 19 13 24 11 31 8 23 20 9 28 13 18 16 11 10 3 8 1 12-3 8-7 6-13 2-16-2-14-6-14-7-10-14-16-5-24-1-8 10-32 3-28-3-26-10-32 6-30 17-20 9-18 117 0 9 18 18 20 5 32-10 32-2 30 3 24 9 28 0 4-6 30-14 16-8 12-5 14-2 14 2 14 7 13 8 7 12 3 18-4 16-12 12-17 9-28 23-20 32-8 24-11 22-17 20-23 6-2 24-9 20 5 12 1 12-1 12-4 10-6 7-7 6-8 2-8 0-10-4-10-7-8-10-8-12-5-14-2-14 1-20 5-30-11-17-20-19-16-14-8-14-6-34-8-22-20-3-6 276 0 5 2 0 99-12 13-3 8-1 6 1 6 4 8 11 12 0 99-14 7-11 10-10 16-9 27-24 21-30 6-24 11-22 17-20 24-8 3-22 7-20-4-12-2-14 2-12 4-10 7-8 9-5 10-1 8 2 10 5 8 8 8 9 6 12 4 14 2 12-2 20-4 20 7 10 3 20 24 24 18 24 10 28 6 24 21 9 27 10 16 11 10 14 7 0 99-6 5-6 9-4 12 1 6 3 8 12 13 0 99-6 2zM2189 393l31-18 5-4 1-4-6-4-11-2-8 0-8 4-8 10-4 14 0 4 2 1 6-1zM2320 393l0-6-3-10-5-8-5-5-8-3-8 0-10 2-6 4 4 6 22 14 14 7 4 0 1-1zM2157 491l2-1 1-5 1-24-1-18-1-5-2-1-6 4-7 8-4 8-1 8 2 8 4 7 6 7 6 4zM2345 491l6-4 6-7 4-8 1-7-1-8-4-8-6-8-6-4-2 1-2 5-1 22 1 20 2 5 2 1zM2213 567l12-4 1-4-10-8-23-14-8-3-4 1 2 12 8 14 10 6 12 0zM2300 567l9-4 6-8 5-14 0-4-1-3-6 1-8 4-23 14-7 6 1 4 4 2 11 2 9 0z"/>
<path fill="#00d7ff" d="M2659 899l-266 0 32-26 26-8 22-11 15-11 19-19 38-15 22 3 12-1 12-2 12-5 11-9 8-10 4-10 0-8-4-8-5-8-9-8-9-6-20-5-14 0-18 2-14-4-28-13-20-19-20-14-18-8-24-7-30-26-14-28-12-16-16-10-18-4-10 2-8 6-7 12-3 14 1 16 3 14 7 12 13 20 6 40-6 28-1 18 1 26 7 28-4 26-3 16-14 20-7 16-115 0-6-15-15-21-6-42 6-30 1-26-1-16-6-28 6-40 19-30 4-14 1-12-2-16-6-14-7-7-12-3-10 2-10 3-16 11-12 16-12 26-31 26-23 7-18 8-20 13-22 22-26 10-14 5-20-3-14 1-18 5-17 12-6 8-4 10 0 10 4 10 9 10 10 7 12 5 12 2 34-2 38 15 19 19 15 11 22 11 25 8 32 26-267 0-8-4 0-83 21-29 4-12-5-12-20-28 0-83 12-6 12-10 10-15 11-24 31-26 28-9 16-8 19-13 19-19 28-12 12-4 22 2 12 0 20-6 10-6 9-9 6-10 2-8-2-10-6-10-8-8-11-7-20-6-12 0-22 2-12-4-28-12-18-18-20-14-18-8-24-7-32-27-12-25-10-15-12-10-12-6 0-83 20-28 5-12-4-12-21-29 0-83 9-4 266 0-31 26-28 8-22 12-14 11-18 18-38 15-34-2-12 2-12 5-12 9-8 10-3 10 0 8 4 10 6 8 16 12 21 5 12 1 20-3 12 4 30 13 20 20 20 13 16 7 24 8 32 26 13 28 13 16 16 10 18 4 10-2 8-6 6-12 3-14 0-16-4-14-7-12-13-20-6-40 6-28 2-18-2-24-6-30 3-26 3-16 15-21 7-15 114 0 7 16 14 20 7 42-7 30-1 26 2 18 5 26-5 40-20 30-4 14-1 14 2 16 6 12 8 7 12 3 18-4 16-10 13-16 13-28 31-26 23-7 18-8 20-14 20-20 30-12 12-4 18 2 14 0 20-5 16-12 6-8 5-10 0-8-4-10-8-10-11-9-12-5-12-2-12-1-22 3-38-15-20-19-14-11-20-10-28-9-32-26 266 0 10 4 0 82-22 30-4 12 5 12 21 29 0 82-12 6-12 10-11 15-11 25-33 27-23 6-18 9-19 13-21 20-26 11-14 5-20-3-12 0-20 6-12 7-8 8-6 10-2 8 2 8 5 10 9 10 10 6 20 7 14 0 20-3 14 5 26 11 21 20 19 13 16 8 27 9 31 25 11 25 11 15 12 10 12 6 0 82-21 29-5 12 4 12 22 30 0 82-10 4zM2306 575l5-2 6-6 23-50 30-44 2-8-3-10-27-40-10-18-13-33-8-9-12-2-34 4-16 1-46-5-12 2-8 8-15 36-8 16-28 40-3 10 3 8 27 40 9 16 15 36 8 8 12 2 34-4 18-1 51 5zM2253 555l-14-1-16-6-22-13-16-12-10-12-5-12-3-12-1-18 0-20 3-18 5-12 7-10 16-14 20-12 18-8 14-2 14 1 16 6 20 12 17 13 8 10 6 12 4 14 1 18 0 20-3 16-4 12-8 12-13 12-20 13-18 8-16 3z"/>
<path fill="#00c1ff" d="M1873 145l-4 1-4-2-8-7-13-14-11-18 0-70 12-6 255 0-33 26-34 15-32 24-48 21-28 0-20 4-16 10-16 16zM2271 351l-30 1-22-3-20-6-7-6 5-22 1-16-5-20-15-28-3-12-4-42 4-40-4-40 6-52 12-22 6-14 111 0 6 14 12 22 7 54-5 38 5 38-7 54-14 26-6 20-1 18 6 24-3 4-7 4-28 6zM2633 145l-4 0-17-16-15-9-20-5-28 0-48-21-32-24-35-15-33-26 255 0 13 6 0 69-20 29-10 9-6 3zM2117 453l-4-2-17-16-14-8-19-5-28 1-48-21-32-24-34-15-42-34-11-20-9-13-12-11-14-7 0-70 12-18 14-16 6-5 6-2 18 18 16 9 20 4 28 0 48 21 30 23 16 8 18 7 34 26 10 9 16 29 14 13 14 8 21 7 2 8-3 12-6 18-7 16-12 20-11 15-12 12-8 3zM2385 453l-8-3-10-10-12-15-11-18-8-16-8-20-3-14 2-8 22-7 14-8 13-13 17-30 8-7 36-27 18-7 16-8 30-23 48-21 28 0 20-4 15-9 17-17 6 0 8 6 14 16 12 19 0 69-14 7-12 11-10 13-10 20-43 34-33 15-14 9-16 14-50 22-28-1-20 5-16 9-18 17zM2261 549l-16 0-14-2-16-7-17-11-12-12-8-12-6-14-2-14-1-18 3-18 4-14 8-14 12-12 17-11 16-8 16-3 16 0 14 4 18 9 14 10 10 11 7 12 5 14 2 14 1 18-3 18-5 14-7 12-10 11-14 10-16 8-16 5zM1873 760l-6 0-10-8-13-15-11-17 0-70 14-7 12-11 8-11 12-22 43-34 31-14 14-9 18-15 14-7 36-15 28 1 18-4 16-9 18-18 6 1 8 6 19 23 16 30 10 28 2 10-1 6-3 2-23 7-14 9-13 14-15 27-42 33-18 7-16 8-30 23-38 17-12 4-32 0-18 6-14 9-14 15zM2635 760l-6 0-18-17-16-9-18-4-28 0-50-22-28-22-16-8-19-7-35-27-8-7-17-30-13-13-14-8-20-5-2-2-2-6 2-10 11-30 16-28 19-23 8-6 6-1 15 16 17 10 20 5 28-1 38 16 12 6 14 12 16 11 33 15 42 34 12 22 9 11 12 11 14 7 0 69-18 26-8 9-8 6zM2305 899l-110 0-6-14-12-20-6-52 4-40-1-18-3-18 1-18 5-40 15-26 5-18 1-20-6-24 5-5 8-4 28-5 34 0 30 5 8 4 4 5-5 22-1 18 5 18 15 28 3 12 5 44-5 38 1 18 4 20-7 56-12 20-6 14-1 0zM2099 899l-254 0-12-6 0-70 10-16 12-14 8-8 8-3 18 17 16 10 20 4 28 0 48 21 32 24 33 15 34 26-1 0zM2655 899l-254 0 34-26 34-15 32-24 48-21 28 0 20-5 14-8 16-16 4-2 8 4 8 7 12 16 10 15 0 69-14 6z"/>
<path fill="#00abff" d="M1877 135l-10 0-10-6-12-14-12-19 0-58 15-9 245 0-41 30-15 7-26 17-20 11-42 18-28 2-16 4-12 5-16 12zM2263 347l-24 0-16-2-13-4-8-6-3-6 1-24-2-16-5-14-11-24-7-62 1-76 6-52 15-32 107 0 16 34 6 54-1 42 1 22-2 36-5 34-11 24-5 14-2 16 1 26-5 6-8 5-12 3-14 2zM2635 135l-10 0-18-12-14-7-14-3-26-1-34-14-28-15-20-13-21-11-42-30 245 0 16 9 0 57-18 28-8 7-8 5zM2119 443l-8 0-18-13-14-6-16-3-24-2-42-18-66-38-24-17-26-21-23-32-11-10-14-8 0-57 10-17 10-13 12-9 10-2 18 13 12 6 16 4 28 1 50 22 14 8 18 13 21 11 33 23 22 18 14 23 12 13 12 8 19 11 4 8 0 10-4 12-5 14-12 21-9 13-9 9-10 5zM2389 443l-10-1-8-6-11-11-10-16-10-20-6-16-1-12 4-10 20-11 12-9 11-12 13-22 24-20 32-22 18-9 32-21 54-24 26-1 18-5 12-6 18-12 10 2 10 7 10 13 12 19 0 57-14 8-12 10-8 10-14 22-48 37-62 36-48 21-28 2-16 4-12 6-18 12zM2263 545l-16 1-14-2-16-7-14-9-13-11-8-12-6-14-3-14-1-18 3-16 4-14 8-14 12-12 14-10 16-7 14-4 16 1 14 3 14 6 14 10 10 9 8 12 6 14 3 14 1 16-2 16-4 14-7 14-11 12-12 9-14 8-16 5zM1877 750l-10 0-10-6-12-14-12-20 0-57 14-8 12-10 22-32 28-23 28-19 18-9 24-16 38-19 22-8 26-2 16-3 12-6 20-13 10 2 10 7 15 21 16 32 4 20-2 8-3 4-18 9-12 8-11 13-15 23-18 15-34 25-24 13-20 13-30 15-32 14-26 1-18 4-13 7-15 11zM2637 749l-10 2-20-14-12-5-16-4-26-1-40-17-22-12-18-12-26-14-26-18-26-21-22-32-14-12-21-10-4-10 1-14 6-18 14-26 12-15 12-10 10-1 20 13 12 6 16 3 26 2 18 7 38 18 24 16 21 11 29 19 28 23 22 32 12 10 14 8 0 57-16 25-8 9-8 5zM2303 899l-106 0-15-32-5-34-2-35 1-27-1-28 4-44 3-24 12-22 5-16 1-16-1-22 8-10 12-5 22-3 34 1 19 7 5 4 3 6-1 22 1 12 5 18 12 26 5 36 3 36-2 20 1 40-6 52-2 8-14 30-1 0zM2091 899l-243 0-15-9 0-58 12-19 10-12 10-7 10-2 18 13 12 5 16 4 28 2 42 18 64 37 38 28-2 0zM2653 899l-245 0 42-30 15-7 26-17 22-12 40-17 26-1 16-4 13-6 17-12 4-1 10 3 10 8 10 13 10 17 0 57-16 9z"/>
<path fill="#0094ff" d="M1875 129l-10-2-10-7-10-12-12-21 0-45 19-13 235 0-48 32-58 33-36 15-34 5-12 4-18 10-6 1zM2273 341l-16 2-24-1-14-4-9-5-7-10-3-34-13-34-7-60 0-78 6-58 13-30 104 0 12 30 5 40 2 44-1 54-4 44-2 14-14 34-4 36-8 10-16 6zM2627 129l-6-1-18-10-12-4-34-5-36-15-58-32-48-33 235 0 19 13 0 44-12 21-10 13-10 7-10 2zM2121 435l-12 1-28-13-14-4-24-2-36-16-34-17-40-25-26-18-26-21-22-29-10-9-16-10 0-45 18-30 12-10 6-2 8-1 30 14 14 3 22 3 16 6 38 17 46 27 32 21 32 26 22 29 27 21 4 6 2 8-3 18-13 26-13 18-12 8zM2395 435l-8 1-8-2-8-5-6-6-9-12-11-20-4-12-2-12 2-8 4-8 27-20 23-30 30-24 34-23 44-26 38-18 18-6 22-3 14-3 28-13 14 1 12 10 8 11 12 20 0 44-16 11-10 9-22 29-24 19-24 17-66 39-48 21-36 6-28 13zM2253 543l-14-1-14-4-16-9-12-9-9-11-7-14-5-14-1-14 1-16 3-14 7-14 9-12 12-11 14-8 14-5 14-2 14 1 14 4 14 8 14 11 9 12 7 12 3 12 2 16-1 16-3 14-6 14-9 12-12 11-14 8-14 5-14 2zM1879 743l-12 0-10-6-11-12-11-20-2-4 0-45 16-10 10-9 22-29 30-24 36-24 42-24 38-18 18-7 34-5 30-14 14 2 12 9 10 14 12 24 4 14 0 12-6 12-18 12-11 10-19 26-24 20-24 17-68 40-46 20-36 5-30 14zM2633 743l-12 0-18-10-14-5-32-4-38-16-30-16-40-24-28-20-26-21-22-29-28-21-5-10 0-12 4-14 13-24 10-14 12-9 14-2 28 14 14 3 22 2 18 7 38 18 44 25 34 23 30 24 22 29 10 9 16 11 0 44-18 29-8 8-10 5zM2301 899l-102 0-13-30-5-38-2-42 1-54 3-42 4-20 13-34 3-34 8-11 14-6 28-3 24 3 14 7 7 12 3 32 14 34 1 10 5 38 1 40-1 54-5 46-2 12-11 26-2 0zM2085 899l-234 0-18-13 0-45 12-21 10-12 12-8 12 0 26 12 14 4 25 3 39 16 62 35 41 29-1 0zM2649 899l-234 0 48-33 60-33 34-14 24-3 14-3 26-13 6-1 10 2 10 7 10 13 12 21 0 44-20 13z"/>
<path fill="#007eff" d="M1887 121l-6 1-10 0-12-5-12-14-14-26 0-26 7-10 15-12 225 0-47 31-56 31-38 16-28 5-24 9zM2269 337l-14 1-20 0-12-4-9-5-7-12-6-30-10-30-5-30-2-30-1-76 3-32 5-32 10-28 100 0 10 28 5 40 2 44-1 56-4 44-3 18-10 28-6 32-10 12-15 6zM2635 121l-16 1-28-10-29-5-23-9-54-28-36-22-28-19 225 0 15 12 6 8 2 4 0 21-6 13-10 18-8 10-10 6zM2119 429l-14 1-28-11-28-4-36-15-32-17-42-25-28-19-24-19-8-7-20-25-21-17-5-10 0-24 10-20 10-15 12-9 8-2 8 0 26 9 30 6 16 5 40 19 42 24 36 23 30 24 8 7 18 23 22 20 5 8 2 8 0 8-3 10-11 22-11 15-12 7zM2399 429l-16 0-8-4-6-5-8-10-10-17-4-12-2-10 2-10 5-10 22-20 21-25 30-24 32-22 48-28 38-18 20-8 32-6 24-9 16 1 12 8 10 14 10 21 2 5 0 20-6 11-22 19-20 25-24 19-24 17-68 41-50 22-32 6-24 9zM2263 539l-14 1-14-2-14-5-14-8-10-9-9-11-6-14-4-14-1-16 3-16 4-14 7-12 10-11 12-9 14-7 14-3 14-1 14 2 14 6 12 8 10 9 9 12 5 12 4 14 1 16-2 14-4 14-7 12-8 10-12 10-14 8-14 4zM1883 737l-14 0-12-7-12-16-12-24 0-23 3-6 25-23 20-25 30-24 34-23 46-27 38-18 20-8 32-5 24-10 16 2 12 8 9 13 10 20 4 12-1 12-7 14-21 18-20 25-24 20-26 18-68 40-48 21-32 6-26 10zM2631 737l-12 0-26-10-30-5-40-17-30-15-42-26-26-18-25-19-7-7-20-25-20-16-7-14-1-10 3-12 9-18 10-15 12-10 8-2 8 0 28 10 28 5 14 5 38 17 44 25 36 23 32 26 8 6 18 24 21 18 7 11 0 21-8 18-14 21-8 6-8 3zM2299 899l-99 0-9-26-6-40-2-42 1-58 4-44 3-20 11-30 5-28 4-8 6-6 14-6 16-1 20 1 12 3 8 5 8 13 5 29 10 30 5 30 2 30 1 80-7 60-10 28-2 0zM2079 899l-225 0-14-12-7-10 0-24 12-25 12-15 12-7 14 0 26 10 30 5 36 15 58 32 46 31zM2647 899l-225 0 53-35 56-30 32-13 28-5 26-10 8-1 12 3 11 9 13 19 8 18 0 21-2 4-5 8-15 12z"/>
<path fill="#006aff" d="M1881 117l-14-2-10-7-12-17-8-18 0-12 3-10 6-10 12-12 216 0-55 35-50 27-35 14-45 11-8 1zM2265 333l-29 0-9-3-8-5-10-16-14-48-4-28-3-30-1-78 6-58 3-16 7-22 95 0 8 24 6 40 2 42 0 60-4 46-4 22-16 50-4 8-6 6-15 6zM2623 117l-10-1-45-11-33-13-50-26-58-37 216 0 12 12 6 10 4 10-1 12-7 17-12 17-10 8-12 2zM2117 423l-18 1-44-11-36-14-30-16-40-23-28-18-24-18-20-18-14-17-15-14-10-16-2-10 2-12 7-14 9-14 12-10 15-3 8 1 56 15 32 14 36 19 46 29 32 23 18 16 31 34 7 10 3 10-1 16-10 20-10 14-12 6zM2405 423l-18 1-8-3-6-4-8-9-8-13-4-10-2-10 1-12 8-14 37-40 30-24 34-23 48-28 38-18 22-8 48-11 16 1 6 3 7 6 8 12 8 16 3 10-1 10-3 8-6 10-36 38-22 19-24 17-68 41-26 12-26 11-48 12zM2261 537l-14 1-14-3-12-4-13-8-11-10-7-10-6-14-4-14 0-16 2-14 5-14 7-12 11-11 12-9 12-5 14-3 14 0 14 2 12 6 12 8 10 10 8 12 5 12 3 14 0 14-2 14-5 14-7 12-9 10-11 8-12 6-14 4zM1889 731l-18 0-8-3-6-5-15-22-4-10-2-10 2-12 7-12 39-42 31-25 34-22 46-27 38-18 22-8 48-11 16 1 7 4 6 6 9 13 7 15 3 12-2 10-9 16-38 40-21 18-24 17-70 41-50 22-48 12zM2629 731l-16 0-44-11-40-16-32-17-40-23-26-18-23-17-17-16-14-16-16-16-9-16-1-10 2-12 8-16 8-12 12-9 16-2 48 11 16 5 34 15 38 21 42 26 32 25 16 13 32 35 6 10 3 10-1 16-11 22-11 13-12 5zM2297 899l-94 0-8-24-6-40-2-42 0-60 4-44 5-24 15-50 10-13 14-7 14-1 16 1 10 3 8 6 10 16 13 49 5 30 3 30 0 78-2 32-5 32-8 28-2 0zM2073 899l-215 0-11-10-7-12-3-10 0-10 9-22 13-17 12-6 18 0 46 12 40 16 54 30 44 29zM2643 899l-215 0 57-37 50-26 34-13 22-5 20-6 12-1 12 2 10 8 12 17 7 17 1 12-3 10-8 12-11 10z"/>
<path fill="#0056ff" d="M1891 111l-16 0-12-5-10-11-8-16-3-12 2-12 7-12 11-14 206 0-53 33-44 24-42 16-38 9zM2265 327l-12 2-14-1-10-4-8-5-6-10-6-13-11-39-4-28-3-28 0-76 4-54 5-24 5-18 91 0 7 28 6 36 2 42 0 58-4 44-6 32-12 35-10 16-6 4-8 3zM2625 111l-18-1-26-5-40-14-48-25-60-37 206 0 10 12 7 12 3 9 0 9-4 12-10 16-9 8-11 4zM2117 417l-12 2-18-2-28-7-32-12-26-12-32-18-36-22-26-19-34-30-18-20-10-16-3-10 1-10 4-12 9-14 11-10 16-3 16 1 40 11 32 13 32 17 46 27 32 23 34 30 19 23 10 18 0 14-5 14-10 16-12 8zM2413 417l-22 1-8-2-6-3-6-6-7-10-5-10-2-10 1-14 8-14 21-25 15-15 29-23 36-24 46-26 38-18 28-9 36-7 16 2 6 3 7 6 8 12 5 12 2 10-1 10-5 10-9 12-17 20-15 14-21 17-24 17-66 39-46 20-42 11zM2259 535l-14 0-14-3-12-5-12-8-10-10-7-10-5-12-3-14 0-14 2-14 5-12 7-12 9-10 12-9 12-6 14-3 14 0 12 2 12 5 12 8 10 9 8 12 5 12 3 14 0 14-2 14-5 14-7 11-10 11-10 7-12 5-14 4zM1897 725l-20 1-14-6-8-7-6-10-5-10-2-10 2-12 7-14 22-26 15-14 29-24 34-22 46-27 38-18 27-9 37-8 18 2 12 8 8 12 6 12 2 10-1 10-5 10-8 12-18 21-14 13-44 34-66 39-48 21-44 12zM2629 725l-12 1-14-1-30-8-34-12-28-14-34-19-32-20-26-19-32-29-19-21-9-16-3-10 1-10 5-12 9-14 12-9 16-3 14 2 42 11 32 13 32 17 46 28 32 23 27 24 20 22 9 12 5 12 0 14-7 18-10 13-12 7zM2295 899l-90 0-8-32-5-38-2-44 1-56 4-42 6-28 13-38 10-14 7-4 8-3 14-1 12 2 10 4 6 5 6 10 6 14 11 41 6 56 1 76-6 54-4 22-5 16-1 0zM2067 899l-206 0-9-12-7-12-2-8 0-10 8-20 12-15 14-5 22 1 36 9 40 17 48 26 44 29zM2639 899l-205 0 59-37 44-23 38-14 30-7 14-1 12 1 10 7 10 14 7 16 1 10-3 10-9 16-8 8z"/>
<path fill="#0042ff" d="M1901 105l-18 1-12-3-10-8-9-14-3-12 1-12 5-12 12-16 195 0-49 31-42 22-38 15-32 8zM2253 323l-12-1-8-3-8-6-6-8-12-28-9-40-4-50 0-72 5-46 10-40 83 0 6 22 5 26 4 42 1 60-3 40-5 36-9 32-10 21-6 7-6 4-16 4zM2623 105l-14 1-20-3-22-6-22-8-46-23-60-37 196 0 8 12 7 12 3 10-1 8-4 12-7 12-8 7-10 3zM2107 413l-16 0-20-4-24-7-24-9-26-13-34-20-30-19-24-17-20-17-17-16-11-14-9-14-3-10 0-10 4-12 6-11 11-9 15-4 24 3 30 8 30 12 32 17 46 27 32 23 22 19 18 19 13 18 6 14 0 14-7 16-10 11-14 5zM2411 413l-18 0-8-3-6-4-12-15-4-10 0-8 3-14 10-16 15-18 21-20 31-23 42-26 38-21 32-14 30-10 26-4 18 3 12 8 6 9 5 12 1 10-2 10-7 12-10 14-31 31-44 32-64 37-44 18-22 7-18 3zM2257 533l-14 0-12-3-12-5-11-8-9-9-7-11-5-12-3-14 0-14 2-12 5-12 8-13 9-9 11-8 12-5 14-3 14 0 12 3 12 6 10 7 10 10 6 10 5 12 3 14 0 14-2 12-5 12-7 12-9 10-11 7-12 6-14 3zM1907 719l-22 2-16-4-8-6-5-8-7-18 1-14 8-16 15-18 20-20 30-24 36-23 44-25 36-16 32-10 26-4 18 2 12 9 6 9 5 12 1 8-2 10-6 12-10 14-27 28-41 31-64 38-42 19-40 12zM2627 719l-14 2-20-2-24-7-26-9-52-27-36-22-28-19-36-32-14-16-9-14-5-12 0-10 3-12 7-11 10-9 16-4 24 2 28 8 30 11 30 16 44 26 32 21 22 18 20 20 14 18 8 16 2 14-6 16-9 12-11 6zM2291 899l-82 0-10-42-5-40-1-52 2-44 4-38 8-32 10-25 6-9 6-6 14-5 12-1 10 2 8 4 7 8 7 12 6 15 9 41 5 52 0 76-6 50-6 26-3 8-1 0zM2061 899l-195 0-9-12-6-12-2-10 0-8 8-19 6-7 6-5 16-4 24 2 32 9 34 15 44 24 42 27zM2635 899l-195 0 57-35 42-22 42-15 32-5 14 2 9 5 9 10 6 14 2 10-2 10-6 12-10 14z"/>
<path fill="#002eff" d="M1911 99l-18 2-14-2-10-6-9-10-5-14 1-12 6-14 10-14 184 0-47 29-36 19-32 14-30 8zM2261 315l-10 2-12-3-8-4-7-7-7-11-6-13-9-40-5-52 1-74 5-46 11-38 74 0 6 20 5 24 4 34 1 42 0 50-4 38-7 32-8 22-11 16-5 4-8 4zM2621 99l-14 2-16-2-20-5-22-8-44-21-60-36 184 0 14 22 3 10 0 8-4 14-5 6-6 6-10 4zM2105 407l-14 1-18-2-22-6-22-9-48-24-61-38-33-28-13-14-10-14-6-12-3-10 1-10 5-12 12-12 14-4 20 0 26 7 28 10 30 15 46 27 30 20 23 19 19 18 13 16 8 16 2 14-5 16-10 11-12 5zM2423 407l-20 1-16-5-6-4-7-8-5-16 2-14 9-16 14-18 21-20 30-22 42-27 36-20 32-14 30-9 22-3 18 3 12 9 5 7 4 12 0 10-3 10-14 22-28 28-40 29-60 36-40 18-38 11zM2255 531l-12 0-12-3-12-6-11-7-9-10-6-11-5-11-2-14 1-14 2-12 5-12 7-10 10-10 10-6 12-5 14-3 12 0 12 3 12 6 10 7 9 10 6 10 5 12 2 14 0 14-3 12-5 12-8 12-10 9-10 6-12 5-12 2zM1905 715l-20 0-14-5-12-13-4-16 3-14 8-16 16-18 21-20 30-22 42-26 36-20 30-13 30-9 22-3 18 3 12 9 5 7 4 12-1 10-3 10-6 12-9 12-29 28-41 29-60 35-42 19-36 9zM2617 715l-14 0-18-2-22-7-22-8-48-25-60-38-33-28-13-14-10-14-6-12-2-10 1-10 5-11 11-11 15-5 20 1 26 6 28 11 30 14 46 27 32 22 22 18 20 20 12 16 8 16 1 14-5 14-10 11-14 5zM2287 899l-74 0-7-24-6-30-3-40 0-56 2-38 5-34 8-30 11-20 12-12 14-3 10 1 8 3 8 6 6 9 6 12 6 16 8 40 3 50-1 72-6 46-6 22-4 10zM2055 899l-184 0-13-22-3-10 1-10 5-14 6-7 8-5 18-4 22 3 30 9 32 14 38 20 40 26zM2629 899l-183 0 53-33 40-20 38-14 30-5 14 2 10 4 10 11 4 9 1 10-2 12-7 14-8 10z"/>
<path fill="#0022ff" d="M1911 95l-14 1-12-2-10-4-10-9-3-14 1-12 4-12 10-14 173 0-45 28-34 18-30 12-30 8zM2251 311l-18-7-8-8-6-9-9-28-7-38-3-50 2-66 6-42 10-34 65 0 9 28 6 34 3 38 0 56-3 36-4 30-8 26-9 18-10 10-16 6zM2613 95l-12 1-14-2-42-13-40-20-54-32 173 0 8 10 5 12 3 10-1 10-2 9-6 6-8 6-10 3zM2097 403l-12 0-16-2-22-6-22-9-46-24-56-36-31-25-22-26-5-10-3-10 0-10 3-12 12-11 14-4 18 0 24 6 28 10 28 14 46 27 30 20 22 18 20 19 11 15 6 14 1 12-2 14-12 11-14 5zM2421 403l-20-1-14-7-9-8-2-18 3-14 10-16 18-20 21-18 32-22 47-28 30-15 28-11 26-7 18-1 14 4 14 12 3 20-6 18-17 22-29 26-39 27-56 32-38 16-34 9zM2255 529l-12-1-12-2-12-6-10-7-8-9-7-11-4-12-2-12 0-14 3-12 6-12 7-10 9-9 10-6 12-5 12-2 12 1 12 2 10 5 11 8 9 10 6 10 4 12 2 12 0 14-3 12-5 12-7 10-9 9-10 6-12 5-12 2zM1903 711l-18-2-14-8-7-6-2-20 4-14 10-16 19-20 21-18 31-22 46-27 30-15 28-11 26-7 18 0 14 4 14 12 2 20-2 10-5 10-20 24-27 24-40 27-56 32-38 15-34 8zM2607 711l-14-1-18-4-42-15-52-29-48-31-30-26-20-24-5-10-2-10 0-10 3-11 14-11 14-4 18 1 24 6 28 10 28 14 45 27 31 20 22 18 19 20 10 14 6 14 2 12-3 14-14 12-16 4zM2283 899l-65 0-9-28-6-36-3-38 0-56 3-34 5-30 7-26 8-16 12-12 16-6 18 8 6 6 7 10 10 28 6 38 3 52-1 66-7 42-6 22-4 10zM2049 899l-173 0-9-14-4-12-1-10 2-14 11-11 14-5 16-1 20 4 26 9 28 12 34 19 36 23zM2623 899l-171 0 51-31 36-18 36-13 28-5 10 1 10 3 14 13 3 14-2 12-7 16-6 8-2 0z"/>
<path fill="#0019ff" d="M1913 91l-12 1-12-1-10-5-11-9-1-16 1-10 6-12 8-10 162 0-43 26-30 16-28 11-30 9zM2253 306l-4 0-14-7-8-8-6-8-9-30-6-36-3-50 2-64 7-42 5-20 5-12 57 0 10 28 6 38 3 36 0 50-2 34-4 28-8 30-7 14-10 11-14 8zM2611 91l-10 1-12-1-42-13-38-18-52-31 163 0 8 12 5 10 2 10-2 16-10 9-12 5zM2093 399l-12 0-14-2-22-7-22-9-43-22-54-34-28-24-24-26-4-8-3-10 2-22 14-10 14-4 16 1 24 7 26 10 28 14 42 24 29 20 20 16 19 18 11 14 6 12 2 12-1 16-14 10-12 4zM2423 399l-10 1-10-2-8-4-12-8-2-19 3-12 8-14 19-20 20-18 30-21 44-26 30-16 26-10 28-8 16-1 14 4 14 10 1 20-2 10-4 8-19 23-26 23-38 26-53 30-35 15-34 9zM2253 527l-12-1-12-3-10-5-10-8-8-9-5-10-5-12-1-12 0-12 3-12 6-12 7-10 9-8 10-6 12-4 12-2 12 1 12 3 10 6 10 8 8 10 5 10 4 12 1 12 0 12-4 12-5 10-7 10-10 9-10 6-10 3-12 2zM1905 707l-18-2-18-12-2-12 0-10 5-14 9-12 19-20 21-18 30-20 44-26 28-14 26-10 26-7 16-1 14 4 14 10 1 22-6 16-21 24-26 23-38 25-54 31-36 15-34 8zM2605 707l-12-1-18-4-40-14-46-25-50-32-28-24-22-24-5-10-3-8 1-22 15-11 14-3 16 1 24 6 26 10 28 14 42 25 30 20 22 18 20 20 9 12 5 12 2 10-2 16-14 10-14 4zM2279 899l-57 0-5-12-5-20-7-38-2-36 1-52 2-32 5-28 6-26 8-15 10-11 16-8 18 10 6 6 6 10 9 30 6 36 2 50-2 62-6 42-6 22-5 10zM2043 899l-162 0-7-10-6-12-1-10 1-16 13-10 12-4 14-1 20 5 26 8 25 12 65 38zM2619 899l-161 0 47-28 34-18 34-12 28-5 16 3 16 12 2 16-2 10-6 12-8 10z"/>
<path fill="#0010ff" d="M1903 89l-16-3-15-9-1-2-1-16 3-10 5-10 8-10 152 0-43 26-30 15-32 12-30 7zM2251 303l-18-11-10-13-9-34-6-36-2-58 3-50 7-42 5-20 5-10 49 0 5 10 6 22 7 44 2 34-1 48-2 30-4 28-8 28-5 12-8 9-16 9zM2601 89l-10-1-16-4-36-13-32-16-44-26 152 0 8 10 6 10 2 10 0 16-1 2-15 9-14 3zM2095 395l-10 1-10-1-26-7-23-9-39-20-54-34-28-22-27-28-7-16 0-22 16-10 12-3 12 1 24 7 24 9 26 12 40 23 28 19 20 15 18 16 16 17 7 12 2 10 0 18-11 8-10 4zM2427 395l-10 1-10-1-8-3-12-7-2-2 0-18 3-12 7-11 21-21 21-18 28-20 42-25 28-14 26-10 28-8 12-2 14 3 15 10 0 20-6 16-19 22-25 22-35 24-50 29-32 14-36 11zM2253 525l-12-1-10-3-10-4-10-8-8-9-6-11-4-10-1-12 0-12 3-12 5-10 7-10 10-9 10-6 10-3 12-2 12 1 10 3 10 5 10 7 8 10 5 10 4 12 1 12 0 12-4 12-5 10-7 10-8 7-10 6-10 3-12 2zM1909 703l-10 1-8-2-20-11 0-20 3-10 8-12 21-22 22-18 28-19 42-25 26-14 26-10 26-8 14-1 14 3 15 10 0 20-6 16-22 24-25 21-36 25-50 28-32 14-36 10zM2607 703l-10 1-10-2-26-8-22-8-40-21-52-33-28-22-26-27-8-16 0-22 14-9 14-4 14 1 24 7 24 9 26 13 40 23 28 18 20 16 18 16 14 16 7 12 3 10-1 18-13 9-10 3zM2275 899l-49 0-6-12-5-20-7-44-1-34 0-48 2-30 5-28 6-26 7-14 8-9 16-9 18 11 9 13 10 36 5 36 2 58-2 48-9 46-5 18-4 8zM2037 899l-151 0-8-10-6-10-2-10 1-16 12-9 10-4 12-1 14 3 28 9 26 11 28 15 36 22zM2615 899l-151 0 44-26 31-16 36-13 16-4 10-1 14 3 16 11 0 16-2 10-5 10-9 10z"/>
<path fill="#0007ff" d="M1911 85l-10 1-8-1-20-10 0-16 2-10 6-10 10-10 140 0-36 22-26 13-24 10-34 11zM2253 299l-2 2-14-9-6-6-5-7-10-38-5-34-1-56 2-48 3-26 7-32 7-16 43 0 5 10 5 18 8 50 1 32 0 46-2 28-4 26-7 32-4 10-7 9-14 9zM2609 85l-8 1-10-1-44-15-33-15-44-26 141 0 9 10 6 10 2 10 0 14-1 3-18 9zM2091 393l-16-1-52-18-38-20-48-30-28-22-28-28-7-15-1-20 14-9 12-3 12 1 24 8 26 9 24 12 66 40 36 30 18 18 6 10 3 12-1 16-12 7-10 3zM2423 393l-16-1-19-9 0-22 4-10 7-9 24-23 20-16 26-18 40-24 26-13 26-11 30-9 10-1 12 3 15 9-1 20-6 14-24 25-24 20-34 22-48 28-32 14-36 11zM2255 523l-12-1-10-2-10-4-9-7-8-8-6-10-4-10-2-12 0-12 3-12 4-10 7-10 8-8 9-6 10-4 12-2 12 1 10 2 10 5 10 7 7 9 6 10 4 10 1 12 0 12-2 10-5 10-7 10-8 8-9 6-11 4-10 2zM1905 701l-14-2-16-8-2-2 1-22 4-8 7-10 24-23 20-16 26-18 40-24 26-13 24-9 30-10 10-2 12 2 16 9 1 2 0 16-6 16-23 24-26 22-36 24-48 27-32 14-38 11zM2603 701l-10-1-16-4-44-17-38-20-46-29-26-21-28-28-7-14-1-20 14-9 14-4 10 2 26 8 26 10 24 11 40 24 26 17 38 32 14 14 6 11 3 10 0 16-13 9-12 3zM2271 899l-42 0-6-12-5-22-7-48-1-80 3-28 5-28 5-24 4-10 9-10 15-10 16 11 9 13 10 40 4 36 1 58-2 44-11 56-3 10-3 4-1 0zM2029 899l-139 0-9-10-6-10-2-10 0-16 20-10 10-1 10 2 32 10 26 11 60 34-2 0zM2611 899l-141 0 41-24 28-14 48-17 14-2 14 3 13 8 0 2 0 14-2 10-6 10-9 10z"/>
<path fill="#0200ff" d="M1909 83l-8 1-8-1-18-10 1-16 2-8 6-10 11-10 130 0-58 32-58 22zM2253 297l-2 2-14-10-9-12-9-38-4-36-2-56 2-44 10-60 7-14 37 0 2 2 5 14 7 38 4 28 1 76-6 54-6 30-3 8-8 10-12 8zM2607 83l-8 1-8-1-46-17-30-15-39-22 130 0 11 10 5 8 4 10 1 16-10 6-10 4zM2091 391l-16-2-52-19-38-20-46-29-26-20-30-28-7-14-1-20 14-7 12-3 10 2 22 7 26 10 24 12 38 22 28 18 38 31 16 15 6 9 2 10 1 16-11 7-10 3zM2419 391l-14-2-16-8 2-22 4-8 6-7 46-40 26-17 38-23 26-13 26-11 26-9 10-2 12 2 15 8-1 20-6 13-28 27-24 19-34 22-44 25-34 14-36 12zM2255 521l-12-1-10-2-10-5-8-6-13-16-4-10-2-12 0-12 2-10 4-10 7-10 8-8 9-6 11-4 10-2 12 1 10 2 10 5 8 6 7 8 6 10 4 10 2 12-3 21-10 19-8 8-9 6-11 4-10 2zM1911 697l-16 1-20-9 1-20 3-8 6-8 46-40 26-18 40-24 26-13 26-10 28-10 8-1 12 2 15 8-1 20-6 12-26 25-24 20-32 21-44 25-30 14-38 13zM2609 697l-8 2-10-2-48-17-36-18-50-31-28-21-31-29-8-14-1-20 20-10 10 0 10 2 34 13 28 12 32 18 36 23 34 26 22 20 7 10 3 10 1 18-17 8zM2269 899l-37 0-2-2-4-10-5-22-7-52-1-40 1-42 3-30 7-36 3-12 4-8 8-8 12-8 16 12 7 12 9 44 4 34 1 56-2 42-10 56-3 8-4 6zM2023 899l-129 0-10-10-5-8-3-10-1-16 18-10 8-1 10 2 58 22 55 31-1 0zM2607 899l-130 0 36-21 28-14 48-18 12-2 12 3 13 8 0 16-3 10-6 8-10 10z"/>
<path fill="#0d00fc" d="M1907 81l-14 0-17-8 1-16 4-10 6-8 11-10 120 0-53 30-58 22zM2251 297l-16-12-7-12-8-46-3-30-1-56 3-40 8-58 7-14 33 0 3 4 4 10 4 22 6 52 1 44-1 38-4 32-6 38-2 8-5 7-16 13zM2607 81l-8 1-8-2-42-16-30-14-36-21 120 0 16 15 3 7 2 10 1 12-18 8zM2091 389l-14-1-54-22-34-18-46-28-26-20-32-28-7-13-2-18 19-9 8-1 8 2 38 15 26 11 32 18 36 23 38 29 20 18 5 8 4 10 0 16-19 8zM2419 389l-12-1-16-7 0-14 3-10 9-12 48-40 30-20 42-24 28-13 38-14 8-3 8 1 8 2 12 6-2 19-6 12-28 25-24 19-32 21-44 25-32 15-38 13zM2255 519l-20-2-10-5-8-5-8-8-6-10-5-20 0-12 2-10 4-10 7-9 16-13 10-4 10-2 20 3 10 4 9 7 7 8 6 10 5 20-3 20-4 10-6 9-8 8-8 5-10 4-10 2zM1911 695l-8 2-8-1-18-8 1-19 3-8 6-7 46-39 26-17 40-24 24-12 28-12 26-10 8-1 10 1 14 7 2 2-1 14-6 14-17 16-32 27-30 20-44 25-30 15-40 15zM2609 695l-8 2-8-1-50-20-36-18-46-28-30-23-32-28-7-12-1-19 18-9 8 0 8 1 62 26 30 16 38 24 34 26 26 22 5 7 4 10 1 16-16 8zM2267 899l-33 0-3-4-4-10-3-22-7-52-1-44 1-38 3-28 7-42 7-14 17-14 15 12 7 12 7 42 4 36 1 56-3 40-8 56-3 8-4 6zM2017 899l-119 0-11-10-6-8-4-10 0-16 18-8 8-1 8 2 58 23 49 28-1 0zM2603 899l-120 0 32-19 26-13 50-19 10-2 12 3 12 6 0 2-1 14-3 10-6 8-12 10z"/>
<path fill="#1700fa" d="M1909 79l-14 1-16-7-1-2 2-16 3-8 5-6 14-12 110 0-49 27-54 23zM2251 295l-14-11-7-11-6-42-4-36 0-56 2-42 7-54 3-8 5-6 28 0 5 8 7 42 4 40 0 78-9 72-2 8-4 6-15 12zM2609 79l-14 1-30-12-36-17-40-22 110 0 17 14 3 6 3 8 1 16-14 6zM2091 387l-14-1-52-22-38-20-44-28-24-18-33-27-6-12-2-18 19-8 14 2 40 16 26 13 66 40 42 32 14 12 6 7 3 8 2 16-19 8zM2421 387l-12 0-16-7-1-1 3-20 8-12 46-37 28-18 44-26 28-14 40-16 8-3 8 0 18 8-1 18-7 12-50 40-30 20-42 25-30 14-42 17zM2255 517l-10 0-10-2-17-10-13-16-4-10-1-10 0-12 2-10 10-18 15-12 10-4 10-2 10 0 10 3 10 4 8 6 12 17 5 20-3 20-10 18-14 12-10 4-10 2zM1903 695l-10-1-15-7 3-22 8-10 52-42 30-19 38-22 30-14 38-16 8-2 8 1 17 8-3 18-6 11-54 44-34 21-40 23-38 17-32 12zM2603 695l-12-2-56-24-36-19-42-27-56-44-7-12-2-18 17-8 8-1 8 2 38 16 28 13 68 41 50 40 10 11 3 8 2 16-13 6-8 2zM2265 899l-29 0-4-6-3-8-3-24-6-52 0-78 9-72 3-8 4-6 15-12 14 11 6 11 7 44 3 36 1 56-3 40-7 54-3 8-4 6zM2011 899l-110 0-14-12-4-6-4-8-2-16 18-9 14 1 58 25 44 25zM2599 899l-110 0 30-17 28-14 44-18 12-2 10 3 11 6-2 16-3 8-6 7-14 11z"/>
<path fill="#2200f8" d="M1909 77l-14 1-16-7 2-16 4-8 20-18 102 0-46 25-52 23zM2251 294l-14-11-5-10-6-42-3-36-1-56 3-44 6-52 3-8 5-6 24 0 5 8 6 34 4 48 0 78-7 72-5 12-15 13zM2609 77l-14 1-20-8-40-19-41-22 102 0 17 14 7 12 2 16-13 6zM2093 385l-8 1-6-1-48-21-38-20-46-29-30-21-30-25-6-10-2-16 16-8 14 1 66 30 64 38 40 30 19 15 5 6 3 8 2 16-15 6zM2421 385l-12 0-16-6 3-20 8-10 47-37 28-18 44-26 28-14 40-17 8-2 8 0 14 6 1 2-2 16-5 10-52 41-28 18-44 26-32 15-38 16zM2255 515l-10 0-10-3-16-9-12-16-6-18 2-20 10-18 8-8 8-5 18-5 10 0 10 3 16 9 12 16 3 10 2 10-2 18-10 18-7 7-8 6-18 5zM1905 693l-10 0-16-6 3-20 7-10 48-38 30-19 42-25 68-31 6-2 8 0 17 7-2 16-5 11-50 40-34 22-42 24-32 16-38 15zM2605 693l-12-1-54-24-38-20-44-28-56-43-6-10-2-18 18-7 8 0 6 2 64 29 70 43 50 38 8 9 4 10 1 14-17 6zM2263 899l-25 0-5-8-7-40-3-42 0-80 8-70 5-12 15-13 13 11 6 12 8 76 1 58-3 46-6 48-3 8-4 6zM2005 899l-101 0-20-18-4-10-1-14 16-7 8-1 6 2 56 25 41 23-1 0zM2595 899l-100 0 46-25 52-23 12-1 16 6 1 1-1 12-4 12-6 7-14 11-2 0z"/>
<path fill="#2c00f6" d="M1903 77l-12-2-10-4-1-2 2-14 4-8 22-18 94 0-49 27-50 21zM2253 291l-2 2-10-8-8-12-8-74 0-62 2-50 5-44 4-8 4-6 21 0 7 10 4 32 4 44 0 82-7 72-5 12-11 10zM2605 77l-12-1-28-13-32-15-34-19 94 0 20 15 6 13 2 14-16 6zM2095 383l-8 2-6-1-42-19-38-19-52-32-60-45-7-10-2-16 17-7 12 2 64 30 64 38 34 24 30 24 4 9 2 14-1 2-11 4zM2423 383l-12 1-16-5-1-2 3-16 8-11 42-32 30-20 44-26 30-16 40-18 6-2 8 0 17 7-3 16-6 10-46 35-30 20-44 26-70 33zM2255 513l-18-2-16-9-12-15-6-18 2-18 4-10 5-8 7-7 8-6 18-5 18 2 8 4 9 6 11 16 5 18-2 18-9 17-14 11-18 6zM1907 691l-12 1-14-6-1-1 3-18 8-10 44-33 30-20 44-26 68-32 6-2 8 0 16 6-3 17-5 9-46 35-34 23-42 24-30 15-40 18zM2609 691l-8 1-6-1-44-19-38-20-52-32-58-43-7-12-1-16 16-5 12 1 66 31 66 40 34 24 26 21 4 10 2 14-12 6zM2261 899l-21 0-7-10-5-40-3-40 0-80 7-70 6-12 13-12 13 12 5 10 7 78 0 60-2 46-6 46-2 6-5 6zM2001 899l-94 0-21-18-4-10-2-14 15-6 12 1 52 23 42 24zM2593 899l-93 0 41-23 52-24 12-1 16 6-1 14-5 10-22 18z"/>
<path fill="#3600f3" d="M1907 75l-12 0-13-4-1-2 3-14 3-7 23-19 88 0-41 23-50 23zM2251 291l-12-10-5-10-7-78 0-66 3-48 4-36 3-8 5-6 17 0 7 10 5 40 3 42 0 78-6 70-5 11-12 11zM2607 75l-10 1-14-6-42-20-38-21 88 0 20 16 7 10 2 14-1 2-12 4zM2091 383l-12-1-50-24-40-22-46-29-54-40-5-8-3-16 16-6 12 2 64 31 70 42 44 32 14 13 3 8 2 12-15 6zM2419 383l-12-1-12-5 4-17 6-9 42-31 34-22 44-26 66-32 12-3 17 6-3 16-4 8-46 35-34 22-44 26-36 18-34 15zM2255 511l-18-2-15-8-11-14-6-18 0-10 2-10 9-16 15-12 16-4 18 2 16 10 10 14 5 18-2 18-9 16-14 11-16 5zM1901 691l-8-1-12-5 5-20 7-8 48-35 72-44 66-32 12-1 15 6-2 14-6 10-49 37-34 22-46 26-48 24-14 6-6 1zM2601 691l-10-3-56-27-48-27-34-22-50-37-5-8-3-16 16-6 12 1 68 33 70 43 48 35 6 8 4 8 1 12-11 5-8 1zM2259 899l-17 0-8-12-5-42-2-40 0-76 7-70 5-12 12-10 11 10 5 10 7 80 0 64-3 48-4 38-4 8-4 4zM1997 899l-87 0-23-19-4-7-2-14 14-6 12 0 48 22 42 24zM2591 899l-87 0 41-23 50-23 10-1 14 5 1 2-1 8-4 12-4 5-20 15z"/>
<path fill="#4100f1" d="M1907 73l-12 1-13-5 2-12 4-8 25-20 81 0-41 23-46 21zM2251 290l-11-9-5-10-6-80 0-68 3-50 3-32 3-6 6-6 14 0 5 6 3 6 4 40 2 42 0 78-6 68-3 10-12 11zM2611 73l-10 2-8-2-44-21-42-23 81 0 23 17 5 7 4 16-9 4zM2095 381l-8 1-6-1-38-18-44-23-52-32-57-41-6-10-2-12 1-2 14-4 12 2 60 29 70 42 34 23 26 21 3 7 3 14-10 4zM2421 381l-10 1-14-4-1-3 3-14 6-8 40-29 74-47 62-31 14-7 6-1 8 1 10 4-2 14-6 10-42 31-36 24-44 26-68 33zM2255 509l-18-2-14-8-11-14-5-16 2-18 8-16 14-11 16-5 18 2 14 8 10 14 5 18-2 16-8 16-13 11-16 5zM1905 689l-10 0-13-4 4-18 7-8 42-31 76-47 68-33 12-2 14 5-2 14-6 9-42 32-34 22-44 26-34 18-38 17zM2607 689l-12 0-44-21-40-22-50-31-56-40-6-10-3-14 15-5 12 2 64 31 68 41 34 24 24 19 4 10 2 12-12 4zM2257 899l-14 0-5-6-3-6-4-48-2-40 0-74 6-66 4-10 12-11 11 11 4 8 4 42 2 42 0 70-4 58-3 20-3 6-5 4zM1993 899l-81 0-23-19-4-7-3-14 13-5 12 1 48 22 38 22zM2587 899l-79 0 41-23 46-22 10-1 14 5-2 13-4 9-24 19-2 0z"/>
<path fill="#4900ef" d="M1905 73l-10 0-12-4 1-8 3-8 4-6 24-18 76 0-42 23-44 21zM2251 289l-11-10-4-8-6-84 1-66 3-58 3-22 3-6 5-6 11 0 6 6 3 6 3 38 3 46-1 78-5 66-4 10-10 10zM2607 73l-8 0-6-2-44-21-39-21 76 0 23 17 5 7 5 16-12 4zM2091 381l-10-1-46-22-40-22-48-30-56-40-6-9-2-13 14-4 12 2 64 32 70 42 55 41 4 8 2 12-13 4zM2417 381l-8 0-12-4 5-18 5-6 46-33 76-46 64-32 12-2 14 5-4 14-4 7-50 36-76 46-38 19-30 14zM2255 507l-16-1-14-8-11-13-5-16 1-16 8-16 13-11 16-5 16 2 14 8 11 14 4 16-1 16-8 15-12 10-16 5zM1907 687l-10 1-13-3-1-2 3-14 7-9 36-26 74-46 58-31 24-10 8 0 10 4 1 2-2 10-5 10-40 29-80 50-70 35zM2611 687l-8 2-6-1-30-14-46-24-56-34-60-43-6-10-2-10 1-2 13-4 10 1 60 30 68 40 62 45 5 8 3 12-8 4zM2255 899l-10 0-6-6-3-8-4-48-2-42 1-72 5-64 4-10 11-10 10 10 4 10 4 48 2 42-1 70-5 64-3 10-5 6-2 0zM1989 899l-74 0-26-20-4-8-2-12 14-5 10 2 50 24 33 19-1 0zM2585 899l-74 0 38-21 46-22 10-1 14 4-3 12-4 8-27 20z"/>
<path fill="#4f00ed" d="M1907 71l-10 1-13-3 1-10 6-10 27-20 70 0-37 20-44 22zM2251 288l-10-9-4-10-4-58-1-54 1-54 4-60 3-6 4-6 2-2 5 0 4 0 2 2 5 6 2 6 4 56 2 58-2 56-4 56-4 10-9 9zM2611 71l-8 2-8-2-44-21-38-21 71 0 25 18 4 5 4 17-6 2zM2095 379l-12 0-32-15-42-22-54-33-64-44-5-8-3-12 14-4 10 1 60 30 66 40 36 24 28 21 3 6 4 12-2 2-7 2zM2419 379l-8 1-12-3-1-2 4-14 5-7 40-28 74-46 66-34 14-5 8 0 9 4-3 12-5 8-43 31-78 48-70 35zM2257 505l-16-1-14-7-10-11-6-15 1-16 7-16 12-11 14-5 16 1 14 7 10 12 5 16-1 16-6 14-12 11-14 5zM1903 687l-10 0-10-4 5-16 7-7 46-32 72-44 66-34 12-2 13 5-3 12-6 8-46 33-78 47-68 34zM2607 687l-12-1-38-18-40-22-52-32-59-41-5-8-3-12 13-5 10 2 60 30 68 40 62 44 4 7 3 12-11 4zM2255 899l-9 0-7-8-2-6-4-44-1-44 0-72 5-66 4-10 10-9 10 11 3 8 5 88 0 70-5 66-2 8-7 8zM1987 899l-70 0-27-20-3-6-4-12 1-2 11-3 10 0 44 22 38 21zM2583 899l-69 0 39-22 42-20 10-1 12 3 1 2-2 8-5 10-28 20z"/>
<path fill="#5500ea" d="M1903 71l-8 0-10-3 2-11 6-9 27-19 65 0-42 23-40 19zM2251 287l-10-10-3-8-4-56-1-56 1-56 4-56 2-6 4-6 3-4 4 0 3 0 5 6 4 10 4 58 1 54-1 54-4 58-3 8-9 10zM2607 71l-12-1-40-20-39-21 66 0 25 18 5 6 5 14-1 2-9 2zM2091 379l-10-2-48-23-88-53-52-36-6-8-3-12 13-3 10 1 64 33 72 44 54 38 6 17-12 4zM2415 379l-8-1-9-3 6-16 51-37 72-44 62-32 12-4 16 3-3 12-5 8-44 31-86 52-42 22-22 9zM2257 503l-14 0-14-7-11-11-5-14 1-16 6-14 11-11 14-5 14 1 14 6 10 11 5 16-1 16-6 13-10 9-14 6zM1905 685l-10 1-11-3 5-15 6-6 42-30 76-47 62-32 8-3 6-1 14 4-3 12-5 7-42 30-78 48-70 35zM2611 685l-12 1-18-8-50-26-54-32-70-48-5-7-4-12 13-4 10 2 58 29 60 35 70 48 5 8 3 12-6 2zM2253 899l-6 0-7-8-2-6-4-50-1-46 1-68 4-62 3-8 10-10 9 10 3 8 4 52 1 44-1 66-4 62-4 10-6 6zM1983 899l-64 0-28-21-4-7-3-10 11-4 10 0 42 21 37 21-1 0zM2581 899l-64 0 38-21 42-21 10 0 10 3-3 11-5 8-28 20z"/>
<path fill="#5b00e8" d="M1905 69l-8 2-10-3-2-1 3-10 5-7 29-21 61 0-38 21-40 19zM2251 286l-9-9-3-8-4-54-1-58 1-58 4-54 4-10 5-6 3 0 2 0 5 6 4 10 4 56 1 56-1 56-4 56-3 8-8 9zM2613 69l-8 2-8-1-40-20-38-21 61 0 30 22 3 6 3 10-3 2zM2095 377l-12 0-32-15-44-24-56-34-58-40-6-9-2-8 1-2 13-3 10 3 58 30 68 41 60 42 4 7 3 10-7 2zM2419 377l-8 1-12-3 5-14 5-5 36-26 68-42 58-32 28-13 6 0 10 2 1 2-2 8-5 8-40 29-82 50-68 35zM2257 501l-14 0-13-6-10-10-5-14 0-14 6-14 10-10 14-6 14 0 14 7 9 11 4 14 0 14-7 14-10 9-12 5zM1903 685l-8 0-10-2 6-16 48-35 72-44 58-31 18-7 15 3-3 10-4 7-44 32-82 50-66 33zM2607 685l-10 0-38-19-40-22-52-32-60-41-4-6-4-12 12-3 10 2 58 30 68 40 62 43 5 8 2 10-9 2zM2253 899l-5 0-6-8-3-6-3-48-2-48 1-70 4-60 3-8 9-10 8 10 3 8 4 50 1 46-1 68-4 60-2 8-7 8zM1981 899l-60 0-28-21-4-5-4-12 10-3 10 1 46 22 31 18-1 0zM2579 899l-60 0 38-21 40-20 8-1 11 4-3 10-4 7-30 21z"/>
<path fill="#6100e6" d="M1903 69l-8 1-9-3 4-12 5-6 29-20 56 0-37 20-40 20zM2251 286l-8-9-3-8-4-56-1-56 1-56 4-56 4-10 7-6 7 8 3 8 4 58 1 54-1 58-4 54-3 8-7 9zM2609 69l-12 0-76-40 57 0 32 24 6 14-7 2zM2093 377l-10-1-36-18-90-52-64-43-4-6-3-10 9-3 10 1 60 31 64 38 66 45 3 6 3 10-8 2zM2415 377l-15-2 5-14 8-7 40-28 70-43 56-30 20-9 8 0 8 2-2 9-5 8-47 33-80 48-42 22-24 11zM2257 499l-14 0-12-6-10-10-4-12 0-14 6-14 10-10 12-4 14 0 12 6 9 10 5 14-1 14-5 12-10 9-12 5zM1905 683l-8 2-10-2-1-2 4-12 5-5 40-28 72-44 56-30 22-11 8 0 8 2-2 10-6 8-44 31-76 46-68 35zM2613 683l-12 2-8-3-54-28-58-34-73-49-5-8-3-8 1-2 10-2 8 1 54 28 62 36 72 49 4 4 3 8 1 4-2 2zM2251 899l-2 0-5-6-4-10-4-56-1-56 1-56 4-56 3-8 8-9 7 9 3 8 4 54 1 58-1 54-4 58-4 10-5 6-1 0zM1979 899l-56 0-30-22-4-6-3-10 11-3 8 2 44 22 30 17zM2577 899l-55 0 75-40 8-1 10 3-3 10-3 6-32 22z"/>
<path fill="#6700e4" d="M1899 69l-13-2 5-12 4-5 31-21 52 0-49 26-24 12-6 2zM2251 285l-7-8-3-8-4-56 0-56 0-56 4-56 3-8 7-8 7 8 2 8 4 56 1 56-1 56-4 56-3 8-6 8zM2605 69l-6-1-10-4-66-35 53 0 33 24 6 14-10 2zM2099 375l-10 1-8-2-52-27-54-31-38-24-42-29-5-6-4-10 11-3 8 2 54 28 52 30 42 26 40 28 6 10 1 5-1 2zM2419 375l-8 1-9-1-1-4 5-10 49-35 70-43 60-32 16-7 14 3-4 10-4 5-48 34-76 46-64 33zM2257 497l-12 0-12-5-9-9-5-12 0-14 5-12 9-9 12-5 12 0 12 5 10 11 4 12 0 12-5 12-9 9-12 5zM1903 683l-8 1-8-3 4-12 52-37 74-45 60-31 12-4 10 1 2 2-4 10-4 5-50 34-76 46-64 33zM2611 683l-10 1-14-6-50-27-54-31-74-50-4-5-4-10 10-3 8 1 56 29 58 34 74 50 4 5 4 10-4 2zM2251 899l-8-8-2-8-4-54 0-58 0-56 4-56 3-8 7-8 7 10 2 6 4 56 1 56-1 56-4 56-2 8-7 8zM1977 899l-52 0-32-23-4-7-2-8 10-2 8 2 72 38zM2575 899l-51 0 73-39 8-1 9 2-2 10-5 6-32 22z"/>
<path fill="#6d00e1" d="M1903 67l-6 1-9-1 4-12 35-26 49 0-73 38zM2613 67l-10 1-6-1-71-38 48 0 33 23 5 9 2 4-1 2zM2251 284l-6-7-3-8-4-56 0-56 0-56 4-56 3-8 6-8 7 10 1 6 4 54 1 58-1 58-4 54-2 6-6 9zM2095 375l-10 0-30-15-40-22-54-32-66-44-4-5-4-10 12-2 8 3 54 28 64 38 68 46 7 13-5 2zM2415 375l-10 0-4-2 6-12 54-37 66-40 56-30 18-9 13 2-3 9-4 5-50 35-80 48-62 31zM2257 495l-12 0-11-4-8-8-6-12 0-12 5-12 8-9 12-5 12 0 12 5 8 9 4 12 0 12-6 12-8 8-10 4zM1899 683l-12-2 6-13 56-38 70-43 56-29 12-5 8 0 5 2-3 8-5 6-57 39-80 47-48 25-8 3zM2607 683l-10-2-38-19-86-50-64-43-4-5-4-9 10-3 8 2 58 30 66 39 64 44 4 5 3 9-7 2zM2251 899l-7-8-2-8-4-56 0-56 1-56 3-56 2-6 7-9 6 9 2 6 4 54 1 58-1 58-4 54-2 8-6 8zM1975 899l-48 0-32-23-4-5-4-8 6-3 10 1 72 38zM2573 899l-47 0 71-38 6-1 10 1 1 2-2 6-5 7-34 23z"/>
<path fill="#7300df" d="M1901 67l-12-1-1-1 5-10 36-26 45 0-73 38zM2609 67l-12-1-69-37 44 0 35 24 6 12-4 2zM2251 283l-5-6-3-8-4-56 0-56 0-56 4-56 2-8 6-7 6 9 1 6 4 56 1 56-1 56-4 56-1 6-6 8zM2099 373l-8 2-8-2-52-27-52-30-42-27-40-27-6-7-3-8 11-1 6 2 50 26 52 30 42 26 42 29 5 6 3 8zM2419 373l-8 2-9-2 7-13 48-33 64-39 52-28 26-13 14 0-2 7-4 6-46 32-76 46-66 35zM2259 493l-12 1-10-4-9-7-5-10-1-12 4-12 7-9 10-5 12-1 10 4 8 7 5 10 2 12-4 12-7 8-10 6zM1903 681l-6 1-9-1 6-12 53-37 66-40 56-30 18-8 12 1-3 8-5 6-48 33-76 46-64 33zM2613 681l-10 1-6-2-48-24-52-31-44-27-42-29-5-4-4-10 9-2 8 2 48 25 52 30 44 28 42 28 5 7 3 8zM2251 898l-6-7-2-8-3-54-1-58 0-56 4-56 2-6 6-8 5 8 2 6 4 56 1 56-1 56-4 56-2 8-5 7zM1973 899l-44 0-34-24-7-12 7-2 8 1 70 37zM2571 899l-43 0 71-37 6-1 8 1-2 7-4 6-34 24-2 0z"/>
<path fill="#7900dc" d="M1903 65l-8 2-6-2 6-11 36-25 41 0-69 36zM2611 66l-12 0-69-37 40 0 37 25 6 11-2 1zM2251 282l-6-7-1-6-4-56 0-56 0-56 4-56 1-6 6-8 5 8 2 6 3 54 1 58-1 58-3 54-2 6-5 7zM2097 374l-8 0-6-2-50-26-52-30-42-26-42-29-4-4-4-8 6-2 8 1 50 26 52 30 42 26 44 30 6 8 1 5-1 1zM2417 373l-6 1-8-1 3-8 5-5 56-38 68-41 56-29 12-5 8 0 1 2-3 7-4 5-56 37-72 43-60 32zM2259 491l-10 1-10-3-9-6-5-10-1-12 3-10 6-8 10-6 10-1 10 3 9 8 5 9 1 11-3 10-6 8-10 6zM1901 681l-12 0 2-7 4-5 54-37 66-40 48-26 22-11 14 0-4 8-4 5-54 36-76 46-60 31zM2611 681l-10 0-12-6-48-25-52-31-78-51-5-5-3-8 10-1 6 2 52 27 56 33 78 51 6 10 1 4-1 0zM2251 897l-5-6-2-8-4-56 0-56 0-56 4-56 2-6 5-7 5 7 2 6 3 54 1 58-1 58-3 54-2 6-5 8zM1971 899l-41 0-35-25-7-11 7-2 8 2 68 36zM2571 899l-41 0 69-37 8-1 6 2-7 12-35 24z"/>
<path fill="#7f00d9" d="M1901 65l-12 0 4-8 4-4 35-24 38 0-69 36zM2611 66l-12-1-67-36 37 0 36 25 5 7 2 4-1 1zM2251 281l-5-6-2-6-3-56 0-56 0-56 3-56 2-6 5-7 4 7 2 6 3 56 1 56-1 56-3 56-6 12zM2097 373l-8 0-8-3-50-26-48-28-42-26-44-30-8-11 6-2 8 2 48 25 52 30 42 26 46 31 5 8 1 4zM2413 373l-9 0 5-10 64-44 64-38 52-28 12-5 8-1 3 2-7 11-60 40-74 44-58 29zM2259 489l-10 1-10-3-8-6-4-8-2-10 3-10 5-8 10-6 10-1 10 3 7 6 5 9 1 11-3 10-6 7-8 5zM1895 681l-4-1-2-1 7-10 65-43 56-34 48-26 20-10 12-1-1 6-5 6-64 43-82 48-42 21-8 2zM2611 680l-8 1-6-2-44-23-48-28-46-28-44-30-7-5-4-8 3-2 10 1 46 24 42 24 52 32 48 32 5 7 2 4-1 1zM2251 896l-5-7-2-6-3-54 0-58 0-56 3-54 1-6 6-8 5 8 1 6 3 54 1 56-1 56-3 56-2 6-4 7zM1969 899l-37 0-35-24-4-4-4-8 8-1 6 2 66 35zM2569 899l-37 0 67-36 6-1 7 1-3 7-4 4-36 25z"/>
<path fill="#8500d7" d="M1899 65l-9 0 5-9 39-27 34 0-69 36zM2611 65l-12-1-66-35 34 0 38 25 5 7 1 4zM2251 281l-4-6-2-6-3-56-1-56 1-56 3-56 2-6 4-6 5 12 3 58 1 54-1 54-3 58-5 12zM2095 373l-10-2-22-11-88-50-78-51-7-10 7-1 6 1 54 29 54 32 80 52 6 9-2 2zM2417 371l-10 2-3-2 7-9 60-40 60-36 48-26 22-11 10 0-6 10-56 37-70 42-62 33zM2259 487l-10 1-8-2-8-5-4-8-2-10 2-9 6-8 8-5 10-1 8 2 6 5 6 9 1 9-2 10-5 7-8 5zM1901 679l-8 1-3-1 7-10 62-41 60-36 48-26 20-10 8-1 2 2-6 9-60 40-70 42-60 31zM2611 679l-6 1-6-1-86-47-52-32-42-28-10-8-5-7 5-2 8 2 86 47 52 32 48 32 5 5 3 6zM2251 895l-4-6-2-6-3-56-1-56 1-56 3-56 6-12 4 8 1 6 3 56 1 54-1 54-3 58-5 12zM1967 899l-34 0-36-25-5-5-1-6 12 1 64 35zM2567 899l-33 0 65-35 8-1 4 1-6 10-38 25z"/>
<path fill="#8c00d4" d="M1901 64l-8 1-2-2 6-8 39-26 30 0-65 35zM2609 65l-10-2-64-34 31 0 39 26 5 8-1 2zM2251 280l-5-11-3-54-1-58 1-58 3-54 1-6 4-6 4 12 3 56 1 56-1 56-3 54-1 6-3 7zM2095 372l-10-1-24-13-84-48-78-51-4-3-5-7 9 0 10 4 46 25 54 32 80 51 6 7 1 3-1 1zM2415 371l-8 1-2-1 8-10 60-39 100-58 28-15 10 0-8 10-58 39-70 41-60 32zM2259 485l-8 2-8-2-7-4-6-8-1-10 2-8 4-7 8-5 8-2 8 2 8 6 4 6 1 10-1 8-6 8-6 4zM1899 679l-8 0 6-9 64-42 60-36 44-24 22-11 9 0-7 10-62 40-72 43-56 29zM2609 680l-8-1-22-11-84-48-80-52-6-5-4-6 6-1 6 2 50 26 54 32 82 53 7 8 0 2-1 1zM2251 895l-4-6-1-6-3-54-1-58 4-110 1-6 4-7 3 7 1 6 3 54 1 56-1 56-3 56-4 12zM1965 899l-30 0-38-26-6-8 4-2 8 2 62 34zM2565 899l-29 0 63-34 8-2 3 2-7 9-38 25z"/>
<path fill="#9200d1" d="M1901 63l-6 1-3-1 5-7 40-27 27 0-63 34zM2609 64l-10-2-62-33 27 0 41 27 5 7-1 1zM2251 279l-4-6-1-6-3-110 3-112 5-11 3 9 1 12 3 102-3 102-1 12-3 8zM2095 372l-10-2-26-14-84-48-76-49-6-7 0-3 8 1 26 14 84 48 78 50 4 5 3 4-1 1zM2413 371l-7 0 5-7 60-40 96-56 34-18 8-1-1 4-5 5-60 40-74 44-56 29zM2259 483l-8 2-8-2-6-4-4-6-2-8 1-8 5-8 6-4 8-2 7 2 6 4 5 7 2 7-2 8-4 8-6 4zM1897 679l-5 0 5-8 68-45 94-54 28-15 8 0-6 9-68 44-74 44-50 25zM2609 679l-8-1-24-12-84-48-80-52-4-4-3-5 9 0 16 9 92 52 80 52 5 5 1 4zM2251 894l-5-11-3-112 3-110 2-6 3-6 3 8 1 12 3 102-3 102-1 14-3 7zM1963 899l-26 0-40-27-5-7 5-1 6 2 60 33zM2563 899l-25 0 61-33 6-2 5 1-7 8-40 26z"/>
<path fill="#9800ce" d="M1899 63l-7 0 7-8 40-26 24 0-64 34zM2609 63l-4 0-6-1-60-33 24 0 40 27 6 7zM2251 278l-4-9-3-112 3-112 4-10 2 6 1 8 3 108-3 108 0 6-3 7zM2095 371l-8-1-20-10-84-48-84-54-6-8 6 0 12 6 92 52 84 54 6 5 2 4zM2411 371l-5 0 7-8 76-49 54-32 48-26 12-6 4-1 2 2-6 7-78 50-68 40-46 23zM2257 482l-8 1-6-2-5-4-4-6-1-8 1-6 5-7 6-4 6-1 7 2 5 4 4 6 2 6-2 8-4 7-6 4zM1901 677l-6 2-2-2 6-7 68-44 102-59 18-9 6-1 1 2-7 7-70 46-62 36-54 29zM2607 679l-6-2-30-15-70-41-72-45-18-12-4-5 2-2 8 2 98 55 88 56 5 7-1 2zM2251 893l-4-10-3-112 3-110 4-11 3 7 0 6 3 108-3 108-1 8-2 6zM1961 899l-23 0-39-26-7-8 9 1 61 33-1 0zM2563 899l-24 0 62-33 8-1-6 7-40 27z"/>
<path fill="#9600c5" d="M1897 63l-4 0 5-6 42-28 21 0-64 34zM2607 63l-10-3-57-31 21 0 42 27 4 5 1 2-1 0zM2251 277l-3-6-1-8-2-106 2-106 1-8 3-7 2 7 1 18 2 96-2 96-1 16-2 8zM2093 370l-6-1-22-11-74-42-70-44-23-15-5-6 6 0 10 5 92 52 88 56 4 5 0 1zM2415 369l-6 1-1-1 5-5 68-44 92-54 28-15 7 0-7 7-64 42-64 38-58 31zM2257 479l-6 2-6-2-6-4-3-4-1-8 1-6 3-4 6-4 6-1 6 1 8 8 1 6-1 8-4 6-4 2zM1899 677l-4 1-2-1 8-7 68-44 94-55 24-12 4-1 3 1-11 9-68 44-64 38-52 27zM2607 678l-6-1-28-15-70-40-70-44-20-14-5-5 3-1 6 2 96 54 88 56 6 5 1 2-1 1zM2251 892l-3-5-1-10-2-106 2-106 1-8 3-6 2 8 1 16 2 96-2 96-1 18-2 7zM1959 899l-20 0-40-27-5-5 1-2 6 1 59 33-1 0zM2561 899l-20 0 58-32 8-2 0 2-4 5-42 27z"/>
<path fill="#8b00b6" d="M1901 61l-4 1-2-1 46-32 19 0-59 32zM2605 62l-63-33 18 0 43 28 4 4-2 1zM2251 276l-3-7 0-16-3-96 3-96 1-18 2-6 2 8 1 26 2 86-2 86-1 26-2 7zM1895 252l-1-1 3 0-2 1zM2413 369l-5 0 15-11 62-40 82-48 34-18 6-1-6 6-72 47-62 36-54 29zM2091 370l-40-21-58-33-58-36-40-27 2-2 4 1 92 52 92 58 8 7-2 1zM2255 477l-10 0-4-3-3-5-1-6 2-6 8-7 10 1 4 4 3 6-1 10-8 6zM1897 677l-3 0 5-5 78-50 86-50 24-13 6 0-4 4-16 11-66 42-62 36-48 25zM2607 677l-6-1-20-11-70-39-68-42-30-20-5-5 3-1 8 4 86 48 80 50 18 12 4 5zM2251 891l-3-6-1-18-2-96 3-96 0-16 3-7 2 7 1 26 2 86-2 86-1 28-2 6zM1959 899l-18 0-42-28-5-4 3-1 4 1 58 32zM2559 899l-17 0 57-31 6-2 2 1-8 7-40 25z"/>
<path fill="#8000a7" d="M1899 61l-4 0 48-32 15 0-59 32zM2605 62l-62-33 16 0 44 29 3 3-1 1zM2251 275l-2-6-1-26-2-86 2-86 1-26 2-7 1 7 2 34 1 78-1 78-2 34-1 6zM2091 369l-42-21-58-34-58-36-37-25 1-2 6 3 92 52 86 54 9 7 2 2-1 0zM2411 369l-2 0 6-5 88-56 88-50 12-6 3 1-37 25-58 36-56 32-44 23zM2253 475l-8-1-5-7 1-8 3-4 5-2 8 2 5 8-2 8-7 4zM1901 675l-4 1-1-1 69-45 78-46 44-24 5-1-5 5-68 44-64 38-54 29zM2605 677l-44-23-62-36-64-40-22-15-4-4 6 1 26 14 76 44 82 52 6 5 0 2zM2251 890l-2-5-1-28-2-86 2-86 1-26 2-6 1 6 2 36 1 76-1 78-2 34-1 7zM1895 677l1 0-1 0zM2607 677l-1 0 1 0zM1957 899l-15 0-41-27-6-5 6 1 56 31zM2559 899l-15 0 57-32 5 0-5 5-42 27z"/>
<path fill="#750098" d="M1901 60l-2 1-1-2 46-30 13 0-56 31zM2605 61l-61-32 13 0 46 29 2 3zM2251 274l-3-41-1-76 1-76 3-41 3 49 0 68 0 68-3 49zM1897 61l0-1 1 1-1 0zM2089 368l-42-22-58-34-52-32-41-27 5 0 26 14 70 41 74 46 18 12 0 2zM2605 253l-2 2-1-2 3 0zM2415 367l-2 1-2-1 90-57 88-50 12-7 2 2-90 57-98 55zM2255 471l-6 1-5-3-1-6 4-6 6-1 4 3 2 6-4 6zM1903 674l-2 1-2-2 84-53 76-44 28-16 3 1-79 51-108 62zM2603 676l-102-58-90-57 2-1 26 14 80 46 82 52 3 3-1 1zM2251 889l-3-42-1-76 1-76 3-41 3 49 0 68-1 70-2 48zM1899 676l-2-1 2-2 1 2-1 1zM1955 899l-12 0-46-30 2-2 2 1 55 31-1 0zM2557 899l-12 0 56-31 2-1 1 2-47 30z"/>
<path fill="#6a0089" d="M1905 57l-2 1-1-1 43-28 11 0-51 28zM2595 56l-49-27 10 0 41 26-2 1zM2251 272l-3-47-1-68 1-68 3-48 3 116-3 115zM2599 58l-3-1 1-2 3 2-1 1zM1901 59l-2 0 2-1 0 1zM2601 59l-1 0 1-1 1 1-1 0zM1901 256l-2-1 2-1 1 1-1 1zM2599 257l-2 1-2-1 6-3 1 1-3 2zM1905 258l-3-1 1-1 3 1-1 1zM2079 363l-82-47-92-57 2-2 8 4 84 49 80 50 1 1-1 2zM2425 361l-2 1-2-1 78-49 84-49 12-6 1 2-81 51-90 51zM2085 366l-6-3 2-2 5 4-1 1zM2421 364l-2 0-1-1 3-2 1 2-1 1zM2417 366l-2-1 2-1 1 1-1 1zM2089 367l-3 0 3 0zM2413 367l0-1 2 1-2 0zM2253 465l-2 2-2-1-1-3 3-1 2 1 0 2zM2089 561l-2 0 2-1 0 1zM2413 562l-1-1 2 0-1 1zM2087 563l-2 1-1-1 3 0zM2417 564l-2-2 3 1-1 1zM1913 668l-2 1-2-2 72-45 82-48 18-10 2 0 1 1-81 51-90 52zM2597 672l-92-52-88-55 2-1 12 6 80 46 87 55-1 1zM2251 887l-3-48-1-68 1-68 3-47 3 115-3 116zM1907 671l-2 1-2-1 6-4 2 2-4 2zM1903 673l-3 0 3-2 0 2zM2601 674l-3-1 1-1 2 1 0 1zM2603 675l0-1 0 1zM1901 869l-3 0 3 0zM2603 869l-3 0 3 0zM1903 872l-2-1 4 0-2 1zM2597 873l-2 1-2-1 6-3 1 1-3 2zM1907 875l-3-2 1-2 3 2-1 2zM1955 899l-11 0-37-24 2-2 2 1 44 25zM2557 899l-11 0 45-25 2-1 1 2-37 24z"/>
<path fill="#5f007a" d="M1925 46l-2 1-2-2 25-16 9 0-30 17zM2585 50l-38-21 8 0 32 20-2 1zM2251 270l-3-113 3-114 2 114-2 113zM1915 51l-2 1-1-1 9-6 2 2-8 4zM2589 52l-3-1 1-2 3 2-1 1zM1911 53l-3 0 3-1 0 1zM2591 53l-1 0 1-1 2 1-2 0zM1907 55l-1 0 1-1 1 1-1 0zM2595 56l-2-1 2-1 0 2zM1903 57l1 0-1 0zM1905 257l-1 0 1 0zM2597 257l1 0-1 0zM1909 259l-3 0 3 0zM2595 259l-3 0 3 0zM1911 262l-2-1 2-1 1 1-1 1zM2589 263l-2 1-2-1 6-3 1 1-3 2zM1915 264l-3-1 1-1 3 1-1 1zM2069 356l-78-44-76-47 2-2 2 1 72 42 78 48 1 1-1 1zM2585 266l-2 1-2-2 4-2 1 2-1 1zM2435 355l-2 1-2-1 76-47 72-42 2-1 2 2-76 47-72 41zM2075 360l-6-3 2-2 5 4-1 1zM2431 358l-2 0-1-1 3-2 1 2-1 1zM2427 360l-2-1 2-1 1 1-1 1zM2079 361l-2-1 2 1zM2423 362l0-2 2 1-2 1zM2081 363l1 0-1 0zM2421 363l-2 0 2 0zM2085 365l-1 0 1 0zM2083 565l-2 0 2 0zM2419 565l1 0-1 0zM2079 568l-2-1 2-1 1 1-1 1zM2423 568l-2-1 3 0-1 1zM2077 569l-2 1-2-1 4 0zM2427 570l-2-2 3 1-1 1zM2073 572l-2 1-1-2 3-1 1 1-1 1zM2587 666l-74-42-86-53 2-1 4 2 70 40 85 53-1 1zM1923 662l-2 1-2-2 66-41 80-46 4-3 2 2-66 41-82 48zM2251 885l-3-114 3-113 2 113-2 114zM1917 665l-2 1-2-1 6-4 1 2-3 2zM1913 667l-3 0 3-2 0 2zM2591 668l-3-1 1-1 2 1 0 1zM1909 669l-2 0 2-1 0 1zM2593 669l-1 0 1-1 1 1-1 0zM1905 671l-1 0 1-1 1 1-1 0zM2597 671l-1 0 1 0zM2599 871l-1 0 1 0zM1907 873l-2 0 2 0zM2595 873l-1 0 2 0-1 0zM1911 875l-3 0 3 0zM2593 875l-3 0 3-1 0 1zM1913 878l-2-1 4 0-2 1zM2587 879l-2 1-2-1 6-3 1 1-3 2zM1917 880l-3-1 1-2 3 2-1 1zM1953 899l-8 0-28-18 2-2 2 1 33 19-1 0zM2555 899l-8 0 34-19 2-1 1 2-29 18z"/>
<path fill="#54006b" d="M1935 39l-2 1-2-1 16-10 6 0-18 10zM2569 41l-21-12 6 0 16 10-1 2zM1931 42l-2 1-1-2 3-2 1 2-1 1zM2575 44l-6-3 2-2 5 4-1 1zM1927 44l-2-1 2-1 2 1-2 1zM1925 45l-3 0 3-2 0 2zM2579 46l-3-1 1-1 3 1-1 1zM1921 47l-2 0 2-1 0 1zM2581 47l-1 0 1-1 1 1-1 0zM1917 49l-1 0 1-1 1 1-1 0zM2585 49l-2 0 2-1 0 1zM2251 260l-2-103 2-104 2 104-2 103zM2587 263l1 0-1 0zM1917 265l2 0-2 0zM2585 265l-3 0 3 0zM1921 268l-2-1 2-1 1 1-1 1zM2581 268l-2-1 2-1 1 1-1 1zM1925 270l-2-2 3 1-1 1zM2577 270l-2-1 4 0-2 1zM1935 277l-9-6 1-1 10 5-2 2zM2575 271l-2 1-1-1 3-2 0 2zM2445 349l-2 1-2-1 104-63 26-15 2 2-128 76zM2055 348l-120-71 2-2 2 1 48 28 70 43-2 1zM2059 350l-3-1 1-2 3 2-1 1zM2063 352l-4-1 2-1 2 1 0 1zM2441 351l-3 0 3-2 1 2-1 0zM2065 354l-2-1 3 0-1 1zM2437 354l-2-1 2-1 1 1-1 1zM2069 355l-3 0 3 0zM2433 356l0-2 2 1-2 1zM2071 357l1 0-1 0zM2431 357l-2 0 2 0zM2075 359l-1 0 1 0zM2073 571l-2 0 2 0zM2429 571l1 0-1 0zM2069 574l-2-1 2-1 1 1-1 1zM2433 574l-2-1 3 0-1 1zM2065 576l-1-1 3 0-2 1zM2437 576l-2-2 3 1-1 1zM2063 577l-2 1-1-1 3-1 0 1zM2443 580l-5-3 1-1 6 3-2 1zM2057 581l-2 1-2-1 6-3 2 1-4 2zM2447 583l-3-2 1-2 3 2-1 2zM1933 655l-2 1-2-1 108-65 16-9 1 2-121 72zM2567 654l-120-71 2-2 2 1 54 32 64 39-2 1zM2571 657l-4-2 2-2 3 2-1 2zM1929 658l-2 1-1-2 3-2 1 2-1 1zM2577 660l-6-3 2-2 5 4-1 1zM1925 660l-2-1 2-1 2 1-2 1zM1923 661l-3 0 3-1 0 1zM2581 661l-3 0 1-1 2 1zM1919 663l-2 0 2-1 0 1zM2583 663l-1 0 1-1 1 1-1 0zM1915 665l-1 0 1-1 1 1-1 0zM2587 665l-1 0 1 0zM2251 875l-2-104 2-103 2 103-2 104zM1917 879l-2 0 2 0zM2585 879l-1 0 2 0-1 0zM1919 881l0-1 2 1-2 0zM2583 881l-3 0 3 0zM1923 884l-2-1 2-1 1 1-1 1zM2579 884l-2-1 2-1 1 1-1 1zM1927 886l-3-1 1-1 3 1-1 1zM2577 885l-2 1-2-1 4-2 0 2zM1951 899l-5 0-19-12 2-2 2 1 22 13-2 0zM2573 888l-2 1-1-2 3-2 1 2-1 1zM2555 899l-7 0 21-12 2 2-16 10z"/>
<path fill="#49005c" d="M1945 33l-2 1-2-1 7-4 4 0-7 4zM2555 32l-6-3 4 0 4 2-2 1zM2559 34l-3-1 1-2 3 2-1 1zM1941 35l-3 0 3-1 1 1-1 0zM2563 37l-4-2 2-1 2 1 0 2zM1937 38l-2-1 2-1 1 1-1 1zM2565 38l-2-1 2-1 1 1-1 1zM1935 39l-3 0 3 0zM2569 39l-3 0 3 0zM1931 41l-2 0 2 0zM2571 41l0-1 1 1-1 0zM1927 43l0-1 0 1zM2575 43l-1 0 1 0zM2251 247l-2-90 2-91 1 91-1 90zM1927 271l1 0-1 0zM2573 271l1 0-1 0zM1931 274l-1-1 1-1 1 1-1 1zM2571 273l-2 0 2-1 0 1zM1935 276l-2-1 3 0-1 1zM2567 276l-2-1 3 0-1 1zM1939 278l-3-1 3 0 0 1zM2565 277l-3 0 3-1 0 1zM1941 280l-2-1 2-1 2 1-2 1zM2559 281l-2 1-2-1 6-3 1 1-3 2zM1945 282l-3-1 1-2 3 2-1 1zM1955 289l-10-6 2-2 10 6-2 2zM2555 283l-2 1-2-1 4-2 0 2zM2475 332l-2 1-2-2 78-47 2-1 2 2-78 47zM2035 336l-80-47 2-2 32 19 48 29-2 1zM2465 337l-2 1-2-1 10-6 2 2-8 4zM2039 338l-3-1 1-2 3 2-1 1zM2045 342l-6-3 2-2 2 2 3 2-1 1zM2461 340l-2 0-1-1 3-2 1 2-1 1zM2457 342l-2-1 2-1 2 1-2 1zM2049 344l-3-1 1-1 3 1-1 1zM2455 343l-3 0 3-2 0 2zM2051 346l-1-1 1-1 2 1-2 1zM2451 345l-3 0 3-1 0 1zM2055 348l-2-1 3 0-1 1zM2447 348l-2-1 2-1 1 1-1 1zM2059 349l-2 0 2 0zM2443 349l1 0-1 0zM2059 579l-1 0 1-1 0 1zM2443 579l-1 0 2 0-1 0zM2055 582l-1-1 2 0-1 1zM2447 581l-2 0 2 0zM2053 583l-3 0 3-1 0 1zM2451 583l-3 0 1-1 2 1zM2047 587l-2 1-2-1 6-3 1 1-3 2zM2453 586l-2-1 3 0-1 1zM2457 588l-3-1 1-1 3 1-1 1zM2043 589l-2 2-1-2 3-2 1 2-1 0zM2467 595l-10-6 2-2 9 6-1 2zM2037 593l-2 1-2-1 6-4 2 2-4 2zM1953 643l-2 1-2-1 82-49 2-1 1 2-81 48zM2547 642l-80-47 2-2 32 19 48 29-2 1zM2557 648l-10-5 2-2 2 1 7 5-1 1zM1947 647l-2 1-2-1 6-4 1 2-3 2zM1943 649l-2 1-1-1 3-2 0 2zM2561 650l-3-1 1-2 3 2-1 1zM1939 651l-2 0 2-1 1 1-1 0zM2563 652l-2-1 2-1 2 1-2 1zM1935 654l-2-1 2-1 1 1-1 1zM2567 654l-2-1 2-1 1 1-1 1zM1933 655l-3 0 3 0zM2571 655l-3 0 3 0zM1929 657l-1 0 1 0zM2573 657l0-1 1 1-1 0zM1925 659l0-1 0 1zM2251 862l-2-91 2-90 1 90-1 91zM2575 885l1 0-1 0zM1929 887l1 0-1 0zM2573 887l-2 0 2 0zM1933 890l-2-1 2-1 1 1-1 1zM2569 890l-2-1 2-1 1 1-1 1zM1937 892l-2-2 3 1-1 1zM2565 892l-2-1 4 0-2 1zM1941 894l-3-1 3 0 0 1zM2563 893l-2 1-1-1 3-1 0 1zM1943 896l-2-1 2-1 2 1-2 1zM2557 897l-2 1-2-1 6-3 1 1-3 2zM1947 898l-3-1 1-2 3 2-1 1zM1951 899l-4 0 2-2 2 2zM2553 899l-4 0 4-2 1 2-1 0z"/>
<path fill="#3e004e" d="M1951 29l-2 0 2 0zM2551 29l-1 0 2 0-1 0zM1947 32l-1-1 1-1 1 1-1 1zM2555 31l-2 0 2-1 0 1zM1943 33l1 0-1 0zM2559 33l-2 0 2 0zM2251 231l-1-74 1-75 0 149zM1941 279l0-1 0 1zM1945 281l-1 0 1 0zM2557 281l-1 0 2 0-1 0zM1947 283l2 0-2 0zM2555 283l-3 0 3 0zM1951 286l-1-1 2 0-1 1zM2551 285l-2 0 2-1 0 1zM1955 288l-2-1 2-1 0 2zM2547 288l-2-1 3 0-1 1zM1959 290l-3-1 1-1 2 2zM2545 289l-3 0 3 0zM1961 292l-2-1 2-1 2 1-2 1zM2541 292l-2-1 2-1 1 1-1 1zM1965 294l-2-2 3 1-1 1zM2537 294l-2-1 4 0-2 1zM1969 296l-3-1 3-1 0 2zM2535 295l-2 1-1-1 3-1 0 1zM1971 298l-2-1 2-1 2 1-2 1zM2531 298l-2 1-1-2 3-1 1 1-1 1zM1975 300l-3-1 1-2 3 2-1 1zM2527 300l-2-1 2-1 2 1-2 1zM1979 302l-3-1 1-1 2 0 0 2zM2525 301l-2 1-1-1 3-2 0 2zM1985 306l-6-3 2-1 5 3-1 1zM2521 304l-2 1-1-2 3-1 1 1-1 1zM2517 306l-2-1 2-1 2 1-2 1zM1989 308l-3-1 1-2 3 2-1 1zM2515 307l-2 1-1-1 3-2 0 2zM1995 312l-6-3 2-1 5 3-1 1zM2511 310l-2 1-1-2 3-1 1 1-1 1zM2507 312l-2-1 2-1 2 1-2 1zM1999 314l-3-1 1-2 3 2-1 1zM2505 313l-2 1-1-1 3-2 0 2zM2005 318l-6-3 2-1 5 3-1 1zM2501 316l-2 1-1-2 3-1 1 1-1 1zM2497 318l-2-1 2-1 2 1-2 1zM2009 320l-3-1 1-2 3 2-1 1zM2495 319l-2 1-1-1 3-2 0 2zM2015 324l-6-3 2-1 5 3-1 1zM2491 322l-2 0-1-1 3-1 1 1-1 1zM2487 324l-2-1 2-1 2 1-2 1zM2019 326l-3-1 1-1 3 1-1 1zM2485 325l-2 1-1-1 3-2 0 2zM2025 330l-6-3 2-1 2 1 3 2-1 1zM2481 327l-3 0 3-1 1 1-1 0zM2477 330l-2-1 2-1 1 1-1 1zM2029 332l-3-1 3-1 0 2zM2475 331l-3 0 3 0zM2031 334l-1-1 1-1 2 1-2 1zM2471 333l-2 0 2-1 0 1zM2035 336l-2-1 3 0-1 1zM2467 336l-2-1 2-1 1 1-1 1zM2039 337l-2 0 2 0zM2463 337l0-1 1 1-1 0zM2041 339l0-1 1 1-1 0zM2461 339l-2 0 2 0zM2045 341l-1 0 1 0zM2457 341l0-1 0 1zM2045 587l1 0-1 0zM2043 589l-2 0 2 0zM2459 589l1 0-1 0zM2039 591l-2 0 2-1 0 1zM2463 592l-1-1 1-1 1 1-1 1zM2035 594l-1-1 2 0-1 1zM2467 594l-2-1 2-1 0 2zM2033 595l-3 0 3-1 0 1zM2471 595l-3 0 3 0zM2029 598l-2-1 2-1 1 1-1 1zM2473 598l-2-1 2-1 1 1-1 1zM2025 600l-2-1 4 0-2 1zM2477 600l-2-2 3 1-1 1zM2023 601l-3 0 3-1 0 1zM2481 602l-3-1 3 0 0 1zM2017 605l-2 1-2-1 6-3 1 1-3 2zM2483 604l-2-1 2-1 2 1-2 1zM2487 606l-3-1 1-2 3 2-1 1zM2013 607l-2 1-1-1 3-2 0 2zM2491 609l-3-2 1-1 2 0 0 3zM2007 611l-2 1-2-1 6-3 1 1-3 2zM2493 610l-2-1 2-1 2 1-2 1zM2497 612l-3-1 1-2 3 2-1 1zM2003 613l-2 1-1-1 3-2 0 2zM2501 615l-3-2 1-1 2 0 0 3zM1997 617l-2 1-2-1 6-3 1 1-3 2zM2503 616l-2-1 2-1 2 1-2 1zM2507 618l-3-1 1-2 3 2-1 1zM1993 619l-2 1-1-1 3-2 0 2zM2511 621l-3-2 1-2 2 1 0 3zM1987 623l-2 1-2-1 6-3 1 1-3 2zM2513 622l-2-1 2-1 2 1-2 1zM2517 624l-3-1 1-2 3 2-1 1zM1983 625l-2 1-1-1 3-2 0 2zM2521 626l-3-1 1-2 2 1 0 2zM1977 629l-2 1-2-1 6-3 1 1-3 2zM2523 628l-2-1 2-1 2 1-2 1zM2527 630l-3-1 1-2 3 2-1 1zM1973 631l-2 1-1-1 3-2 0 2zM2531 632l-3-1 1-1 2 0 0 2zM1969 634l-2 0-1-1 3-1 1 1-1 1zM2533 634l-2-1 2-1 2 1-2 1zM1965 636l-2-1 2-1 2 1-2 1zM2537 636l-2-1 0-2 3 2-1 1zM1963 637l-3 0 3-1 0 1zM2541 638l-3-1 1-1 2 2zM1959 639l-2 0 2-1 1 1-1 0zM2543 640l-2-1 2-1 1 1-1 1zM1955 642l-2-1 3 0-1 1zM2547 642l-2-1 2-1 0 2zM1953 643l-3 0 3 0zM2551 643l-3 0 3 0zM1949 645l-2 0 2-1 0 1zM2553 645l-1 0 2 0-1 0zM1945 647l-1 0 2 0-1 0zM2557 647l-1 0 1 0zM2251 846l-1-75 1-74 0 149zM1943 895l-1 0 1-1 1 1-1 0zM2559 895l-1 0 1 0zM1947 897l-2 0 2 0zM2555 897l-1 0 2 0-1 0zM1949 899l2 0-2 0zM2553 899l-3 0 3 0z"/>
<path fill="#340041" d="M2251 210l0-106 0 106zM1971 297l1 0-1 0zM1975 299l-1 0 1 0zM2527 299l0-1 0 1zM1981 303l-1 0 2 0-1 0zM2521 303l-1 0 1 0zM1985 305l-1 0 1 0zM2517 305l0-1 1 1-1 0zM1987 307l1 0-1 0zM2513 307l1 0-1 0zM1991 309l0-1 1 1-1 0zM2511 309l-1 0 1 0zM1995 311l-1 0 1 0zM2507 311l-1 0 1-1 1 1-1 0zM1997 313l1 0-1 0zM2503 313l1 0-1 0zM2001 315l1 0-1 0zM2501 315l-1 0 1 0zM2005 317l-1 0 1 0zM2497 317l-1 0 1-1 1 1-1 0zM2493 319l1 0-1 0zM2011 321l1 0-1 0zM2015 323l-1 0 1 0zM2487 323l0-1 0 1zM2483 603l0-1 0 1zM2015 605l1 0-1 0zM2009 609l-1 0 1 0zM2493 609l-1 0 1-1 1 1-1 0zM2005 611l1 0-1 0zM2497 611l-1 0 1 0zM2001 613l1 0-1 0zM2499 613l1 0-1 0zM1999 615l-1 0 1 0zM2503 615l-1 0 1-1 1 1-1 0zM1995 617l-1 0 2 0-1 0zM2507 617l-1 0 1 0zM1991 619l1 0-1 0zM2509 619l1 0-1 0zM1989 621l-1 0 1 0zM2513 621l-1 0 1-1 1 1-1 0zM1985 623l-1 0 2 0-1 0zM2517 623l-1 0 1 0zM1981 625l1 0-1 0zM2519 625l1 0-1 0zM1979 627l-1 0 1 0zM2523 627l0-1 1 1-1 0zM1975 629l1 0-1 0zM2527 629l-1 0 1 0zM2533 633l0-1 0 1zM2251 824l0-106 0 106z"/>
</g></g>
<polygon points="1296.7,232.0 1211.0,78.3 1039.6,78.3 953.9,232.0 1039.6,385.7 1211.0,385.7" fill="none" stroke="#000" stroke-width="3.4" stroke-linejoin="miter"/>
<path d="M1331.0 19.0V445.0H919.6" fill="none" stroke="#000" stroke-width="2"/>
<text class="sa" x="59.68" y="32.64" font-size="45.50">0.8</text>
<text class="sa" x="58.68" y="139.64" font-size="45.50">0.4</text>
<text class="sa" x="60.38" y="245.49" font-size="45.50">0</text>
<text class="sa" x="46.25" y="351.94" font-size="45.50">-0.4</text>
<text class="sa" x="46.25" y="458.49" font-size="45.50">-0.8</text>
<text class="sa" x="101.35" y="497.94" font-size="45.50">-0.8</text>
<text class="sa" x="204.05" y="497.94" font-size="45.50">-0.4</text>
<text class="sa" x="340.28" y="497.94" font-size="45.50">0</text>
<text class="sa" x="425.28" y="497.94" font-size="45.50">0.4</text>
<text class="sa" x="527.28" y="497.94" font-size="45.50">0.8</text>
<text class="sa" x="837.38" y="32.64" font-size="45.50">0.8</text>
<text class="sa" x="836.38" y="139.64" font-size="45.50">0.4</text>
<text class="sa" x="838.08" y="245.49" font-size="45.50">0</text>
<text class="sa" x="823.95" y="351.94" font-size="45.50">-0.4</text>
<text class="sa" x="823.95" y="458.49" font-size="45.50">-0.8</text>
<text class="sa" x="879.05" y="497.94" font-size="45.50">-0.8</text>
<text class="sa" x="981.75" y="497.94" font-size="45.50">-0.4</text>
<text class="sa" x="1117.98" y="497.94" font-size="45.50">0</text>
<text class="sa" x="1202.98" y="497.94" font-size="45.50">0.4</text>
<text class="sa" x="1304.98" y="497.94" font-size="45.50">0.8</text>
<g transform="translate(267.00,552)"><text class="se" x="0.00" y="0.00" font-size="40">k</text><text class="se" x="21.20" y="7.20" font-size="29">x</text><text class="se" x="43.60" y="0.00" font-size="40">[2π/a</text><text class="se" x="124.30" y="11.20" font-size="28">0</text><text class="se" x="146.40" y="0.00" font-size="40">]</text></g>
<g transform="translate(25.50,304.30) rotate(-90)"><text class="se" x="0.00" y="0.00" font-size="40">k</text><text class="se" x="21.20" y="7.20" font-size="29">y</text><text class="se" x="43.60" y="0.00" font-size="40">[2π/a</text><text class="se" x="124.30" y="11.20" font-size="28">0</text><text class="se" x="146.40" y="0.00" font-size="40">]</text></g>
<g transform="translate(1045.00,552)"><text class="se" x="0.00" y="0.00" font-size="40">k</text><text class="se" x="21.20" y="7.20" font-size="29">x</text><text class="se" x="43.60" y="0.00" font-size="40">[2π/a</text><text class="se" x="124.30" y="11.20" font-size="28">0</text><text class="se" x="146.40" y="0.00" font-size="40">]</text></g>
<g transform="translate(803.50,304.30) rotate(-90)"><text class="se" x="0.00" y="0.00" font-size="40">k</text><text class="se" x="21.20" y="7.20" font-size="29">y</text><text class="se" x="43.60" y="0.00" font-size="40">[2π/a</text><text class="se" x="124.30" y="11.20" font-size="28">0</text><text class="se" x="146.40" y="0.00" font-size="40">]</text></g>
<text class="se" x="154.52" y="86.50" font-size="55.98" textLength="43.95" lengthAdjust="spacingAndGlyphs">a)</text>
<text class="se" x="935.00" y="80.50" font-size="55.98" textLength="41.76" lengthAdjust="spacingAndGlyphs">b)</text>
<linearGradient id="g580" x1="0" y1="0" x2="0" y2="1"><stop offset="0.000" stop-color="#040004"/><stop offset="0.025" stop-color="#22002a"/><stop offset="0.050" stop-color="#3f0050"/><stop offset="0.075" stop-color="#5d0078"/><stop offset="0.100" stop-color="#7c00a3"/><stop offset="0.125" stop-color="#9b00cd"/><stop offset="0.150" stop-color="#8a00d5"/><stop offset="0.175" stop-color="#7800dc"/><stop offset="0.200" stop-color="#6700e4"/><stop offset="0.225" stop-color="#5700ea"/><stop offset="0.250" stop-color="#4600f0"/><stop offset="0.275" stop-color="#2900f6"/><stop offset="0.300" stop-color="#0c00fc"/><stop offset="0.325" stop-color="#000fff"/><stop offset="0.350" stop-color="#0028ff"/><stop offset="0.375" stop-color="#0060ff"/><stop offset="0.400" stop-color="#009bff"/><stop offset="0.425" stop-color="#00daff"/><stop offset="0.450" stop-color="#00ffea"/><stop offset="0.475" stop-color="#00ffb6"/><stop offset="0.500" stop-color="#00ff82"/><stop offset="0.525" stop-color="#0bff54"/><stop offset="0.550" stop-color="#15ff25"/><stop offset="0.575" stop-color="#28ff00"/><stop offset="0.600" stop-color="#5aff00"/><stop offset="0.625" stop-color="#8cff00"/><stop offset="0.650" stop-color="#b9fd00"/><stop offset="0.675" stop-color="#e5fb00"/><stop offset="0.700" stop-color="#fff300"/><stop offset="0.725" stop-color="#ffe000"/><stop offset="0.750" stop-color="#ffcd00"/><stop offset="0.775" stop-color="#ffba00"/><stop offset="0.800" stop-color="#ffa700"/><stop offset="0.825" stop-color="#ff9400"/><stop offset="0.850" stop-color="#ff8100"/><stop offset="0.875" stop-color="#ff6e00"/><stop offset="0.900" stop-color="#ff5b00"/><stop offset="0.925" stop-color="#ff4800"/><stop offset="0.950" stop-color="#ff3200"/><stop offset="0.975" stop-color="#ff1900"/><stop offset="1.000" stop-color="#ff0000"/></linearGradient>
<rect x="580.5" y="19.2" width="28.2" height="273.8" fill="url(#g580)"/>
<line x1="580.5" x2="608.7" y1="53.42" y2="53.42" stroke="#000" stroke-width="2"/>
<line x1="580.5" x2="608.7" y1="87.65" y2="87.65" stroke="#000" stroke-width="2"/>
<line x1="580.5" x2="608.7" y1="121.88" y2="121.88" stroke="#000" stroke-width="2"/>
<line x1="580.5" x2="608.7" y1="156.10" y2="156.10" stroke="#000" stroke-width="2"/>
<line x1="580.5" x2="608.7" y1="190.32" y2="190.32" stroke="#000" stroke-width="2"/>
<line x1="580.5" x2="608.7" y1="224.55" y2="224.55" stroke="#000" stroke-width="2"/>
<line x1="580.5" x2="608.7" y1="258.78" y2="258.78" stroke="#000" stroke-width="2"/>
<rect x="580.5" y="19.2" width="28.2" height="273.8" fill="none" stroke="#000" stroke-width="2"/>
<text class="sc" x="622.10" y="27.31" font-size="26.80">3.4</text>
<text class="sc" x="622.10" y="61.59" font-size="26.80">3.2</text>
<text class="sc" x="622.10" y="95.87" font-size="26.80">3</text>
<text class="sc" x="621.76" y="130.15" font-size="26.80">2.8</text>
<text class="sc" x="621.76" y="164.43" font-size="26.80">2.6</text>
<text class="sc" x="621.76" y="198.85" font-size="26.80">2.4</text>
<text class="sc" x="621.76" y="233.13" font-size="26.80">2.2</text>
<text class="sc" x="621.76" y="267.41" font-size="26.80">2</text>
<text class="sc" x="621.09" y="301.55" font-size="26.80">1.8</text>
<linearGradient id="g1356" x1="0" y1="0" x2="0" y2="1"><stop offset="0.000" stop-color="#040004"/><stop offset="0.025" stop-color="#22002a"/><stop offset="0.050" stop-color="#3f0050"/><stop offset="0.075" stop-color="#5d0078"/><stop offset="0.100" stop-color="#7c00a3"/><stop offset="0.125" stop-color="#9b00cd"/><stop offset="0.150" stop-color="#8a00d5"/><stop offset="0.175" stop-color="#7800dc"/><stop offset="0.200" stop-color="#6700e4"/><stop offset="0.225" stop-color="#5700ea"/><stop offset="0.250" stop-color="#4600f0"/><stop offset="0.275" stop-color="#2900f6"/><stop offset="0.300" stop-color="#0c00fc"/><stop offset="0.325" stop-color="#000fff"/><stop offset="0.350" stop-color="#0028ff"/><stop offset="0.375" stop-color="#0060ff"/><stop offset="0.400" stop-color="#009bff"/><stop offset="0.425" stop-color="#00daff"/><stop offset="0.450" stop-color="#00ffea"/><stop offset="0.475" stop-color="#00ffb6"/><stop offset="0.500" stop-color="#00ff82"/><stop offset="0.525" stop-color="#0bff54"/><stop offset="0.550" stop-color="#15ff25"/><stop offset="0.575" stop-color="#28ff00"/><stop offset="0.600" stop-color="#5aff00"/><stop offset="0.625" stop-color="#8cff00"/><stop offset="0.650" stop-color="#b9fd00"/><stop offset="0.675" stop-color="#e5fb00"/><stop offset="0.700" stop-color="#fff300"/><stop offset="0.725" stop-color="#ffe000"/><stop offset="0.750" stop-color="#ffcd00"/><stop offset="0.775" stop-color="#ffba00"/><stop offset="0.800" stop-color="#ffa700"/><stop offset="0.825" stop-color="#ff9400"/><stop offset="0.850" stop-color="#ff8100"/><stop offset="0.875" stop-color="#ff6e00"/><stop offset="0.900" stop-color="#ff5b00"/><stop offset="0.925" stop-color="#ff4800"/><stop offset="0.950" stop-color="#ff3200"/><stop offset="0.975" stop-color="#ff1900"/><stop offset="1.000" stop-color="#ff0000"/></linearGradient>
<rect x="1356.1" y="14.4" width="28.1" height="273.9" fill="url(#g1356)"/>
<line x1="1356.1" x2="1384.2" y1="44.83" y2="44.83" stroke="#000" stroke-width="2"/>
<line x1="1356.1" x2="1384.2" y1="75.27" y2="75.27" stroke="#000" stroke-width="2"/>
<line x1="1356.1" x2="1384.2" y1="105.70" y2="105.70" stroke="#000" stroke-width="2"/>
<line x1="1356.1" x2="1384.2" y1="136.13" y2="136.13" stroke="#000" stroke-width="2"/>
<line x1="1356.1" x2="1384.2" y1="166.57" y2="166.57" stroke="#000" stroke-width="2"/>
<line x1="1356.1" x2="1384.2" y1="197.00" y2="197.00" stroke="#000" stroke-width="2"/>
<line x1="1356.1" x2="1384.2" y1="227.43" y2="227.43" stroke="#000" stroke-width="2"/>
<line x1="1356.1" x2="1384.2" y1="257.87" y2="257.87" stroke="#000" stroke-width="2"/>
<rect x="1356.1" y="14.4" width="28.1" height="273.9" fill="none" stroke="#000" stroke-width="2"/>
<text class="sc" x="1399.19" y="20.41" font-size="26.80">3.4</text>
<text class="sc" x="1399.19" y="50.87" font-size="26.80">3.2</text>
<text class="sc" x="1399.19" y="81.33" font-size="26.80">3</text>
<text class="sc" x="1398.86" y="111.79" font-size="26.80">2.8</text>
<text class="sc" x="1398.86" y="142.25" font-size="26.80">2.6</text>
<text class="sc" x="1398.86" y="172.85" font-size="26.80">2.4</text>
<text class="sc" x="1398.86" y="203.31" font-size="26.80">2.2</text>
<text class="sc" x="1398.86" y="233.77" font-size="26.80">2</text>
<text class="sc" x="1398.19" y="264.09" font-size="26.80">1.8</text>
<text class="sc" x="1398.19" y="294.55" font-size="26.80">1.6</text>
<text class="se" transform="translate(718.45,279.23) rotate(-90)" font-size="48.28">CB-VB [eV]</text>
<text class="se" transform="translate(1490.63,267.63) rotate(-90)" font-size="48.24">CB-VB [eV]</text>
<rect x="283.8" y="616.7" width="426.2" height="527.3" fill="none" stroke="#000" stroke-width="1.4"/>
<path d="M346.9 1144.0v-10M346.9 616.7v10M425.9 1144.0v-10M425.9 616.7v10M504.8 1144.0v-10M504.8 616.7v10M583.7 1144.0v-10M583.7 616.7v10M662.6 1144.0v-10M662.6 616.7v10M283.8 1085.4h10M710.0 1085.4h-10M283.8 1026.8h10M710.0 1026.8h-10M283.8 968.2h10M710.0 968.2h-10M283.8 909.6h10M710.0 909.6h-10M283.8 851.1h10M710.0 851.1h-10M283.8 792.5h10M710.0 792.5h-10M283.8 733.9h10M710.0 733.9h-10M283.8 675.3h10M710.0 675.3h-10" stroke="#000" stroke-width="1.4" fill="none"/>
<rect x="898.4" y="617.2" width="426.2" height="527.4" fill="none" stroke="#000" stroke-width="1.4"/>
<path d="M916.9 1144.6v-10M916.9 617.2v10M1009.6 1144.6v-10M1009.6 617.2v10M1102.2 1144.6v-10M1102.2 617.2v10M1194.9 1144.6v-10M1194.9 617.2v10M1287.5 1144.6v-10M1287.5 617.2v10M898.4 1078.7h10M1324.6 1078.7h-10M898.4 1012.8h10M1324.6 1012.8h-10M898.4 946.8h10M1324.6 946.8h-10M898.4 880.9h10M1324.6 880.9h-10M898.4 815.0h10M1324.6 815.0h-10M898.4 749.0h10M1324.6 749.0h-10M898.4 683.1h10M1324.6 683.1h-10" stroke="#000" stroke-width="1.4" fill="none"/>
<path d="M284.0 1142.9 300.0 1142.4 310.7 1141.3 317.3 1139.3 321.3 1136.7 324.0 1132.7 326.7 1127.3 329.3 1122.9 333.3 1120.7 334.7 1118.9 337.3 1120.0 340.7 1116.7 344.0 1118.7 349.3 1114.7 352.7 1117.6 356.7 1114.0 360.0 1113.1 364.0 1114.9 367.3 1112.0 373.3 1110.4 378.0 1111.3 381.3 1109.3 386.0 1106.3 390.7 1110.7 394.0 1105.3 398.0 1102.0 404.0 1107.7 408.7 1096.3 417.3 1102.9 422.7 1088.7 426.7 1095.3 430.7 1094.1 436.7 1081.6 440.7 1086.4 442.7 1080.0 446.7 1077.3 450.0 1068.7 453.3 1060.5 457.6 1035.7 460.7 1011.7 463.1 963.8 464.8 903.8 466.0 831.9 466.6 767.8 467.2 723.0 467.9 691.1 468.9 678.3 470.1 657.9 471.1 678.3 473.0 697.5 475.6 719.2 478.7 744.8 482.3 767.8 485.8 761.4 488.3 746.0 490.9 741.0 493.4 729.4 495.4 710.3 497.9 663.0 499.8 664.3 503.7 688.5 507.5 719.2 510.0 742.2 512.3 755.0 514.5 751.2 517.1 738.4 520.7 729.4 522.2 714.1 524.7 680.9 526.7 670.0 528.6 674.5 531.8 709.0 534.3 739.7 536.9 774.1 540.5 794.0 543.2 815.1 545.5 830.9 549.0 835.9 552.0 857.3 553.7 863.4 558.1 869.6 561.3 886.3 563.4 889.8 566.0 895.9 568.3 896.8 571.3 911.7 573.9 912.6 576.5 917.0 580.6 929.3 583.6 930.7 588.0 939.0 591.5 949.5 594.6 945.1 597.6 959.2 600.8 959.2 602.4 964.4 605.5 963.6 609.0 975.9 612.9 971.5 616.4 985.5 621.0 975.0 624.9 988.2 629.0 970.6 631.9 991.9 636.4 1008.5 639.4 1032.8 643.2 1051.0 645.5 1078.3 648.5 1105.6 652.3 1120.8 657.6 1131.4 666.7 1136.7 683.4 1140.5 709.2 1142.0" fill="none" stroke="#f00" stroke-width="2.6" stroke-linejoin="round" stroke-linecap="round"/>
<path d="M898.6 1143.4 916.5 1142.7 923.7 1142.0 929.4 1140.5 933.7 1137.0 938.0 1131.9 943.7 1128.3 948.0 1127.6 952.3 1126.2 955.2 1127.2 959.5 1125.0 963.8 1126.2 968.1 1124.0 973.8 1124.0 981.0 1122.3 988.2 1121.9 995.3 1119.0 1001.1 1121.6 1008.2 1116.2 1014.0 1119.3 1019.0 1113.6 1026.1 1116.9 1031.9 1110.4 1036.9 1112.6 1045.5 1107.1 1048.4 1108.6 1054.1 1106.1 1059.8 1101.8 1068.4 1100.7 1073.4 1093.2 1078.5 1092.5 1081.3 1088.9 1084.9 1079.9 1089.2 1076.0 1091.4 1070.3 1093.5 1058.8 1095.5 1035.0 1097.3 1012.0 1098.4 1000.4 1101.2 971.9 1104.0 943.9 1109.6 913.1 1113.8 879.5 1118.0 840.3 1120.8 795.5 1123.6 748.0 1126.4 706.0 1128.6 678.0 1131.4 669.6 1134.2 675.2 1136.2 700.4 1139.0 748.0 1143.2 795.5 1148.8 843.1 1157.2 890.7 1165.6 918.7 1174.0 943.9 1180.0 957.2 1183.2 962.0 1187.2 973.2 1190.4 976.4 1196.0 989.9 1200.8 993.9 1205.6 1005.9 1208.8 1005.6 1213.5 1014.7 1217.5 1012.6 1222.3 1020.3 1226.3 1014.7 1231.4 1033.1 1235.9 1025.9 1240.7 1037.5 1244.7 1036.6 1248.7 1042.7 1253.5 1074.6 1259.1 1090.6 1263.9 1109.7 1268.7 1124.9 1274.2 1133.7 1283.8 1138.5 1299.8 1140.9 1323.8 1142.5" fill="none" stroke="#f00" stroke-width="1.1" stroke-linejoin="round" stroke-linecap="round"/>
<text class="sb" x="252.25" y="1155.19" font-size="34.30">0</text>
<text class="sb" x="223.95" y="1096.60" font-size="34.30">0.1</text>
<text class="sb" x="224.04" y="1038.01" font-size="34.30">0.2</text>
<text class="sb" x="223.78" y="979.42" font-size="34.30">0.3</text>
<text class="sb" x="223.27" y="920.84" font-size="34.30">0.4</text>
<text class="sb" x="223.69" y="862.25" font-size="34.30">0.5</text>
<text class="sb" x="223.78" y="803.66" font-size="34.30">0.6</text>
<text class="sb" x="224.04" y="745.07" font-size="34.30">0.7</text>
<text class="sb" x="223.78" y="686.48" font-size="34.30">0.8</text>
<text class="sb" x="223.87" y="627.89" font-size="34.30">0.9</text>
<text class="sb" x="339.91" y="1183.51" font-size="34.30" textLength="19.92" lengthAdjust="spacingAndGlyphs">2</text>
<text class="sb" x="405.85" y="1183.34" font-size="34.30" textLength="45.88" lengthAdjust="spacingAndGlyphs">2.5</text>
<text class="sb" x="498.40" y="1183.34" font-size="34.30" textLength="19.32" lengthAdjust="spacingAndGlyphs">3</text>
<text class="sb" x="563.76" y="1183.34" font-size="34.30" textLength="45.86" lengthAdjust="spacingAndGlyphs">3.5</text>
<text class="sb" x="656.33" y="1183.34" font-size="34.30" textLength="18.94" lengthAdjust="spacingAndGlyphs">4</text>
<text class="sb" x="866.25" y="1155.19" font-size="34.30">0</text>
<text class="sb" x="838.04" y="1089.27" font-size="34.30">0.2</text>
<text class="sb" x="837.27" y="1023.34" font-size="34.30">0.4</text>
<text class="sb" x="837.78" y="957.42" font-size="34.30">0.6</text>
<text class="sb" x="837.78" y="891.49" font-size="34.30">0.8</text>
<text class="sb" x="866.59" y="825.57" font-size="34.30">1</text>
<text class="sb" x="838.04" y="759.81" font-size="34.30">1.2</text>
<text class="sb" x="837.27" y="693.72" font-size="34.30">1.4</text>
<text class="sb" x="837.78" y="627.79" font-size="34.30">1.6</text>
<text class="sb" x="898.90" y="1183.37" font-size="34.30" textLength="46.34" lengthAdjust="spacingAndGlyphs">1.5</text>
<text class="sb" x="1005.12" y="1183.71" font-size="34.30" textLength="18.70" lengthAdjust="spacingAndGlyphs">2</text>
<text class="sb" x="1084.37" y="1183.54" font-size="34.30" textLength="45.45" lengthAdjust="spacingAndGlyphs">2.5</text>
<text class="sb" x="1190.51" y="1183.54" font-size="34.30" textLength="19.20" lengthAdjust="spacingAndGlyphs">3</text>
<text class="sb" x="1270.28" y="1183.54" font-size="34.30" textLength="45.33" lengthAdjust="spacingAndGlyphs">3.5</text>
<text class="sb" x="315.15" y="692.03" font-size="48.04">c)</text>
<text class="sb" x="934.44" y="699.18" font-size="47.83" textLength="43.18" lengthAdjust="spacingAndGlyphs">d)</text>
<text class="se" x="302.50" y="1053.37" font-size="55.65" textLength="85.11" lengthAdjust="spacingAndGlyphs">WS</text>
<text class="se" x="387.37" y="1062.20" font-size="35.77" textLength="20.38" lengthAdjust="spacingAndGlyphs">2</text>
<text class="se" x="925.60" y="1069.63" font-size="57.71">WSe</text>
<text class="se" x="1038.48" y="1078.40" font-size="37.43" textLength="20.25" lengthAdjust="spacingAndGlyphs">2</text>
<text class="sc" transform="translate(190.53,1086.52) rotate(-90)" font-size="49.00" textLength="411.85" lengthAdjust="spacingAndGlyphs">Optical DOS [1/eV]</text>
<text class="sc" transform="translate(803.12,1087.83) rotate(-90)" font-size="49.00">Optical DOS [1/eV]</text>
<text class="sb" x="433.88" y="1242.83" font-size="45.70" textLength="122.73" lengthAdjust="spacingAndGlyphs">E [eV]</text>
<text class="sb" x="1051.54" y="1242.63" font-size="45.70">E [eV]</text>
</svg>
</body></html>
